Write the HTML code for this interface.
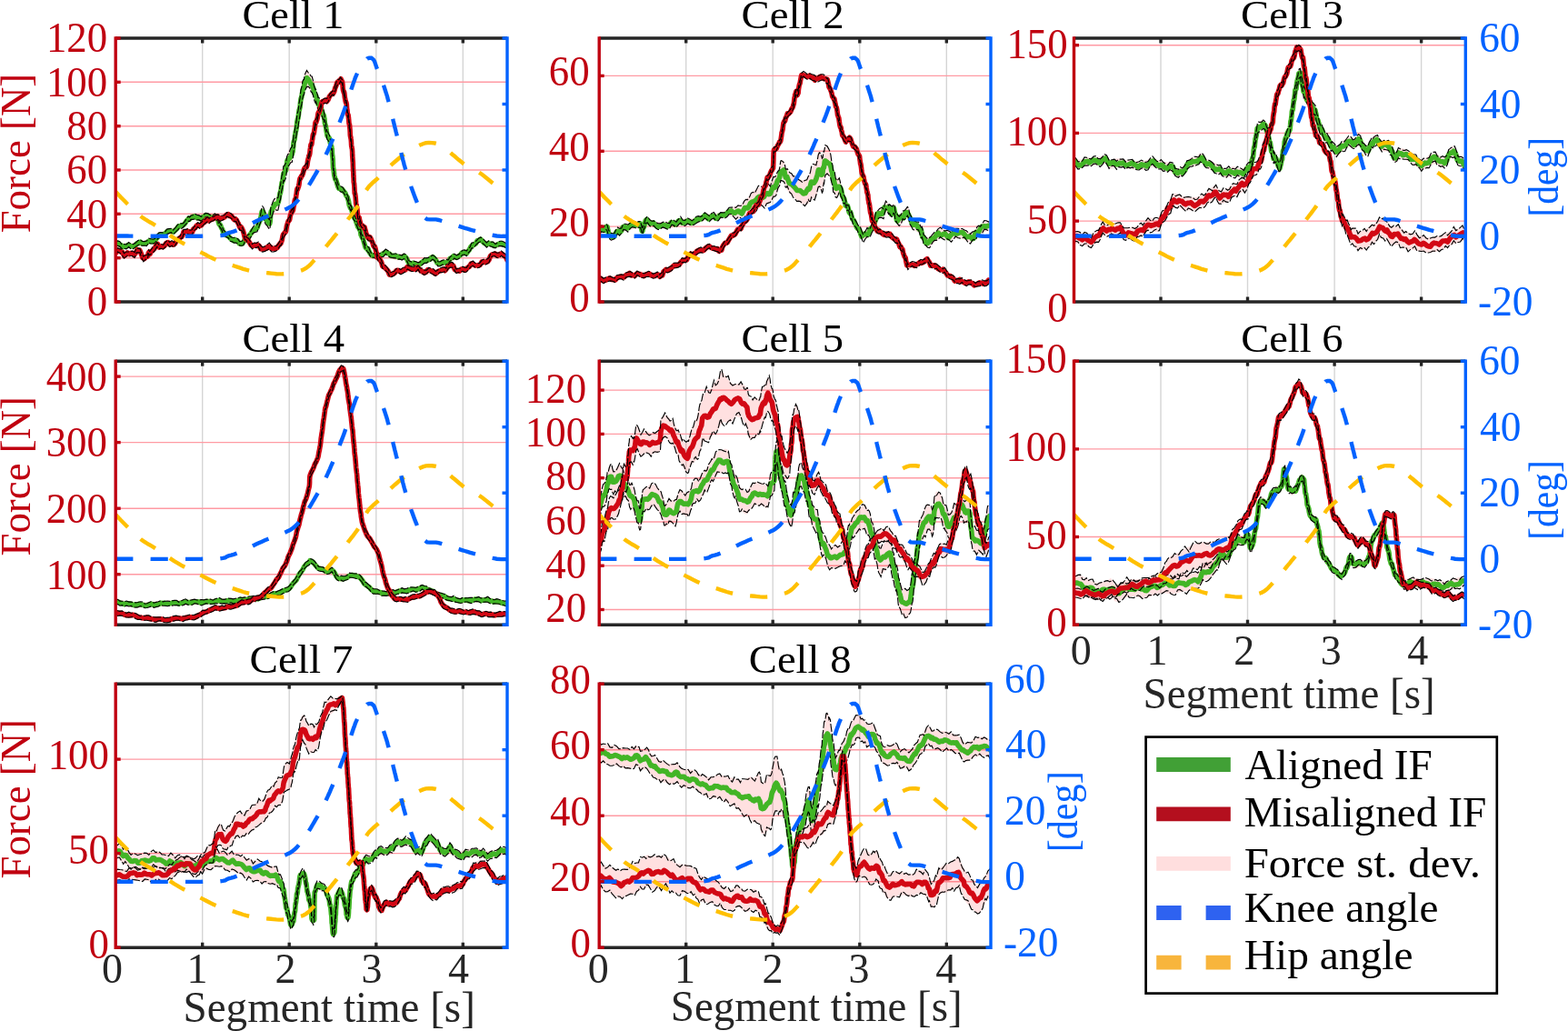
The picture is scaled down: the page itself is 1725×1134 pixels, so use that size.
<!DOCTYPE html>
<html><head><meta charset="utf-8"><title>Cells</title>
<style>html,body{margin:0;padding:0;background:#fff;}body{width:1725px;height:1134px;position:relative;overflow:hidden;}</style>
</head><body>
<svg width="1725" height="1134" viewBox="0 0 1725 1134" style="position:absolute;left:0;top:0">
<rect width="1725" height="1134" fill="#fff"/>
<defs>
<clipPath id="c1"><rect x="127.2" y="42.0" width="430.8" height="290.0"/></clipPath>
<clipPath id="c2"><rect x="659.2" y="42.0" width="430.8" height="290.0"/></clipPath>
<clipPath id="c3"><rect x="1181.5" y="42.0" width="430.8" height="290.0"/></clipPath>
<clipPath id="c4"><rect x="127.2" y="397.2" width="430.8" height="290.0"/></clipPath>
<clipPath id="c5"><rect x="659.2" y="397.2" width="430.8" height="290.0"/></clipPath>
<clipPath id="c6"><rect x="1181.5" y="397.2" width="430.8" height="290.0"/></clipPath>
<clipPath id="c7"><rect x="127.2" y="752.2" width="430.8" height="290.0"/></clipPath>
<clipPath id="c8"><rect x="659.2" y="752.2" width="430.8" height="290.0"/></clipPath>
</defs>
<g clip-path="url(#c1)">
<line x1="222.7" y1="42.0" x2="222.7" y2="332.0" stroke="#D5D5D5" stroke-width="1.4"/>
<line x1="318.2" y1="42.0" x2="318.2" y2="332.0" stroke="#D5D5D5" stroke-width="1.4"/>
<line x1="413.8" y1="42.0" x2="413.8" y2="332.0" stroke="#D5D5D5" stroke-width="1.4"/>
<line x1="509.3" y1="42.0" x2="509.3" y2="332.0" stroke="#D5D5D5" stroke-width="1.4"/>
<line x1="127.2" y1="283.7" x2="558.0" y2="283.7" stroke="#FF9AA3" stroke-width="1.4"/>
<line x1="127.2" y1="235.3" x2="558.0" y2="235.3" stroke="#FF9AA3" stroke-width="1.4"/>
<line x1="127.2" y1="187.0" x2="558.0" y2="187.0" stroke="#FF9AA3" stroke-width="1.4"/>
<line x1="127.2" y1="138.7" x2="558.0" y2="138.7" stroke="#FF9AA3" stroke-width="1.4"/>
<line x1="127.2" y1="90.3" x2="558.0" y2="90.3" stroke="#FF9AA3" stroke-width="1.4"/>
<path d="M127,265.1l3.8,1.3 3.9,.9 3.9,.3 4-.5 3.9-.7 4-.8 3.9-.7 3.9-.6 4-.7 3.8-1.2 3.5-1.9 3.4-2.2 3.3-2.2 3.5-1.8 3.8-1.5 3.7-1.4 3.7-1.5 3.6-1.8 3.5-2 3.4-2.1 3.2-2.3 2.7-3 2.3-3.3 3.3-.5 3.5,1.8 4-.3 3.9-.6 4-.5 4-.5 3.9,.1 3,2.3 1.2,3.7 1.2,3.8 1.8,3.6 2.3,3.3 2.6,3 3.1,2.5 3.4,2 3.3,2.3 3.2,2.5 3.6,.8 3.2-2.3 2.5-3.2 2.5-3.4 2.9-3.1 3.2-2.8 2.6-3.4 2-3.7 1.5-3.8 1-4 1-4 1.7-2.5 2,3.2 1.4,3.5 1.8,3.4 2.4-.2 .6-4 .4-4.1 .6-4 1.6-3.8 2.6-3.3 2.6-3.4 1.4-3.8 1-3.9 .9-4 .8-4 .7-3.9 .6-4 .6-4 .7-4 1.7-3.7 1.3-3.8 .7-4 .7-4 1.5-3.6 3.2-2.5 .9-3.9 .6-4 .5-4 .6-4 .7-4 .7-4 .6-4 .7-4 .6-3.9 .7-4 .6-4 .7-4 .6-4 .7-4 .6-4 .8-3.9 .7-4 .8-4 .8-3.9 1-4 1.4-3.8 3-1 2.2,3.7 1.8,3.9 1.7,3.9 1.4,4 1.2,4 1.2,4 1.3,4 1.6,4.1 2.1,4 1.5,4 1.1,4.2 .7,4.1 .6,4.1 .7,4.1 .7,4.2 1.1,4.1 1.5,4.1 1.4,4.1 1,4.2 .7,4.1 .6,4 .5,4 .3,4 .2,4 .2,4 .3,4 .6,4 .9,3.9 1.2,3.9 1.4,3.8 1.9,3.5 2.4,3.3 3.1,2.6 2.5,3 1.4,3.7 1.3,3.8 1.3,3.8 1.2,3.8 1.2,3.8 1.3,3.8 1.6,3.7 1.9,3.5 1.8,3.6 1.4,3.7 1.3,3.8 1.1,3.8 1.3,3.8 1.5,3.7 1.7,3.6 1.9,3.5 2.2,3.4 2.6,3.1 3.2,2.2 3.8-.5 3.2-2.4 3.7-1.2 3.9,.2 3.6,1.6 3.1,2.5 3.7,.8 3.8-1.2 3.6-.2 2.8,2.7 2.5,3.2 2.8,2.8 3.7,.7 3.8-.9 3.8-1.4 3.5-1.9 3.3-2.2 3.9-1.2 3.5,1.9 3,2.5 3.5,2 3.8-.9 3.4-2.1 3.4-2.1 3.8-1.4 3.8-1.3 3.6-1.6 3.5-2 3.4-2.1 3.1-2.4 2.9-2.8 2.7-3 3.2-2.4 3.6-1.4 3.7,1.1 3.4,2.1 3.8,1.1 3.9,.5 4,.1 4-.3 4-.6 3-.4 0,6.2 -3,.4 -4,.6 -4,.3 -4-.1 -3.9-.5 -3.8-1.1 -3.4-2.1 -3.7-1.1 -3.6,1.4 -3.2,2.4 -2.7,3 -2.9,2.8 -3.1,2.4 -3.4,2.1 -3.5,2 -3.6,1.6 -3.8,1.3 -3.8,1.4 -3.4,2.1 -3.4,2.1 -3.8,.9 -3.5-2 -3-2.5 -3.5-1.9 -3.9,1.2 -3.3,2.2 -3.5,1.9 -3.8,1.4 -3.8,.9 -3.7-.7 -2.8-2.8 -2.5-3.2 -2.8-2.7 -3.6,.2 -3.8,1.2 -3.7-.8 -3.1-2.5 -3.6-1.6 -3.9-.2 -3.7,1.2 -3.2,2.4 -3.8,.5 -3.2-2.2 -2.6-3.1 -2.2-3.4 -1.9-3.5 -1.7-3.6 -1.5-3.7 -1.3-3.8 -1.1-3.8 -1.3-3.8 -1.4-3.7 -1.8-3.6 -1.9-3.5 -1.6-3.7 -1.3-3.8 -1.2-3.8 -1.2-3.8 -1.3-3.8 -1.3-3.8 -1.4-3.7 -2.5-2.9 -3.1-2.3 -2.4-3.2 -1.9-3.4 -1.4-3.7 -1.2-3.8 -.9-3.9 -.6-3.9 -.3-4 -.2-4 -.2-4 -.3-3.9 -.5-4 -.6-3.8 -.7-3.8 -1-3.6 -1.4-3.4 -1.5-3.3 -1.1-3.5 -.7-3.8 -.7-3.7 -.6-3.8 -.7-3.8 -1.1-3.5 -1.5-3.3 -2.1-2.9 -1.6-3.2 -1.3-3.5 -1.2-3.7 -1.2-3.6 -1.4-3.5 -1.7-3.4 -1.8-3.2 -2.2-3 -3,1.2 -1.4,3.6 -1,3.8 -.8,3.9 -.8,3.9 -.7,3.9 -.8,3.9 -.6,3.9 -.7,3.9 -.6,3.9 -.7,3.9 -.6,3.9 -.7,3.9 -.6,3.9 -.7,3.9 -.6,3.9 -.7,3.9 -.7,3.9 -.6,3.9 -.5,4 -.6,3.9 -.9,3.8 -3.2,2.1 -1.5,3.5 -.7,3.9 -.7,3.9 -1.3,3.6 -1.7,3.5 -.7,3.9 -.6,3.9 -.6,3.9 -.7,3.9 -.8,3.9 -.9,3.9 -1,3.8 -1.4,3.6 -2.6,2.7 -2.6,2.6 -1.6,3.4 -.6,3.9 -.4,3.9 -.6,3.9 -2.4-.5 -1.8-3.8 -1.4-3.9 -2-3.7 -1.7,2 -1,3.8 -1,3.7 -1.5,3.5 -2,3.2 -2.6,2.7 -3.2,2.1 -2.9,2.3 -2.5,2.8 -2.5,3 -3.2,2.3 -3.6-.8 -3.2-2.5 -3.3-2.3 -3.4-2 -3.1-2.5 -2.6-3 -2.3-3.3 -1.8-3.6 -1.2-3.8 -1.2-3.7 -3-2.3 -3.9-.1 -4,.5 -4,.5 -3.9,.6 -4,.3 -3.5-1.8 -3.3,.5 -2.3,3.3 -2.7,3 -3.2,2.3 -3.4,2.1 -3.5,2 -3.6,1.8 -3.7,1.5 -3.7,1.4 -3.8,1.5 -3.5,1.8 -3.3,2.2 -3.4,2.2 -3.5,1.9 -3.8,1.2 -4,.7 -3.9,.6 -3.9,.7 -4,.8 -3.9,.7 -4,.5 -3.9-.3 -3.9-.9 -3.8-1.3Z" fill="#FF0000" fill-opacity="0.12" stroke="none"/>
<path d="M127,276.7l3.7-1.5 3.9-1 3.7,1.2 3.9,1.2 3.5-1.5 3.6-1.8 3.2,1.5 2.7,3 3.6,1.7 3.5-.9 1.9-3.5 1.7-3.6 3.8-1.1 3.9-1 3.7-1.4 3.7-1.5 3.8-1.3 3.8-1.2 3.9-1 3.7-1.5 2.6-3 2-3.4 3-2.3 3.8-1.3 3.7-1.5 3.3-2.3 3.3-2.2 3.6-1.7 3.6-1.9 3-2.6 3.2-2.3 3.9-.6 4,.2 4-.3 3.9-.6 3.9-1 3.9-.6 3,2.6 2.4,3.2 2.2,3.3 2,3.5 1.8,3.6 1.8,3.6 1.8,3.5 2.1,3.4 2.5,3.1 3.4,2 3.7,1.5 3.5,1.8 3.8,.4 4-.7 3.9-.4 4,0 4-.1 3.4-1.7 1.2-3.8 .9-3.9 1.4-3.7 1.5-3.6 1.5-3.6 1.4-3.7 1.3-3.7 1.3-3.7 1.2-3.8 1.3-3.8 1.2-3.8 1.1-3.8 1.1-3.9 .9-3.9 .7-3.9 .8-3.9 .9-3.9 1.1-3.9 1.1-3.8 1.4-3.8 1.8-3.5 1.9-3.6 1.6-3.6 1.2-3.8 1-3.9 .9-3.9 .9-3.9 .7-3.9 .8-4 .7-3.9 .8-3.9 .8-3.9 .9-3.9 .9-3.9 .9-3.9 .9-3.9 1.1-3.9 1-3.8 1.2-3.9 1.3-3.8 2.1-3.3 3.1-2.5 3-2.6 2.4-3.2 2.2-3.4 2.1-3.3 2-3.5 1.7-3.6 1.9-3.5 2.6,.9 1,3.9 .6,3.9 .7,4 .7,3.9 .8,3.9 .8,3.9 .8,4 .7,3.9 .6,4 .6,3.9 .5,4 .5,4 .5,3.9 .4,4 .5,4 .4,4 .4,3.9 .4,4 .4,4 .4,4 .3,4 .2,4 .2,4 .2,3.9 .1,4 .2,4 .3,4 .3,4 .3,4 .3,4 .4,4 .4,4 .5,3.9 .6,4 .5,3.9 .7,4 .7,3.9 .8,3.9 1,3.9 2,3.5 2.5,3 1.8,3.6 1.8,3.6 2,3.4 2.3,3.3 2,3.4 1.6,3.7 1.4,3.7 1.5,3.8 1.6,3.6 1.7,3.6 1.9,3.6 1.9,3.5 2.2,3.3 3,2.6 3.6,1.5 3.9-.6 3.6-1.6 4-.7 3.9-.4 3.9-.8 3.8-1.4 3.8-.3 3.6,1.7 3.6,1.8 3.9,.8 4,.4 4,0 3.9-.3 4-.8 3.5-1.8 3.4-2.1 3.8-1.4 3.7,1.4 3.2,2.3 3.7,1.4 3.8-1.4 3.3-2.1 3.6-1.7 4-.6 4-.3 3.8-1.1 3.6-1.7 3.3-2.3 3-2.7 3.1-2.4 3.7-1.5 3.9-.3 3.9,1.1 3.6,1.7 2.3,1.1 0,6.2 -2.3-1.1 -3.6-1.7 -3.9-1.1 -3.9,.3 -3.7,1.5 -3.1,2.4 -3,2.7 -3.3,2.3 -3.6,1.7 -3.8,1.1 -4,.3 -4,.6 -3.6,1.7 -3.3,2.1 -3.8,1.4 -3.7-1.4 -3.2-2.3 -3.7-1.4 -3.8,1.4 -3.4,2.1 -3.5,1.8 -4,.8 -3.9,.3 -4,0 -4-.4 -3.9-.8 -3.6-1.8 -3.6-1.7 -3.8,.3 -3.8,1.4 -3.9,.8 -3.9,.4 -4,.7 -3.6,1.6 -3.9,.6 -3.6-1.5 -3-2.6 -2.2-3.3 -1.9-3.5 -1.9-3.6 -1.7-3.6 -1.6-3.6 -1.5-3.8 -1.4-3.7 -1.6-3.7 -2-3.4 -2.3-3.3 -2-3.4 -1.8-3.6 -1.8-3.6 -2.5-3 -2-3.5 -1-3.9 -.8-3.9 -.7-3.9 -.7-4 -.5-3.9 -.6-4 -.5-3.9 -.4-4 -.4-4 -.3-4 -.3-4 -.3-4 -.3-4 -.2-4 -.1-4 -.2-3.9 -.2-4 -.2-4 -.3-4 -.4-4 -.4-4 -.4-4 -.4-3.9 -.4-4 -.5-4 -.4-4 -.5-3.9 -.5-4 -.5-4 -.6-3.9 -.6-4 -.7-3.9 -.8-4 -.8-3.9 -.8-3.9 -.7-3.9 -.7-4 -.6-3.9 -1-3.9 -2.6-.9 -1.9,3.5 -1.7,3.6 -2,3.5 -2.1,3.3 -2.2,3.4 -2.4,3.2 -3,2.6 -3.1,2.5 -2.1,3.3 -1.3,3.8 -1.2,3.9 -1,3.8 -1.1,3.9 -.9,3.9 -.9,3.9 -.9,3.9 -.9,3.9 -.8,3.9 -.8,3.9 -.7,3.9 -.8,4 -.7,3.9 -.9,3.9 -.9,3.9 -1,3.9 -1.2,3.8 -1.6,3.6 -1.9,3.6 -1.8,3.5 -1.4,3.8 -1.1,3.8 -1.1,3.9 -.9,3.9 -.8,3.9 -.7,3.9 -.9,3.9 -1.1,3.9 -1.1,3.8 -1.2,3.8 -1.3,3.8 -1.2,3.9 -1.3,3.8 -1.3,3.9 -1.4,3.8 -1.5,3.8 -1.5,3.8 -1.4,3.8 -.9,3.9 -1.2,3.8 -3.4,1.7 -4,.1 -4,0 -3.9,.4 -4,.6 -3.8-.8 -3.5-2.1 -3.7-1.7 -3.4-2 -2.5-3.1 -2.1-3.4 -1.8-3.5 -1.8-3.6 -1.8-3.6 -2-3.5 -2.2-3.3 -2.4-3.2 -3-2.6 -3.9,.6 -3.9,1 -3.9,.6 -4,.3 -4-.2 -3.9,.6 -3.2,2.3 -3,2.6 -3.6,1.9 -3.6,1.7 -3.3,2.2 -3.3,2.3 -3.7,1.5 -3.8,1.3 -3,2.3 -2,3.4 -2.6,3 -3.7,1.5 -3.9,1 -3.8,1.2 -3.8,1.3 -3.7,1.5 -3.7,1.4 -3.9,1 -3.8,1.1 -1.7,3.6 -1.9,3.5 -3.5,.9 -3.6-1.7 -2.7-3 -3.2-1.5 -3.6,1.8 -3.5,1.5 -3.9-1.2 -3.7-1.2 -3.9,1 -3.7,1.5Z" fill="#FF0000" fill-opacity="0.12" stroke="none"/>
<path d="M127,267.6l1.9-.8 1.9,1.9 1.9,.6 2,2.6 1.9-1.2 2,.3 2-1.5 2,.6 2,.9 1.9-.2 2-.2 2-2.9 1.9-.3 2-1.2 2,1.7 1.9-.1 2-.3 2-1.1 1.9-1.6 1.9,.8 1.8-.5 1.7,.7 1.7-2.4 1.7-1.9 1.6-2.4 1.7-1.1 1.8,.4 1.7-.8 1.9-.4 1.9-2.4 1.8-.6 1.9-.4 1.9,.8 1.8,.3 1.8-1.7 1.8-1.6 1.7-2.7 1.8-.2 1.7-.7 1.7-.2 1.6-1.5 1.6-2.6 1.3-1.5 1.4-1.7 1.1,.7 1.2-1.5 1.4-.8 1.9-.8 1.7,0 1.8,1.3 2,0 2,1.4 1.9-1.9 2-.4 2-1.9 2,.8 2,1 2,.7 2,.4 1.9-1.8 1.9,1 1.1,.4 .8,3.9 .4,1.7 .6,1.9 .6,.6 .8,.4 1,2.9 1.1,1.7 1.2,4.2 1.3,.3 1.3,1.8 1.5-.4 1.6,1.8 1.7,2.1 1.7,1.2 1.7,1.5 1.6-1.3 1.6,1.4 1.6,.1 1.8,3 1.8,.5 1.8-.7 1.4-1.8 1.3-3 1.2-.4 1.3-1.6 1.2,.4 1.3-2.7 1.6-1.9 1.6-2.7 1.6-1.6 1.3,0 1.3-1.2 1.1-.6 .9-3.4 .9-1.8 .6-2.2 .6-.5 .4-.8 .5-2.5 .5-2.6 .7-3.9 1-.4 1.1,2.3 .9,2.4 .7,3.1 .7,.6 .9,1.5 .9,1.1 1.5,2.2 .9,.3 .4-1.8 .2-1.5 .2-3.8 .2-2.8 .3-2.1 .3-1.4 .5-.6 1.1-2.8 1.1-1.6 1.5-3 1.4-.2 1.2-.7 .8-.6 .6-1.7 .6-3.7 .4-2 .5-3.3 .4,.1 .4-2.4 .4-1.4 .3-3.6 .4-2.7 .3-1.2 .3-1.5 .3,.4 .3-3.2 .3-1.6 .4-4.2 .8-.9 .9-1.5 .9-1.1 .4-1.8 .4-4.2 .3-1.7 .4-3.1 .3,.7 .5-1.9 1-.7 1.7-2 1.5-2.5 .5-1.1 .4-2.2 .3,0 .3-3.5 .3-2.2 .2-3.9 .3-1.6 .3-.9 .4-1.1 .3-1 .3-3.6 .4-1.8 .3-2.8 .3-.3 .3-1.6 .4-2 .3-3.1 .3-3.8 .4-1.4 .3-1.8 .3,0 .3-2.4 .4-2.3 .3-2.9 .3-1.9 .3-.5 .3-1.6 .4-1.4 .3-3.9 .3-2.8 .4-2.5 .4-1.1 .3-.6 .4-2.4 .4-2 .4-3.6 .4-.9 .4-1.3 .5-.6 .5-1.9 .6-3.5 .8-2.4 1.3-2.6 1.7,1.7 1.2,2 1,2.2 .9,1.2 .9,.3 .8,2.7 .9,1.8 .7,4.5 .7,1.1 .6,2 .6,0 .6,1.5 .6,2.7 .6,2.1 .7,3.1 .7-.3 .9,2.1 1,.4 1.1,3.8 .8,2.6 .7,2.5 .6,1.6 .5-.1 .4,2.6 .3,1.2 .3,4.2 .3,.9 .4,1.9 .3,.3 .3,1.8 .4,3.4 .5,2.6 .6,3.6 .6,0 .9,2 .7,.4 .7,3.3 .5,2.4 .5,2 .3,1.4 .4-.1 .3,2.5 .3,1.9 .2,4.3 .3,1.9 .2,1.9 .1,.9 .1,1.5 .1,3.3 .1,2.2 .1,2.9 .1,.2 .2,1.2 .3,1.1 .3,2.8 .4,3.5 .5,2 .5,2.1 .7,.3 .7,2.3 .7,2.3 .9,3.1 1,2 1.1,.3 1.3,.7 1.3,0 1.8,2.4 1.5,1.7 1,2.8 .8,1.1 .6,.8 .7,2.3 .6,2 .7,4.2 .6,1.2 .6,2 .6-.3 .6,1.5 .6,2.4 .7,2.5 .6,3.2 .8,.2 .8,2.1 .9,.3 1,3.9 .9,2.3 .9,2.7 .7,1.2 .7-.1 .6,2.2 .7,1 .5,4.3 .6,.9 .7,2.3 .6,.1 .7,1.9 .8,3 .8,2.7 .9,3.4 .9-.1 1,1.9 1.1-.3 1.1,3.1 1.2,1.9 1.4,1.9 1.5,.7 1.7-.9 2,.8 1.8-1 1.6,1.4 1.6-1.3 1.7-.7 2-1.6 2-1 1.9,1.3 1.9,.6 1.7,2.4 1.6-.4 1.5,.6 1.8-.2 1.9,.5 1.9,1.1 1.9-.2 1.8,0 1.8-1.2 1.5,1 1.3,1.5 1.3,2.6 1.2,2.5 1.1,.5 1.7,.4 1.7-.8 2,.7 1.9,.4 1.9,.7 1.9-.4 1.9-2 1.8-1 1.7-1.4 1.7,.7 1.6-1 1.9-.7 2-2 1.8-.7 1.7,1.8 1.5,1.5 1.5,3.3 1.6,.2 1.9,.8 1.9-1.5 1.9-.1 1.7,.4 1.7-.8 1.7-.3 1.7-3.6 1.9-.7 1.9-2 1.9,1.2 1.9-.2 1.8-.8 1.8-1.2 1.8-2.5 1.7,.5 1.7-1.1 1.7,1.3 1.6-2.5 1.5-1.6 1.5-3.1 1.4-1.6 1.3-.2 1.4-1.5 1.5-.3 1.7-3.4 1.7-.4 1.9-1.2 1.9,2.1 1.8,2 1.7,.8 1.7,.8 1.8-1.5 2,1.3 1.9-.2 2,2.1 2-.9 2-.6 2-1.1 2-.3 2,1.7 2,.2 2,.9 1-.9" fill="none" stroke="#42B526" stroke-width="5.6" stroke-linejoin="round"/>
<path d="M127,265.1l2.4,0 2.3,.4 2.5,3.6 2.4-.4 2.5,.3 2.5-2.4 2.5,1.6 2.4,.4 2.5-1.3 2.4-2.5 2.5-1.5 2.5,2.2 2.4,.1 2.5-.6 2.4-2.8 2.4,.5 2.2,.5 2.2-.6 2-3.8 2.1-2.7 2.1-.6 2.2,.4 2.3-.3 2.4-3.5 2.3-.5 2.4-.2 2.2,1.5 2.3-2.3 2.2-3 2.2-1.7 2.2,0 2.1-.2 2-2.4 1.9-3 1.7-2.4 1.4,1.1 1.5-1.7 2-.5 2.3-1.6 2.2,1.1 2.5,.6 2.5,1.4 2.4-2.2 2.5-1.7 2.5,.5 2.5,1.5 2.5,1.1 2.4-2.6 2.2,1.2 1.3,1.2 .6,4.8 .7,1.7 .8,1.5 1.1,1.6 1.3,2.2 1.5,4.2 1.6,.9 1.7,2.4 2-.2 2.1,3.9 2.2,.9 2,.3 2,0 2,1 2.2,3.2 2.3-.4 1.9-1.3 1.7-4.1 1.5-.3 1.6-1.2 1.6-1 1.9-3.5 2-3.8 1.9-2.4 1.6-.7 1.4-.1 1.2-4.1 .9-2.6 .7-2.6 .6-.5 .6-3.2 .6-3.7 1.2-3.4 1.4,2.1 1,3.3 .9,2.9 1.1,2 1.1,2.1 2,2.4 .6-1.8 .3-2.2 .3-5.1 .3-2.9 .3-2.7 .6-.6 1.2-3.5 1.5-3.3 1.9-2.1 1.5,.5 1.1-.6 .8-4 .6-3.4 .6-4.6 .5-.8 .5-3.4 .4-2.7 .5-4 .4-1.8 .4-.2 .3-2.6 .4-2.3 .5-4.8 1-.1 1.1-2.4 .8-1.1 .5-4.1 .4-2.9 .4-.7 .6-1.5 1.1-1 2.1-5.9 1.4-1.3 .5-2.8 .4-.2 .4-4.1 .3-3.2 .4-3 .3-1.1 .5-.8 .4-3.8 .4-2.7 .4-3.3 .4,0 .4-2.8 .4-3.2 .4-4.5 .4-2 .4-.9 .5-2.1 .4-3 .3-4 .4-1.4 .4-2.4 .5-2.5 .4-5.3 .4-3.1 .5-2.2 .4-1.1 .5-2.7 .5-3.5 .5-1.4 .5-.9 .6-.2 .6-4.1 1-2.9 1.5-3.1 2,3.1 1.4,1.1 1.2,2.1 1.1,.3 1.1,4 .9,5.2 .9,3 .8,2.5 .7-.4 .8,3.2 .7,2 .9,3.9 1,.1 1.1,1.6 1.3,3 1.1,3.9 .9,4.7 .7,.5 .5,3.2 .4,2.1 .4,4.9 .4,1.2 .4,1.5 .4,2 .5,3.4 .7,4.5 .8,1.2 1,2.3 .9,1.2 .8,4.8 .6,2.2 .4,1.7 .5,.9 .3,2.7 .4,4.8 .3,2.7 .2,2.6 .2,.8 .1,4 .1,3 .1,2.9 .2,.4 .3,1.8 .4,3.4 .5,4 .7,3 .7,.7 .9,2.2 .9,2.5 1.2,3.6 1.4,.6 1.5,.9 1.8,1 2.1,3.7 1.5,2.5 1,1.5 .8,1.4 .8,1.9 .8,4.9 .8,2.2 .8,2.3 .7-.1 .8,3.6 .8,3 .8,2.9 1,1.7 1.1,1.1 1.2,3.9 1.1,2.1 1.1,3.1 .9-.6 .7,2.8 .8,2.4 .7,4 .8,2.1 .8,.5 .9,3.2 1,2.8 1.1,4.9 1.1,.1 1.3,1.4 1.4,.8 1.4,4.1 1.7,2.9 1.9-.2 2.3,.1 2.4-1.2 2,1.2 2-1 2.3-.9 2.5-2.9 2.4,1.4 2.3,1.7 2.1,2.5 1.9-.2 2.2-.7 2.3,1.1 2.4,.3 2.4,.8 2.2-2 1.9,1 1.5,2.2 1.6,4.2 1.4,.9 2.1,.8 2.3-.9 2.4,.5 2.4,1.2 2.4-.9 2.3-1.9 2.2-2.6 2.1,.3 2.1-.4 2.4-.6 2.3-2.4 2.2,1.5 1.9,1.8 1.9,4.1 2.2,.2 2.4-1.6 2.3-.6 2.2-.6 2.1,.9 2.1-3.5 2.4-1.7 2.3-1.8 2.4,1.7 2.3-.9 2.3-2.1 2.1-2.6 2.2-.3 2.1,1.1 2-2.4 1.9-1.9 1.8-4.6 1.6-.1 1.8-1.1 1.9-1.1 2.2-2.6 2.3-1.3 2.4,1.5 2.1,2.3 2.1,2.2 2.3-2 2.4,1.2 2.5-.1 2.5,2.6 2.5-1.7 2.5-1.6 2.5,0 2.5,1.2 2.5,1.7 1-.7" fill="none" stroke="#000" stroke-width="1.15" stroke-dasharray="9 2"/>
<path d="M127,269.7l2.4,.5 2.3,.9 2.5,2.4 2.4-.1 2.5,.4 2.5-2.3 2.5,2.4 2.4-.3 2.5-2 2.4-1.7 2.5-1 2.5,1.3 2.4-.2 2.5,.6 2.4-3.6 2.4,1 2.2-.1 2.2-.6 2-3.7 2.1-1.8 2.1-.6 2.2-1.1 2.3,.1 2.4-2.6 2.3-1 2.4-.9 2.2,2.2 2.3-2.2 2.2-2.4 2.2-2.2 2.2,.5 2.1-1.6 2-2.3 1.9-2.1 1.7-2.4 1.4,.3 1.5-2.1 2,0 2.3-.4 2.2,.9 2.5,0 2.5,1.3 2.4-2.2 2.5-2.3 2.5,1.7 2.5,.3 2.5,1.4 2.4-1.2 2.2,1.2 1.3,.3 .6,4.4 .7,1.6 .8,1.5 1.1,1.5 1.3,2.5 1.5,4.8 1.6,.6 1.7,1.6 2,.6 2.1,3.7 2.2,.6 2,1.3 2-.1 2,.8 2.2,2.1 2.3,.3 1.9-.4 1.7-4.4 1.5-.6 1.6-1.7 1.6,.3 1.9-2.7 2-4 1.9-1.1 1.6-.4 1.4-.5 1.2-3.6 .9-2.2 .7-2.7 .6-.6 .6-3.2 .6-3.4 1.2-1.9 1.4,3.8 1,3.1 .9,2.4 1.1,1.1 1.1,1.4 2,3.3 .6-1 .3-1.8 .3-4.8 .3-2.4 .3-2.4 .6-.3 1.2-3.6 1.5-4.5 1.9-.6 1.5,.5 1.1-.3 .8-3.6 .6-2.9 .6-4 .5-.4 .5-3.3 .4-2.9 .5-4.2 .4-1.9 .4-.2 .3-2.5 .4-2.2 .5-4.5 1,.7 1.1-1.8 .8-2.4 .5-5.4 .4-3.6 .4-1.3 .6-1.8 1.1-.6 2.1-3.4 1.4-.2 .5-2.6 .4-.3 .4-4.4 .3-3.6 .4-3.5 .3-1.4 .5-1.1 .4-3.9 .4-2.9 .4-3.4 .4-.1 .4-2.6 .4-2.8 .4-3.8 .4-1.3 .4-.3 .5-1.7 .4-2.8 .3-3.8 .4-1.1 .4-2.2 .5-2.4 .4-5.1 .4-3 .5-2 .4-1 .5-2.8 .5-3.9 .5-2.4 .5-1.7 .6-.5 .6-3.6 1-2 1.5-3.2 2-.1 1.4,1.8 1.2,3.7 1.1,.9 1.1,2.5 .9,4.2 .9,2.8 .8,1.7 .7-1.1 .8,3.1 .7,2.3 .9,4.5 1,.9 1.1,1.4 1.3,1.9 1.1,2.3 .9,3.1 .7-.1 .5,2.9 .4,1.7 .4,4.5 .4,1 .4,1.3 .4,2.1 .5,3.6 .7,4.8 .8,.9 1,1.5 .9-.1 .8,4.2 .6,2.2 .4,1.9 .5,1 .3,2.7 .4,4.8 .3,2.8 .2,2.5 .2,.7 .1,4 .1,2.9 .1,2.9 .2,.4 .3,1.7 .4,3.2 .5,3.7 .7,2.6 .7,.6 .9,2.5 .9,2.7 1.2,3.7 1.4,.8 1.5,1.4 1.8-.5 2.1,2.9 1.5,3.1 1,2 .8,1.8 .8,2.2 .8,4.7 .8,1.9 .8,1.9 .7-.5 .8,3.3 .8,3.3 .8,3.5 1,1.7 1.1,.7 1.2,3.7 1.1,2.4 1.1,3.4 .9-.6 .7,2.7 .8,2.5 .7,3.9 .8,2.2 .8,.5 .9,3 1,2.2 1.1,4.8 1.1,.8 1.3,2.4 1.4,.8 1.4,3.5 1.7,1.8 1.9-.2 2.3,1.1 2.4-1.7 2,1.5 2-1.4 2.3-.2 2.5-3.2 2.4,2 2.3,1.6 2.1,.7 1.9,.1 2.2,.3 2.3,1.3 2.4-.3 2.4,1.2 2.2-1.5 1.9,1.3 1.5,1.3 1.6,4 1.4,1.5 2.1-.3 2.3-1.1 2.4,1.8 2.4,1.1 2.4-1.8 2.3-1.2 2.2-1.8 2.1,0 2.1-1.7 2.4-.3 2.3-2.1 2.2,1.2 1.9,2.9 1.9,3.4 2.2-.1 2.4-1.7 2.3,.6 2.2-.8 2.1-.4 2.1-3.5 2.4-.4 2.3-2.4 2.4,1.5 2.3-.8 2.3-2.3 2.1-2.3 2.2-.2 2.1,1.6 2-3.6 1.9-1.7 1.8-3.5 1.6,.1 1.8-1.8 1.9-2.4 2.2-2 2.3-.9 2.4,1.8 2.1,2.1 2.1,2.5 2.3-2.1 2.4,.9 2.5,.9 2.5,1 2.5-2.1 2.5-.3 2.5,.1 2.5,1 2.5,1.7 1-.4" fill="none" stroke="#000" stroke-width="1.15" stroke-dasharray="9 2"/>
<path d="M127,279.2l1.8-4 1.9,.3 1.9,1.1 2,.8 1.9,4 1.8-1 1.9-2.5 2,1.8 1.8-1.3 1.7,.8 1.8,1.5 1.8-2.6 1.7-3.5 1.5,1.5 1.4-.6 1.3,3.3 1.7,4.8 1.9,1 1.9-2 1.6-.5 1-3.6 .9-1.5 .8,2.6 .9-2.3 1.9-1.8 1.9-1.9 2-3.5 1.9-1.6 1.9,3.6 1.8-1 1.9,.5 1.8-1.2 1.9-3.1 1.9-.7 1.9,2.4 1.9-.7 2,.8 1.9-1.2 1.9-3.8 1.8-1.2 1.4-.6 1.2-1.4 .9-.3 1.1-1.3 1.2-4.2 1.8-.2 1.9-.6 1.9,.4 1.9,1.5 1.8-.5 1.6-3.8 1.7-1.2 1.6-2.5 1.7-.9 1.8,1.2 1.8-.7 1.8-2.6 1.8-.8 1.5-2.5 1.5-.9 1.6,1.8 1.6-.9 1.9-.8 2-.6 2-1.8 2-.6 2,2.4 2-.8 1.9,.1 2-1.1 2-2.4 1.9-.8 1.9,2.1 2,0 1.7,2.8 1.3,1.3 1.2-.8 1.2,1.3 1.1,2.5 1.1,1.6 1,3.1 1,1.5 .9-1.1 .9,1.8 .9,1.8 .9,2.7 .9,4 .9,2.5 1-.5 1.1,2.1 1.2,.5 1.3,2 1.7,3 1.7,1 1.9-1.2 1.8,.5 1.8-.9 1.7,1.3 1.9,3.4 1.9,.3 2-.4 2-.5 1.9-2 2-.1 2,2.6 2-.4 2,.4 2-1.1 1.9-2.9 1.5-2 .7,.3 .5-2 .4-.4 .5-1.9 .7-4 .7-2 .7-.4 .8-1.6 .8-.2 .7-1.8 .7-4.9 .7-2.3 .7-2.2 .6-1.6 .7,0 .6-1.3 .6-4.2 .6-1.4 .6-2.7 .7-1 .6,.4 .6-1.3 .6-3.8 .5-2.1 .6-4 .5-2 .5,.3 .4-1.9 .3-2.6 .4-2.1 .4-3.7 .4-1.8 .4,.9 .5-1.7 .5-1.2 .6-2.5 .5-4.2 .6-2.7 .7,0 .7-2.4 .9-.5 .9-2.5 1-4 .9-2 .8-.2 .8-1.5 .6,.5 .6-2 .5-4.2 .5-2.2 .5-2 .4-1.9 .4-.1 .5-2.2 .4-4.5 .3-1.8 .4-3.1 .4-1 .4,.6 .3-1.3 .4-3.4 .4-1.6 .4-3.9 .4-1.4 .4,.1 .5-2 .4-3.1 .5-2.4 .4-4.4 .5-1.6 .5,.5 .4-1.7 .5-1.1 .6-2.2 .5-3.9 .5-1.9 .6,.1 .6-2.2 .6-.6 .7-3.1 .9-4.2 1.2-2.2 1.5,0 1.6-1.4 1.6,1.3 1.4-1.7 1.3-3.4 1.1-1.6 1.1-1.2 1.1-1.3 1,.6 1.1-2.1 1-4.1 1-2.1 .9-3.1 .8-1.3 .9,.4 1-1.5 1.7-2.3 .9,2.3 .5,.3 .5,2.8 .3,4.4 .3,2.5 .4,1 .3,1.8 .4-.7 .3,1.8 .4,3.9 .4,1.9 .4,2.4 .4,1.7 .4-.2 .4,2.1 .3,4.3 .4,2.1 .3,3.8 .3,1.3 .3-.4 .3,1.2 .3,3.1 .2,1.5 .3,4 .2,1.2 .3-.1 .2,1.8 .2,2.6 .2,2.4 .2,4.9 .3,2 .2,.1 .2,1.8 .2,.9 .2,2.2 .2,4 .2,1.9 .2,.1 .2,2 .2,.1 .2,3 .1,4.4 .2,2.7 .1,1.5 .1,2.2 .1-.5 .1,2.6 .1,3.7 .1,2 0,1.9 .1,1.4 .1-.8 .1,2.2 .1,3.8 .2,2.3 .1,3.8 .2,1.6 .1,0 .2,2 .2,3.2 .1,1.8 .2,4.1 .2,.7 .2-.3 .2,1.3 .3,2.3 .2,2.1 .3,4.9 .3,1.5 .2,.6 .3,2.1 .4,1.4 .3,2.6 .3,4.5 .4,1.6 .4,.3 .4,1.5 .5-.3 .5,2.7 1,3.7 1,2 1.5,.8 1,2 .9-.6 .9,3.1 .9,3.8 .9,2.2 .9,1.9 1.1,1.1 1.1-1.4 1.2,1.9 1.1,2.8 .9,1.8 .8,3.1 .8,1.2 .7-.3 .7,2.3 .7,3.3 .8,2.2 .7,4.4 .9,.7 .8-.2 .9,1.2 .9,1.8 1,1.6 1,4.3 .9,.5 1.1,.3 1.1,1.4 1.3,1.1 1.7,1.9 1.7,4.2 1.9,0 2-.9 1.9-.9 1.8-2.8 1.8-.2 2,1.5 2-.5 2-1.1 1.9-.4 2-2.9 1.9,.7 1.9,1.2 1.9,.2 1.9-.1 1.9,.3 1.8-2 1.8,1.4 1.8,2.1 1.8,.9 1.9,1.3 2-.4 2-2.6 2,.1 2,1.2 2,.3 2,2.5 1.9-.7 2-2 2-.7 1.8-.4 1.7-1 1.7,1.5 1.7-2.2 1.9-2.6 1.9-1.4 1.8-.1 1.9,.9 1.6,4.1 1.6,1.1 1.9,0 1.8,.7 1.9-2.1 1.9-.1 1.7,1.2 1.6-.9 1.8-1.9 1.8-1.1 2-3.3 2,.2 2,1.5 2,.3 1.9-.1 1.9-.4 1.9-3.4 1.7,0 1.7,.4 1.6-.6 1.5-.2 1.5-1.9 1.5-4.3 1.6-1.4 1.8-.3 1.9-.7 1.9,1.9 2-.5 2-1.5 1.9,.5 1.8,1.6 1.8,1.1 1.8,4 .5,.5" fill="none" stroke="#D20814" stroke-width="5.6" stroke-linejoin="round"/>
<path d="M127,276.3l2.3-3.5 2.4,.8 2.4,.7 2.4,4.3 2.3-1.6 2.4,0 2.3-.2 2.2-.9 2.3,1.8 2.2-4.8 1.9,.5 1.8-.3 1.6,4.8 2.3,4 2.4-1.4 2.1-.2 1.2-5.3 1.1,1.6 1-1.2 2.2-3.2 2.4-2.1 2.5-3.7 2.3,2.9 2.3-.8 2.3,.8 2.4-3.1 2.4-2 2.3,2.1 2.4-1.5 2.4,1.8 2.4-3.7 2.3-2.2 1.7-.9 1.3-2.3 1.3-.3 1.5-4.8 2.3,0 2.4-.7 2.4,1.4 2.2-.3 2.1-3.6 2-1.3 2.1-3.1 2.2,1 2.3-1.8 2.2-1.9 2-1.5 1.9-2 2,1.6 2.1-1.7 2.5,0 2.5-1.7 2.5-.9 2.5,1.4 2.5-.1 2.4-.7 2.4-2.8 2.5,.3 2.4,.9 2.2,3.1 1.6,1.2 1.5,0 1.4,1.8 1.4,2.4 1.3,3.8 1.2,.2 1.1,1.2 1.1,2.9 1.1,3.3 1.1,5.2 1.3,.3 1.3,1.3 1.5,.6 1.9,3 2.1,3.3 2.3-1.4 2.3,.3 2.1-1.4 2.3,3.9 2.4,2 2.5-.8 2.5-2 2.4-2.1 2.5,3.7 2.5-.2 2.5,.2 2.5-2.9 1.9-3.3 .8,.3 .6-2.1 .6-.4 .8-4.8 .9-2.8 .9-.9 1-1.3 .9-1.8 .9-6.1 .9-2.5 .8-2.3 .8-.4 .8-1.7 .7-4.1 .8-1.9 .8-1.7 .7,.5 .8-3.1 .7-3.8 .7-4 .6-2.5 .6-.7 .5-3.2 .4-3 .4-4.6 .6-.5 .6-.7 .6-1.5 .7-3.2 .7-5.4 .8-.8 .9-1.9 1.1-.8 1.2-4.6 1.2-3.8 1-.8 .9-2 .8,.4 .7-4.7 .6-2.8 .6-2.4 .5-1.9 .6-.6 .5-5.5 .4-2.3 .5-3 .5,.2 .4-.7 .5-4.3 .5-2.7 .5-4.1 .5,0 .6-2.6 .5-3.6 .6-4.2 .6-3.6 .6-.1 .6-2 .6-1.7 .7-4.2 .7-2.1 .7-1.1 .7-1.5 .9-2.6 1.1-5 1.8-2 1.9-.9 2,.3 1.8-1.6 1.4-3.4 1.4-1.3 1.4-1.9 1.3,0 1.3-4.1 1.2-4 1.2-3.6 1-1.2 1.2,.6 1.8-2.8 1.3,2.1 .7,.5 .4,3.8 .5,4.7 .4,1.8 .4,2.1 .4-.9 .5,4.2 .5,2.9 .5,2.7 .5,1.7 .5,.1 .4,5.4 .4,3.1 .5,4.6 .3,.6 .4,.5 .3,3.6 .4,2.2 .3,4.3 .3-.3 .2,2 .3,3.3 .3,4.2 .3,4.7 .2,.2 .3,2.1 .3,1.5 .2,4.2 .3,2.7 .2,.5 .3,1.4 .2,1.9 .2,5.4 .2,3 .1,2.4 .1,.5 .1,2.5 .1,4.2 .1,2.4 .1,2.1 .1-.6 .2,3.5 .1,3.5 .2,4.3 .2,2.4 .2,.1 .2,3.8 .2,2.4 .3,4.8 .2,.4 .3,.3 .3,2.5 .3,2.6 .3,5.7 .4,.6 .3,2.5 .4,2.1 .5,4 .4,5.1 .5,0 .5,1.8 .6,.1 1,4.7 1.3,3.5 1.8,.3 1.2,2 1.1,.3 1.1,4.9 1.1,3.5 1.2,2.3 1.4,.1 1.5,.4 1.3,3.2 1.1,2.4 1,3.4 .9-.1 .9,2.2 .9,4 .9,4.7 1.1,3 1-.4 1.2,1.9 1.2,1.6 1.2,3.7 1.2,1.5 1.3,.4 1.6,1.5 2,2.4 2.2,4.7 2.4-.9 2.4-.7 2.3-2.8 2.3-.5 2.5,1.6 2.5-2.4 2.4-.2 2.5-2.3 2.4,1.1 2.3,.3 2.4,.1 2.3,.9 2.3-2.1 2.2,2.8 2.3,.3 2.4,2 2.5,0 2.5-2.8 2.5,1.2 2.5,.2 2.4,2.8 2.5-1.8 2.5-1.8 2.2-.9 2.2-.2 2.1,1.3 2.3-4.2 2.3-2 2.4-.4 2.1,3.1 2,4.4 2.3-.8 2.4-.2 2.4-1.8 2.1,.9 2.1,.2 2.2-3 2.4-2.8 2.5-1.5 2.5,2.4 2.5,.3 2.3-.3 2.4-3.1 2.1-1.1 2.1,.7 1.9-1.2 1.9-1.2 1.9-5.2 2-.8 2.4-.6 2.4,1.3 2.5-.3 2.4-1.8 2.3,2.1 2.3,1.4 2.2,3.8 .1,.1" fill="none" stroke="#000" stroke-width="1.15" stroke-dasharray="9 2"/>
<path d="M127,281.1l2.3-4 2.4,1.2 2.4,2 2.4,3.8 2.3-2 2.4-1.4 2.3,.5 2.2,.3 2.3,2 2.2-5.7 1.9,.1 1.8,0 1.6,5.1 2.3,4.7 2.4-2.3 2.1-1.1 1.2-5 1.1,1.3 1-.8 2.2-1.5 2.4-2.5 2.5-4.4 2.3,2.2 2.3-.3 2.3,.8 2.4-2.5 2.4-2.8 2.3,2.7 2.4-1.2 2.4,1.9 2.4-4.5 2.3-2.1 1.7-1.6 1.3-1.9 1.3,.1 1.5-4.9 2.3,.4 2.4-.4 2.4,1.1 2.2-.5 2.1-4.5 2-1 2.1-2.8 2.2,1.7 2.3-2.1 2.2-2.1 2-1.8 1.9-1.3 2,1.8 2.1-2.2 2.5-.9 2.5-1.9 2.5,.8 2.5,1.8 2.5-1.1 2.4-1.5 2.4-2.6 2.5,.9 2.4,1.1 2.2,2.3 1.6,1.4 1.5-.4 1.4,3 1.4,2.9 1.3,3.9 1.2-.2 1.1,.7 1.1,2.4 1.1,2.9 1.1,4.5 1.3,.4 1.3,2.4 1.5,.8 1.9,3.8 2.1,2.9 2.3-1.9 2.3,.6 2.1-1.3 2.3,5 2.4,.8 2.5-.7 2.5-1.4 2.4-1.2 2.5,3.2 2.5-.1 2.5-.8 2.5-2.9 1.9-3.1 .8,.4 .6-2.1 .6-.3 .8-4.7 .9-2.6 .9-1 1-1.6 .9-1.1 .9-6 .9-3.3 .8-2.8 .8-.4 .8-1.6 .7-4.2 .8-2.3 .8-2.1 .7,.5 .8-2.7 .7-3.7 .7-4.1 .6-2.4 .6-.6 .5-3.1 .4-3 .4-4.7 .6-.7 .6-.8 .6-1.6 .7-3 .7-5.1 .8-1 .9-2.4 1.1-.4 1.2-3.5 1.2-4 1-.9 .9-1.8 .8,.5 .7-5.1 .6-3.3 .6-2.8 .5-2 .6-.7 .5-5.7 .4-2.6 .5-3.3 .5,.2 .4-.5 .5-3.9 .5-2.4 .5-3.9 .5,.1 .6-2.5 .5-3.6 .6-3.9 .6-3.2 .6,.5 .6-1.8 .6-2.2 .7-4.8 .7-2.4 .7-1 .7-1.6 .9-2.8 1.1-5.3 1.8-1.5 1.9-.6 2,.6 1.8-2.6 1.4-3.5 1.4-2.1 1.4-1.5 1.3,1.3 1.3-3.9 1.2-3.4 1.2-3.6 1-1.5 1.2,.1 1.8-4 1.3,1.8 .7,.9 .4,4.1 .5,4.8 .4,1.6 .4,2 .4-.9 .5,4.3 .5,3.2 .5,3.1 .5,2.1 .5,.3 .4,5.4 .4,2.9 .5,4.3 .3,.3 .4,.4 .3,3.6 .4,2.2 .3,4.5 .3-.3 .2,1.9 .3,3.2 .3,4.2 .3,4.6 .2,0 .3,2.1 .3,1.4 .2,4.3 .3,2.8 .2,.7 .3,1.4 .2,1.9 .2,5.5 .2,3 .1,2.4 .1,.5 .1,2.5 .1,4.2 .1,2.4 .1,2.1 .1-.6 .2,3.5 .1,3.5 .2,4.4 .2,2.4 .2,.1 .2,3.9 .2,2.4 .3,4.9 .2,.6 .3,.5 .3,2.7 .3,2.7 .3,5.8 .4,.6 .3,2.3 .4,1.7 .5,3.6 .4,4.8 .5,0 .5,2 .6,.2 1,4.1 1.3,2.9 1.8,.9 1.2,2.3 1.1,.6 1.1,5.3 1.1,3.3 1.2,2.7 1.4,0 1.5-.4 1.3,3.5 1.1,2.7 1,2.7 .9-.2 .9,2.5 .9,4 .9,4.5 1.1,2.8 1-.2 1.2,1.9 1.2,1.8 1.2,4.3 1.2,1 1.3,.6 1.6,1.8 2,1.6 2.2,5.3 2.4-1.1 2.4-1 2.3-3.3 2.3,.1 2.5,2 2.5-1.5 2.4-1.4 2.5-3 2.4,1.2 2.3,1.5 2.4-.5 2.3,.7 2.3-2.6 2.2,3.9 2.3,.9 2.4,1.5 2.5-1.7 2.5-2.2 2.5,2.1 2.5,1.1 2.4,1.6 2.5-2.1 2.5-2 2.2,.3 2.2-.9 2.1,.9 2.3-4.4 2.3-1.1 2.4,.1 2.1,3.1 2,3.2 2.3-1 2.4,0 2.4-1.4 2.1,1.4 2.1-.5 2.2-2.5 2.4-3 2.5-1.5 2.5,2 2.5,.6 2.3-.6 2.4-2.8 2.1-1.2 2.1,1 1.9-1 1.9-1.4 1.9-5.3 2-1.7 2.4-.1 2.4,1.9 2.5,.1 2.4-2.4 2.3,1.7 2.3,1 2.2,5.2 .1,0" fill="none" stroke="#000" stroke-width="1.15" stroke-dasharray="9 2"/>
<path d="M127.2,210.9l1.4,1.4 1.8,2 2.2,2.3 2.4,2.4 2.5,2.6 2.4,2.4 2.1,2 2.1,2.1 2.2,2.1 2.2,2.2 2.3,2.1 2.3,1.9 2.3,1.9 2.7,1.9 2.8,1.8 2.7,1.6 2.9,1.6 2.8,1.7 2.8,1.7 2.8,1.9 2.9,2 2.8,2 2.9,2 2.8,1.9 2.7,1.8 2.6,1.7 2.6,1.5 2.5,1.5 2.5,1.5 2.6,1.4 2.8,1.5 2.9,1.5 3,1.6 3.2,1.5 3.1,1.5 3,1.5 2.9,1.5 3.2,1.6 2.9,1.6 2.9,1.5 3,1.4 3.3,1.5 3.1,1.1 3.2,1.2 3.4,1.1 3.4,1.1 3.3,1 3.2,1 3.4,1.1 3.3,1.1 3.2,1.1 3.2,.9 3.6,.9 3.3,.6 3.4,.5 3.6,.5 3.6,.4 3.5,.4 3.3,.3 3.2,.3 2.9,.3 3,.3 2.9,.2 3,0 3.1-.2 2.9-.3 3-.4 3.2-.6 3.1-.6 3.1-.8 2.8-.9 2.6-1.1 2.9-1.6 2.4-1.8 2.2-2 2.4-2.7 3.2-3.5 1.6-1.8 1.8-2 1.8-2.1 2-2.3 2-2.4 2.1-2.4 2.1-2.6 2.1-2.6 2.2-2.6 2.1-2.6 2.1-2.6 2-2.5 1.9-2.3 1.9-2.4 2-2.5 2-2.6 2-2.5 2-2.6 2-2.5 1.9-2.5 1.9-2.4 1.7-2.3 1.7-2.3 1.5-2.1 1.4-2 2.3-3.8 1.8-3.4 1.3-3 1.2-2.7 1.3-2.6 1.6-2.6 2-2.5 2.2-2.2 2.2-2.1 2.3-2 2.4-2.1 2.3-2.2 2.3-2.3 2.4-2.4 2.4-2.4 2.4-2.4 2.4-2.4 2.4-2.2 2.4-2.1 2.4-2 2.3-2 2.4-1.9 2.4-1.9 2.4-1.7 3.1-2 3.2-2 3.2-1.8 3.1-1.6 2.7-1.3 3.8-1.6 3.2-1 3.5-.3 3.2,.2 3.4,.4 3.5,.9 3.3,1.4 2.5,1.6 2.4,1.9 2.5,2.2 2.4,2.2 2.6,2.3 2.3,1.8 2.3,2 2.3,2 2.5,2 2.4,2 2.5,1.8 2.6,1.6 2.7,1.4 2.7,1.4 2.8,1.4 2.8,1.5 2.7,1.7 2.7,2 2.8,2.1 2.8,2.3 2.7,2.2 2.7,2.2 2.5,1.9 3.1,2.2 3.1,2.1 3,2 2.4,1.6 1.8,1.2" fill="none" stroke="#FFC000" stroke-width="4.4" stroke-dasharray="19.2 19.2"/>
<path d="M127.2,259.5l1.6,0 1.9,0 2,0 2.3,0 2.4,0 2.7,0 2.8,.1 2.9,0 3.1,0 3.2,0 3.3,0 3.4,0 3.4,0 3.6,.1 3.6,0 3.6,0 3.7,0 3.7,0 3.7,0 3.6,0 3.7,0 3.6,0 3.6,0 3.4,0 3.5,0 3.3,0 3.2,0 3.1,0 2.9,0 2.9,0 2.6-.1 2.5,0 2.3,0 2.1-.1 1.9,0 8.2-.3 4.7-.5 2.3-.5 1-.6 1-.7 1.9-.7 3-.8 2.7-.8 2.6-.9 2.7-1.1 3.3-1.4 2.4-1.1 2.7-1.3 2.8-1.4 3-1.4 2.9-1.5 2.9-1.4 2.8-1.3 2.5-1.1 3.6-1.6 3.2-1.3 3.1-1.2 3.1-1.2 3.2-1.3 2.9-1.1 3-1.2 3-1.1 3-1.3 2.8-1.3 2.5-1.6 2.7-2.1 2.3-2.2 2.2-2.5 2.1-2.6 2.2-2.9 1.8-2.5 1.8-2.5 1.9-2.7 1.8-2.9 2-3.2 2.1-3.6 1.4-2.3 1.4-2.5 1.5-2.5 1.5-2.6 1.5-2.8 1.6-2.8 1.6-3 1.6-3.1 1.6-3.3 1.6-3.4 1.2-2.5 1.2-2.7 1.2-2.7 1.2-2.9 1.3-2.9 1.3-3 1.2-3 1.3-3 1.2-3.1 1.3-3.1 1.2-3.2 1.2-3.1 1.2-3.1 1.2-3 1.1-2.9 1.1-3 1.1-3.2 1.1-3.2 1.1-3.2 1-3.2 1.1-3.2 1.1-3.2 1-3.1 1-3 1-2.9 .9-2.7 1-2.6 .8-2.4 .9-2.1 2-4.4 1.8-3.4 1.6-2.7 1.5-2.1 1.4-1.7 1.2-1.6 2.7-2.9 2.1-.7 2.5,0 2.3,1.8 1.1,1.9 1,2.9 1.7,5 .8,2 .9,2.2 1,2.5 1,2.6 1.2,2.8 1.1,3 1.2,3.1 1.1,3.2 1.1,3.4 1.1,3.4 .8,2.6 .7,2.7 .8,2.8 .7,2.9 .8,2.9 .7,3.1 .8,3.1 .7,3.1 .8,3.1 .7,3.1 .8,3.2 .7,3.1 .8,3 .7,3 .8,3 .7,3 .8,3.1 .7,3.1 .8,3 .7,3.1 .8,3.1 .7,3 .8,3 .7,2.9 .8,2.9 .7,2.8 .8,2.7 .7,2.6 1.1,3.6 1.1,3.4 1,3.4 1.1,3.2 1.1,3.1 1,3 1.1,3 1,2.8 1,2.7 1,2.6 1.5,3.7 1.4,3.6 1.5,3.4 1.4,3.1 1.3,2.9 1.3,2.4 1.2,2 3.5,2.7 3.2,.2 3.1,0 3.6,0 2.9,.6 3.4,1 4.2,1.3 2.6,.8 2.9,.9 3.1,.9 3.2,1 3.2,1 3.1,1 3,.9 3,.9 3,.9 3,.9 3,.8 3.2,.8 3.3,.9 3.5,.8 3.6,.8 3.5,.8 3.3,.6 2.8,.5 4.9,.4 3.9,0 2.7,0" fill="none" stroke="#0062FF" stroke-width="4.4" stroke-dasharray="19.2 19.2"/>
</g>
<line x1="127.2" y1="42.0" x2="558.0" y2="42.0" stroke="#262626" stroke-width="3.4"/>
<line x1="127.2" y1="332.0" x2="558.0" y2="332.0" stroke="#262626" stroke-width="3.4"/>
<line x1="222.7" y1="42.0" x2="222.7" y2="47.5" stroke="#262626" stroke-width="3.4"/>
<line x1="222.7" y1="332.0" x2="222.7" y2="326.5" stroke="#262626" stroke-width="3.4"/>
<line x1="318.2" y1="42.0" x2="318.2" y2="47.5" stroke="#262626" stroke-width="3.4"/>
<line x1="318.2" y1="332.0" x2="318.2" y2="326.5" stroke="#262626" stroke-width="3.4"/>
<line x1="413.8" y1="42.0" x2="413.8" y2="47.5" stroke="#262626" stroke-width="3.4"/>
<line x1="413.8" y1="332.0" x2="413.8" y2="326.5" stroke="#262626" stroke-width="3.4"/>
<line x1="509.3" y1="42.0" x2="509.3" y2="47.5" stroke="#262626" stroke-width="3.4"/>
<line x1="509.3" y1="332.0" x2="509.3" y2="326.5" stroke="#262626" stroke-width="3.4"/>
<line x1="127.2" y1="40.3" x2="127.2" y2="333.7" stroke="#C00010" stroke-width="3.4"/>
<line x1="127.2" y1="332.0" x2="132.7" y2="332.0" stroke="#C00010" stroke-width="3.4"/>
<line x1="127.2" y1="283.7" x2="132.7" y2="283.7" stroke="#C00010" stroke-width="3.4"/>
<line x1="127.2" y1="235.3" x2="132.7" y2="235.3" stroke="#C00010" stroke-width="3.4"/>
<line x1="127.2" y1="187.0" x2="132.7" y2="187.0" stroke="#C00010" stroke-width="3.4"/>
<line x1="127.2" y1="138.7" x2="132.7" y2="138.7" stroke="#C00010" stroke-width="3.4"/>
<line x1="127.2" y1="90.3" x2="132.7" y2="90.3" stroke="#C00010" stroke-width="3.4"/>
<line x1="127.2" y1="42.0" x2="132.7" y2="42.0" stroke="#C00010" stroke-width="3.4"/>
<line x1="558.0" y1="40.3" x2="558.0" y2="333.7" stroke="#0062FF" stroke-width="3.4"/>
<line x1="558.0" y1="332.0" x2="552.5" y2="332.0" stroke="#0062FF" stroke-width="3.4"/>
<line x1="558.0" y1="259.5" x2="552.5" y2="259.5" stroke="#0062FF" stroke-width="3.4"/>
<line x1="558.0" y1="187.0" x2="552.5" y2="187.0" stroke="#0062FF" stroke-width="3.4"/>
<line x1="558.0" y1="114.5" x2="552.5" y2="114.5" stroke="#0062FF" stroke-width="3.4"/>
<line x1="558.0" y1="42.0" x2="552.5" y2="42.0" stroke="#0062FF" stroke-width="3.4"/>
<text x="95.78" y="347.40" font-family="'Liberation Serif', 'DejaVu Serif', serif" font-size="46" fill="#C00010" textLength="22.43" lengthAdjust="spacingAndGlyphs">0</text>
<text x="73.36" y="299.07" font-family="'Liberation Serif', 'DejaVu Serif', serif" font-size="46" fill="#C00010" textLength="44.85" lengthAdjust="spacingAndGlyphs">20</text>
<text x="73.36" y="250.73" font-family="'Liberation Serif', 'DejaVu Serif', serif" font-size="46" fill="#C00010" textLength="44.85" lengthAdjust="spacingAndGlyphs">40</text>
<text x="73.36" y="202.40" font-family="'Liberation Serif', 'DejaVu Serif', serif" font-size="46" fill="#C00010" textLength="44.85" lengthAdjust="spacingAndGlyphs">60</text>
<text x="73.36" y="154.07" font-family="'Liberation Serif', 'DejaVu Serif', serif" font-size="46" fill="#C00010" textLength="44.85" lengthAdjust="spacingAndGlyphs">80</text>
<text x="50.93" y="105.73" font-family="'Liberation Serif', 'DejaVu Serif', serif" font-size="46" fill="#C00010" textLength="67.27" lengthAdjust="spacingAndGlyphs">100</text>
<text x="50.93" y="57.40" font-family="'Liberation Serif', 'DejaVu Serif', serif" font-size="46" fill="#C00010" textLength="67.27" lengthAdjust="spacingAndGlyphs">120</text>
<g clip-path="url(#c2)">
<line x1="754.7" y1="42.0" x2="754.7" y2="332.0" stroke="#D5D5D5" stroke-width="1.4"/>
<line x1="850.2" y1="42.0" x2="850.2" y2="332.0" stroke="#D5D5D5" stroke-width="1.4"/>
<line x1="945.8" y1="42.0" x2="945.8" y2="332.0" stroke="#D5D5D5" stroke-width="1.4"/>
<line x1="1041.3" y1="42.0" x2="1041.3" y2="332.0" stroke="#D5D5D5" stroke-width="1.4"/>
<line x1="659.2" y1="249.1" x2="1090.0" y2="249.1" stroke="#FF9AA3" stroke-width="1.4"/>
<line x1="659.2" y1="166.3" x2="1090.0" y2="166.3" stroke="#FF9AA3" stroke-width="1.4"/>
<line x1="659.2" y1="83.4" x2="1090.0" y2="83.4" stroke="#FF9AA3" stroke-width="1.4"/>
<path d="M659,244.7l2.1,3.4 2.5,.5 2.5-3.1 2,2 1.2,3.8 1.2,3.8 2.3,2.1 2.9-2.7 2.6-2.9 3.3-2.3 3.5-1.9 3.8-1.1 3.9-.8 3.8-1.1 3.8-1.4 3.9-.5 1.3,3.7 1.2,3.9 1.2-3.6 1-3.8 2.4-2.7 3.8,1.1 3.6,1.8 3.8,1.1 4,.1 4-.2 4-.3 3.9-.4 4-.7 3.8-1.1 3.9-1 4-.4 4,.2 4-.1 3.8-1.2 3.6-1.6 3.8-1.2 4-.7 4-.3 3.9-.4 4-.4 4-.7 3.7-1.3 3.7-1.8 3.9-2.2 3.9-1 4-1 3.7-2.3 3.2-3.1 3.1-3.4 3.1-3.3 3.1-3.2 3.2-2.7 3.3-2.1 3.6-1.7 3.6-1.5 3.4-2 3.1-2.5 2.7-2.9 2.3-3.2 1.8-3.4 1.4-3.7 1.1-3.9 1-3.8 2-2.2 1.7,3.3 1.4,3.7 1.5,3.5 2.3,3 2.6,2.8 3.2,1.3 3,2.4 3.2,2 3.8,.9 3.8-1.2 2.3-4.5 1.7-4.5 2.4-4.5 2.8-4.3 1.6-4.4 .8-4.4 1.1-4 2.2,4.2 2.2,1.7 .9-3.4 .7-3.6 .9-3.4 2.2-1.2 2.6,3.9 1.7,4.5 .9,4.3 .7,4.3 .7,4.3 .9,4.4 1.3,4.4 1.7,4.4 2.1,1.2 2.1,.7 1,4.6 .9,4.5 1.1,4.6 1.5,4.8 1.7,4.5 1.9,3.4 1.8,3.4 1.5,3.6 1.4,3.7 1.5,3.6 1.8,3.5 2.1,3.2 2.2,3.2 2.1,3.3 2.5,2.9 3.6-1.1 3.1-2.7 2.8-3.1 2.2-3.4 1.4-3.7 .9-3.9 1.1-3.9 2.5-2.8 3.7-1.4 2.4-2.9 2.1-3.3 2.5,2.1 1.9,3.5 1.9-.3 1.5-3.7 1.3,2 .7,4 .9,3.9 1.6,3.4 3.6-1.4 2.9-2.8 2.3-3.2 3.1-.7 1.5,3.7 1.2,3.8 1.5,3.7 2.8,2.7 3.6,1.8 2.6,2.9 1.7,3.6 1.5,3.7 1.6,3.7 2.4,3.1 3.5-1.3 2.9-2.8 3-2.5 3.2-2.5 3.7-.9 3.8,1.2 3.8,.9 3.9-.9 3.8-1.1 4-.3 3.9,.7 3.5,1.7 3.6,1.8 3.5,0 2.9-2.8 2.6-3 3-2.7 3.3-2.3 3.6-1.4 4,0 1.4,.1 0,11.2 -1.4-.1 -4,0 -3.6,1.4 -3.3,2.3 -3,2.7 -2.6,3 -2.9,2.8 -3.5,0 -3.6-1.8 -3.5-1.7 -3.9-.7 -4,.3 -3.8,1.1 -3.9,.9 -3.8-.9 -3.8-1.2 -3.7,.9 -3.2,2.5 -3,2.5 -2.9,2.8 -3.5,1.3 -2.4-3.1 -1.6-3.7 -1.5-3.7 -1.7-3.6 -2.6-2.9 -3.6-1.8 -2.8-2.7 -1.5-3.7 -1.2-3.8 -1.5-3.7 -3.1,.7 -2.3,3.2 -2.9,2.8 -3.6,1.4 -1.6-3.4 -.9-3.9 -.7-4 -1.3-2 -1.5,3.7 -1.9,.3 -1.9-3.5 -2.5-2.1 -2.1,3.3 -2.4,2.9 -3.7,1.4 -2.5,2.8 -1.1,3.9 -.9,3.9 -1.4,3.7 -2.2,3.2 -2.8,2.7 -3.1,2.4 -3.6,.5 -2.5-3.2 -2.1-3.5 -2.2-3.5 -2.1-3.6 -1.8-3.7 -1.5-3.8 -1.4-3.8 -1.5-3.8 -1.8-3.7 -1.9-3.7 -1.7-2.6 -1.5-2.7 -1.1-3.1 -.9-3.3 -1-3.1 -2.1,2.1 -2.1,1.8 -1.7-2.7 -1.3-3.1 -.9-3.5 -.7-3.6 -.7-3.6 -.9-3.4 -1.7-2.8 -2.6-1.3 -2.2,3.4 -.9,4.3 -.7,4.3 -.9,4.4 -2.2,.4 -2.2-2 -1.1,3.7 -.8,3.5 -1.6,2.6 -2.8,1.3 -2.4,1.9 -1.7,2.7 -2.3,2.1 -3.8-.3 -3.8-1.8 -3.2-2.7 -3-3 -3.2-2 -2.6-3.4 -2.3-3.5 -1.5-3.9 -1.4-3.9 -1.7-3.8 -2,2.1 -1,3.9 -1.1,3.9 -1.4,3.7 -1.8,3.6 -2.3,3.4 -2.7,3 -3.1,2.7 -3.4,2.2 -3.6,1.8 -3.6,1.9 -3.3,2.3 -3.2,2.2 -3.1,1.7 -3.1,1.7 -3.1,1.9 -3.2,1.5 -3.7,.4 -4-1.1 -3.9-1.3 -3.9-.2 -3.7,1.4 -3.7,1.3 -4,.7 -4,.4 -3.9,.4 -4,.3 -4,.7 -3.8,1.2 -3.6,1.6 -3.8,1.2 -4,.1 -4-.2 -4,.4 -3.9,1 -3.8,1.1 -4,.7 -3.9,.5 -4,.3 -4,.3 -4-.1 -3.8-1.1 -3.6-1.7 -3.8-1.1 -2.4,2.8 -1,3.8 -1.2,3.6 -1.2-3.9 -1.3-3.7 -3.9,.6 -3.8,1.5 -3.8,1 -3.9,.9 -3.8,1.2 -3.5,1.9 -3.3,2.4 -2.6,2.9 -2.9,2.7 -2.3-2 -1.2-3.8 -1.2-3.8 -2-2 -2.5,3.2 -2.5-.5 -2.1-3.4Z" fill="#FF0000" fill-opacity="0.12" stroke="none"/>
<path d="M659,305.2l4-.5 3.9-.5 4-.5 4-.4 3.9-.6 4-.8 3.8-1.1 3.9-.9 4-.6 3.9-.4 4-.3 4,0 4,.1 4,.4 4,.5 3.9,.9 3.8,.8 2.6-3 2.5-3.2 3.3-2.1 3.6-1.7 3.7-1.6 3.6-1.7 3.6-1.7 3.4-2.1 3.1-2.6 2.9-2.8 3-2.6 3.4-2 3.8-1.4 3.8-1.1 3.8-1.3 3.8-1.1 3.9,.1 3.6,1.9 3.5,1.4 2.8-2.9 2.2-3.3 2.8-2.9 2.8-2.8 2.9-2.8 2.9-2.8 2.8-2.8 2.6-3.1 2.4-3.1 2.4-3.3 2.3-3.2 2.4-3.2 2.4-3.2 2.4-3.2 2.5-3.1 2.5-3.1 2.3-3.3 1.8-3.6 1.5-3.7 1.4-3.8 1.3-3.7 1.2-3.8 1.2-3.9 1.3-3.8 1.5-3.7 1.9-3.5 1.9-3.5 1.1-3.8 .3-4 .1-4 .1-4 .5-3.9 1.4-3.7 2.6-3.1 2-3.4 1.3-3.8 .9-3.9 .7-3.9 .7-3.9 .8-4 1-3.8 1.5-3.7 1.9-3.6 2.2-3.3 2.4-3.2 1.6-2.6 .8-3.9 .7-4 .7-3.9 .8-4 .9-1.3 .8,3.8 .9-4 .8-3.9 .8-3.9 .9-4 1.2-3.8 3.2-1.8 3.6,1 3.8,1.2 4,.6 3.9,0 4-.6 3.9,.8 2,3.4 1.3,3.9 1.2,3.9 1.4,3.8 1.6,3.7 1.6,3.8 1.2,3.8 1,4 .8,3.9 .8,3.9 .8,4 .9,3.9 .9,3.9 .9,3.8 1,3.9 1.1,3.9 1.2,3.8 1.5,3.7 2.6-.2 2.6-1.6 2.1,3.4 2,3.4 2.5,3.2 2,3.4 1.5,3.7 .9,3.9 .7,4 .6,3.9 .6,4 .8,3.9 1,3.9 1.3,3.7 1.2,3.9 .9,3.9 .8,3.9 .7,3.9 .7,4 .7,3.9 .7,3.9 .7,4 .7,3.9 .6,4 .8,3.9 1,3.9 1.3,3.7 2.2,3.4 2.8,2.8 3.3,2.2 3.9,.4 3.8,1 3.3,2.2 3.1,2.6 2.7,2.9 2.4,3.2 2.1,3.4 1.9,3.5 1.6,3.7 1.2,3.8 1,3.8 1,3.9 2.6,2.3 3.6-1.4 4-.5 3.9-.9 3.2-2.4 3.2-2.2 3.1,1.5 2.4,3.2 3,2.5 3.6,1.8 3.6,1.6 3.6,1.8 3.4,2 3.1,2.6 3,2.6 3.4,2.1 3.6,1.7 3.8,1.2 4,.6 3.9,.6 4,.5 4,.4 3.9-.5 4-.8 3.9-.6 4-.6 1-.1 0,6.2 -1,.1 -4,.6 -3.9,.6 -4,.8 -3.9,.5 -4-.4 -4-.5 -3.9-.6 -4-.6 -3.8-1.2 -3.6-1.7 -3.4-2.1 -3-2.6 -3.1-2.6 -3.4-2 -3.6-1.8 -3.6-1.6 -3.6-1.8 -3-2.5 -2.4-3.2 -3.1-1.5 -3.2,2.2 -3.2,2.4 -3.9,.9 -4,.5 -3.6,1.4 -2.6-2.3 -1-3.9 -1-3.8 -1.2-3.8 -1.6-3.7 -1.9-3.5 -2.1-3.4 -2.4-3.2 -2.7-2.9 -3.1-2.6 -3.3-2.2 -3.8-1 -3.9-.4 -3.3-2.2 -2.8-2.8 -2.2-3.4 -1.3-3.7 -1-3.9 -.8-3.9 -.6-4 -.7-3.9 -.7-4 -.7-3.9 -.7-3.9 -.7-4 -.7-3.9 -.8-3.9 -.9-3.9 -1.2-3.9 -1.3-3.7 -1-3.9 -.8-3.9 -.6-4 -.6-3.9 -.7-4 -.9-3.9 -1.5-3.7 -2-3.4 -2.5-3.2 -2-3.4 -2.1-3.4 -2.6,1.6 -2.6,.2 -1.5-3.7 -1.2-3.8 -1.1-3.9 -1-3.9 -.9-3.8 -.9-3.9 -.9-3.9 -.8-4 -.8-3.9 -.8-3.9 -1-3.8 -1.2-3.7 -1.6-3.7 -1.6-3.5 -1.4-3.7 -1.2-3.8 -1.3-3.7 -2-3.4 -3.9-.8 -4,.6 -3.9,0 -4-.6 -3.8-1.2 -3.6-1 -3.2,1.6 -1.2,3.7 -.9,3.9 -.8,3.9 -.8,3.9 -.9,3.8 -.8-3.8 -.9,1.3 -.8,3.9 -.7,3.9 -.7,3.9 -.8,3.9 -1.6,2.4 -2.4,3.2 -2.2,3.3 -1.9,3.6 -1.5,3.7 -1,3.8 -.8,4 -.7,3.9 -.7,3.9 -.9,3.9 -1.3,3.8 -2,3.4 -2.6,3.1 -1.4,3.7 -.5,3.9 -.1,4 -.1,4 -.3,4 -1.1,3.8 -1.9,3.5 -1.9,3.5 -1.5,3.7 -1.3,3.8 -1.2,3.9 -1.2,3.8 -1.3,3.7 -1.4,3.8 -1.5,3.7 -1.8,3.6 -2.3,3.3 -2.5,3.1 -2.5,3.1 -2.4,3.2 -2.4,3.2 -2.4,3.2 -2.3,3.2 -2.4,3.3 -2.4,3.1 -2.6,3.1 -2.8,2.8 -2.9,2.8 -2.9,2.8 -2.8,2.8 -2.8,2.9 -2.2,3.3 -2.8,2.9 -3.5-1.4 -3.6-1.9 -3.9-.1 -3.8,1.1 -3.8,1.3 -3.8,1.1 -3.8,1.4 -3.4,2 -3,2.6 -2.9,2.8 -3.1,2.6 -3.4,2.1 -3.6,1.7 -3.6,1.7 -3.7,1.6 -3.6,1.7 -3.3,2.1 -2.5,3.2 -2.6,3 -3.8-.8 -3.9-.9 -4-.5 -4-.4 -4-.1 -4,0 -4,.3 -3.9,.4 -4,.6 -3.9,.9 -3.8,1.1 -4,.8 -3.9,.6 -4,.4 -4,.5 -3.9,.5 -4,.5Z" fill="#FF0000" fill-opacity="0.12" stroke="none"/>
<path d="M659,250.5l1,2.3 1.1-.6 1.4,.2 1.1,.2 1.1,.6 1.4-2.8 1.1-1.1 .9,.2 .6,3.4 .6,2.6 .6,1.7 .6,1 .9,1.4 1.4,.8 1.7,0 1.2-.1 1.1-2.8 1.5-2.6 1.6-.7 1.7,1.1 1.7-1 1.8-4.2 1.9-1 1.9,1.4 1.9,.5 2-2.3 2-2.1 1.8,1 1.9,.3 1.9-.4 1.9-1.1 2-.6 .7,2.5 .6,2.8 .6,2.9 .6,.3 .7-3.3 .5-1.2 .5-.1 .5-2.1 1.1-4.9 1.3-1.3 2,2.4 1.8,2.2 1.8-.4 1.8-.7 1.8,2.3 2,1.5 2,.5 2-.6 2-1.1 2,.1 2,.4 2,.8 2-1.8 1.9-2.5 2,.9 2,1.5 1.9-.7 1.9-3.2 2-.4 1.9,2.6 2,0 2-1.3 2-1 2,1.3 2,1.2 2-.8 1.9-1.1 1.9-2 1.8-.8 1.8,.6 1.9-.6 1.9-2 2-2 2,1.9 2,2.1 2-1.6 2-1.9 1.9,.4 2,2.6 2-.4 2-2.5 2-.6 1.9-.1 1.8,.1 1.9-1.5 1.8-1.7 1.9-1.3 2-.3 2,2.1 1.9,.2 2-1.5 2-.7 2,1.8 1.7,1.2 1.6-3.4 1.6-3 1.5,0 1.6,.3 1.5-1.8 1.6-3.7 1.6-1.2 1.5-.4 1.6-.8 1.6-1.1 1.6-2.3 1.7-1.2 1.8-.1 1.8,1.1 1.8-.9 1.8-3.3 1.8-.6 1.6,1.1 1.6-.6 1.5-3.9 1.4-3.2 1.3,.5 1.2-.6 1.1-2.8 1-3.2 .8-1.7 .8-.3 .6-1.6 .6-1.6 .5-2.8 .4-2.5 .6-.2 .7-.7 1.3-.4 1-1.1 .7,1.4 .7,3.7 .7,3 .7-.4 .8-.3 1.2,3.6 1.1,3.1 1.3,1.1 1.3,.3 1.4,1.4 1.8,1.8 1.5,1.8 1.5,1.9 1.6,.1 1.6,0 1.9,1.6 1.9,1.9 2-.4 1.8-3.3 1.3-1.9 1,.7 .8-1.1 .9-3.6 .9-3.4 1.5,.9 1.4,.3 1.4-2.2 1.1-2.5 .5-2.1 .5-.8 .3-1.6 .4-2.1 .7-3.1 1,0 1.2,2.7 1.3,2.8 .9-.5 .5-4.5 .4-3 .4,0 .3,.2 .4-3 .5-4.2 .6-.4 1.6,1.1 1.6,1.7 1,.1 1,.8 .7,2.2 .5,2.1 .4,2.7 .4,1 .3,.6 .4,1.7 .3,3.7 .4,3.5 .5-.3 .5,.8 .8,4 .7,4 1,.8 1.2-1 .9-1 1.2-.1 .9,1.4 .5,.3 .5,.9 .5,1.7 .4,2.3 .5,3 .6,1.6 .6,.9 .9,1.2 .8,3.6 .9,3.9 1,0 .9,.1 .9,2.8 .9,4.2 .8,1.3 .7-1.1 .7,1.9 .7,3.2 .7,2.3 .8,.8 .8,.7 1,2.3 1,2.3 1.1,3 1.1,1.6 1.1,.1 1.1,1.9 1,3.5 1.1,3 1.4-.9 1.9-1.9 1.7,.7 1.6,.4 1.5-2.1 1.4-4.2 1.4-1.2 1.1,.3 1.1-1.5 .8-2.3 .6-2.7 .5-1.4 .4-.9 .5-1.1 .6-2 .7-4 1.8-.7 1.8,1 1.9-.2 1.5-3.3 .9-3.9 1,.4 1.1-.1 1.3,.3 1.2-.9 .9,1.8 1,3.7 1.2,2.3 .7-2 .7-2.9 .8-1.6 .7-.1 .6,3.2 .4,2.3 .3,1.2 .5-.2 .4,2 .7,4.3 .9,1.3 1.9-2.6 1.7-2.3 1.5,1.2 1.4,.4 1.2-3.2 1.1-2.7 1.7-.4 1.4,2 .9,1.9 .6,1.4 .6,.9 .6,1.4 .7,2.6 .8,2.3 1.3,1.4 1.5-1.1 1.9,.4 1.7,3.5 1.5,2.1 1.1,.1 .9,.1 .8,4.1 .8,4.1 .7,.5 .8,.4 .8,1.8 1,3.3 1.4,1.3 1.9-1.2 1.6-1.9 1.4-2.2 1.5-.3 1.5-.5 1.5-1.6 1.6-2.9 1.6-1.3 1.8,2.3 1.9,.4 1.9-1.3 1.9-.6 1.9,2.5 1.9,2.2 1.9-2.3 2-2.1 1.9-.7 1.9,.6 2-.1 2-1 1.9-.2 2,0 1.9,2 1.6,2.7 1.7,.1 1.9-.6 1.9,1 1.6,1.9 1.6-.9 1.3-4.3 1.3-2.4 1.3,0 1.4,.1 1.6-3.3 1.6-2.8 1.7-.3 1.7-.1 1.9,.2 2-.8 2-.3 1.4-.2" fill="none" stroke="#42B526" stroke-width="5.6" stroke-linejoin="round"/>
<path d="M659,247.4l1.3,2.1 1.5-1.5 1.6,.7 1.3,.4 1.7-2.3 1.3,.2 .8,2.1 .8,3.3 .8,1.5 .9,1.2 1.4,1.3 2.1,.6 1.4-.5 1.6-3.5 2-2.9 2.1,1.3 2.1-.5 2.3-4.7 2.4,.1 2.4,.9 2.5-2.1 2.4-1.9 2.4,.7 2.3,.8 2.4-1.1 1.8,0 .9,3.2 .7,3.6 .8,.3 .8-4.4 .6-.5 .6-.8 1.3-5 2.1-1.9 2.4,3.6 2.2,1.5 2.3-.3 2.3,1.6 2.5,1.2 2.5,.2 2.5-1.5 2.5-.5 2.5,1.3 2.5,.4 2.4-4 2.5,.8 2.4,1.7 2.4-3 2.4-2.8 2.5,3.8 2.5,.3 2.5-2.6 2.5,1.1 2.5,1.9 2.4-1.7 2.4-2.9 2.3-.5 2.3,.6 2.3-1 2.5-3.6 2.5,1.9 2.5,1.9 2.5-2.9 2.4-1.1 2.5,3.9 2.5-.9 2.5-2.9 2.4,.3 2.3-.2 2.3-2.3 2.3-3.1 2.5-.2 2.5-.1 2.4,.4 2.5-2.5 2.5,.6 2.2-.8 1.9-4.3 2-2 1.9,.2 1.9-2.4 2-4.8 1.9-1.1 2,1.2 2-3.9 2.1-4.3 2.2,.2 2.2,1.6 2.3-.2 2.2-5.3 2.2,2 1.9,2.4 1.8-6 1.7-4.6 1.6,.3 1.4-1.8 1.2-3.3 1-1.7 .9-.5 .7-2.4 .6-4.3 .6-3.7 .7-.3 1.6,.9 1.2,1.6 .9,1.2 .8,5 .9,1 1.1-.9 1.4,2.3 1.5,2.3 1.7,.7 1.9,3.1 2-.1 1.9,1.2 2,2.6 2.1,1.2 2.3,1.8 2.5-2.2 2.3-.7 1.6-3.8 1.1-1.6 1.1-2.9 1.1-6 1.8-2.9 1.8,.5 1.7,.7 .6-3 .6-1.8 .4-2.2 .7-4.3 1.2-2.5 1.5,.8 1.5,5.6 .8-1 .5-5.2 .5-2.3 .4,1.6 .5-3.2 .8-4.5 2.1,1 1.6,2.9 1.2,2.6 1,3.6 .6,4.2 .5,3.8 .4,2.3 .5,.8 .4,2.8 .5,4.3 .7,.7 .9,.9 .9,6 1.4,3.3 1.3-1.2 1.4-1.8 1,3.9 .7,4 .5,.5 .6,1.2 .7,2.9 .7,3.5 1,2.6 1,1.8 1.2,5 1.2,4.7 1.1-.4 1.1,1.3 1,5.5 .9,1.3 .8-1.1 .9,3.3 1,3.5 1.1,1.6 1.3,1.4 1.3,2.3 1.4,2.7 1.4,1.8 1.3,.5 1.3,3.7 1.8,4.6 2.4-3.6 2-4 1.9,2.1 1.8-2 1.6-5.7 1.3-1.4 1.1-1 .7-3.1 .6-3.4 .6-2.1 .7-.3 1.2-1.5 2.2-2.6 2.3-1.3 2,1.6 1.1-4.3 1.4-4.3 1.5,1.7 1.5,3.2 1.1-1.2 1.4,1.2 1.1,.8 .9,0 1-2.1 .8,.7 .6,2.5 .4,3.7 .6,2.3 .6-.5 1,2.3 2.2,2.4 2.1-1.9 1.8-4.1 1.6-.5 1.4-.9 2.2-3.2 1.4,1.6 .8,4.9 .8,2.3 .8,1.1 .9,1.9 1.3,2.3 1.9,1.7 2.3,.7 2,0 1.7,3.5 1.1,2.4 1-.5 .9,4 1,5.2 1,.3 1.3,1.7 2.1,2.1 2.1-1.4 1.8-1.7 1.8-2.3 1.9-2 2-.9 2-2.8 2.3-1.4 2.3,2.1 2.4,1.8 2.4-.8 2.4,.8 2.4,1.6 2.4-3.1 2.4-1.3 2.5,0 2.5,.4 2.4-.2 2.4,1.6 2.1,.7 2.1,2 2.4,1.6 2.1-2.3 1.9-.6 1.6-.6 1.7-4.3 1.7-1.4 2,1.1 2-3.1 2.2-3.5 2.3,.1 2.5,1.3 2.5-1.6 .4-.2" fill="none" stroke="#000" stroke-width="1.15" stroke-dasharray="9 2"/>
<path d="M659,255l1.3,2 1.5-2.2 1.6,.7 1.3,0 1.7-2.7 1.3,.2 .8,2.8 .8,3.7 .8,1.7 .9,1.9 1.4,1.1 2.1-.9 1.4-.5 1.6-3.3 2-2.4 2.1,2 2.1-2.6 2.3-4.1 2.4,.7 2.4,2 2.5-3.8 2.4-1.7 2.4,.7 2.3,.9 2.4-1.1 1.8,.3 .9,2.8 .7,3.7 .8,.3 .8-4.7 .6-.5 .6-.8 1.3-5.7 2.1-.6 2.4,3.7 2.2,.6 2.3-1 2.3,2.8 2.5,1.7 2.5-1.1 2.5-1.6 2.5,.9 2.5,1.2 2.5-.8 2.4-4.1 2.5,.9 2.4,2 2.4-2.8 2.4-2.2 2.5,2.7 2.5,.5 2.5-2.3 2.5,.9 2.5,.6 2.4-.2 2.4-1.9 2.3-1.3 2.3-.8 2.3-.7 2.5-2.7 2.5,1.7 2.5,2 2.5-2.6 2.4-1 2.5,3 2.5-.3 2.5-3.8 2.4,.6 2.3,.5 2.3-1.4 2.3-2.9 2.5-.2 2.5,2.9 2.4,2.8 2.5-2.6 2.5,.8 2.2,2.3 1.9-2 2-3.4 1.9,1.7 1.9-2.9 2-2.8 1.9,.5 2,1.1 2-2.1 2.1-5.6 2.2-1.3 2.2,1.5 2.3,2.6 2.2-5.1 2.2-.8 1.9-.6 1.8-3 1.7-3.4 1.6,.1 1.4-1.5 1.2-5.2 1-3.2 .9-1.2 .7-1.1 .6-2.7 .6-2.6 .7,0 1.6,.4 1.2,.9 .9,1.8 .8,4.1 .9,.4 1.1-1.7 1.4,3.6 1.5,3.6 1.7,1.3 1.9,4.1 2,1.5 1.9,2.6 2-.1 2.1,.4 2.3,2.5 2.5,2.6 2.3-3.1 1.6-4 1.1,1.9 1.1-.1 1.1-4.5 1.8,1.9 1.8,1.2 1.7-5.5 .6-2.8 .6-1.5 .4-1.9 .7-2.6 1.2-.8 1.5,1.5 1.5,5.5 .8-1.4 .5-5.7 .5-3.4 .4,.5 .5-4 .8-5 2.1-2 1.6,1.7 1.2,1.1 1,2 .6,2.6 .5,2.4 .4,1.5 .5,.9 .4,3.3 .5,4.8 .7,.5 .9,.7 .9,4.4 1.4,.6 1.3-2.5 1.4-3.8 1,1.6 .7,3.3 .5,.6 .6,1.3 .7,2.6 .7,2.8 1,.6 1-.8 1.2,3.7 1.2,4.7 1.1-.6 1.1,1.7 1,6.1 .9,2.3 .8-.4 .9,3.2 1,3.6 1.1,.9 1.3,1.1 1.3,1.9 1.4,3.8 1.4,2.5 1.3,.7 1.3,3.7 1.8,4.9 2.4-4.2 2-2.5 1.9,1.1 1.8-1.8 1.6-4 1.3-2 1.1-.9 .7-3.2 .6-3.1 .6-1.9 .7-.7 1.2-2.6 2.2-1.9 2.3,.2 2,1.1 1.1-5.5 1.4-5.2 1.5,1.3 1.5,4.3 1.1-.4 1.4,2.4 1.1,1.1 .9-.6 1-3.5 .8,.4 .6,2.4 .4,3.9 .6,2.6 .6-.2 1,2.2 2.2,2.6 2.1-2.1 1.8-5.5 1.6,.8 1.4-.6 2.2-3.7 1.4,2.6 .8,4.8 .8,2.4 .8,1.1 .9,1.6 1.3,2.8 1.9,.5 2.3-.7 2,.6 1.7,5.5 1.1,3 1-.6 .9,3.3 1,4.6 1,.5 1.3,.6 2.1,2.5 2.1,.4 1.8-3.6 1.8-2.9 1.9-1.9 2,0 2-1 2.3-2.7 2.3,2 2.4,1.2 2.4-1.1 2.4,1 2.4,2.5 2.4-2.8 2.4-3.3 2.5,1.4 2.5,.6 2.4-.4 2.4-.8 2.1,2.9 2.1,3.2 2.4,1 2.1-3.8 1.9-.8 1.6,.9 1.7-3.9 1.7-2 2,.5 2-2.6 2.2-4.1 2.3,.4 2.5,1.2 2.5,.2 .4,0" fill="none" stroke="#000" stroke-width="1.15" stroke-dasharray="9 2"/>
<path d="M659,307.3l2-1 2,2.2 2,0 1.9-.5 2-1.3 2-.7 2,1.5 2,.1 2,.3 1.9-2.4 2-.9 2-.4 1.9,.5 1.9,.2 2-2.2 1.9-.6 2-1.6 2,2.4 1.9-.4 2,.8 2-2.2 2,.1 2,.5 2,1.3 2,.6 2-1.6 2-.4 2-.6 2,1.9 2,.5 1.9-.3 2-.6 1.8-.4 2,2.1 1.3-1.4 1.3,.1 1.2-3.9 1.3-1.1 1.6-1.6 1.7,1.2 1.8-.6 1.8-1.5 1.9-2 1.8-1.7 1.8,.6 1.8-.6 1.8-.6 1.8-2.7 1.8-1.7 1.6-.5 1.6-.3 1.5,0 1.4-3.2 1.5-1 1.4-2.6 1.6,1.5 1.7-1.3 1.7-.2 1.9-2.8 1.9-1 1.9,0 1.9,.2 1.9-.1 1.9-2.6 1.9-1.1 1.9-1 2,1.4 1.9,1.1 1.8,.3 1.8,.4 1.8-.4 1.7,2.8 1.5-1.3 1.3,.1 1.1-3.8 1.1-1.9 1.4-1.8 1.4-.2 1.4-.6 1.4-2.8 1.4-2.2 1.5-2.8 1.4,.4 1.5-1 1.4-.8 1.4-2.8 1.3-2.3 1.3-.4 1.2-.9 1.2,.2 1.2-3.5 1.2-1.6 1.1-2.9 1.2,.3 1.2-1.3 1.2-1.8 1.2-3 1.2-3 1.2-.4 1.2-1.3 1.3-.2 1.2-3.4 1.3-1.8 1.2-1.9 1.2,0 1.1-.4 .9-2.5 .9-2.2 .8-3.4 .7,.1 .7-1.8 .7-1 .6-4 .7-2.6 .6-2 .6-1 .6-.7 .6-3.4 .7-2.2 .6-3.1 .7,.3 .8-1.3 .9-1.1 1-3 1.1-2.5 .8-.8 .7-1.4 .4-.6 .2-4 .1-2.5 .1-3.1 0-.5 0-1.4 .1-2.5 .1-2.8 .4-3.4 .6-.1 .8-1.4 1.3,.1 1.3-3.4 1.2-1.7 .8-2.1 .8-.4 .5-.9 .5-3 .4-2.7 .4-3.6 .3-.4 .4-1.8 .3-1.3 .4-3.6 .4-3 .5-1.2 .5-1.1 .7-.1 .8-3.5 .9-1.6 1-3.1 1.1,.6 1.1-1.3 1.2-1.2 1.2-3.2 1.2-1.7 .4-1.4 .4-1.6 .4-.8 .3-2.7 .4-3.6 .4-2 .3-2 .4,.5 .4-2.9 .5-1.4 .4-.1 .4,.5 .4,4 .5-1.8 .4-.4 .4-4.1 .4-2.4 .4-2.5 .4-.8 .4-1.1 .5-3.1 .5-2.7 .7-3.2 1.2,0 2,.6 1.9,.5 1.7,.5 1.9-.9 1.9,1.8 2,.5 2,2.7 2-1.7 1.9-.4 2-1.8 2,1.1 2,1 1.9,.4 1.1,.6 .9,0 .7,2.8 .6,2.4 .6,3.3 .6,1 .6,.8 .8,2.1 .8,2.4 .8,4.1 .8,.7 .8,2 .6-.3 .6,3.5 .5,2 .5,3.1 .4,.4 .4,.6 .4,2 .4,2.4 .4,3.7 .4,.9 .4,1.6 .5,.8 .4,3.2 .5,3.5 .4,2.1 .5,1.7 .5-.1 .5,3.2 .6,1.8 .5,3.9 .6,0 .6,1.3 .6,.6 .9,2.8 1.1,2.4 1.5-1.9 1.3-1.4 1.3-1.5 1.2,1.4 .9,3 .9,2.8 1.1,2.6 1.2-.1 1.3,1.4 1,1.5 1,3.2 .8,2.4 .7,.6 .5,1.2 .4,.4 .4,4.1 .3,1.6 .3,3.2 .3-.6 .3,2.3 .3,1.9 .4,4 .4,2.5 .5,1 .5,1.4 .7,1.3 .6,3.7 .6,2.2 .6,1.9 .5,.3 .4,.9 .4,3 .4,2.3 .3,3.1 .4-.4 .3,2.3 .4,.8 .3,4.7 .4,1.9 .3,2.4 .4,.5 .3,1.7 .4,3.3 .3,2.6 .4,2.6 .3,0 .3,1.4 .4,1.7 .4,3.2 .4,2.6 .6,.5 .6,1.4 .7,.5 1,4.2 1.2,1.6 1.4,2.7 1.4-.8 1.6,1.5 1.7,1.3 1.9,1.8 2,.7 2-1.4 1.8,.3 1.7,0 1.6,2.8 1.6,1.5 1.5,1.1 1.4,0 1.3,.4 1.3,3 1.1,2.1 1.1,3.3 1-.4 1,2.1 .9,1 .8,4.1 .8,2.2 .6,1.6 .6,.7 .5,.8 .5,3.4 .5,2.1 .5,2.6 .8-.3 1.8,0 1.8-.5 1.8,.1 2,1.2 2-1.5 1.9-.5 2-1.8 1.6,1 1.6-.7 1.5-.6 1.7-2.3 1.7-1.3 1.4,2.5 1.2,1.4 1.2,3.6 1.2-.5 1.8,.5 1.7-.4 1.9,2 1.8,2 1.8,.7 1.8,.4 1.8-.6 1.8,2.3 1.6,1.9 1.6,2.6 1.5,.4 1.5,.1 1.5,1.3 1.7,1.3 1.7,3 1.8-.6 1.8,.6 1.9-1.6 1.9,2 2,.6 2,1.4 2-.9 1.9-.7 2,.7 2,1.1 2,2.1 2-.8 2-.8 1.9-1.3 2,.5 2,.9 1.9-.7 2-.7 2-2.8 2,1 1-.4" fill="none" stroke="#D20814" stroke-width="5.6" stroke-linejoin="round"/>
<path d="M659,304l2.5,.2 2.5,2.1 2.4-1.2 2.5-.6 2.5-.6 2.5,1.4 2.5,.6 2.4-3.3 2.5-.2 2.4-.5 2.4,.3 2.5-2.3 2.4-.7 2.5-.6 2.5,1.6 2.4,1.1 2.5-3.2 2.5,1.4 2.5,.5 2.5,.9 2.5-1.2 2.5-1.4 2.5,.9 2.5,2.1 2.4-.9 2.4-1.5 2.4,3.3 1.8-1.9 1.6-.6 1.5-4.2 1.9-.6 2.1-.1 2.3-1.5 2.3-.7 2.2-3.4 2.3-.2 2.3,.3 2.2-1.4 2.2-4.2 2.1,.6 2-.4 1.8-1.9 1.8-2.7 1.8-2.5 2,1.7 2.2-2.8 2.2-.8 2.4-2 2.4-1 2.4,1.5 2.3-1.7 2.4-2.8 2.4-.5 2.5,2.6 2.3-.5 2.2,.8 2.2,.7 2.1,.8 1.7-1.1 1.4-2.4 1.4-2.4 1.8-3 1.7,.7 1.8-3.1 1.8-1.9 1.8-3.4 1.8-.1 1.8-1 1.7-2.6 1.7-2.9 1.5-1.3 1.5,.1 1.5-3 1.4-2.6 1.5-2.8 1.5-.6 1.5-1.8 1.5-4 1.5-1.6 1.5-2 1.6-.7 1.6-3.1 1.5-2.2 1.5-1 1.3-1 1.2-3.1 1-3 .9-1.2 .9-2.1 .8-1.3 .8-5.5 .8-2.4 .8-2.1 .7-1.9 .8-2.7 .8-3.9 .8,0 1.1-1.4 1.2-2.2 1.4-4.7 .9-1.1 .9-1 .3-2.3 .1-4.2 .1-3.7 0-.1 .1-3.4 .1-2.5 .4-4.3 1-.3 1.4-.3 1.6-3.7 1.4-2.4 1.1-2 .7-.1 .6-3.1 .5-3.3 .4-3.7 .5-.5 .4-2.6 .5-4.3 .6-3.3 .6-2.5 .8,.8 1-3.9 1.2-2.5 1.3-1.4 1.4-1.2 1.5-2 1.7-2.4 .7-3.3 .5-1.5 .5-.9 .4-3.9 .5-3.2 .4-3.2 .5,.1 .5-3.6 .6-.5 .5,.1 .5,2.5 .6-1.3 .5-.7 .5-5 .5-2.4 .5-2 .6-.7 .6-3.6 .9-4 2-1.6 2.4,1.6 2.2,2.3 2.4-1.6 2.4,1 2.5,.8 2.5,2.1 2.4-1.8 2.5-1.1 2.5,0 2.4,2.5 1.4,2 1-.4 .8,3.1 .7,2.9 .8,3.2 .8,.4 1,3.4 1,3.6 1,3.3 .9,2.1 .8-.1 .6,3.9 .6,2 .5,2.7 .5,.4 .5,2.6 .5,4.5 .5,2.4 .5,1.6 .6,1.3 .6,4.8 .6,3 .6,2.3 .6,0 .7,3.1 .7,3.7 .7,1.4 .8,2 1.1,.9 1.6,2.3 1.8-2.4 1.6-.1 1.4,.6 1.2,3.2 1.2,3.5 1.5,2.7 1.5-.1 1.4,2.5 1,2.7 .9,4.3 .6,1.2 .5,.2 .4,3.4 .4,2.2 .4,3.2 .4-.2 .4,3.2 .5,4.2 .6,3.1 .8,1.6 .8,1.2 .7,4.7 .7,3 .6,2 .5-.4 .5,3.4 .4,2.9 .4,2.2 .5,1.4 .4,1.4 .5,5.6 .4,1.9 .5,2.4 .4,1.3 .4,4.2 .4,3.9 .5,1.4 .4,1.4 .5,2.2 .6,4.3 .8,.6 .8,1.6 1.3,1.1 1.6,4.4 1.8,3.3 1.9-1.1 2.1,1.5 2.5,1.1 2.5,1.6 2.3-1.4 2.1,1.4 2,1 1.9,2.6 1.8,1.8 1.6,.7 1.5,1.7 1.4,2.8 1.3,3.6 1.2,.4 1.1,3.3 1,2.5 .8,3.8 .8,2.1 .5-.2 .6,3.3 .7,2.3 1.1,3.1 2.5-2 2.2-1.5 2.4,.5 2.5,1.4 2.4-2.2 2.2-1.9 2,.8 1.9-1 2.3-1 1.8-.7 1.5,3.2 1.5,2.6 1.8,.9 2.2,0 2.3,.2 2.3,2 2.2,1.7 2.3,1.7 2.2-1.4 2,3.5 1.9,3.3 1.9,1.6 1.9-.4 2.1,.9 2.2,4 2.2-.8 2.4,.4 2.4-1.1 2.5,1.7 2.5,1.6 2.4-.5 2.5-.7 2.5,1.5 2.5,2.2 2.5-1.9 2.4,.1 2.5-1.9 2.4,1.1 2.5,0 2.5-2 2.5-1.2" fill="none" stroke="#000" stroke-width="1.15" stroke-dasharray="9 2"/>
<path d="M659,309.7l2.5-.2 2.5,2.3 2.4-1.7 2.5-.6 2.5-.6 2.5,.4 2.5,1.3 2.4-2.5 2.5-1.4 2.4,.1 2.4,1.4 2.5-3.1 2.4-.7 2.5-.3 2.5,.8 2.4,1.1 2.5-3.5 2.5,1.6 2.5,1.3 2.5,.2 2.5-1.1 2.5-.2 2.5,.3 2.5,1.6 2.4-.4 2.4-2 2.4,2.7 1.8-1.2 1.6-1.2 1.5-3.9 1.9-.9 2.1,.6 2.3-1.2 2.3-1.1 2.2-2.8 2.3-.2 2.3-.5 2.2-1 2.2-4.4 2.1-.3 2,.5 1.8-2.4 1.8-2.4 1.8-2.7 2,2.1 2.2-2.1 2.2-1.5 2.4-1.5 2.4-.8 2.4,.6 2.3-1.8 2.4-2.4 2.4-1.2 2.5,2.5 2.3,.2 2.2,.9 2.2,.5 2.1,1.6 1.7-1.6 1.4-1.9 1.4-2.9 1.8-2.6 1.7-.1 1.8-2.7 1.8-2.7 1.8-2.7 1.8-1 1.8-.3 1.7-3.1 1.7-2.2 1.5-1.8 1.5,.9 1.5-3.5 1.4-1.9 1.5-3 1.5-.6 1.5-1.7 1.5-4.5 1.5-1.1 1.5-2.9 1.6-.1 1.6-3.9 1.5-1.7 1.5-1.5 1.3-1 1.2-2.5 1-3.6 .9-1.1 .9-1.5 .8-1.3 .8-6 .8-2.3 .8-1.5 .7-1.6 .8-3.1 .8-4 .8,.3 1.1-1.1 1.2-2.8 1.4-4.3 .9-.9 .9-1.5 .3-2.5 .1-4.2 .1-3.6 0-.2 .1-3.3 .1-2.6 .4-4.2 1,0 1.4-1 1.6-3.4 1.4-2.6 1.1-2.5 .7,.4 .6-2.9 .5-3.4 .4-4.1 .5-.8 .4-2.7 .5-4.1 .6-2.9 .6-2.2 .8,.5 1-4.1 1.2-1.7 1.3-1.9 1.4-1 1.5-1.6 1.7-2.4 .7-2.8 .5-1.4 .5-1 .4-4.1 .5-3.4 .4-3.4 .5,.3 .5-3.3 .6-.4 .5,.2 .5,2.3 .6-1.6 .5-.6 .5-4.7 .5-2.2 .5-2 .6-.9 .6-4.1 .9-4.1 2-1.4 2.4,2.2 2.2,1.4 2.4-1.4 2.4,2.1 2.5,.5 2.5,2 2.4-1.2 2.5-1.4 2.5-.4 2.4,2.3 1.4,1.9 1-.5 .8,2.5 .7,2.8 .8,3.6 .8,.9 1,2.8 1,3.3 1,3.6 .9,1.7 .8-.5 .6,4.1 .6,2.5 .5,3 .5,.5 .5,2.5 .5,4.3 .5,2.3 .5,1.8 .6,1.4 .6,4.9 .6,2.7 .6,2.1 .6,0 .7,3.5 .7,4.1 .7,1.4 .8,1.7 1.1,.8 1.6,2 1.8-2.8 1.6,.5 1.4,0 1.2,3.4 1.2,2.9 1.5,2.7 1.5,.5 1.4,2.3 1,3.2 .9,3.9 .6,.8 .5,.2 .4,3.5 .4,2.4 .4,3.5 .4,0 .4,3.3 .5,4.2 .6,3.1 .8,1.8 .8,1.5 .7,4.4 .7,2.7 .6,1.8 .5-.5 .5,3.6 .4,3.1 .4,2.3 .5,1.4 .4,1.5 .5,5.5 .4,2 .5,2.5 .4,1.3 .4,4.2 .4,3.8 .5,1.2 .4,1.1 .5,1.9 .6,4.1 .8,.7 .8,1.9 1.3,.9 1.6,4.9 1.8,2.2 1.9-.6 2.1,1.8 2.5,.9 2.5,1.8 2.3-.4 2.1,.9 2,.6 1.9,2.9 1.8,2.2 1.6-.2 1.5,1.5 1.4,2.6 1.3,4.2 1.2,.5 1.1,2.7 1,2.4 .8,3.8 .8,1.9 .5-.1 .6,3.7 .7,2.8 1.1,3.4 2.5-2.4 2.2-1.6 2.4,1.4 2.5,.6 2.4-2.3 2.2-1.4 2,0 1.9-1.6 2.3,0 1.8-.9 1.5,2.8 1.5,2.3 1.8,1.9 2.2,.5 2.3-.7 2.3,2.7 2.2,2 2.3,.7 2.2-1.3 2,3.9 1.9,2.5 1.9,1.1 1.9,.5 2.1,1.1 2.2,3.3 2.2-.1 2.4,1 2.4-1.9 2.5,2.4 2.5,1.6 2.4-1.8 2.5,.1 2.5,1.3 2.5,1.3 2.5-.6 2.4-.3 2.5-2.2 2.4,2.4 2.5-.6 2.5-2.2 2.5-.5" fill="none" stroke="#000" stroke-width="1.15" stroke-dasharray="9 2"/>
<path d="M659.2,210.9l1.4,1.4 1.8,2 2.2,2.3 2.4,2.4 2.5,2.6 2.4,2.4 2.1,2 2.1,2.1 2.2,2.1 2.2,2.2 2.3,2.1 2.3,1.9 2.3,1.9 2.7,1.9 2.8,1.8 2.7,1.6 2.9,1.6 2.8,1.7 2.8,1.7 2.8,1.9 2.9,2 2.8,2 2.9,2 2.8,1.9 2.7,1.8 2.6,1.7 2.6,1.5 2.5,1.5 2.5,1.5 2.6,1.4 2.8,1.5 2.9,1.5 3,1.6 3.2,1.5 3.1,1.5 3,1.5 2.9,1.5 3.2,1.6 2.9,1.6 2.9,1.5 3,1.4 3.3,1.5 3.1,1.1 3.2,1.2 3.4,1.1 3.4,1.1 3.3,1 3.2,1 3.4,1.1 3.3,1.1 3.2,1.1 3.2,.9 3.6,.9 3.3,.6 3.4,.5 3.6,.5 3.6,.4 3.5,.4 3.3,.3 3.2,.3 2.9,.3 3,.3 2.9,.2 3,0 3.1-.2 2.9-.3 3-.4 3.2-.6 3.1-.6 3.1-.8 2.8-.9 2.6-1.1 2.9-1.6 2.4-1.8 2.2-2 2.4-2.7 3.2-3.5 1.6-1.8 1.8-2 1.8-2.1 2-2.3 2-2.4 2.1-2.4 2.1-2.6 2.1-2.6 2.2-2.6 2.1-2.6 2.1-2.6 2-2.5 1.9-2.3 1.9-2.4 2-2.5 2-2.6 2-2.5 2-2.6 2-2.5 1.9-2.5 1.9-2.4 1.7-2.3 1.7-2.3 1.5-2.1 1.4-2 2.3-3.8 1.8-3.4 1.3-3 1.2-2.7 1.3-2.6 1.6-2.6 2-2.5 2.2-2.2 2.2-2.1 2.3-2 2.4-2.1 2.3-2.2 2.3-2.3 2.4-2.4 2.4-2.4 2.4-2.4 2.4-2.4 2.4-2.2 2.4-2.1 2.4-2 2.3-2 2.4-1.9 2.4-1.9 2.4-1.7 3.1-2 3.2-2 3.2-1.8 3.1-1.6 2.7-1.3 3.8-1.6 3.2-1 3.5-.3 3.2,.2 3.4,.4 3.5,.9 3.3,1.4 2.5,1.6 2.4,1.9 2.5,2.2 2.4,2.2 2.6,2.3 2.3,1.8 2.3,2 2.3,2 2.5,2 2.4,2 2.5,1.8 2.6,1.6 2.7,1.4 2.7,1.4 2.8,1.4 2.8,1.5 2.7,1.7 2.7,2 2.8,2.1 2.8,2.3 2.7,2.2 2.7,2.2 2.5,1.9 3.1,2.2 3.1,2.1 3,2 2.4,1.6 1.8,1.2" fill="none" stroke="#FFC000" stroke-width="4.4" stroke-dasharray="19.2 19.2"/>
<path d="M659.2,259.5l1.6,0 1.9,0 2,0 2.3,0 2.4,0 2.7,0 2.8,.1 2.9,0 3.1,0 3.2,0 3.3,0 3.4,0 3.4,0 3.6,.1 3.6,0 3.6,0 3.7,0 3.7,0 3.7,0 3.6,0 3.7,0 3.6,0 3.6,0 3.4,0 3.5,0 3.3,0 3.2,0 3.1,0 2.9,0 2.9,0 2.6-.1 2.5,0 2.3,0 2.1-.1 1.9,0 8.2-.3 4.7-.5 2.3-.5 1-.6 1-.7 1.9-.7 3-.8 2.7-.8 2.6-.9 2.7-1.1 3.3-1.4 2.4-1.1 2.7-1.3 2.8-1.4 3-1.4 2.9-1.5 2.9-1.4 2.8-1.3 2.5-1.1 3.6-1.6 3.2-1.3 3.1-1.2 3.1-1.2 3.2-1.3 2.9-1.1 3-1.2 3-1.1 3-1.3 2.8-1.3 2.5-1.6 2.7-2.1 2.3-2.2 2.2-2.5 2.1-2.6 2.2-2.9 1.8-2.5 1.8-2.5 1.9-2.7 1.8-2.9 2-3.2 2.1-3.6 1.4-2.3 1.4-2.5 1.5-2.5 1.5-2.6 1.5-2.8 1.6-2.8 1.6-3 1.6-3.1 1.6-3.3 1.6-3.4 1.2-2.5 1.2-2.7 1.2-2.7 1.2-2.9 1.3-2.9 1.3-3 1.2-3 1.3-3 1.2-3.1 1.3-3.1 1.2-3.2 1.2-3.1 1.2-3.1 1.2-3 1.1-2.9 1.1-3 1.1-3.2 1.1-3.2 1.1-3.2 1-3.2 1.1-3.2 1.1-3.2 1-3.1 1-3 1-2.9 .9-2.7 1-2.6 .8-2.4 .9-2.1 2-4.4 1.8-3.4 1.6-2.7 1.5-2.1 1.4-1.7 1.2-1.6 2.7-2.9 2.1-.7 2.5,0 2.3,1.8 1.1,1.9 1,2.9 1.7,5 .8,2 .9,2.2 1,2.5 1,2.6 1.2,2.8 1.1,3 1.2,3.1 1.1,3.2 1.1,3.4 1.1,3.4 .8,2.6 .7,2.7 .8,2.8 .7,2.9 .8,2.9 .7,3.1 .8,3.1 .7,3.1 .8,3.1 .7,3.1 .8,3.2 .7,3.1 .8,3 .7,3 .8,3 .7,3 .8,3.1 .7,3.1 .8,3 .7,3.1 .8,3.1 .7,3 .8,3 .7,2.9 .8,2.9 .7,2.8 .8,2.7 .7,2.6 1.1,3.6 1.1,3.4 1,3.4 1.1,3.2 1.1,3.1 1,3 1.1,3 1,2.8 1,2.7 1,2.6 1.5,3.7 1.4,3.6 1.5,3.4 1.4,3.1 1.3,2.9 1.3,2.4 1.2,2 3.5,2.7 3.2,.2 3.1,0 3.6,0 2.9,.6 3.4,1 4.2,1.3 2.6,.8 2.9,.9 3.1,.9 3.2,1 3.2,1 3.1,1 3,.9 3,.9 3,.9 3,.9 3,.8 3.2,.8 3.3,.9 3.5,.8 3.6,.8 3.5,.8 3.3,.6 2.8,.5 4.9,.4 3.9,0 2.7,0" fill="none" stroke="#0062FF" stroke-width="4.4" stroke-dasharray="19.2 19.2"/>
</g>
<line x1="659.2" y1="42.0" x2="1090.0" y2="42.0" stroke="#262626" stroke-width="3.4"/>
<line x1="659.2" y1="332.0" x2="1090.0" y2="332.0" stroke="#262626" stroke-width="3.4"/>
<line x1="754.7" y1="42.0" x2="754.7" y2="47.5" stroke="#262626" stroke-width="3.4"/>
<line x1="754.7" y1="332.0" x2="754.7" y2="326.5" stroke="#262626" stroke-width="3.4"/>
<line x1="850.2" y1="42.0" x2="850.2" y2="47.5" stroke="#262626" stroke-width="3.4"/>
<line x1="850.2" y1="332.0" x2="850.2" y2="326.5" stroke="#262626" stroke-width="3.4"/>
<line x1="945.8" y1="42.0" x2="945.8" y2="47.5" stroke="#262626" stroke-width="3.4"/>
<line x1="945.8" y1="332.0" x2="945.8" y2="326.5" stroke="#262626" stroke-width="3.4"/>
<line x1="1041.3" y1="42.0" x2="1041.3" y2="47.5" stroke="#262626" stroke-width="3.4"/>
<line x1="1041.3" y1="332.0" x2="1041.3" y2="326.5" stroke="#262626" stroke-width="3.4"/>
<line x1="659.2" y1="40.3" x2="659.2" y2="333.7" stroke="#C00010" stroke-width="3.4"/>
<line x1="659.2" y1="332.0" x2="664.7" y2="332.0" stroke="#C00010" stroke-width="3.4"/>
<line x1="659.2" y1="249.1" x2="664.7" y2="249.1" stroke="#C00010" stroke-width="3.4"/>
<line x1="659.2" y1="166.3" x2="664.7" y2="166.3" stroke="#C00010" stroke-width="3.4"/>
<line x1="659.2" y1="83.4" x2="664.7" y2="83.4" stroke="#C00010" stroke-width="3.4"/>
<line x1="1090.0" y1="40.3" x2="1090.0" y2="333.7" stroke="#0062FF" stroke-width="3.4"/>
<line x1="1090.0" y1="332.0" x2="1084.5" y2="332.0" stroke="#0062FF" stroke-width="3.4"/>
<line x1="1090.0" y1="259.5" x2="1084.5" y2="259.5" stroke="#0062FF" stroke-width="3.4"/>
<line x1="1090.0" y1="187.0" x2="1084.5" y2="187.0" stroke="#0062FF" stroke-width="3.4"/>
<line x1="1090.0" y1="114.5" x2="1084.5" y2="114.5" stroke="#0062FF" stroke-width="3.4"/>
<line x1="1090.0" y1="42.0" x2="1084.5" y2="42.0" stroke="#0062FF" stroke-width="3.4"/>
<text x="626.18" y="342.50" font-family="'Liberation Serif', 'DejaVu Serif', serif" font-size="46" fill="#C00010" textLength="22.43" lengthAdjust="spacingAndGlyphs">0</text>
<text x="603.76" y="259.64" font-family="'Liberation Serif', 'DejaVu Serif', serif" font-size="46" fill="#C00010" textLength="44.85" lengthAdjust="spacingAndGlyphs">20</text>
<text x="603.76" y="176.79" font-family="'Liberation Serif', 'DejaVu Serif', serif" font-size="46" fill="#C00010" textLength="44.85" lengthAdjust="spacingAndGlyphs">40</text>
<text x="603.76" y="93.93" font-family="'Liberation Serif', 'DejaVu Serif', serif" font-size="46" fill="#C00010" textLength="44.85" lengthAdjust="spacingAndGlyphs">60</text>
<g clip-path="url(#c3)">
<line x1="1277.0" y1="42.0" x2="1277.0" y2="332.0" stroke="#D5D5D5" stroke-width="1.4"/>
<line x1="1372.5" y1="42.0" x2="1372.5" y2="332.0" stroke="#D5D5D5" stroke-width="1.4"/>
<line x1="1468.1" y1="42.0" x2="1468.1" y2="332.0" stroke="#D5D5D5" stroke-width="1.4"/>
<line x1="1563.6" y1="42.0" x2="1563.6" y2="332.0" stroke="#D5D5D5" stroke-width="1.4"/>
<line x1="1181.5" y1="243.1" x2="1612.3" y2="243.1" stroke="#FF9AA3" stroke-width="1.4"/>
<line x1="1181.5" y1="146.4" x2="1612.3" y2="146.4" stroke="#FF9AA3" stroke-width="1.4"/>
<line x1="1181.5" y1="49.7" x2="1612.3" y2="49.7" stroke="#FF9AA3" stroke-width="1.4"/>
<path d="M1181,174.4l3.9,.9 4,.3 3.8-1.2 3.8-1.3 4-.1 4,.1 3.9-.5 3.8-1.2 3.9-.9 2.7,2.3 2,3.5 3.4-.6 3.7-1.4 4,.3 3.9,.6 4,.6 4,.5 3.9,.4 4,.3 4-.1 4-.5 3.8-1.1 3.9-1 3.9,.4 3.7,1.5 3.7,1.5 3.9,.6 4,.2 3.6,1.5 2.4,3.1 2.8,2.4 3.7-1.3 3.3-2.3 2.7-3 2.4-3.2 2.7-2.9 3.9,.7 2.8-1.6 2.6-3.1 2.7,.3 2.4,3.2 2.9,2.6 3.6,1.8 3.6,1.6 3.6,1.8 3.5,1.8 3.5,2.1 3.7,1.4 3.8-1.1 3.8-1.4 3.7,1.2 3.8,1.2 3.9-.9 3.3-2.1 2.8-2.9 1.9-3.5 1.2-3.8 .9-3.9 .7-3.9 .6-4 .5-4 .6-3.9 .6-4 .6-3.9 .9-4 1.3-3.7 2.3-3.3 3.3-2.2 2.7,2.2 1.3,3.8 1,3.8 1,3.9 1,3.9 .9,3.9 .8,3.9 .9,3.9 .9,3.9 1,3.9 1.3-1.5 1.6,3.7 1.6,3.6 2.4,3.1 1.6-3.2 .7-3.9 .6-3.9 .6-4 .7-4 .7-3.9 .7-3.9 .8-3.9 1.7-3.6 1.7-3.6 1.2-3.8 .7-4 .6-3.9 .5-4 .6-4 .5-3.9 .6-4 .6-3.9 .6-4 .7-4 .6-3.9 .7-3.9 .7-4 .8-3.9 .8-3.9 1-3.9 1.8,1.4 .8,3.9 .7,3.9 .9,3.9 1,3.9 1.2,3.8 1.3,3.8 1.9,3.5 2.4,3.2 2.6,3 2.2,3.3 1.2,3.8 1.1,3.9 1.1,3.8 1.3,3.8 1.5,3.7 1.5,3.7 1.6,3.7 2,3.4 2.5,3.1 2.7,2.9 2.1,3.4 1.8,3.6 2.5,3.1 3.5,.1 2.9-2.8 2.7-2.9 3-2.6 3.5-1.2 3.7,1.4 3.4-.5 3.4-2 2.9,1.4 1.7,3.6 1.6,3.6 2.7,1.9 2.8-2.7 2.1-3.4 1.9-3.5 2.6-2.8 3,2.5 2.5,3.1 3.2,2 4-.2 3.4,1.3 1.8,3.5 1.5,3.7 1.8,3.6 2.8-.7 2.7-3 3.7-.1 3.8,1.3 3.6,1.8 3.3,2.2 3.2,2.4 3.1,2.5 3.4,2 3.7-1 3.1-2.6 3.3-2.1 3.8-1.4 3.5,.6 2.9,2.8 3.4,1 3.1-2.4 2.3-3.3 2.1-3.4 2.6-3 2.8,1.5 1.8,3.6 2.3,3.3 2.8,2.8 2.9,2.8 2.3,2.2 0,12.2 -2.3-2.2 -2.9-2.8 -2.8-2.9 -2.3-3.3 -1.8-3.5 -2.8-1.6 -2.6,3 -2.1,3.4 -2.3,3.2 -3.1,2.5 -3.4-1.1 -2.9-2.8 -3.5-.6 -3.8,1.4 -3.3,2 -3.1,2.6 -3.7,.9 -3.4-2 -3.1-2.5 -3.2-2.4 -3.3-2.2 -3.6-1.8 -3.8-1.4 -3.7,.1 -2.7,3 -2.8,.6 -1.8-3.5 -1.5-3.8 -1.8-3.5 -3.4-1.3 -4,.1 -3.2-2 -2.5-3 -3-2.6 -2.6,2.8 -1.9,3.5 -2.1,3.4 -2.8,2.6 -2.7-1.9 -1.6-3.6 -1.7-3.6 -2.9-1.5 -3.4,2 -3.4,.6 -3.7-1.5 -3.5,1.2 -3,2.6 -2.7,2.9 -2.9,2.7 -3.5-.1 -2.5-3.1 -1.8-3.6 -2.1-3.4 -2.7-3 -2.5-3.1 -2-3.4 -1.6-3.7 -1.5-3.7 -1.5-3.7 -1.3-3.8 -1.1-3.9 -1.1-3.8 -1.2-3.8 -2.2-3.4 -2.6-3 -2.4-3.2 -1.9-3.6 -1.3-3.7 -1.2-3.9 -1-3.8 -.9-3.9 -.7-4 -.8-3.9 -1.8-1.4 -1,3.9 -.8,3.9 -.8,3.9 -.7,4 -.7,3.9 -.6,3.9 -.7,4 -.6,3.9 -.6,4 -.6,3.9 -.5,4 -.6,4 -.5,3.9 -.6,4 -.7,3.9 -1.2,3.8 -1.7,3.6 -1.7,3.6 -.8,3.9 -.7,3.9 -.7,4 -.7,3.9 -.6,4 -.6,3.9 -.7,3.9 -1.6,3.2 -2.4-3.1 -1.6-3.7 -1.6-3.6 -1.3,1.4 -1-3.9 -.9-3.9 -.9-3.9 -.8-3.9 -.9-3.9 -1-3.9 -1-3.9 -1-3.8 -1.3-3.8 -2.7-2.3 -3.3,2.3 -2.3,3.2 -1.3,3.7 -.9,4 -.6,3.9 -.6,4 -.6,3.9 -.5,4 -.6,3.9 -.7,4 -.9,3.9 -1.2,3.8 -1.9,3.5 -2.8,2.8 -3.3,2.1 -3.9,.9 -3.8-1.3 -3.7-1.1 -3.8,1.3 -3.8,1.1 -3.7-1.5 -3.5-2 -3.5-1.9 -3.6-1.8 -3.6-1.7 -3.6-1.8 -2.9-2.6 -2.4-3.2 -2.7-.4 -2.6,3.1 -2.8,1.6 -3.9-.8 -2.7,3 -2.4,3.1 -2.7,3 -3.3,2.3 -3.7,1.3 -2.8-2.4 -2.4-3.2 -3.6-1.4 -4-.2 -3.9-.7 -3.7-1.5 -3.7-1.5 -3.9-.5 -3.9,1 -3.8,1.1 -4,.5 -4-.1 -4-.2 -3.9-.5 -4-.5 -4-.6 -3.9-.7 -4-.3 -3.7,1.4 -3.4,.6 -2-3.5 -2.7-2.3 -3.9,.8 -3.8,1.2 -3.9,.5 -4-.2 -4,.1 -3.8,1.3 -3.8,1.2 -4-.4 -3.9-.9Z" fill="#FF0000" fill-opacity="0.12" stroke="none"/>
<path d="M1181,253.9l3.9,.9 3.9,1 3.8,.9 3.9,.8 4-.3 3.6-1.6 3.2-2.4 2.6-3.1 2.3-3.2 3.1-2.2 4,.3 3.9,.7 3.9-.8 3.8,.1 3.3,2.3 3.3,2.2 3.9,.6 4-.4 4-.3 3.9-1 3.2-2.4 3-2.7 3.1-2.5 3.6-1.5 3.6,1.8 3.6,0 2.3-3.2 1.8-3.6 2.1-3.4 2.4-3.2 2.5-3.2 2.3-3.2 1.9-3.6 1.6-3.6 3-1.7 3.6,1.6 3.5,1.9 3.9,.7 4,.4 4,0 4-.3 3.9-.9 3.6-1.8 3.2-2.4 3-2.6 2.9-2.8 3.3-2.2 2.9,2.7 2.9,2.4 4-.3 3.7-1.4 3.4-2.1 3.2-2.4 3.4-2.2 3.3-2.2 3.4-2.2 3.5-2 2.8-2.8 1.9-3.5 1.6-3.6 2.1-3.4 2.8-2.9 2.6-3 1.9-3.5 1.6-3.7 1.3-3.8 1-3.9 1-3.6 1-3.5 .9-3.5 1.1-3.5 1.3-3.2 1.7-3 1.6-3 1.1-3.4 .8-3.6 .6-3.9 .6-4 .5-4 .6-3.9 .6-4 .7-3.9 1-3.9 1.2-3.8 1.5-3.7 1.8-3.6 1.7-3.6 1.7-3.6 1.6-3.7 1.6-3.7 1.5-3.6 1.6-3.7 1.6-3.7 1.5-3.7 1.5-3.7 1.5-3.7 1.6-3.7 1.9-3.2 2,3 1.2,3.8 1,3.8 .8,4 .7,3.9 .7,3.9 .6,4 .6,4 .6,3.9 .6,4 .6,3.9 .6,4 .6,3.9 .6,4 .6,3.9 .5,4 .6,4 .5,3.9 .6,4 .6,3.9 .6,4 .7,3.9 1,3.9 1.4,3.7 1.7,3.7 1.6,3.6 1.8,3.6 2,3.5 2.1,3.3 2.3,3.3 2.7,2.8 1.8,3.2 .7,3.7 .6,3.9 .6,3.8 .7,3.8 1,3.7 1,3.7 1,3.6 .9,3.8 .7,3.8 .6,3.8 .6,3.8 .7,3.8 .5,3.9 .6,3.8 .7,3.8 1,3.7 1.3,3.5 1.5,3.4 1.8,3.2 1.8,3.2 1.9,3.1 2.1,3 2.5,2.6 3,1.9 3.5,1.2 3.9,.9 3.7-1.4 3.3-2.3 3.2-2.3 3.4-2.2 3.3-2.2 3-2.6 3.4-1.5 3.3,2.3 2.7,2.9 2.9,2.8 3.7,1 4,.2 3.6,1.8 3.2,2.6 3.6,1.8 3.9,.9 3.9,.9 3.9,1.3 3.9,1.1 3.9,.9 4,.7 4,.1 3.9-.6 3.8-1.1 3.7-1.4 3.6-1.7 3.6-1.8 3.6-1.5 3.8-1.1 3.9-1.1 3.8-1 3.1-.8 0,15.2 -3.1,.9 -3.8,1.2 -3.9,1.2 -3.8,1.3 -3.6,1.6 -3.6,1.9 -3.6,1.9 -3.7,1.6 -3.8,1.2 -3.9,.8 -4,0 -4-.5 -3.9-.7 -3.9-.7 -3.9-.8 -3.9-.5 -3.9-.4 -3.6-1.4 -3.2-2.2 -3.6-1.3 -4,.2 -3.7-.5 -2.9-2.8 -2.7-2.9 -3.3-2.3 -3.4,1.5 -3,2.6 -3.3,2.2 -3.4,2.2 -3.2,2.3 -3.3,2.3 -3.7,1.4 -3.9-.9 -3.5-2.6 -3-3.2 -2.5-3.7 -2.1-3.9 -1.9-3.9 -1.8-3.9 -1.8-4 -1.5-4 -1.3-4.1 -1-4 -.7-4.1 -.6-4.1 -.5-4 -.7-4.1 -.6-4.1 -.6-4.1 -.7-4.1 -.9-4 -1-4.1 -1-4.1 -1-4.1 -.7-4 -.6-4.1 -.6-4.1 -.7-4.1 -1.8-3.9 -2.7-3.1 -2.3-3.3 -2.1-3.3 -2-3.5 -1.8-3.6 -1.6-3.6 -1.7-3.7 -1.4-3.7 -1-3.9 -.7-3.9 -.6-4 -.6-3.9 -.6-4 -.5-3.9 -.6-4 -.5-4 -.6-3.9 -.6-4 -.6-3.9 -.6-4 -.6-3.9 -.6-4 -.6-3.9 -.6-4 -.6-4 -.7-3.9 -.7-3.9 -.8-4 -1-3.8 -1.2-3.8 -2-3 -1.9,3.2 -1.6,3.7 -1.5,3.7 -1.5,3.7 -1.5,3.7 -1.6,3.7 -1.6,3.7 -1.5,3.6 -1.6,3.7 -1.6,3.7 -1.7,3.6 -1.7,3.6 -1.8,3.6 -1.5,3.7 -1.2,3.8 -1,3.9 -.7,3.9 -.6,4 -.6,3.9 -.5,4 -.6,4 -.6,3.9 -.8,4.3 -1.1,4.2 -1.6,4.3 -1.7,4.3 -1.3,4.3 -1.1,4.3 -.9,4.3 -1,4.3 -1,4 -1,3.9 -1.3,3.8 -1.6,3.6 -1.9,3.5 -2.6,3.1 -2.8,2.8 -2.1,3.3 -1.6,3.7 -1.9,3.5 -2.8,2.7 -3.5,2 -3.4,2.1 -3.3,2.2 -3.4,2.2 -3.2,2.3 -3.4,2.1 -3.7,1.4 -4,.3 -2.9-2.5 -2.9-2.7 -3.3,2.1 -2.9,2.8 -3,2.6 -3.2,2.4 -3.6,1.7 -3.9,.8 -4,.3 -4,0 -4-.4 -3.9-.8 -3.5-1.9 -3.6-1.7 -3,1.7 -1.6,3.6 -1.9,3.6 -2.3,3.2 -2.5,3.1 -2.4,3.2 -2.1,3.4 -1.8,3.6 -2.3,3.2 -3.6-.1 -3.6-1.8 -3.6,1.5 -3.1,2.4 -3,2.7 -3.2,2.4 -3.9,1 -4,.2 -4,.3 -3.9-.6 -3.3-2.2 -3.3-2.3 -3.8-.2 -3.9,.8 -3.9-.7 -4-.4 -3.1,2.2 -2.3,3.2 -2.6,3.1 -3.2,2.3 -3.6,1.6 -4,.2 -3.9-.8 -3.8-.9 -3.9-1 -3.9-1Z" fill="#FF0000" fill-opacity="0.12" stroke="none"/>
<path d="M1181,178.3l1.9-1.1 2,3.2 2,1.6 2-.1 1.9-1.3 1.9-2.9 1.9,.2 1.9-.5 2,1.6 2-1.3 2-1.8 2,.8 2-.5 1.9,2.8 1.9-.3 1.9-1.8 1.9-1.5 2-1.4 1.6,2.2 1.1,2 1,2.1 1,0 1.5-1.5 1.9,.3 1.8-.3 1.9,2 2,.1 2-1.7 2,.7 1.9-1.1 2,2.7 2,.5 2-1.1 2-1 1.9-1.1 2,2.2 2,.8 2,2 2-1.4 2-1.6 2,1.1 2-.7 1.9,1.7 1.9-1.8 1.9-2.5 2-1.3 1.9-.2 2,3.1 1.9,.6 1.8,1.7 1.8-1.2 1.9,.2 1.9,2.6 2,.1 2,1.4 2-2.2 1.9-1.1 1.7,.9 1.2,2.3 1.2,3.8 1.3,.5 1.5,.9 1.9-1.8 1.8-.5 1.7,1.6 1.6-1.9 1.3-.8 1.4-4.1 1.2-3 1.2-.2 1.3-1.1 1.4,.1 1.9-1.4 2,.2 1.7-.3 1.1-.7 1.2,1.1 1.4-2.8 1.3-1.2 1.4-.7 1.3,.5 1.1,4 1.2,1.1 1.7,2.1 1.7-.8 1.9-.1 1.8,2.2 1.8,2 1.8,2.9 1.8-1 1.8,.3 1.7-.7 1.7,1.4 1.8,3.4 1.8-.8 1.9,.9 1.9-2.4 1.9-.3 1.9,1.5 1.9,.3 1.8,1.3 1.9-2 1.9,.6 1.9,0 2,.8 1.9,1 1.7-3.5 1.6-1.3 1.5-2.6 1.3-.1 1,.6 .9-1.8 .6-2.1 .6-4.4 .5-.9 .4-1.8 .4-.9 .3-1.8 .3-5.2 .3-1.5 .3-2.3 .2,.3 .3-.7 .3-2.9 .3-2.6 .3-3.6 .3,.4 .3-2 .4-1.7 .5-3.1 .6-4.7 .7-.4 .9-1.2 1.4,.5 1.6-1.3 1.7-2.4 1.6,.5 1.1,1.2 .7,4.3 .6,1.6 .5,1.2 .5,.6 .5-.4 .5,4.6 .5,2.3 .5,3.1 .4,1.3 .5,.3 .4,2.9 .4,2.5 .5,4.2 .4,.3 .5,.7 .4,.8 .5,1.1 .5,5 .6-2.1 .7,.3 .8,1.9 .8-.2 .8,3 .8,3 .9,2.6 1.5,2.3 1.1-4.2 .5-2.6 .4-2.3 .3-1.6 .4,.5 .2-3.7 .3-2.3 .3-3 .3-.7 .4,0 .3-1.9 .4-1.8 .3-5.4 .4-1.4 .4-1.5 .4-1.4 .7-.7 1-4.2 .9-1.8 .8-1.8 .8,.4 .4-.8 .4-2.8 .3-2.6 .3-4.6 .3-.1 .3-1.5 .2-2 .3-2.1 .3-4.6 .2-.9 .3-1.1 .3,.4 .3-2.2 .3-3.5 .3-2.3 .3-3.4 .3,.7 .4-2.3 .3-2.9 .3-2.9 .3-3.6 .4,.2 .3-.9 .4-.3 .3-3.6 .4-3.2 .4-1.4 .4-2.4 .4,.7 .5-3.7 .5-3.4 1.1-.5 .7,0 .4,4.9 .4,3.1 .3,1.8 .4,1.8 .4-.1 .5,3.3 .5,2.4 .5,3.3 .6,.4 .6-.2 .6,2.1 .7,1.3 .9,5 1,1.6 1.2,.7 1.2,1.2 1.2,.8 1.4,3.8 1.1,1.8 1.1,2 .7-.7 .5,.6 .6,3.1 .5,2 .5,4.5 .6,.4 .7,.9 .6,2.1 .7,2.4 .8,4.2 .7,1 .8,1.4 .8-1 .8,1.9 .9,3.7 1.1,1.4 1.2,3.1 1.3-.9 1.4,1.2 1.3,2.7 1.1,3 1,3.1 .9-.3 .9,1.2 1.1-.4 1.4,2.9 1.7,2.3 1.8-1.6 1.5-.8 1.4-3.8 1.3-.7 1.4,.7 1.4-.7 1.6-.6 1.7-3.6 1.8-.7 1.8,.2 1.9,2.1 1.8,1.9 1.6-3.1 1.6-1.1 1.8-2.6 1.7,1.3 1.2,4.2 .9,1.3 .8,2.5 .8-.8 .8,1.5 1.2,2.5 1.5,.4 1.7,.4 1.1-3.7 1.1-2.6 1-2 1-.2 .9,.7 1-2.9 1.6-.8 1.6-1.1 1.4,1.5 1.2,3.7 1.3,.8 1.5,1.7 1.7-1.8 2-.8 2,1.1 2,1.7 1.4,2.8 1.1,.1 .7,1.6 .8,.6 .7,2.8 .8,4 1-.1 1.3,.9 1.5-3.5 1.4-2.5 1.3,1.1 1.8-.3 1.9,2 1.9-.6 1.9-.7 1.8,1.6 1.8,1.5 1.7,2.9 1.6-.6 1.6,.3 1.6-.6 1.6,1.4 1.5,4.3 1.6,.6 1.8,1.5 1.9-1.8 1.8-1.5 1.5,.7 1.6-.7 1.6-.3 1.7-3.5 1.8-1.7 2-1.3 1.9,.7 1.6,3.3 1.5-.2 1.4,1.7 1.4,0 2,.1 1.6,1.6 1.5-1.6 1.2-1.6 1.1-4.3 1-2.2 1.1-1.3 1.1-.5 1.5,.1 1.6-2 1.2,1.3 .9,1.4 .9,2.6 1,4.9 1.3,0 1.4,1.2 1.4-.7 1.4,.9 1.5,3.1 1.4,1.6 .9,1.2" fill="none" stroke="#42B526" stroke-width="5.6" stroke-linejoin="round"/>
<path d="M1181,174.1l2.4-.3 2.5,3.9 2.5,.3 2.4-1.1 2.3-4 2.4,.3 2.5,1.3 2.5,.3 2.5-2.7 2.5-.5 2.4,2.7 2.4,.6 2.4-2.1 2.4-3.2 2.3,1 1.4,2.8 1.3,2.8 1.3-.2 2.4-.4 2.2-.5 2.4,2.1 2.5-2.1 2.5,0 2.4-.2 2.5,3.2 2.5-2 2.5-.4 2.4-.4 2.5,3.4 2.5-.2 2.5-.7 2.5-1.7 2.5,1.4 2.4,1 2.4-.9 2.4-3.4 2.5-2.3 2.4,2.9 2.4,2.5 2.3,.6 2.3-2.4 2.3,2.8 2.5,1.6 2.5,1.8 2.5-3.3 2.4,.3 1.6,1 1.5,5.5 1.6,.3 2.2,.9 2.3-2.7 2.1,1.3 1.9-2 1.7-2.7 1.6-3.7 1.5-.2 1.6-.7 2.1-1.3 2.4-2.1 2.2,.1 1.4,.3 1.6-.1 1.7-2.7 1.7-1.4 1.5,1.4 1.5,2.9 1.9,3.3 2.1-.2 2.3,1.2 2.3,1.7 2.2,2.4 2.3-.3 2.2,.9 2.2-.3 2.1,4.5 2.3-.6 2.3-.3 2.4-2.2 2.4,2.9 2.4-.5 2.3,.8 2.4-2.8 2.4,1 2.4,1.4 2.4,1.7 2-4.6 2-3 1.6-1.3 1.3,.6 .9-1.8 .7-4.3 .7-2.3 .5-1.8 .4-.9 .4-5.1 .4-2.9 .3-2.9 .4,.8 .3-3.8 .4-2.7 .4-4 .4,.5 .4-3 .6-3.7 .8-5.8 .9-1.2 1.5,.2 2-.3 2.1-2 1.9,1.6 1,3.7 .7,2.3 .7,1.1 .6,0 .6,3.8 .6,2.9 .6,3.4 .5-.5 .6,3.5 .5,3.1 .6,5.3 .5-.3 .6,1.1 .6,1.2 .7,4.9 .6-1.9 1.1,2.5 1-.6 1,4.9 1.1,3.2 1.5,2 1.5-3.6 .6-3 .5-3 .4,.5 .3-4.1 .4-2.8 .4-3.3 .4,1.2 .4-2.1 .5-2.8 .4-4.9 .5-1.7 .5-1.7 .9-2.1 1.3-3.5 1-3 1,.1 .5-2.2 .5-3.4 .3-5.1 .4-.9 .3-2.4 .4-2.1 .3-6.1 .3-1.3 .4-1.4 .3,.7 .4-4.5 .4-2.9 .4-3.2 .4-.6 .4-3.8 .4-3.7 .4-2.5 .4,0 .5-.8 .4-3.8 .5-3.2 .5-2.4 .5-.3 .6-4.4 .8-3.2 1.3-.6 .5,3.3 .5,4.2 .4,2.8 .5,.2 .6,3.2 .6,3.4 .7,4 .7-1 .7,2.1 .9,2.7 1.2,5.3 1.3,1.5 1.5,1.9 1.5-.6 1.7,4.4 1.4,.8 1,1.8 .7,.3 .7,3.9 .6,3.9 .8,2.5 .8,1.7 .8,2.5 .9,4.5 .9,2.8 1,1.4 1-1.2 1,2.9 1.3,3 1.5,3.2 1.7-.2 1.7,3.3 1.4,2.4 1.3,4.8 1.1-1.5 1.3,1.4 1.5,1.1 2.1,3.4 2.1-1.5 1.9-1.2 1.7-3.1 1.7,1.1 1.8-1.8 2-2.5 2.2-3.1 2.3,1 2.4,3.3 2.1-.7 2-3.6 2.2-1.7 2,1.7 1.4,6 1,2.2 1-.3 1.1,1.4 1.5,1.7 2.2,.3 1.5-4.4 1.4-2.2 1.2-2.4 1.1,1.2 1.3-2 2-1.5 2-.9 1.5,3.2 1.6,2.5 1.8,2.1 2.4-2 2.5,.5 2.5-.5 1.7,4.2 1.2-.2 .9,2.7 .9,2.9 1,4.8 1.4,.7 1.9-2.5 1.7-4.3 1.6,.8 2.5,1.5 2.4,.7 2.3-1 2.3,1.3 2.1,1.8 2.1,1.8 2,.5 2,0 1.9,4.1 2,1.1 2.2,1.5 2.3-2.5 2.1,.1 2-.1 2-.8 2.2-5 2.3-1 2.4-.3 2.1,4.7 1.8,.4 1.7,.8 2.3-1.3 2.1,1.1 1.8-1 1.5-2.5 1.3-4.8 1.3-.9 1.4-1.2 2-.9 1.8-.8 1.1,2.6 1.2,3.3 1.3,5.2 1.7,.8 1.8-.3 1.8,.9 1.8,2.2 1.6,1.4" fill="none" stroke="#000" stroke-width="1.15" stroke-dasharray="9 2"/>
<path d="M1181,181.6l2.4,1.1 2.5,3.3 2.5-.5 2.4-1.2 2.3-2.3 2.4,.1 2.5-.3 2.5,.9 2.5-2.3 2.5-.4 2.4,1.9 2.4,1.6 2.4-2.4 2.4-3.4 2.3,2.4 1.4,2.7 1.3,2.6 1.3-1.7 2.4-1.6 2.2,.7 2.4,3.5 2.5-2.7 2.5,.5 2.4-.7 2.5,2.8 2.5-2.2 2.5,.8 2.4-.9 2.5,1.7 2.5,1.2 2.5,.2 2.5-2 2.5-.1 2.4,2.5 2.4-.7 2.4-4.2 2.5-2.2 2.4,2.7 2.4,2.4 2.3,.6 2.3-.4 2.3,2.7 2.5-.4 2.5,1.3 2.5-2.6 2.4,1.4 1.6,1.1 1.5,4.1 1.6,1 2.2,1 2.3-2.6 2.1,1.4 1.9-2.2 1.7-2.2 1.6-3.7 1.5-1.1 1.6-1.5 2.1-.1 2.4-1.3 2.2,0 1.4-.8 1.6-.3 1.7-2.8 1.7,.7 1.5,1.2 1.5,2.9 1.9,1.9 2.1,.1 2.3,.5 2.3,1.7 2.2,3.2 2.3,.8 2.2,1.1 2.2-1.9 2.1,3.6 2.3,.4 2.3,.9 2.4-3.3 2.4,2 2.4,1.6 2.3,.4 2.4-3.3 2.4,1.6 2.4,1.3 2.4,.7 2-4.7 2-1.9 1.6-.4 1.3-.3 .9-2.3 .7-4.8 .7-2.6 .5-2 .4-1.1 .4-5.1 .4-2.8 .3-2.6 .4,1.2 .3-3.6 .4-2.7 .4-4.1 .4,.4 .4-2.5 .6-2.9 .8-4.8 .9-1 1.5-.8 2-1.5 2.1-1.8 1.9,.9 1,3.5 .7,2.6 .7,1.2 .6-.1 .6,3.8 .6,3.2 .6,3.8 .5-.2 .6,3.7 .5,3.2 .6,5.1 .5-.1 .6,1.8 .6,1.6 .7,4.7 .6-2.6 1.1,1.7 1-1.2 1,4.8 1.1,3.4 1.5,3.9 1.5-4.4 .6-3 .5-2.8 .4,.4 .3-4.3 .4-2.9 .4-3.6 .4,1 .4-2.3 .5-3.3 .4-5.2 .5-1.6 .5-1.4 .9-2.3 1.3-2.8 1-1.5 1,.1 .5-2.3 .5-3.6 .3-5.4 .4-1.1 .3-2.5 .4-2.1 .3-6 .3-1.3 .4-1.4 .3,.4 .4-4.7 .4-3 .4-2.9 .4-.2 .4-3.5 .4-3.6 .4-2.8 .4-.4 .5-1 .4-4 .5-3.1 .5-2.4 .5-.1 .6-4.2 .8-3.5 1.3-.8 .5,3.7 .5,4.4 .4,2.8 .5,.2 .6,3.4 .6,3.8 .7,4.6 .7-.8 .7,1.4 .9,1.4 1.2,4.5 1.3,1 1.5,2.4 1.5,1.2 1.7,4.9 1.4,1.7 1,1.3 .7-.4 .7,3.3 .6,3.7 .8,2.5 .8,1.1 .8,2.7 .9,5.5 .9,2.5 1,.9 1-1.8 1,3.3 1.3,3 1.5,4.1 1.7-.4 1.7,3.7 1.4,2.4 1.3,3.5 1.1-.9 1.3,1.5 1.5,2.5 2.1,3.1 2.1-3 1.9-2.1 1.7-2.1 1.7,1.5 1.8-.2 2-4.1 2.2-3.4 2.3,2 2.4,2.3 2.1,.2 2-3.1 2.2-1.7 2,1.6 1.4,3.8 1,1.6 1,.1 1.1,1.6 1.5,3.7 2.2,.6 1.5-4 1.4-3 1.2-3 1.1,1.2 1.3-1.9 2-.2 2-2.6 1.5,3.3 1.6,2.4 1.8,3 2.4-2.8 2.5,.6 2.5,.7 1.7,5.1 1.2-.1 .9,1.9 .9,1 1,4.4 1.4,.7 1.9-1.2 1.7-3.4 1.6,.9 2.5,.2 2.4,.3 2.3,.1 2.3,.5 2.1,3 2.1,2.4 2,.1 2-.6 1.9,2.1 2,2 2.2,3.4 2.3-3 2.1-.2 2-.6 2,.3 2.2-4.3 2.3-2.8 2.4-.5 2.1,5.1 1.8-.1 1.7,1.2 2.3-.6 2.1,2.3 1.8-1.3 1.5-2.9 1.3-6.9 1.3-1.1 1.4-.2 2,.9 1.8-.9 1.1,1.9 1.2,3.6 1.3,3.6 1.7,.8 1.8,.3 1.8,2 1.8,.8 1.6,2.5" fill="none" stroke="#000" stroke-width="1.15" stroke-dasharray="9 2"/>
<path d="M1181,262.1l1.9-2 2-.6 1.9,2.3 2,.6 1.9,1.4 1.9-1.3 2-.4 1.9,1.9 2,1.1 2,1.2 1.9-1.8 1.7-3.1 1.7-1 1.5-1.2 1.3,.1 1.3-1.8 1.1-3.8 1.2-1.4 1.5-1.3 1.6,1.5 2,1.5 2-1.7 1.9,.5 2-1.8 1.9,1.2 2,.9 2-1.8 1.8,.4 1.8-1.7 1.5,3.2 1.6,3 1.7,1.4 2,1.1 1.9-2.8 2,.6 2,.5 2,.3 2,.5 2-3.7 1.9-.6 1.6-.7 1.6,.4 1.5,.5 1.5-3.2 1.5-1.7 1.6-1.6 1.7,.1 1.9,1.1 1.8-.7 1.8-.5 1.9-.7 1.7-.5 1.3,1.3 1-1.5 .9-2.3 .9-2.3 1-2.9 1.1,1.1 1.2-1.5 1.2-1.9 1.2-3 1.3-4.2 1.2,.6 1.1-1.4 1-.4 .9-2.3 .8-4.1 .8,.2 1.3-1.5 1.7,1.8 1.9,.5 1.7-1.9 1.7,.9 1.8,.1 2,2.5 1.9,1 2-1.4 2,0 2-.6 2,2.2 2,1.5 2-1.3 2-1.3 1.9-2.4 1.8-.1 1.8,.6 1.6-1.6 1.6-1.6 1.5-3.1 1.5-.9 1.4,1.1 1.5-.9 1.5-.6 1.8-3.2 1.5,.2 1.4,2.8 1.3,1.4 1.6,2.4 2-2.3 2-1.7 1.9,.6 1.8-.4 1.8,2.2 1.6-2.6 1.6-2.3 1.6-1.4 1.7-1.8 1.7,1.8 1.6-2.6 1.7-2.1 1.7-2.3 1.7-1.7 1.7,2.3 1.8-.9 1.5-.9 1.3-2.8 1-3 .9,.3 .8-1.7 .8-1.4 .9-3.6 1.2-3.7 1.4-.2 1.4-.5 1.5,.3 1.1-2 1-3.6 .9-1.1 .9-1.3 .7-.3 .7-1.9 .6-4.6 .5-2.5 .5-2.3 .5-.2 .5-.5 .5-3.6 .5-1.9 .5-2.8 .4-.1 .6-.1 .5-3.6 .6-2.4 .7-4.5 .7-.9 1,.1 .8-2.4 .8-1.1 .6-4.6 .5-.7 .4-.2 .4-1.5 .3-.9 .3-5.5 .3-2 .3-1.8 .2-1.3 .3-.4 .3-4.8 .3-1.8 .3-2 .3-.4 .3,.5 .4-3.9 .5-2.5 .5-3.6 .5-1.3 .7,0 .7-3 .8-2.2 .8-3.6 1-1.2 .9,.8 .8-1.4 .9-1.6 .8-3.8 .8-2.6 .8-.3 .8-1.6 .8-1.6 .7-3.7 .8-3.4 .8-.3 .8-.9 .8,.1 .8-2.6 .7-3.8 .8-1.1 .7-2 .8,.1 .8-2.7 .7-4.3 .8-1.8 .8-2.6 .8,1.3 1.1-1 1.2,.1 .8,2 .6,0 .6,4.2 .5,2.8 .5,1.2 .4,1.2 .4-.9 .4,3.3 .3,3.2 .3,2.8 .4,2.2 .3-.3 .3,2.8 .3,3.1 .3,3.1 .3,2.3 .3-.8 .3,1.1 .3,2.2 .3,3.1 .3,3.5 .3,.3 .3,1.4 .3,2.2 .3,3 .3,4.4 .3,.5 .3,.7 .3,.7 .2,1.7 .3,4.6 .3,1.1 .3,1.7 .3,.7 .2,1.7 .3,5.2 .3,1.9 .3,2.6 .3-.2 .3,.4 .3,3.9 .3,1.5 .4,3.5 .4-.2 .6,.6 .6,3.5 .8,2.2 .8,4.8 .9,.2 .8,.4 .8,1.7 .9,1.2 .9,4.5 1,.3 1,.6 1,.9 1.1,1.2 1.2,4.9 1.1,1.9 1.3,1.3 1.4,.3 1,.5 .8,3.8 .4,2.2 .3,1.8 .3,.5 .3,0 .3,3.4 .3,3.3 .3,3.1 .4,1.9 .5-.2 .5,2.6 .5,2.8 .5,2.8 .5,2 .5-1.1 .5,1.8 .4,2 .4,3.6 .3,3.7 .3-.2 .3,2.2 .3,1.3 .3,3.6 .4,3.9 .3-.3 .3,1.6 .2-.4 .3,3 .3,4.2 .3,1.1 .4,2.7 .4-.6 .6,3.2 .6,3.9 .7,1.8 .7,2.7 .8-1.7 .9,1.7 .9,2.5 .9,2.3 .9,3.4 .9-.9 1,1.8 1,2.2 1.1,3.1 1.2,3.7 1.3-.5 1.4,.4 1.6,.1 1.7,1.5 1.8,2.8 1.9-.4 2-.5 1.9-1.6 1.8-.5 1.6,1.7 1.7-.8 1.6-1.6 1.6-2.6 1.7-2.4 1.7,.8 1.6-1 1.7-1.2 1.5-2.6 1.5-3.2 1.7,1.1 1.7,.3 1.8,2.6 1.5,1.2 1.4-1.4 1.3,2.7 1.4,1 1.5,3.1 1.7,.6 2-2.9 2,.3 2-.8 1.9,3.2 1.7,2.3 1.6-.3 1.6,1.3 1.7-.6 1.9,2.6 1.9,1.4 2-.9 2-.6 1.9-2 2,1.8 1.9,2.2 1.9,1 2,.6 2-1.6 1.9,.9 2,1.8 2,.9 2,.2 2-2.8 1.9-1.3 2,.5 1.9,.3 1.9,1.1 1.9-2.3 1.8-1.7 1.8,0 1.8-.3 1.8,1.4 1.8-2.7 1.8-2.4 1.8-1.4 1.9-1.2 1.9,2.4 2-1.6 1.9-.9 1.9-1.4 1.9-1 1.9,2.9 1.2-.5" fill="none" stroke="#D20814" stroke-width="5.6" stroke-linejoin="round"/>
<path d="M1181,256.2l2.4-1.5 2.4-.2 2.5,1.1 2.4,2.7 2.4-2.8 2.4,.8 2.5,2.8 2.5,2.7 2.3-5.3 2.1-1.9 2.1-1.3 1.6,0 1.6-3.3 1.4-3.4 1.7-2.7 2,3.7 2.5,.3 2.5-1.7 2.4-1.8 2.4,2.3 2.5-.9 2.5-1 2.2,0 1.9,2.9 2,3 2.3,0 2.4,0 2.5-.5 2.5,.1 2.5,1.3 2.5-1.5 2.4-3.5 2-1.4 1.9,2.5 1.9-2.5 1.9-2.8 2-2.7 2.3,2.6 2.3,1 2.2-3.3 2.4-.7 1.9,.7 1.3,.3 1.2-2.8 1.2-3.7 1.3-2 1.4-.6 1.5-.8 1.5-3.6 1.6-4 1.4-1.2 1.3-1.3 1.1-3.6 1-3.1 1.4,.1 2,2.1 2.3-1.2 2.2-.6 2.1,2 2.5,1.3 2.4-.5 2.5-.4 2.5,.6 2.5,.5 2.5,2.2 2.5-.6 2.4-3.3 2.3-2.8 2.2,1.9 2-1.4 1.9-3.1 1.9-3 1.8,1.2 1.8,1.1 2.1-3.9 2-2.5 1.7,3.8 1.7,2.7 2.4,1.2 2.5-4.3 2.4,.9 2.2,1.6 2.1-1.1 2-3.9 2-2.6 2.1,.6 2.1,.5 2.1-4.8 2.1-1.6 2.2-1.1 2.1,2 2-3.4 1.5-3.7 1.3-1.9 1,1.4 1-2.5 1.1-4.7 1.7-3.9 1.8,0 1.8-.4 1.3-1.5 1.3-3.2 1.1-1.8 .9-2.5 .8-3.1 .8-4.9 .6-2.8 .6-.7 .6,.1 .6-3.3 .6-3 .6-.8 .7,.3 .7-3.4 .8-4.5 .9-2.3 1.2,0 1.1-2.4 .7-3.5 .7-1.9 .5,.3 .4-1.2 .4-3.7 .4-4.1 .3-2.2 .4-1.3 .3-2.9 .4-4.2 .4-2.5 .4-.2 .4-1.7 .6-4.5 .6-4.2 .7-1 .9-1.3 1-3.6 1.1-3.9 1.1-.1 1.1,.4 1.1-2.4 1-5.1 1-2.5 1-1.1 1-1.7 .9-4.1 1-2.8 1-1.3 1-.3 1-3.2 .9-3.7 1-2.8 .9-.4 1-2.9 .9-3.7 1-2.9 1,.6 1.6-1.2 1.1,.7 .9,1.3 .7,4 .6,3.6 .6,1.5 .5,.2 .5,2.4 .4,4 .4,3.6 .4,1.2 .4,2.2 .3,3.8 .4,4.3 .4,.5 .4,.2 .4,2.4 .4,4.7 .3,1.6 .4,.9 .4,2.5 .3,5.2 .4,2.4 .4,.8 .3,.8 .4,4.3 .4,3 .3,2.3 .3,1.1 .4,4.2 .3,4.1 .4,3.5 .3-.2 .4,2.1 .4,3.1 .5,3.8 .6-.3 .6,1.9 1,3.6 1,5.1 1.1,.2 1,1.1 1.1,2.3 1.1,4.8 1.2,.5 1.3,.3 1.3,.7 1.5,5.5 1.4,2.8 1.7,2 1.4,0 1.1,3.3 .5,2.4 .4,2.3 .3-1 .4,3.2 .4,3.8 .4,4.2 .6-.4 .6,2.8 .6,3.6 .7,4.6 .6-.7 .6,1.4 .5,2.2 .4,4.9 .4,.7 .4,2.1 .4,1.6 .4,5.2 .4,1.3 .4,1.6 .3-.2 .3,4.6 .4,2.7 .5,2.9 .6-.2 .7,4.7 .8,3.9 .9,3.5 1-1.2 1.1,2.5 1.1,1.5 1.2,2.7 1.2-.5 1.2,3.5 1.3,2.6 1.5,4.4 1.6-1.5 1.9-.1 2.1,.2 2.2,6 2.4-2.8 2.4-.8 2.3-2.2 2.1,3.1 2.1-3.2 2-1.8 2.1-2.2 2.1,1 2.1-2 2-2.8 1.9-4.5 2,2.2 2.2-1.3 2.1,3 1.8,.9 1.6,2.6 1.7,2.6 1.9,1.3 2.5-2.3 2.5,1 2.5-2.3 2.2,4.7 2.1,1.9 2,2.9 2.1-1.7 2.4,2.3 2.5,1 2.5-.5 2.4-3.5 2.4,4.3 2.5,3.6 2.4-.8 2.4-2.4 2.5,3.2 2.5,1.3 2.5-1 2.5-1 2.4,.1 2.4-1.5 2.4,.6 2.4-.8 2.2-2 2.3-1.6 2.2,3.1 2.2-2.3 2.3-2.5 2.3-4.7 2.4,4.2 2.4-1.6 2.4-1.6 2.4-2.5 2.4,5.3 1.2-.3" fill="none" stroke="#000" stroke-width="1.15" stroke-dasharray="9 2"/>
<path d="M1181,268.8l2.4-3.7 2.4,.9 2.5,3.5 2.4,1.1 2.4-2.6 2.4,0 2.5,3.5 2.5,1.1 2.3-3.7 2.1-2.3 2.1-.4 1.6,.1 1.6-2.8 1.4-4.2 1.7-3.1 2,2.2 2.5,1.7 2.5-1.1 2.4-2.1 2.4,1.4 2.5,2.3 2.5-2.9 2.2-1.6 1.9,2.7 2,4.8 2.3,.7 2.4-2.2 2.5,.2 2.5,2.1 2.5,.6 2.5-4.4 2.4-.6 2-1 1.9,1.4 1.9-3.3 1.9-2.8 2-1.2 2.3,2.7 2.3-.5 2.2-2.1 2.4-1.1 1.9,1.7 1.3-.1 1.2-4.2 1.2-3.5 1.3-1.5 1.4-.7 1.5-1.6 1.5-2.7 1.6-3.1 1.4-1.2 1.3-.7 1.1-4.3 1-3.4 1.4-.1 2,1.7 2.3,.4 2.2-3.3 2.1,2.2 2.5,2.7 2.4,2.1 2.5-3.5 2.5,1 2.5,1.8 2.5,.8 2.5-2.3 2.4-2 2.3,.5 2.2-.4 2-1.7 1.9-3.6 1.9-1.2 1.8,1.1 1.8-1.2 2.1-3.6 2-1.5 1.7,4.9 1.7,2.6 2.4,0 2.5-4.2 2.4,1.9 2.2,.5 2.1,0 2-5.2 2-1.3 2.1-.8 2.1,1.5 2.1-4.7 2.1-2.3 2.2-1 2.1,3.5 2-3.4 1.5-3.9 1.3-3.2 1-.5 1-2 1.1-3 1.7-3.1 1.8-.2 1.8-1 1.3-2.6 1.3-3.4 1.1,.2 .9-1.2 .8-2.2 .8-5 .6-3.4 .6-1.3 .6-.8 .6-4.4 .6-4.4 .6-2.1 .7-.5 .7-3.9 .8-4.7 .9-2.3 1.2-.6 1.1-2.5 .7-3.8 .7-2.9 .5-.5 .4-1.9 .4-4 .4-4.4 .3-2.3 .4-1.4 .3-2.8 .4-3.9 .4-2.1 .4,.1 .4-1.3 .6-4.4 .6-4 .7-.8 .9-1.2 1-3.3 1.1-4.2 1.1-1.2 1.1-.4 1.1-2.5 1-4.2 1-2.4 1-1.1 1-1.5 .9-4.1 1-3 1-1.8 1,.1 1-3 .9-3.7 1-2.6 .9-.1 1-2.4 .9-4 1-3.6 1,.4 1.6-.9 1.1,.7 .9,.8 .7,3.7 .6,3.7 .6,1.6 .5,.5 .5,2.7 .4,4 .4,3.6 .4,1.1 .4,1.9 .3,3.7 .4,4.3 .4,.7 .4,.4 .4,2.6 .4,4.9 .3,1.7 .4,1 .4,2.5 .3,5.2 .4,2.1 .4,.6 .3,.6 .4,4.2 .4,3 .3,2.4 .3,1 .4,4.2 .3,4 .4,3.4 .3-.1 .4,2.1 .4,3.2 .5,4.1 .6-.1 .6,2.1 1,3.8 1,4.7 1.1-.1 1,.8 1.1,2.2 1.1,4.5 1.2,.7 1.3,1.5 1.3,1.3 1.5,4.1 1.4,2.4 1.7,1.9 1.4,.3 1.1,4.7 .5,3.3 .4,2.8 .3-.7 .4,3.4 .4,3.9 .4,4.4 .6-.4 .6,2.5 .6,3.3 .7,4.5 .6-.8 .6,1.4 .5,2.3 .4,5.4 .4,1.2 .4,2.6 .4,2.1 .4,5.5 .4,1.8 .4,2 .3,.2 .3,4.9 .4,2.9 .5,2.8 .6-.5 .7,4.7 .8,3.7 .9,3 1-1.9 1.1,2.4 1.1,4.1 1.2,5.3 1.2,0 1.2,3.1 1.3,3.7 1.5,3.7 1.6-1.3 1.9,2.9 2.1,.5 2.2,4.5 2.4-3.3 2.4,1.1 2.3-1.1 2.1,2.6 2.1-3 2-1.4 2.1-4.4 2.1,2.4 2.1-3.3 2-2 1.9-5.8 2,3.7 2.2,.7 2.1,3.1 1.8-2.4 1.6,2.6 1.7,3 1.9,3.1 2.5-3.4 2.5-1.9 2.5,.7 2.2,5.9 2.1-.6 2,.1 2.1-.1 2.4,4.8 2.5-2.4 2.5-1.5 2.4-2 2.4,5.2 2.5,0 2.4,.4 2.4-.5 2.5,2.1 2.5-.1 2.5-.5 2.5-1.4 2.4,.1 2.4-1.7 2.4,2.2 2.4-2.2 2.2-.5 2.3-3.6 2.2,2.2 2.2-3 2.3-.8 2.3-4.1 2.4,2.9 2.4-1.1 2.4-.5 2.4-3.6 2.4,1.7 1.2,.4" fill="none" stroke="#000" stroke-width="1.15" stroke-dasharray="9 2"/>
<path d="M1181.5,210.9l1.4,1.4 1.8,2 2.2,2.3 2.4,2.4 2.5,2.6 2.4,2.4 2.1,2 2.1,2.1 2.2,2.1 2.2,2.2 2.3,2.1 2.3,1.9 2.3,1.9 2.7,1.9 2.8,1.8 2.7,1.6 2.9,1.6 2.8,1.7 2.8,1.7 2.8,1.9 2.9,2 2.8,2 2.9,2 2.8,1.9 2.7,1.8 2.6,1.7 2.6,1.5 2.5,1.5 2.5,1.5 2.6,1.4 2.8,1.5 2.9,1.5 3,1.6 3.2,1.5 3.1,1.5 3,1.5 2.9,1.5 3.2,1.6 2.9,1.6 2.9,1.5 3,1.4 3.3,1.5 3.1,1.1 3.2,1.2 3.4,1.1 3.4,1.1 3.3,1 3.2,1 3.4,1.1 3.3,1.1 3.2,1.1 3.2,.9 3.6,.9 3.3,.6 3.4,.5 3.6,.5 3.6,.4 3.5,.4 3.3,.3 3.2,.3 2.9,.3 3,.3 2.9,.2 3,0 3.1-.2 2.9-.3 3-.4 3.2-.6 3.1-.6 3.1-.8 2.8-.9 2.6-1.1 2.9-1.6 2.4-1.8 2.2-2 2.4-2.7 3.2-3.5 1.6-1.8 1.8-2 1.8-2.1 2-2.3 2-2.4 2.1-2.4 2.1-2.6 2.1-2.6 2.2-2.6 2.1-2.6 2.1-2.6 2-2.5 1.9-2.3 1.9-2.4 2-2.5 2-2.6 2-2.5 2-2.6 2-2.5 1.9-2.5 1.9-2.4 1.7-2.3 1.7-2.3 1.5-2.1 1.4-2 2.3-3.8 1.8-3.4 1.3-3 1.2-2.7 1.3-2.6 1.6-2.6 2-2.5 2.2-2.2 2.2-2.1 2.3-2 2.4-2.1 2.3-2.2 2.3-2.3 2.4-2.4 2.4-2.4 2.4-2.4 2.4-2.4 2.4-2.2 2.4-2.1 2.4-2 2.3-2 2.4-1.9 2.4-1.9 2.4-1.7 3.1-2 3.2-2 3.2-1.8 3.1-1.6 2.7-1.3 3.8-1.6 3.2-1 3.5-.3 3.2,.2 3.4,.4 3.5,.9 3.3,1.4 2.5,1.6 2.4,1.9 2.5,2.2 2.4,2.2 2.6,2.3 2.3,1.8 2.3,2 2.3,2 2.5,2 2.4,2 2.5,1.8 2.6,1.6 2.7,1.4 2.7,1.4 2.8,1.4 2.8,1.5 2.7,1.7 2.7,2 2.8,2.1 2.8,2.3 2.7,2.2 2.7,2.2 2.5,1.9 3.1,2.2 3.1,2.1 3,2 2.4,1.6 1.8,1.2" fill="none" stroke="#FFC000" stroke-width="4.4" stroke-dasharray="19.2 19.2"/>
<path d="M1181.5,259.5l1.6,0 1.9,0 2,0 2.3,0 2.4,0 2.7,0 2.8,.1 2.9,0 3.1,0 3.2,0 3.3,0 3.4,0 3.4,0 3.6,.1 3.6,0 3.6,0 3.7,0 3.7,0 3.7,0 3.6,0 3.7,0 3.6,0 3.6,0 3.4,0 3.5,0 3.3,0 3.2,0 3.1,0 2.9,0 2.9,0 2.6-.1 2.5,0 2.3,0 2.1-.1 1.9,0 8.2-.3 4.7-.5 2.3-.5 1-.6 1-.7 1.9-.7 3-.8 2.7-.8 2.6-.9 2.7-1.1 3.3-1.4 2.4-1.1 2.7-1.3 2.8-1.4 3-1.4 2.9-1.5 2.9-1.4 2.8-1.3 2.5-1.1 3.6-1.6 3.2-1.3 3.1-1.2 3.1-1.2 3.2-1.3 2.9-1.1 3-1.2 3-1.1 3-1.3 2.8-1.3 2.5-1.6 2.7-2.1 2.3-2.2 2.2-2.5 2.1-2.6 2.2-2.9 1.8-2.5 1.8-2.5 1.9-2.7 1.8-2.9 2-3.2 2.1-3.6 1.4-2.3 1.4-2.5 1.5-2.5 1.5-2.6 1.5-2.8 1.6-2.8 1.6-3 1.6-3.1 1.6-3.3 1.6-3.4 1.2-2.5 1.2-2.7 1.2-2.7 1.2-2.9 1.3-2.9 1.3-3 1.2-3 1.3-3 1.2-3.1 1.3-3.1 1.2-3.2 1.2-3.1 1.2-3.1 1.2-3 1.1-2.9 1.1-3 1.1-3.2 1.1-3.2 1.1-3.2 1-3.2 1.1-3.2 1.1-3.2 1-3.1 1-3 1-2.9 .9-2.7 1-2.6 .8-2.4 .9-2.1 2-4.4 1.8-3.4 1.6-2.7 1.5-2.1 1.4-1.7 1.2-1.6 2.7-2.9 2.1-.7 2.5,0 2.3,1.8 1.1,1.9 1,2.9 1.7,5 .8,2 .9,2.2 1,2.5 1,2.6 1.2,2.8 1.1,3 1.2,3.1 1.1,3.2 1.1,3.4 1.1,3.4 .8,2.6 .7,2.7 .8,2.8 .7,2.9 .8,2.9 .7,3.1 .8,3.1 .7,3.1 .8,3.1 .7,3.1 .8,3.2 .7,3.1 .8,3 .7,3 .8,3 .7,3 .8,3.1 .7,3.1 .8,3 .7,3.1 .8,3.1 .7,3 .8,3 .7,2.9 .8,2.9 .7,2.8 .8,2.7 .7,2.6 1.1,3.6 1.1,3.4 1,3.4 1.1,3.2 1.1,3.1 1,3 1.1,3 1,2.8 1,2.7 1,2.6 1.5,3.7 1.4,3.6 1.5,3.4 1.4,3.1 1.3,2.9 1.3,2.4 1.2,2 3.5,2.7 3.2,.2 3.1,0 3.6,0 2.9,.6 3.4,1 4.2,1.3 2.6,.8 2.9,.9 3.1,.9 3.2,1 3.2,1 3.1,1 3,.9 3,.9 3,.9 3,.9 3,.8 3.2,.8 3.3,.9 3.5,.8 3.6,.8 3.5,.8 3.3,.6 2.8,.5 4.9,.4 3.9,0 2.7,0" fill="none" stroke="#0062FF" stroke-width="4.4" stroke-dasharray="19.2 19.2"/>
</g>
<line x1="1181.5" y1="42.0" x2="1612.3" y2="42.0" stroke="#262626" stroke-width="3.4"/>
<line x1="1181.5" y1="332.0" x2="1612.3" y2="332.0" stroke="#262626" stroke-width="3.4"/>
<line x1="1277.0" y1="42.0" x2="1277.0" y2="47.5" stroke="#262626" stroke-width="3.4"/>
<line x1="1277.0" y1="332.0" x2="1277.0" y2="326.5" stroke="#262626" stroke-width="3.4"/>
<line x1="1372.5" y1="42.0" x2="1372.5" y2="47.5" stroke="#262626" stroke-width="3.4"/>
<line x1="1372.5" y1="332.0" x2="1372.5" y2="326.5" stroke="#262626" stroke-width="3.4"/>
<line x1="1468.1" y1="42.0" x2="1468.1" y2="47.5" stroke="#262626" stroke-width="3.4"/>
<line x1="1468.1" y1="332.0" x2="1468.1" y2="326.5" stroke="#262626" stroke-width="3.4"/>
<line x1="1563.6" y1="42.0" x2="1563.6" y2="47.5" stroke="#262626" stroke-width="3.4"/>
<line x1="1563.6" y1="332.0" x2="1563.6" y2="326.5" stroke="#262626" stroke-width="3.4"/>
<line x1="1181.5" y1="40.3" x2="1181.5" y2="333.7" stroke="#C00010" stroke-width="3.4"/>
<line x1="1181.5" y1="243.1" x2="1187.0" y2="243.1" stroke="#C00010" stroke-width="3.4"/>
<line x1="1181.5" y1="146.4" x2="1187.0" y2="146.4" stroke="#C00010" stroke-width="3.4"/>
<line x1="1181.5" y1="49.7" x2="1187.0" y2="49.7" stroke="#C00010" stroke-width="3.4"/>
<line x1="1612.3" y1="40.3" x2="1612.3" y2="333.7" stroke="#0062FF" stroke-width="3.4"/>
<line x1="1612.3" y1="332.0" x2="1606.8" y2="332.0" stroke="#0062FF" stroke-width="3.4"/>
<line x1="1612.3" y1="259.5" x2="1606.8" y2="259.5" stroke="#0062FF" stroke-width="3.4"/>
<line x1="1612.3" y1="187.0" x2="1606.8" y2="187.0" stroke="#0062FF" stroke-width="3.4"/>
<line x1="1612.3" y1="114.5" x2="1606.8" y2="114.5" stroke="#0062FF" stroke-width="3.4"/>
<line x1="1612.3" y1="42.0" x2="1606.8" y2="42.0" stroke="#0062FF" stroke-width="3.4"/>
<text x="1152.28" y="353.73" font-family="'Liberation Serif', 'DejaVu Serif', serif" font-size="46" fill="#C00010" textLength="22.43" lengthAdjust="spacingAndGlyphs">0</text>
<text x="1129.86" y="257.07" font-family="'Liberation Serif', 'DejaVu Serif', serif" font-size="46" fill="#C00010" textLength="44.85" lengthAdjust="spacingAndGlyphs">50</text>
<text x="1107.43" y="160.40" font-family="'Liberation Serif', 'DejaVu Serif', serif" font-size="46" fill="#C00010" textLength="67.27" lengthAdjust="spacingAndGlyphs">100</text>
<text x="1107.43" y="63.73" font-family="'Liberation Serif', 'DejaVu Serif', serif" font-size="46" fill="#C00010" textLength="67.27" lengthAdjust="spacingAndGlyphs">150</text>
<g clip-path="url(#c4)">
<line x1="222.7" y1="397.2" x2="222.7" y2="687.2" stroke="#D5D5D5" stroke-width="1.4"/>
<line x1="318.2" y1="397.2" x2="318.2" y2="687.2" stroke="#D5D5D5" stroke-width="1.4"/>
<line x1="413.8" y1="397.2" x2="413.8" y2="687.2" stroke="#D5D5D5" stroke-width="1.4"/>
<line x1="509.3" y1="397.2" x2="509.3" y2="687.2" stroke="#D5D5D5" stroke-width="1.4"/>
<line x1="127.2" y1="631.7" x2="558.0" y2="631.7" stroke="#FF9AA3" stroke-width="1.4"/>
<line x1="127.2" y1="559.2" x2="558.0" y2="559.2" stroke="#FF9AA3" stroke-width="1.4"/>
<line x1="127.2" y1="486.6" x2="558.0" y2="486.6" stroke="#FF9AA3" stroke-width="1.4"/>
<line x1="127.2" y1="414.1" x2="558.0" y2="414.1" stroke="#FF9AA3" stroke-width="1.4"/>
<path d="M127,658.9l3.9,.7 4,.7 3.9,.6 4,.6 4,.4 4,.3 4,.1 4-.1 4-.1 3.9-.3 4-.2 4-.3 4-.3 4-.3 4-.2 4-.3 4-.2 4-.1 4-.2 4-.2 4-.1 4-.2 4-.1 4-.2 4-.2 4-.1 4-.1 4-.1 4-.2 3.9-.1 4-.2 4-.2 4-.3 4-.3 4-.3 4-.4 4-.5 3.9-.4 4-.5 4-.6 3.9-.8 3.9-1 3.8-1 3.9-1 3.8-1.3 3.7-1.4 3.7-1.5 3.5-2 3.1-2.4 2.7-3 2.5-3.1 2.2-3.4 2.1-3.4 1.9-3.5 2.1-3.4 2.5-3.1 2.8-2.9 2.5-2.7 3.1,2.5 2.8,2.8 3.1,2.4 3.6,1.9 3.8,1.3 3.8,.7 3.7-.8 2.8,2.8 2.2,3.4 2.6,2.9 3.6,.4 3.7-1.7 3.7-1.5 3.9-.8 3.9,.2 3.5,1.9 2.8,2.8 2.6,3 2.9,2.8 3,2.6 3.2,2.5 3.5,1.8 3.8,1.3 3.9,.8 4,.3 4-.3 3.9-.9 3.8-1 4-.6 4-.3 4-.2 4-.4 3.9-.7 3.8-1.1 3.9-.9 4,.4 3.6,1.5 3.5,2.1 3.5,1.9 3.7,1.5 3.7,1.4 3.8,1.2 3.9,1.2 3.8,1.1 3.9,1 3.9,.7 4,.2 4-.2 4-.5 3.9-.4 4-.2 4,.2 4,.4 4,.6 3.9,.6 4,.5 3.9,.5 4,.5 4,.4 1.6,.2 0,6.2 -1.6-.2 -4-.4 -4-.5 -3.9-.5 -4-.5 -3.9-.6 -4-.6 -4-.4 -4-.2 -4,.2 -3.9,.4 -4,.5 -4,.2 -4-.2 -3.9-.7 -3.9-1 -3.8-1.1 -3.9-1.2 -3.8-1.2 -3.7-1.4 -3.7-1.5 -3.5-1.9 -3.5-2.1 -3.6-1.5 -4-.4 -3.9,.9 -3.8,1.1 -3.9,.7 -4,.4 -4,.2 -4,.3 -4,.6 -3.8,1 -3.9,.9 -4,.3 -4-.3 -3.9-.8 -3.8-1.3 -3.5-1.8 -3.2-2.5 -3-2.6 -2.9-2.8 -2.6-3 -2.8-2.8 -3.5-1.9 -3.9-.2 -3.9,.8 -3.7,1.5 -3.7,1.7 -3.6-.4 -2.6-2.9 -2.2-3.4 -2.8-2.8 -3.7,.8 -3.8-.7 -3.8-1.3 -3.6-1.9 -3.1-2.4 -2.8-2.8 -3.1-2.5 -2.5,2.7 -2.8,2.9 -2.5,3.1 -2.1,3.4 -1.9,3.5 -2.1,3.4 -2.2,3.4 -2.5,3.1 -2.7,3 -3.1,2.4 -3.5,2 -3.7,1.5 -3.7,1.4 -3.8,1.3 -3.9,1 -3.8,1 -3.9,1 -3.9,.8 -4,.6 -4,.5 -3.9,.4 -4,.5 -4,.4 -4,.3 -4,.3 -4,.3 -4,.2 -4,.2 -3.9,.1 -4,.2 -4,.1 -4,.1 -4,.1 -4,.2 -4,.2 -4,.1 -4,.2 -4,.1 -4,.2 -4,.2 -4,.1 -4,.2 -4,.3 -4,.2 -4,.3 -4,.3 -4,.3 -4,.2 -3.9,.3 -4,.1 -4,.1 -4-.1 -4-.3 -4-.4 -4-.6 -3.9-.6 -4-.7 -3.9-.7Z" fill="#FF0000" fill-opacity="0.12" stroke="none"/>
<path d="M127,670.5l3.9,.8 4,.8 3.9,.7 3.9,.7 4,.7 3.9,.7 3.9,.7 4,.7 3.9,.7 4,.6 3.9,.5 4,.2 4,.1 4-.1 4-.2 4-.3 4-.3 4-.4 4-.4 4-.3 3.9-.5 4-.6 3.8-1.1 3.7-1.6 3.4-2 3.5-2 3.6-1.6 3.9-1 4-.1 4-.1 4-.4 3.9-.8 3.9-1.1 3.8-1.1 3.8-1.2 3.8-1.2 3.9-1.2 3.8-1.2 3.8-1.2 3.7-1.6 3.6-1.7 3.3-2.2 3.2-2.4 2.9-2.8 2.7-2.9 2.6-3.1 2.3-3.2 2.2-3.4 2.1-3.4 2-3.5 1.8-3.5 1.8-3.6 1.7-3.6 1.6-3.7 1.6-3.6 1.5-3.7 1.4-3.8 1.4-3.8 1.2-3.7 1.2-3.9 1.1-3.8 1-3.9 1.1-3.8 1-3.9 .9-3.9 1-3.9 1-3.9 1-3.8 1-3.9 1.1-3.8 1.2-3.9 1.2-3.8 1.3-3.8 1.1-3.8 .7-3.9 .3-4 .1-4 .6-4 1.1-3.8 1.9-3.5 1.9-3.5 1.7-3.7 1.4-3.7 1-3.9 .8-3.9 .7-3.9 .6-4 .6-4 .5-3.9 .5-4 .5-4 .5-3.9 .6-4 .5-3.9 .6-4 .6-4 .7-3.9 .9-3.9 .9-3.9 1.2-3.8 1.4-3.8 1.5-3.7 1.6-3.6 1.5-3.7 1.5-3.7 1.6-3.7 1.7-3.6 1.8-3.6 2.4-3.2 2.4,2.2 .6,4 .6,3.9 .7,4 .7,3.9 .6,4 .7,3.9 .6,4 .5,3.9 .6,4 .6,4 .5,3.9 .5,4 .6,4 .4,3.9 .5,4 .4,4 .5,4 .3,3.9 .4,4 .4,4 .4,4 .4,4 .3,3.9 .4,4 .4,4 .4,4 .4,4 .4,3.9 .4,4 .4,4 .3,4 .4,4 .4,4 .3,3.9 .4,4 .4,4 .4,4 .5,4 .4,3.9 .6,4 .6,3.9 .7,4 .9,3.9 1.2,3.8 1.7,3.6 2.1,3.4 2.1,3.4 2,3.5 2.1,3.4 2.3,3.3 2,3.4 1.6,3.7 1.2,3.8 .9,3.9 .9,3.9 .8,3.9 .9,3.9 1,3.9 1.1,3.8 1.2,3.8 1.3,3.8 1.4,3.8 1.7,3.6 2.2,3.3 2.9,2.8 3.7,1.4 4,.5 3.9-.2 4-.7 3.9-.9 3.8-1.1 3.7-1.5 3.7-1.7 3.7-1.4 3.9-.7 4,0 3.5,1.9 2.5,3.1 2,3.5 1.9,3.5 2.1,3.4 3,2.6 3.6,1.7 3.9,.8 3.9,.6 4,.5 4,.2 4,.2 4,.2 4,.4 3.9,.6 4,.5 3.9,.6 4,.5 4,.2 4-.1 4-.3 4-.4 3.9-.5 .2,0 0,6.2 -.2,0 -3.9,.5 -4,.4 -4,.3 -4,.1 -4-.2 -4-.5 -3.9-.6 -4-.5 -3.9-.6 -4-.4 -4-.2 -4-.2 -4-.2 -4-.5 -3.9-.6 -3.9-.8 -3.6-1.7 -3-2.6 -2.1-3.4 -1.9-3.5 -2-3.5 -2.5-3.1 -3.5-1.9 -4,0 -3.9,.7 -3.7,1.4 -3.7,1.7 -3.7,1.5 -3.8,1.1 -3.9,.9 -4,.7 -3.9,.2 -4-.5 -3.7-1.4 -2.9-2.8 -2.2-3.3 -1.7-3.6 -1.4-3.8 -1.3-3.8 -1.2-3.8 -1.1-3.8 -1-3.9 -.9-3.9 -.8-3.9 -.9-3.9 -.9-3.9 -1.2-3.8 -1.6-3.7 -2-3.4 -2.3-3.3 -2.1-3.4 -2-3.5 -2.1-3.4 -2.1-3.4 -1.7-3.6 -1.2-3.8 -.9-3.9 -.7-4 -.6-3.9 -.6-4 -.4-3.9 -.5-4 -.4-4 -.4-4 -.4-4 -.3-3.9 -.4-4 -.4-4 -.3-4 -.4-4 -.4-4 -.4-3.9 -.4-4 -.4-4 -.4-4 -.4-4 -.3-3.9 -.4-4 -.4-4 -.4-4 -.4-4 -.3-3.9 -.5-4 -.4-4 -.5-4 -.4-3.9 -.6-4 -.5-4 -.5-3.9 -.6-4 -.6-4 -.5-3.9 -.6-4 -.7-3.9 -.6-4 -.7-3.9 -.7-4 -.6-3.9 -.6-4 -2.4-2.2 -2.4,3.2 -1.8,3.6 -1.7,3.6 -1.6,3.7 -1.5,3.7 -1.5,3.7 -1.6,3.6 -1.5,3.7 -1.4,3.8 -1.2,3.8 -.9,3.9 -.9,3.9 -.7,3.9 -.6,4 -.6,4 -.5,3.9 -.6,4 -.5,3.9 -.5,4 -.5,4 -.5,3.9 -.6,4 -.6,4 -.7,3.9 -.8,3.9 -1,3.9 -1.4,3.7 -1.7,3.7 -1.9,3.5 -1.9,3.5 -1.1,3.8 -.6,4 -.1,4 -.3,4 -.7,3.9 -1.1,3.8 -1.3,3.8 -1.2,3.8 -1.2,3.9 -1.1,3.8 -1,3.9 -1,3.8 -1,3.9 -1,3.9 -.9,3.9 -1,3.9 -1.1,3.8 -1,3.9 -1.1,3.8 -1.2,3.9 -1.2,3.7 -1.4,3.8 -1.4,3.8 -1.5,3.7 -1.6,3.6 -1.6,3.7 -1.7,3.6 -1.8,3.6 -1.8,3.5 -2,3.5 -2.1,3.4 -2.2,3.4 -2.3,3.2 -2.6,3.1 -2.7,2.9 -2.9,2.8 -3.2,2.4 -3.3,2.2 -3.6,1.7 -3.7,1.6 -3.8,1.2 -3.8,1.2 -3.9,1.2 -3.8,1.2 -3.8,1.2 -3.8,1.1 -3.9,1.1 -3.9,.8 -4,.4 -4,.1 -4,.1 -3.9,1 -3.6,1.6 -3.5,2 -3.4,2 -3.7,1.6 -3.8,1.1 -4,.6 -3.9,.5 -4,.3 -4,.4 -4,.4 -4,.3 -4,.3 -4,.2 -4,.1 -4-.1 -4-.2 -3.9-.5 -4-.6 -3.9-.7 -4-.7 -3.9-.7 -3.9-.7 -4-.7 -3.9-.7 -3.9-.7 -4-.8 -3.9-.8Z" fill="#FF0000" fill-opacity="0.12" stroke="none"/>
<path d="M127,662.1l2-.3 1.9,.7 2,1.1 2,.3 2,.8 1.9-.9 2,.3 2-.3 2,.8 2,.8 2-.3 2,.3 2-1.1 2,.7 2,.1 2,.8 2,.3 2-.9 1.9,0 2-1 2,.8 2-.2 2,.2 2-.5 2-1.2 2,.2 2-.5 2,1.2 2-.3 2-.1 2-.5 2-.7 2,.8 2-.2 2,.9 2-.9 2-.4 2-.7 2-.3 2,.9 2-.3 2,.4 2-1.1 2-.1 2,.1 2,.3 2,1 2-.7 2,.1 2-1.1 2,.2 2,.2 2,.2 2,.3 2-1.2 2-.1 2-.7 2,.8 2,.4 1.9,0 2,.1 2-1.1 2,.4 2-.3 2,.8 2,0 2-.7 2-.5 2-1.1 2,.5 2-.1 2,.4 2-.6 2-.8 1.9-.2 2-.4 2,1 2-.2 2-.1 2-1 1.9-.9 2-.1 1.9-.5 2,.4 1.9-1.2 1.9-.8 2-1.1 1.9-.6 1.9,.2 1.9-.4 1.9-.1 1.8-1.5 1.9-.9 1.8-.9 1.8-.5 1.7-.3 1.7-1.4 1.4-1.5 1.5-2.4 1.2-1.6 1.3-1.3 1.2-1.3 1.1-1.1 1.1-2.4 1.1-1.8 1-2.2 .9-1.1 1-1.1 1-1.5 1.1-1.6 1.2-2.5 1.3-1.6 1.4-1.6 1.4-.8 1.4-1.1 1.1-1.8 1.6,.9 1.5,.5 1.4,1.7 1.4,1.9 1.6,1.7 1.5,1.6 1.8,.3 1.8,.8 1.9,.4 1.9,1.3 1.9,1 1.9,0 1.9-.8 1.8-1.2 1.6,1.3 1.2,1.6 1.2,2.2 1,2.1 1.2,1.1 1.4,1.2 1.7,.2 1.9,.1 1.9-.1 1.8-.6 1.8-.5 1.9-1.8 1.9-.5 2-.7 2,.5 1.9,.7 1.9,.3 1.6,1 1.4,.4 1.4,2 1.3,1.7 1.3,2.3 1.4,1.6 1.5,.8 1.5,1.3 1.5,.7 1.6,2.2 1.6,1.3 1.7,1.2 1.8,.4 1.9-.2 1.9,.7 1.9,.2 2,1.4 2,0 2,.1 2-.5 2-.7 1.9,.5 2-.4 1.9,.4 1.9-1.1 2-.7 2-.7 2-.3 2,.7 2-.4 2,.2 2-1.2 2-.3 1.9-.2 2,0 1.9,.5 1.9-1.2 2-.2 1.9-1.4 2,.4 2,.8 1.9,.8 1.7,1.3 1.8-.2 1.7,1.1 1.7,.2 1.8,1.7 1.8,1.3 1.9,.7 1.8,.8 1.9-.4 1.9,1.2 1.9,.5 1.9,1.7 2,.7 1.9,0 1.9,.3 1.9-.4 2,1.4 1.9,.2 2,.9 2-.3 2-.7 2,0 2-.4 2,1.1 2-.4 1.9,.2 2-.9 2-.6 2,.5 2,0 2,1.2 2-.7 2,.1 2-.6 2,.2 1.9,1.1 2,.3 2,1 2-.7 2,.3 1.9,.1 2,.7 2,1.1 2-.1 2,.3 1.6-.8" fill="none" stroke="#42B526" stroke-width="5.6" stroke-linejoin="round"/>
<path d="M127,659.5l2.5-.2 2.4,1.8 2.5,.1 2.5,.4 2.4-.6 2.5,1.1 2.5-.1 2.5,.6 2.5,.3 2.5-.4 2.5-.7 2.5,.3 2.5,2.1 2.5-.5 2.4-1.1 2.5-1.2 2.5,1.8 2.5-.8 2.5-.7 2.5-.9 2.5,1 2.5-.5 2.5-.3 2.5,.3 2.5-.4 2.5-.5 2.5,0 2.5,1.9 2.5-1.2 2.5-1.3 2.5-1 2.5,1.9 2.5-.5 2.5-.6 2.5-.5 2.5,.9 2.5,0 2.5-.5 2.5,.3 2.5-.5 2.5,.1 2.5-.4 2.5,1.2 2.5-1.4 2.5-.8 2.5-.5 2.5,1.8 2.4,.1 2.5-.7 2.5-.6 2.5,.3 2.5,.5 2.5-.7 2.5-.4 2.5-.8 2.5,.6 2.5-.7 2.5,.1 2.5-1 2.4,0 2.5-.6 2.5,.9 2.5,.3 2.5-1.1 2.4-1.7 2.4-.5 2.5,1 2.4-1.4 2.4-1.5 2.4-.8 2.4,.7 2.4-1.4 2.3-.8 2.4-1.2 2.3-.7 2.2-.9 2.1-.7 2-2.1 1.8-1.7 1.6-2.6 1.6-1.7 1.5-2 1.4-2.6 1.3-2.3 1.2-2.4 1.2-.5 1.3-1.6 1.3-2.2 1.5-3.1 1.7-2.5 1.7-1.1 1.8-1.2 1.5-1.2 1.9,.3 1.8,1.3 1.8,2 2,3.2 2,1.8 2.2,.1 2.4,.4 2.3,1.5 2.5,1.1 2.4-.6 2.2-1.9 1.9,1.8 1.6,2.5 1.2,3.6 1.5,1.1 1.8,1.3 2.3-1.1 2.3,.6 2.3,0 2.3-1.3 2.3-2.3 2.5,.3 2.5,.5 2.4-.1 2.2,.6 1.9,.9 1.7,2.4 1.6,2.4 1.7,2.8 1.8,.6 1.9,1.9 1.9,1.3 2,2.8 2.1,1 2.2,.1 2.3,.3 2.5,1.5 2.4,.5 2.5,.1 2.5,.7 2.5-.8 2.4-.7 2.5-.6 2.4,1.2 2.4-1.2 2.5-.9 2.5-1.1 2.5,1.1 2.5-.5 2.5-.8 2.5-.7 2.4,.2 2.5,.5 2.4-1 2.4-.9 2.4-1.2 2.5,1.1 2.4,.3 2.2,1.8 2.2,.8 2.1,1.2 2.2,0 2.3,2 2.3,1 2.4,.7 2.3,.7 2.4,.6 2.4,2.1 2.4,.8 2.4,.1 2.4-1.4 2.5,2.1 2.4,1.1 2.5,.2 2.5-1.5 2.5,.8 2.5-.1 2.5-.4 2.4-.1 2.5,.2 2.5-.1 2.5-.9 2.5,1.4 2.5,0 2.5-.3 2.5-1.4 2.4,2.1 2.5,1 2.5,.4 2.5-1 2.4,.6 2.5,1 2.5,.5 2.5,.3 2.1-.4" fill="none" stroke="#000" stroke-width="1.15" stroke-dasharray="9 2"/>
<path d="M127,664.5l2.5,.1 2.4,1.6 2.5-.5 2.5,1.1 2.4-.7 2.5,.9 2.5-.6 2.5,1.6 2.5,.1 2.5-.2 2.5-1.3 2.5,.6 2.5,1.5 2.5-.2 2.4-.8 2.5-1 2.5,1.6 2.5-.7 2.5-.6 2.5-1.7 2.5,.9 2.5,.1 2.5,.4 2.5-.6 2.5,0 2.5-.3 2.5-.3 2.5,.6 2.5-.1 2.5-.4 2.5-1.4 2.5,.9 2.5,.2 2.5-.1 2.5-1.7 2.5,.6 2.5,1.2 2.5,.6 2.5-1.2 2.5-1 2.5,.5 2.5,.2 2.5-.1 2.5-.8 2.5,.4 2.5-.3 2.5,.2 2.4-.1 2.5,.2 2.5-.8 2.5-.3 2.5,.9 2.5,.7 2.5-1 2.5-1.8 2.5,0 2.5,.7 2.5,0 2.5-1.5 2.4-.3 2.5,.9 2.5,.3 2.5-.9 2.5-1.2 2.4-.2 2.4-.4 2.5-.3 2.4-1 2.4-.4 2.4-1.6 2.4-.7 2.4-.5 2.3,.2 2.4-1.4 2.3-1.4 2.2-.9 2.1-.3 2-1.6 1.8-2.4 1.6-3 1.6-2.1 1.5-1 1.4-2.4 1.3-2.2 1.2-1.9 1.2-1.1 1.3-2.3 1.3-2.3 1.5-2.9 1.7-1.9 1.7-1.1 1.8-1 1.5-2.4 1.9,.9 1.8,1.2 1.8,2.7 2,3.1 2,1 2.2,.4 2.4,.2 2.3,2.3 2.5,.6 2.4-.8 2.2-1.9 1.9,2.2 1.6,2.5 1.2,3.1 1.5,1.4 1.8,1.2 2.3-1 2.3,1.1 2.3-1 2.3-.8 2.3-2.5 2.5,.3 2.5,.5 2.4,.7 2.2,0 1.9,1.1 1.7,1.9 1.6,2.6 1.7,3 1.8,.3 1.9,1.8 1.9,1.4 2,3.1 2.1,1.5 2.2,0 2.3-.2 2.5,.7 2.4,1.5 2.5-.1 2.5,.3 2.5-.6 2.4,.4 2.5-1.1 2.4,.1 2.4-1 2.5-.2 2.5-1.1 2.5,.4 2.5,.5 2.5-.7 2.5-1.3 2.4-1 2.5,1.5 2.4-.6 2.4-.5 2.4-2.1 2.5,1.7 2.4,.6 2.2,1.7 2.2-1.1 2.1,1.9 2.2,1.1 2.3,2.6 2.3,0 2.4,.7 2.3,.6 2.4,1.3 2.4,.9 2.4,.4 2.4,.9 2.4,.2 2.5,.8 2.4,.3 2.5,.8 2.5-.5 2.5-1 2.5,0 2.5,1.1 2.4,.5 2.5-1.6 2.5-.6 2.5,.4 2.5,1.4 2.5-.9 2.5-.3 2.5,.2 2.4,1.6 2.5,.3 2.5-.2 2.5,.1 2.4,.3 2.5,.9 2.5,.3 2.5,1.2 2.1-.5" fill="none" stroke="#000" stroke-width="1.15" stroke-dasharray="9 2"/>
<path d="M127,673.7l2,.5 1.9,.2 2-.1 2,.7 1.9,1 2,.6 1.9-.3 2,.3 2,0 2-.3 1.9,.6 2,1.2 2,.9 1.9,.3 2,.5 2,.2 1.9-.7 2,.2 2,.7 2,.6 2,.2 1.9,.3 2,.3 2-.8 2-.1 2,.6 2,.3 2,.2 2,.2 2,.2 2-1.1 2-.9 2,0 2-.3 2,0 2,.4 2,.4 2-.5 2-.8 2,.1 1.9-.4 2-.2 2,.2 2,.1 1.9-.8 1.9-1.4 1.9-.8 1.8-1.2 1.7-1.3 1.7-.3 1.8-.2 1.7-.7 1.8-1.3 1.8-.7 2-.9 1.9-1.1 2,.2 2,.4 2,.2 2-.4 2-.1 2-.4 2-1.2 1.9-.2 1.9,.3 2-.2 1.9-.4 1.9-.4 1.9-.8 1.9-1.7 1.9-.9 1.9-.2 1.9-.5 2-.4 1.9-.1 1.9-.4 1.9-1.4 1.9-1 1.8-.2 1.9-.8 1.8-.6 1.8-.5 1.7-.7 1.6-2 1.6-2 1.6-1.1 1.4-1.6 1.5-1.2 1.4-.6 1.3-.9 1.3-1.7 1.3-2.1 1.1-1.5 1.2-2.1 1.1-1.9 1.1-1.1 1.1-1.2 1-1.9 1-2.3 1-1.7 .9-2.2 .9-2.2 .9-1 .9-1.1 .9-1.5 .8-2 .8-1.8 .8-2.3 .8-2.9 .8-1.5 .8-1.4 .7-1.7 .7-1.8 .7-1.7 .7-2 .7-2.7 .6-1.7 .6-1.3 .6-1.8 .6-1.6 .6-1.7 .5-2.1 .5-3.1 .5-2.3 .6-1.5 .5-2.1 .5-1.4 .5-1.3 .4-1.7 .5-2.5 .5-2.4 .5-1.6 .5-2.3 .5-1.8 .5-1.3 .5-1.8 .5-2.5 .5-2.5 .6-1.8 .5-2.3 .6-1.9 .6-.9 .6-1.3 .6-2 .7-2.3 .6-2 .5-2.5 .6-2.5 .4-1.3 .3-1.5 .2-2 .1-2.2 0-1.9 .1-2.4 .2-2.6 .4-1.2 .4-1.3 .7-1.8 .9-1.7 1-1.8 1-2.3 .9-2.8 .9-1.6 .8-1.4 .7-1.8 .7-1.4 .5-1.6 .5-2 .4-2.8 .4-1.9 .4-1.6 .3-2.1 .3-1.6 .3-1.6 .3-2.2 .3-2.9 .2-2.4 .3-1.6 .3-2.2 .2-1.5 .3-1 .2-1.8 .3-2.5 .2-2.4 .3-1.9 .3-2.6 .2-2 .3-1.2 .3-1.8 .3-2.3 .3-2.3 .3-2 .3-2.4 .4-2 .4-.9 .5-1.5 .4-2 .5-2.2 .6-2.1 .6-2.6 .7-2.6 .7-1.2 .7-1.4 .8-1.8 .8-1.6 .8-1.7 .7-2.3 .8-2.5 .8-1.3 .7-1.4 .8-1.9 .8-1.5 .9-1.8 .8-2.4 .9-2.7 .9-1.7 1.1-1.3 1.3-1.5 1.7,.9 .7,2.6 .3,1.9 .3,1.3 .3,1.6 .3,2.2 .4,1.6 .3,2.2 .3,2.7 .4,1.8 .3,1.4 .3,1.6 .3,2.2 .4,1.7 .3,2.2 .3,3.1 .3,2.2 .2,1.7 .3,1.5 .3,1.8 .3,1.4 .3,1.6 .2,2.9 .3,2.3 .3,1.8 .2,2 .3,2 .3,1.6 .2,1.5 .2,2.9 .3,2.4 .2,1.9 .2,2.1 .2,1.7 .2,1.3 .3,1.2 .2,2.4 .1,2.6 .2,2 .2,2.6 .2,2.3 .2,1.6 .2,1.2 .2,2.1 .2,2.4 .2,1.7 .1,2.5 .2,2.3 .2,1.4 .2,1.3 .2,1.8 .2,2.4 .2,1.9 .2,2.7 .2,2.8 .2,1.8 .2,1.4 .2,1.6 .2,1.9 .2,1.5 .2,2.2 .2,2.9 .1,1.9 .2,1.7 .2,1.8 .2,2 .2,1.6 .2,2.1 .1,3.1 .2,2.2 .2,1.7 .2,1.8 .2,1.6 .2,1.2 .2,1.7 .2,2.8 .2,2.4 .3,2 .2,2.4 .2,1.9 .3,1.4 .3,1.5 .2,2.6 .4,2.3 .3,1.8 .4,2.3 .5,1.8 .4,1.2 .6,1.3 .6,2.2 .8,2.3 .9,1.9 1,2.5 1.1,2.1 1.1,1.1 1,1.1 1,1.5 1,1.9 1,1.4 1.1,2.2 1.1,2.2 1.2,1.2 1,1.3 1,1.6 .8,2 .8,1.6 .6,2.5 .6,2.9 .5,1.6 .4,1.5 .5,1.6 .4,1.6 .4,1.4 .4,2.1 .5,3 .4,2 .5,1.9 .5,2 .5,1.7 .6,1.4 .6,1.9 .6,2.8 .7,2 .6,1.7 .7,2 .7,1.3 .8,1.1 .9,1.5 1,2.5 1.2,2 1.4,1.5 1.5,2 1.8,.7 1.9-.1 2-.2 2,.5 2,.2 1.9-.4 2,.3 2-.3 1.9-1.2 2-.9 1.9-.4 1.9-.2 1.9-.7 1.8,.1 1.8-.3 1.9-1.5 1.8-1.4 1.9-.9 1.9-.6 2-.6 2,.5 2,.9 1.8,.5 1.7,.8 1.4,1.4 1.1,1.5 1,1.5 1,2.1 .9,2.7 1,1.5 1,1.4 1.1,1.5 1.4,.9 1.6,.6 1.7,1.2 1.9,1.6 1.9,.8 2,.3 2,.7 1.9-.2 2-.4 2,.1 2,.7 2,.3 2-.1 2,.5 2-.3 2-.6 2-.1 2,.7 2,.7 1.9,.4 2,1.1 2,.3 2-.6 1.9-.2 2,.2 2,.3 2,0 2,.8 2,.4 2-.8 2-.3 2-.2 2-.1 2-.2 2,.4 1.9,.5 .2-.1" fill="none" stroke="#D20814" stroke-width="5.6" stroke-linejoin="round"/>
<path d="M127,671.2l2.5,.5 2.4,.7 2.5-.5 2.4,1.5 2.5,.9 2.4-1.1 2.5,1 2.5-.2 2.4,.6 2.5,1.5 2.4,1.4 2.5-.7 2.5,.7 2.4-.6 2.5,0 2.5,1.3 2.4,.4 2.5,.3 2.5-.1 2.5,.1 2.5-.5 2.5,1.3 2.5-.3 2.5-.2 2.5-.9 2.5-.7 2.5-.5 2.5,.7 2.5,.5 2.5-.5 2.5-.1 2.5-1 2.4-.5 2.5,.3 2.5-.1 2.4-1 2.4-.8 2.3-1.1 2.2-2.4 2.1,.5 2.2-.8 2.2-1.9 2.3-.6 2.4-1.2 2.4-1.6 2.5,.7 2.5,1 2.5-1.3 2.5,1 2.5-1.3 2.4-1.3 2.4,.8 2.4-.5 2.4-1.2 2.4-.3 2.4-1.6 2.4-1.8 2.4,.7 2.4-.5 2.4-1 2.4,0 2.3-2 2.4-1 2.3-.8 2.2,0 2.2-1.6 2.1-1.8 2-1.4 1.9-2 1.9-2.5 1.7-.3 1.7-.8 1.6-2.6 1.5-2.5 1.5-2.6 1.4-2.3 1.4-1 1.3-1.6 1.3-3.5 1.2-2.7 1.1-2.7 1.2-1.5 1.1-.6 1.1-2.1 1-2.9 1-2.6 1-3.5 1-1.7 1-1.5 .9-2.1 .8-2.2 .9-2.5 .8-3.6 .8-1.7 .8-2.2 .7-2.2 .7-2.2 .7-3 .6-3.2 .7-1.9 .6-2.4 .6-1.6 .6-1.9 .6-3.4 .7-3.2 .6-2.6 .6-2.6 .6-1.6 .6-2.1 .7-3 .6-2.1 .7-2.5 .8-2.3 .7-1.7 .8-2.4 .8-3 .7-2.5 .7-3.2 .6-1.7 .4-1.7 .2-2.4 .1-2.6 .1-2.6 .2-3.3 .5-1.5 .7-1.9 1-2.2 1.2-2.5 1.2-3 1.2-3.3 1-1.5 .9-1.9 .8-1.6 .6-2.1 .6-3.2 .5-2.8 .4-2.3 .4-2.7 .4-2.1 .4-2.9 .3-3.7 .4-2.6 .3-2.4 .3-1.9 .3-1.3 .4-2.4 .3-3.1 .3-2.3 .3-3.1 .4-1.7 .3-1.9 .4-2.7 .4-2.8 .4-2.7 .4-3.2 .5-1.6 .6-2.3 .6-2.6 .7-2.6 .7-3.1 .8-2.6 .9-1 1-2.2 1-2 1-2.3 .9-3.3 1-2.3 .9-1.6 1-2.3 1.1-1.5 1-2.4 1.1-3.7 1.2-2.5 1.4-2.4 2.1,.6 1,3.3 .4,2.3 .4,1.5 .4,2.5 .4,1.9 .4,2.6 .4,2.7 .4,1.8 .4,1.9 .4,2.7 .4,2.2 .4,3.8 .4,3 .3,2.2 .4,2.2 .3,2.1 .4,2.1 .3,3.6 .4,2.6 .3,2.4 .3,2.4 .3,1.8 .3,2.5 .3,3.5 .3,2.3 .3,2.6 .2,2 .3,1.4 .3,2.7 .2,3 .2,2.8 .3,3 .2,2.1 .2,1.6 .3,3 .2,2.4 .2,2.9 .3,2.8 .2,1.7 .2,2 .3,2.9 .2,2.5 .3,3.7 .3,2.7 .2,1.9 .2,2.2 .3,2.3 .2,2.3 .3,3.7 .2,2.4 .2,2.2 .2,2.5 .3,2.1 .2,2.8 .2,3.5 .3,2 .2,2.2 .3,1.8 .2,1.5 .3,2.9 .2,3.1 .3,2.4 .3,2.7 .3,1.9 .4,1.7 .3,3.2 .4,2.6 .5,3 .6,2.7 .6,1.8 .7,2 .9,2.9 1.1,1.7 1.2,2.7 1.4,2.4 1.4,1.7 1.2,2 1.2,2 1.3,1.9 1.4,2.9 1.5,1.8 1.2,1.9 1.2,2.7 1,2.2 .8,2.5 .7,3.1 .6,1.7 .6,1.9 .5,2 .5,1.9 .6,3.6 .5,3.4 .6,2.5 .6,2.4 .7,1.8 .8,1.6 .7,3 .8,2 .9,2.4 .9,2.4 .9,1.7 1.1,2.1 1.3,2.9 1.7,1.7 1.9,2.3 2.3,1.4 2.4-.1 2.5-.4 2.5,1.5 2.4-1.4 2.5,.2 2.4-.8 2.5-1.8 2.4-.5 2.4,.2 2.3-.4 2.2-.8 2.3-.9 2.3-1.9 2.4-1.4 2.5-.1 2.5,.3 2.4,.8 2.2,.9 1.8,2.1 1.3,1.6 1.3,1.5 1.2,3.4 1.2,2.8 1.3,2.3 1.5,1.2 1.9,.2 2.1,1.8 2.3,2 2.5-.1 2.5,.8 2.4,.6 2.5-1.1 2.5,.7 2.5,1.4 2.5-1.1 2.5,1.4 2.5-1 2.5-.8 2.5,.9 2.4,1.1 2.5-.1 2.5,1.9 2.5-.6 2.4-.8 2.5,1.2 2.5-.3 2.5,.5 2.5,.6 2.5-.9 2.5-1 2.5,.9 2.5-.8 2.5,.7 1.1,.7" fill="none" stroke="#000" stroke-width="1.15" stroke-dasharray="9 2"/>
<path d="M127,676.1l2.5,1.4 2.4-.6 2.5,.3 2.4,1.1 2.5,.7 2.4,.1 2.5-.3 2.5-.2 2.4,1.9 2.5,.9 2.4-.1 2.5,.5 2.5,.4 2.4,.1 2.5,.4 2.5,.2 2.4,1 2.5,.5 2.5-1.4 2.5-.3 2.5,1.2 2.5,.8 2.5,.2 2.5-.6 2.5-1.2 2.5,0 2.5-.9 2.5-.2 2.5,1.2 2.5,.4 2.5-1.4 2.5-.6 2.4-.7 2.5,.9 2.5,.1 2.4-1.4 2.4-1.2 2.3-.8 2.2-1.6 2.1-1.2 2.2-.9 2.2-.6 2.3-.8 2.4-.8 2.4-1.8 2.5,.3 2.5,1.1 2.5-.8 2.5-.8 2.5-.4 2.4-.3 2.4,.3 2.4-.7 2.4-1.2 2.4,.2 2.4-2 2.4-1.5 2.4-.3 2.4-.2 2.4,.3 2.4-.9 2.3-2.9 2.4,0 2.3-.5 2.2-.6 2.2-.8 2.1-2.3 2-1.8 1.9-1.5 1.9-2 1.7-1.7 1.7-1.2 1.6-2.2 1.5-2 1.5-1.4 1.4-2.7 1.4-1.4 1.3-1.9 1.3-3.4 1.2-2.3 1.1-2.3 1.2-2.4 1.1-1 1.1-1.4 1-2.8 1-2.7 1-3.7 1-2.2 1-1.9 .9-2.3 .8-2 .9-1.8 .8-2.9 .8-1.8 .8-2.2 .7-1.9 .7-1.9 .7-3.3 .6-3.8 .7-2.4 .6-2.6 .6-1.7 .6-1.8 .6-3.1 .7-2.8 .6-2.3 .6-2.6 .6-1.5 .6-2.1 .7-3 .6-2.5 .7-3 .8-2.3 .7-1.1 .8-2.1 .8-3.1 .7-2.9 .7-3.4 .6-1.9 .4-1.7 .2-2.4 .1-2.6 .1-2.6 .2-3.3 .5-1.3 .7-1.9 1-2 1.2-2 1.2-2.9 1.2-3.8 1-1.9 .9-2.1 .8-2 .6-2.4 .6-3.3 .5-2.5 .4-1.8 .4-2.3 .4-1.7 .4-2.5 .3-3.6 .4-2.4 .3-2.5 .3-2 .3-1.4 .4-2.5 .3-3.2 .3-2.4 .3-3.1 .4-1.9 .3-1.9 .4-2.9 .4-2.9 .4-2.7 .4-3.2 .5-1.5 .6-2 .6-2.5 .7-2.4 .7-3.2 .8-3.2 .9-1.2 1-1.7 1-2 1-2.5 .9-3.3 1-2.4 .9-1.8 1-2.7 1.1-2 1-2.1 1.1-3.2 1.2-1.9 1.4-1.1 2.1-1 1,3.1 .4,2.2 .4,1.6 .4,2.5 .4,2 .4,2.8 .4,2.9 .4,1.9 .4,1.8 .4,2.8 .4,2.2 .4,3.9 .4,3.1 .3,2.2 .4,2.1 .3,1.9 .4,1.8 .3,3.5 .4,2.5 .3,2.4 .3,2.5 .3,2 .3,2.7 .3,3.5 .3,2.4 .3,2.5 .2,1.9 .3,1.2 .3,2.6 .2,2.9 .2,2.7 .3,3 .2,2.1 .2,1.6 .3,3 .2,2.5 .2,2.9 .3,2.8 .2,1.8 .2,1.9 .3,3 .2,2.4 .3,3.7 .3,2.7 .2,1.8 .2,2.1 .3,2.3 .2,2.2 .3,3.6 .2,2.4 .2,2.3 .2,2.5 .3,2.2 .2,3 .2,3.7 .3,2.3 .2,2.3 .3,2 .2,1.6 .3,3.1 .2,3 .3,2.5 .3,2.7 .3,1.8 .4,1.8 .3,3.2 .4,2.5 .5,2.7 .6,2.3 .6,1.1 .7,1.5 .9,3 1.1,2.8 1.2,3.2 1.4,2.3 1.4,1.7 1.2,1.7 1.2,1.8 1.3,2.1 1.4,2.8 1.5,1.8 1.2,2.3 1.2,2.1 1,2.2 .8,2.9 .7,3.4 .6,1.6 .6,1.7 .5,1.7 .5,1.6 .6,3.1 .5,3.1 .6,2.5 .6,2.6 .7,1.9 .8,1.9 .7,3.8 .8,2.9 .9,2.5 .9,1.8 .9,1.3 1.1,2.1 1.3,2.7 1.7,1.6 1.9,3 2.3,.9 2.4-.8 2.5,0 2.5,.5 2.4,.4 2.5,.5 2.4-2.3 2.5-1.2 2.4,.2 2.4-.8 2.3-.3 2.2-.6 2.3-1.3 2.3-1 2.4-1.7 2.5-1 2.5,.9 2.4,1.3 2.2,1 1.8,1.1 1.3,1.9 1.3,2.3 1.2,3.1 1.2,2.6 1.3,2.1 1.5,.9 1.9,.8 2.1,.6 2.3,2.7 2.5,1 2.5,.4 2.4-.1 2.5-.5 2.5,.6 2.5,.8 2.5-1 2.5,1 2.5,.3 2.5-.9 2.5,.2 2.4,.9 2.5,.9 2.5,1.3 2.5-1.1 2.4-.3 2.5,1.3 2.5,0 2.5-.2 2.5,.4 2.5-.5 2.5,0 2.5-.2 2.5-.7 2.5,1.3 1.1,0" fill="none" stroke="#000" stroke-width="1.15" stroke-dasharray="9 2"/>
<path d="M127.2,566.1l1.4,1.4 1.8,2 2.2,2.3 2.4,2.4 2.5,2.6 2.4,2.4 2.1,2 2.1,2.1 2.2,2.1 2.2,2.2 2.3,2.1 2.3,1.9 2.3,1.9 2.7,1.9 2.8,1.8 2.7,1.6 2.9,1.6 2.8,1.7 2.8,1.7 2.8,1.9 2.9,2 2.8,2 2.9,2 2.8,1.9 2.7,1.8 2.6,1.7 2.6,1.5 2.5,1.5 2.5,1.5 2.6,1.4 2.8,1.5 2.9,1.5 3,1.6 3.2,1.5 3.1,1.5 3,1.5 2.9,1.5 3.2,1.6 2.9,1.6 2.9,1.5 3,1.4 3.3,1.5 3.1,1.1 3.2,1.2 3.4,1.1 3.4,1.1 3.3,1 3.2,1 3.4,1.1 3.3,1.1 3.2,1.1 3.2,.9 3.6,.9 3.3,.6 3.4,.5 3.6,.5 3.6,.4 3.5,.4 3.3,.3 3.2,.3 2.9,.3 3,.3 2.9,.2 3,0 3.1-.2 2.9-.3 3-.4 3.2-.6 3.1-.6 3.1-.8 2.8-.9 2.6-1.1 2.9-1.6 2.4-1.8 2.2-2 2.4-2.7 3.2-3.5 1.6-1.8 1.8-2 1.8-2.1 2-2.3 2-2.4 2.1-2.4 2.1-2.6 2.1-2.6 2.2-2.6 2.1-2.6 2.1-2.6 2-2.5 1.9-2.3 1.9-2.4 2-2.5 2-2.6 2-2.5 2-2.6 2-2.5 1.9-2.5 1.9-2.4 1.7-2.3 1.7-2.3 1.5-2.1 1.4-2 2.3-3.8 1.8-3.4 1.3-3 1.2-2.7 1.3-2.6 1.6-2.6 2-2.5 2.2-2.2 2.2-2.1 2.3-2 2.4-2.1 2.3-2.1 2.3-2.4 2.4-2.4 2.4-2.4 2.4-2.4 2.4-2.4 2.4-2.2 2.4-2.1 2.4-2 2.3-2 2.4-1.9 2.4-1.9 2.4-1.7 3.1-2 3.2-2 3.2-1.8 3.1-1.6 2.7-1.3 3.8-1.6 3.2-1 3.5-.3 3.2,.2 3.4,.4 3.5,.9 3.3,1.4 2.5,1.6 2.4,1.9 2.5,2.2 2.4,2.2 2.6,2.3 2.3,1.8 2.3,2 2.3,2 2.5,2 2.4,2 2.5,1.8 2.6,1.6 2.7,1.4 2.7,1.4 2.8,1.4 2.8,1.5 2.7,1.7 2.7,2 2.8,2.1 2.8,2.3 2.7,2.2 2.7,2.2 2.5,1.9 3.1,2.2 3.1,2.1 3,2 2.4,1.6 1.8,1.2" fill="none" stroke="#FFC000" stroke-width="4.4" stroke-dasharray="19.2 19.2"/>
<path d="M127.2,614.7l1.6,0 1.9,0 2,0 2.3,0 2.4,0 2.7,0 2.8,.1 2.9,0 3.1,0 3.2,0 3.3,0 3.4,0 3.4,0 3.6,.1 3.6,0 3.6,0 3.7,0 3.7,0 3.7,0 3.6,0 3.7,0 3.6,0 3.6,0 3.4,0 3.5,0 3.3,0 3.2,0 3.1,0 2.9,0 2.9,0 2.6-.1 2.5,0 2.3,0 2.1-.1 1.9,0 8.2-.3 4.7-.5 2.3-.5 1-.6 1-.7 1.9-.7 3-.8 2.7-.8 2.6-.9 2.7-1.1 3.3-1.4 2.4-1.1 2.7-1.3 2.8-1.4 3-1.4 2.9-1.5 2.9-1.4 2.8-1.3 2.5-1.1 3.6-1.6 3.2-1.3 3.1-1.2 3.1-1.2 3.2-1.3 2.9-1.1 3-1.2 3-1.1 3-1.3 2.8-1.3 2.5-1.6 2.7-2.1 2.3-2.2 2.2-2.5 2.1-2.6 2.2-2.9 1.8-2.5 1.8-2.5 1.9-2.7 1.8-2.9 2-3.2 2.1-3.6 1.4-2.3 1.4-2.5 1.5-2.5 1.5-2.6 1.5-2.8 1.6-2.8 1.6-3 1.6-3.1 1.6-3.3 1.6-3.4 1.2-2.5 1.2-2.7 1.2-2.7 1.2-2.9 1.3-2.9 1.3-3 1.2-3 1.3-3 1.2-3.1 1.3-3.1 1.2-3.2 1.2-3.1 1.2-3.1 1.2-3 1.1-2.9 1.1-3 1.1-3.2 1.1-3.2 1.1-3.2 1-3.2 1.1-3.2 1.1-3.2 1-3.1 1-3 1-2.9 .9-2.7 1-2.6 .8-2.4 .9-2.1 2-4.4 1.8-3.4 1.6-2.7 1.5-2.1 1.4-1.7 1.2-1.6 2.7-2.9 2.1-.7 2.5,0 2.3,1.8 1.1,1.9 1,2.9 1.7,5 .8,2 .9,2.2 1,2.5 1,2.6 1.2,2.8 1.1,3 1.2,3.1 1.1,3.2 1.1,3.4 1.1,3.4 .8,2.6 .7,2.7 .8,2.8 .7,2.9 .8,2.9 .7,3.1 .8,3.1 .7,3.1 .8,3.1 .7,3.1 .8,3.2 .7,3.1 .8,3 .7,3 .8,3 .7,3 .8,3.1 .7,3.1 .8,3 .7,3.1 .8,3.1 .7,3 .8,3 .7,2.9 .8,2.9 .7,2.8 .8,2.7 .7,2.6 1.1,3.6 1.1,3.4 1,3.4 1.1,3.2 1.1,3.1 1,3 1.1,3 1,2.8 1,2.7 1,2.7 1.5,3.6 1.4,3.6 1.5,3.4 1.4,3.1 1.3,2.9 1.3,2.4 1.2,2 3.5,2.7 3.2,.2 3.1,0 3.6,0 2.9,.6 3.4,1 4.2,1.3 2.6,.8 2.9,.9 3.1,.9 3.2,1 3.2,1 3.1,1 3,.9 3,.9 3,.9 3,.9 3,.8 3.2,.9 3.3,.8 3.5,.8 3.6,.8 3.5,.8 3.3,.6 2.8,.5 4.9,.4 3.9,0 2.7,0" fill="none" stroke="#0062FF" stroke-width="4.4" stroke-dasharray="19.2 19.2"/>
</g>
<line x1="127.2" y1="397.2" x2="558.0" y2="397.2" stroke="#262626" stroke-width="3.4"/>
<line x1="127.2" y1="687.2" x2="558.0" y2="687.2" stroke="#262626" stroke-width="3.4"/>
<line x1="222.7" y1="397.2" x2="222.7" y2="402.7" stroke="#262626" stroke-width="3.4"/>
<line x1="222.7" y1="687.2" x2="222.7" y2="681.7" stroke="#262626" stroke-width="3.4"/>
<line x1="318.2" y1="397.2" x2="318.2" y2="402.7" stroke="#262626" stroke-width="3.4"/>
<line x1="318.2" y1="687.2" x2="318.2" y2="681.7" stroke="#262626" stroke-width="3.4"/>
<line x1="413.8" y1="397.2" x2="413.8" y2="402.7" stroke="#262626" stroke-width="3.4"/>
<line x1="413.8" y1="687.2" x2="413.8" y2="681.7" stroke="#262626" stroke-width="3.4"/>
<line x1="509.3" y1="397.2" x2="509.3" y2="402.7" stroke="#262626" stroke-width="3.4"/>
<line x1="509.3" y1="687.2" x2="509.3" y2="681.7" stroke="#262626" stroke-width="3.4"/>
<line x1="127.2" y1="395.5" x2="127.2" y2="688.9" stroke="#C00010" stroke-width="3.4"/>
<line x1="127.2" y1="631.7" x2="132.7" y2="631.7" stroke="#C00010" stroke-width="3.4"/>
<line x1="127.2" y1="559.2" x2="132.7" y2="559.2" stroke="#C00010" stroke-width="3.4"/>
<line x1="127.2" y1="486.6" x2="132.7" y2="486.6" stroke="#C00010" stroke-width="3.4"/>
<line x1="127.2" y1="414.1" x2="132.7" y2="414.1" stroke="#C00010" stroke-width="3.4"/>
<line x1="558.0" y1="395.5" x2="558.0" y2="688.9" stroke="#0062FF" stroke-width="3.4"/>
<line x1="558.0" y1="687.2" x2="552.5" y2="687.2" stroke="#0062FF" stroke-width="3.4"/>
<line x1="558.0" y1="614.7" x2="552.5" y2="614.7" stroke="#0062FF" stroke-width="3.4"/>
<line x1="558.0" y1="542.2" x2="552.5" y2="542.2" stroke="#0062FF" stroke-width="3.4"/>
<line x1="558.0" y1="469.7" x2="552.5" y2="469.7" stroke="#0062FF" stroke-width="3.4"/>
<line x1="558.0" y1="397.2" x2="552.5" y2="397.2" stroke="#0062FF" stroke-width="3.4"/>
<text x="50.63" y="647.51" font-family="'Liberation Serif', 'DejaVu Serif', serif" font-size="46" fill="#C00010" textLength="67.27" lengthAdjust="spacingAndGlyphs">100</text>
<text x="50.63" y="574.97" font-family="'Liberation Serif', 'DejaVu Serif', serif" font-size="46" fill="#C00010" textLength="67.27" lengthAdjust="spacingAndGlyphs">200</text>
<text x="50.63" y="502.44" font-family="'Liberation Serif', 'DejaVu Serif', serif" font-size="46" fill="#C00010" textLength="67.27" lengthAdjust="spacingAndGlyphs">300</text>
<text x="50.63" y="429.90" font-family="'Liberation Serif', 'DejaVu Serif', serif" font-size="46" fill="#C00010" textLength="67.27" lengthAdjust="spacingAndGlyphs">400</text>
<g clip-path="url(#c5)">
<line x1="754.7" y1="397.2" x2="754.7" y2="687.2" stroke="#D5D5D5" stroke-width="1.4"/>
<line x1="850.2" y1="397.2" x2="850.2" y2="687.2" stroke="#D5D5D5" stroke-width="1.4"/>
<line x1="945.8" y1="397.2" x2="945.8" y2="687.2" stroke="#D5D5D5" stroke-width="1.4"/>
<line x1="1041.3" y1="397.2" x2="1041.3" y2="687.2" stroke="#D5D5D5" stroke-width="1.4"/>
<line x1="659.2" y1="670.5" x2="1090.0" y2="670.5" stroke="#FF9AA3" stroke-width="1.4"/>
<line x1="659.2" y1="622.2" x2="1090.0" y2="622.2" stroke="#FF9AA3" stroke-width="1.4"/>
<line x1="659.2" y1="574.0" x2="1090.0" y2="574.0" stroke="#FF9AA3" stroke-width="1.4"/>
<line x1="659.2" y1="525.7" x2="1090.0" y2="525.7" stroke="#FF9AA3" stroke-width="1.4"/>
<line x1="659.2" y1="477.4" x2="1090.0" y2="477.4" stroke="#FF9AA3" stroke-width="1.4"/>
<line x1="659.2" y1="429.1" x2="1090.0" y2="429.1" stroke="#FF9AA3" stroke-width="1.4"/>
<path d="M659,547.3l1.1-3.9 1.1-3.8 1.2-3.8 1.8-3.5 2-3.5 1.3-3.8 .7-3.9 .8-3.9 .8-4 1.7-.7 1.8,3.6 1.9,2 2.4-3.2 2.7-2.9 3.5-.5 1.5,3.6 1.3,3.8 1.6,3.7 2.2,3.3 2.2,3.3 1.9,3.5 1.8,3.6 1.7,3.7 1.5,3.7 1.3,3.7 1.1,3.9 .8,3.9 .8,3.9 1.2-1.5 .5-4 .4-4 .3-3.9 .5-4 1.5-3.6 3.3-1.8 2.7-2.9 3.4-1.4 3.6,1.4 3,2.7 2.2,3.3 1.8,3.6 1.4,3.7 1.3,3.8 1.6,3.7 2.6-1.3 2.2-3 4,.2 3-2 1.4-3.7 1.3-3.8 2.5-1.8 3.2,2.4 3,1.8 2.7-2.8 1.6-3.6 1.5-3.7 2.1-3.3 3.1-2.5 3.1-2.6 2.7-2.9 2.4-3.2 2.3-3.3 2.2-3.3 2-3.5 2-3.4 2.1-3.5 2.5-3.1 3-2.6 3.9-.2 3.2-1.9 2.7,1 1,3.8 .8,3.9 .9,3.9 1.1,3.9 1.1,3.8 1.3,3.8 1.3,3.8 1.5,3.7 1.6,3.7 1.8,3.5 2.2,3.4 2.6,3.1 3.2,1.6 2.8-2.8 2.1-3.4 2.7-2.9 3.7-1.2 3.9,.5 3.9,1.1 3,2.4 2-2.8 1-3.8 1-3.9 2.1-3.2 2-3.3 .8-3.9 .3-3.9 .3-4 .2-4 .2-4 .2-4 .3-4 .3-4 1-1.8 .7,4 .5,4 .4,3.9 .5,4 .5,4 .6,3.9 .8,3.9 .9,3.9 1,3.9 1.1,3.9 1,3.8 .9,3.9 .8,3.9 .8,4 .8,3.9 .8,3.9 .9,3.9 2.4,2.5 1.9-3.1 .2-4 .9-3.9 1.1-3.8 1.1-3.9 .9-3.9 .7-3.9 .6-4 .6-3.9 .8-4 1.3-3.6 2.6,1.4 1.6,3.6 1,3.9 .8,3.9 .9,3.9 1,3.9 .9,3.9 1,3.9 1,3.9 1,3.8 1,3.9 1.1,3.8 1.9,3.3 3.2,2.4 .8,3.9 .7,3.9 .6,4 .7,3.9 .8,3.9 1.3,3.8 1.8,3.6 2,3.4 1.7,3.7 1.6,3.6 2.1,3.4 3.6-1.2 3.6-1.1 4,0 3.5-1.4 2-3.5 1.1-3.8 .9-3.9 .9-3.9 1-3.9 1.3-3.8 1.3-3.7 1.6-3.7 2.1-3.4 2.8-2.8 3-2.9 3-2.9 3,.1 1.7,3.4 1.5,3.5 1.6,3.5 1.5,3.5 1.3,3.6 1.2,3.8 .9,3.7 .9,3.8 1,3.8 1.1,3.7 1.3,3.6 1.4,3.6 2.6,1.5 2.8-2.6 2.1-3.4 2.4-3 1.9,2.3 1.1,3.8 1,3.9 1,3.9 1,3.9 1,3.9 .9,4 .9,3.9 .8,3.9 .8,3.9 .8,4 .9,3.9 .9,3.9 1.4,3.8 2.2,3.2 3.5,2 3-2.3 1.1-3.9 .8-3.9 .7-3.9 .6-3.9 .6-3.9 .6-4 .6-3.9 .5-4 .5-3.9 .5-4 .5-3.9 .6-4 .5-4 .4-3.9 .5-4 .5-3.9 .5-4 .7-3.9 .8-3.9 1.1-3.8 1.5-3.7 1.9-3.5 1.8-3.5 2-3.4 2.4,.1 1.7,3.6 1.8,1.8 .8-3.9 .6-4 .6-3.9 .6-3.9 1-3.9 3.3,.2 2.3,3.3 1.6,3.7 1.4,3.7 1.4,3.8 1.4,3.8 1.8,3.6 2.9,.3 2.6-3 2-3.4 1.8-3.5 1.6-3.6 1.5-3.7 1.9-3.5 2.2,1.1 1,3.9 1.4,3.8 1.7-2.4 2.6-1.4 .6,3.9 .4,4 .4,4 .3,4 .4,4 .5,4 .5,4 1.4,3.7 2.3,3.3 3.9,1 3.7-.4 1.8-3.4 .9-3.9 .7-3.9 .6-3.9 .7-4 .8-3.9 1.6-3.5 2.9-1.4 0,25.2 -2.9,1.5 -1.6,3.6 -.8,4 -.7,3.9 -.6,4 -.7,4 -.9,3.8 -1.8,3.6 -3.7,.6 -3.9-.9 -2.3-3.2 -1.4-3.6 -.5-3.9 -.5-4 -.4-4 -.3-3.9 -.4-4 -.4-4 -.6-3.9 -2.6,1.5 -1.7,2.5 -1.4-3.7 -1-3.9 -2.2-.9 -1.9,3.5 -1.5,3.8 -1.6,3.7 -1.8,3.6 -2,3.5 -2.6,3.1 -2.9-.2 -1.8-3.5 -1.4-3.7 -1.4-3.7 -1.4-3.7 -1.6-3.6 -2.3-3.2 -3.3,0 -1,3.9 -.6,4 -.6,4 -.6,3.9 -.8,4 -1.8-1.7 -1.7-3.6 -2.4,.1 -2,3.5 -1.8,3.6 -1.9,3.6 -1.5,3.7 -1.1,3.9 -.8,3.9 -.7,4 -.5,4 -.5,4 -.5,3.9 -.4,4 -.5,4 -.6,4 -.5,4 -.5,3.9 -.5,4 -.5,4 -.6,4 -.6,3.9 -.6,4 -.6,4 -.7,3.9 -.8,4 -1.1,3.8 -3,2.5 -3.5-1.8 -2.2-3.1 -1.4-3.7 -.9-3.9 -.9-3.8 -.8-3.9 -.8-3.9 -.8-3.9 -.9-3.9 -.9-3.9 -1-3.8 -1-3.9 -1-3.8 -1-3.9 -1.1-3.8 -1.9-2.2 -2.4,3.2 -2.1,3.4 -2.8,2.8 -2.6-2.1 -1.4-3.9 -1.3-3.9 -1.1-4 -1-4 -.9-4 -.9-4 -1.2-3.9 -1.3-4 -1.5-3.8 -1.6-3.9 -1.5-3.9 -1.7-3.7 -3-.8 -3,2.1 -3,2.5 -2.8,2.8 -2.1,3.4 -1.6,3.7 -1.3,3.7 -1.3,3.8 -1,3.9 -.9,3.9 -.9,3.9 -1.1,3.8 -2,3.5 -3.5,1.4 -4,0 -3.6,1.1 -3.6,1.2 -2.1-3.4 -1.6-3.6 -1.7-3.7 -2-3.4 -1.8-3.6 -1.3-3.8 -.8-3.9 -.7-3.9 -.6-4 -.7-3.9 -.8-3.9 -3.2-2.4 -1.9-3.3 -1.1-3.8 -1-3.9 -1-3.8 -1-3.9 -1-3.9 -.9-3.9 -1-3.9 -.9-3.9 -.8-3.9 -1-3.9 -1.6-3.6 -2.6-1.4 -1.3,3.6 -.8,4 -.6,3.9 -.6,4 -.7,3.9 -.9,3.9 -1.1,3.9 -1.1,3.8 -.9,3.9 -.2,4 -1.9,3.1 -2.4-2.5 -.9-3.9 -.8-3.9 -.8-3.9 -.8-4 -.8-3.9 -.9-3.9 -1-3.8 -1.1-3.9 -1-3.9 -.9-3.9 -.8-3.9 -.6-3.9 -.5-4 -.5-4 -.4-3.9 -.5-4 -.7-4 -1,1.8 -.3,4 -.3,4 -.2,4 -.2,4 -.2,4 -.3,4 -.3,3.9 -.8,3.9 -2,3.3 -2.1,3.2 -1,3.9 -1,3.8 -2,2.8 -3-2.4 -3.9-1.1 -3.9-.5 -3.7,1.2 -2.7,2.9 -2.1,3.4 -2.8,2.8 -3.2-1.6 -2.6-3.1 -2.2-3.4 -1.8-3.5 -1.6-3.7 -1.5-3.7 -1.3-3.8 -1.3-3.8 -1.1-3.8 -1.1-3.9 -.9-3.9 -.8-3.9 -1-3.8 -2.7-1 -3.2,1.9 -3.9,.2 -3,2.6 -2.5,3.1 -2.1,3.5 -2,3.4 -2,3.5 -2.2,3.3 -2.3,3.3 -2.4,3.2 -2.7,2.9 -3.1,2.6 -3.1,2.5 -2.1,3.3 -1.5,3.7 -1.6,3.6 -2.7,2.8 -3-1.8 -3.2-2.4 -2.5,1.8 -1.3,3.8 -1.4,3.7 -3,2 -4-.2 -2.2,3 -2.6,1.3 -1.6-3.7 -1.3-3.8 -1.4-3.7 -1.8-3.6 -2.2-3.3 -3-2.7 -3.6-1.4 -3.4,1.4 -2.7,2.9 -3.3,1.8 -1.5,3.6 -.5,4 -.3,3.9 -.4,4 -.5,4 -1.2,1.5 -.8-3.9 -.8-3.9 -1.1-3.9 -1.3-3.7 -1.5-3.7 -1.7-3.7 -1.8-3.6 -1.9-3.5 -2.2-3.3 -2.2-3.3 -1.6-3.7 -1.3-3.8 -1.5-3.6 -3.5,.5 -2.7,2.9 -2.4,3.2 -1.9-2 -1.8-3.6 -1.7,.7 -.8,4 -.8,3.9 -.7,3.9 -1.3,3.8 -2,3.5 -1.8,3.5 -1.2,3.8 -1.1,3.8 -1.1,3.9Z" fill="#FF0000" fill-opacity="0.12" stroke="none"/>
<path d="M659,589.6l1.1-3.9 1.1-3.9 1.1-4 1.1-3.9 1.1-4 1-3.9 1-4 1.1-3.9 1.2-3.9 1.6-3.8 2.1-3.6 2.9-2.8 3.6-2.1 1.9-3.5 1.2-3.9 .9-4 .9-4 .6-4 .5-4 .6-4 2.4-2.7 2.2-3.3 .4-4 .3-4 .3-4.1 .3-4 .3-4 .3-4 .9-3.5 3.2,2.2 1.3-3 .7-3.8 .8-3.8 1.2-3.6 2.4,2.6 1.8,3.8 2.7,.6 2.8-2.5 3.1,1.2 3.2,2.4 3.6-1.8 3.7-1 2.9-2.4 .3-4 .1-4 .4-4 2.6-2.8 3.8-.2 2.8,2.5 2.1,3 2.4,2.8 2.1,3.2 1.7,3.3 1.8,3.3 1.7,3.4 1.7,3.3 1.9,3.3 2.5,2.6 2.7-3.5 1.2-4.7 1.4-4.6 2-4.8 2.3-4.8 1.9-4.8 1.6-4.7 1.4-4.7 1.4-4.6 1.1-4 .9-4 1.2-3.9 2.9-2.9 3.7-1.8 2.6-3.2 2.1-3.7 2.5-3.4 2.9-3.2 1.9-3.6 1.8-3.8 2.6,1.4 2.7,4.8 3.5,4.2 3.9,3 3.6,.5 3.7-1.3 3.3,1.2 2.8,2 2,2.7 .9,3.6 .5,3.8 .8,3.6 3.2,.4 3.3-.9 4,.6 1.3-3.4 .8-3.7 1.3-3.5 2.4-2.7 1.6-3.3 1.1-3.6 1.7-3.2 1.9,2.9 1.2,3.9 1.1,4 1.1,4 1,4 1.1,4 1,4 1,4 .8,4.1 .8,4 .6,4 .5,4 .6,4.1 .5,4 .6,4.1 .7,4 .9,4 1,4.2 1.2,4.2 1.7,4.1 2.9,.4 1.3-3.3 .8-3.7 .5-3.8 .5-3.9 .4-3.8 .4-3.9 .3-3.9 .2-3.9 .1-4 .4-3.8 .7-3.8 .9-3.6 1.2-3.5 2.2,.2 1.2,4.2 .9,4.2 .8,4.1 .7,4.1 .6,4.1 .6,4 .5,4 .6,4.1 .5,4 .6,4.1 .6,4 .6,4.1 .6,4 .7,4.1 .8,4 1,4 1.3,4 1.5,3.9 1.9,3.8 3.1,2.7 2.4-2.4 2.5-1.4 1.9,3.6 1.7,3.6 2.6,3 2.6,3 2,3.5 1.5,3.7 1.4,3.7 1.4,3.8 1.8,3.5 1.9,3.6 1.6,3.6 1.4,3.8 1.3,3.7 1.2,3.9 1.2,3.8 1,3.9 1.1,3.8 1,3.9 .9,3.9 .8,3.9 .8,3.9 .7,4 .7,3.9 .6,3.9 .7,4 .7,3.9 .8,3.9 1,3.9 1.1,3.9 1.4,3.7 2.6,1.4 1.5-3.7 1-3.8 .9-3.9 1-3.9 1.2-3.8 1.2-3.8 1.3-3.8 1.3-3.8 1.6-3.7 1.7-3.6 1.9-3.5 2.1-3.4 2.2-3.4 2.7-2.9 3.2-2.3 3.8-1.3 3.9-.1 3.8,1.2 3.1,2.5 2.2,3.3 2,3.4 2.2,3.4 2.3,3.3 2.7,2.9 2.8,2.9 2.3,3.2 2.2,3.4 2.1,3.4 2.1,3.4 2.8,2.8 3.5,1.8 2.5,3 2.7,2 3-2.6 2.2-3.3 1.8-3.6 1.7-3.6 2-3.5 2.2-3.3 2.2-3.3 1.6-3.7 2-3.5 3.4,1.5 3.4-.3 2.2-3.3 1.6-3.7 1.1-3.8 1-3.9 .9-3.9 .9-3.9 .9-3.9 .9-3.9 .9-3.9 .8-3.9 .8-3.9 .8-4 .7-3.9 .6-4 .6-3.9 .7-4 .6-3.9 .7-3.9 .7-4 .7-3.9 .7-4 1-3.8 2.1,.6 1.1,3.8 1.1,3.9 1.9,3.4 1.6,3.7 1,3.9 .5,3.9 .5,4 .4,4 .4,4 .7,3.9 .7,3.9 .8,4 .9,3.9 .9,3.8 1.3,3.8 1.6,3.7 1.3,3.8 .8,3.9 .7,3.9 .7,4 .8,3.9 2.2,1.3 2-3.3 2.5-3 .6-.5 0,15.2 -.6,.5 -2.5,3 -2,3.3 -2.2-1.3 -.8-3.9 -.7-4 -.7-3.9 -.8-3.9 -1.3-3.8 -1.6-3.7 -1.3-3.8 -.9-3.8 -.9-3.9 -.8-4 -.7-3.9 -.7-3.9 -.4-4 -.4-4 -.5-4 -.5-3.9 -1-3.9 -1.6-3.7 -1.9-3.4 -1.1-3.9 -1.1-3.8 -2.1-.6 -1,3.8 -.7,4 -.7,3.9 -.7,4 -.7,3.9 -.6,3.9 -.7,4 -.6,3.9 -.6,4 -.7,3.9 -.8,4 -.8,3.9 -.8,3.9 -.9,3.9 -.9,3.9 -.9,3.9 -.9,3.9 -.9,3.9 -1,3.9 -1.1,3.8 -1.6,3.7 -2.2,3.3 -3.4,.3 -3.4-1.5 -2,3.5 -1.6,3.7 -2.2,3.3 -2.2,3.3 -2,3.5 -1.7,3.6 -1.8,3.6 -2.2,3.3 -3,2.6 -2.7-2 -2.5-3 -3.5-1.8 -2.8-2.8 -2.1-3.4 -2.1-3.4 -2.2-3.4 -2.3-3.2 -2.8-2.9 -2.7-2.9 -2.3-3.3 -2.2-3.4 -2-3.4 -2.2-3.3 -3.1-2.5 -3.8-1.2 -3.9,.1 -3.8,1.3 -3.2,2.3 -2.7,2.9 -2.2,3.4 -2.1,3.4 -1.9,3.5 -1.7,3.6 -1.6,3.7 -1.3,3.8 -1.3,3.8 -1.2,3.8 -1.2,3.8 -1,3.9 -.9,3.9 -1,3.8 -1.5,3.7 -2.6-1.4 -1.4-3.7 -1.1-3.9 -1-3.9 -.8-3.9 -.7-3.9 -.7-4 -.6-3.9 -.7-3.9 -.7-4 -.8-3.9 -.8-3.9 -.9-3.9 -1-3.9 -1.1-3.8 -1-3.9 -1.2-3.8 -1.2-3.9 -1.3-3.7 -1.4-3.8 -1.6-3.6 -1.9-3.6 -1.8-3.5 -1.4-3.8 -1.4-3.7 -1.5-3.7 -2-3.5 -2.6-3 -2.6-3 -1.7-3.6 -1.9-3.6 -2.5,1.8 -2.4,3.2 -3.1-1.8 -1.9-3.2 -1.5-3.4 -1.3-3.6 -1-3.7 -.8-3.9 -.7-3.8 -.6-3.9 -.6-3.8 -.6-3.9 -.6-3.9 -.5-3.8 -.6-3.9 -.5-3.9 -.6-3.9 -.6-3.8 -.7-3.8 -.8-3.7 -.9-3.6 -1.2-3.5 -2.2,1.1 -1.2,4.2 -.9,4.1 -.7,4.2 -.4,4.1 -.1,4 -.2,4.1 -.3,4.1 -.4,4.1 -.4,4.1 -.5,4.1 -.5,4.1 -.8,4.1 -1.3,4.2 -2.9,1.4 -1.7-3.2 -1.2-3.4 -1-3.6 -.9-3.7 -.7-3.9 -.6-3.8 -.5-3.9 -.6-3.9 -.5-3.9 -.6-3.9 -.8-3.8 -.8-3.8 -1-3.8 -1-3.7 -1.1-3.7 -1-3.7 -1.1-3.7 -1.1-3.8 -1.2-3.6 -1.9-2.3 -1.7,3.9 -1.1,4 -1.6,3.9 -2.4,3.7 -1.3,4 -.8,4.1 -1.3,3.9 -4,.9 -3.3,2.3 -3.2,0 -.8-4.2 -.5-4.2 -.9-4.1 -2-4.1 -2.8-3.8 -3.3-3.4 -3.7-1.2 -3.6,4.2 -3.9,2.4 -3.5,.5 -2.7-1 -2.6,1.8 -1.8,3.4 -1.9,3.2 -2.9,2.4 -2.5,2.8 -2.1,3.1 -2.6,2.7 -3.7,.8 -2.9,2.1 -1.2,3.7 -.9,3.8 -1.1,3.7 -1.4,2.9 -1.4,2.8 -1.6,2.6 -1.9,2.3 -2.3,1.7 -2,2.1 -1.4,2.8 -1.2,3 -2.7,.7 -2.5-3.4 -1.9-3.8 -1.7-3.9 -1.7-3.8 -1.8-3.9 -1.7-3.9 -2.1-3.7 -2.4-3.6 -2.1-3.6 -2.8-3 -3.8-.2 -2.6,2.5 -.4,4 -.1,4 -.3,3.9 -2.9,2.2 -3.7,.5 -3.6,1.5 -3.2-1.9 -3.1-.2 -2.8,3.3 -2.7,.2 -1.8-3.3 -2.4-1.9 -1.2,4 -.8,4.1 -.7,4 -1.3,3.4 -3.2-2.2 -.9,3.3 -.3,4 -.3,3.9 -.3,4 -.3,4 -.3,3.9 -.4,4 -2.2,2.9 -2.4,2.4 -.6,3.8 -.5,4 -.6,3.9 -.9,3.8 -.9,3.8 -1.2,3.7 -1.9,3.2 -3.6,1.5 -2.9,2.4 -2.1,3.2 -1.6,3.5 -1.2,3.7 -1.1,3.8 -1,3.8 -1,3.8 -1.1,3.7 -1.1,3.8 -1.1,3.7 -1.1,3.8 -1.1,3.7Z" fill="#FF0000" fill-opacity="0.12" stroke="none"/>
<path d="M659,558.2l.5-.2 .6,0 .5-3.3 .6-2.1 .5-2.2 .7-2.5 .8-2.8 1,.5 1.1-1.3 .9-2.4 .8-2.8 .5-1.7 .4-3.7 .3-1.7 .4-.1 .4-.1 .4-2.6 .4-1.6 .7-2.8 1-.6 1.1,0 .7,2.8 .8,3.2 1.1,.1 1.3-.3 1.1-.7 1.2-1.7 1.5-3.8 1.7-.7 1.8,.7 .9,1.8 .6,1.9 .6,3.4 .7,1.4 .6,0 1,1.4 1,2.5 1.2,1.7 1.1,2.6 1.1,3.8 1,1.4 .9-.2 .9,.6 .9,1.5 .8,.6 .9,3.1 .7,4.1 .8,2.8 .7,.7 .6,2.3 .7,.7 .4,.6 .5,1.9 .3,4.2 .4,1.5 .4,1.9 .9,.3 .3-1.8 .3-3.5 .2-2.5 .2-.1 .2-.8 .1-2 .2-1.8 .3-2.3 .2-4.7 .4-3 1.1-.7 1.6,.2 1.7-.6 1.3,.6 1.4-1 1.6-2.6 1.8-2.1 2,.9 1.6,.5 1.7,1.3 1.3,2.6 1.1,3 1.1,0 .9,1.1 .9,2 .7,2 .7,1.6 .6,4.1 .7,2.7 .7,.5 .9,.3 1.2-.1 1.4-2 1-3.1 1.2,.4 2,2.4 2,.9 2-1.1 1-1.2 .7-3.5 .7-3.6 .6-2 .7,.1 1-1.9 1.5,0 1.7,1.9 1.5,1 1.4-.3 1.6,0 1.6,.7 1.1-1.3 .9-1.5 .7-1.5 .7-1.9 .8-4.7 .9-2.4 1.2-.9 1.5-.3 1.6-.8 1.6,1.4 1.5-1.3 1.4-3.1 1.3-3.2 1.3-1.4 1.1-2.7 1.2-1.1 1.1,.1 1.1-.6 1.1-3.2 1-1.7 1-1.9 1-2.4 1-1.6 1,.4 1.1-1.6 1.2-2.9 1.3-2.1 1.4-2 1.6-2.6 1.9,.2 2,2.6 1.8,.6 1.4-1.5 1.8-.6 .9,1.3 .5-.9 .5,1.2 .4,2.7 .4,3.3 .4,1.7 .5,3.7 .5,1.8 .6,.5 .5,.7 .6,3.4 .6,1.7 .7,2.3 .6,2.6 .7,2.1 .7-.7 .8,1.4 .7,2.3 .9,2.4 .9,2.4 .9,4.2 1.1,1.8 1.1-.2 1.2,.3 1.4,1.1 1.5,.1 1.7,.6 1.4,1.1 1.4-.5 1-2.2 1.1-2.1 1.3-1.4 1.4-3.1 1.7-.9 2,1.1 2,1.2 1.9-1 2,.8 1.9-.2 1.3,.3 1.7,.4 1.3,1.2 .7-.5 .5-1.7 .5-1.7 .5-2 .5-4.5 .6-3.5 1.5-.4 1.2-.6 .8-1.4 .6-.4 .2-.8 .2-3.8 .1-3.2 .2-1.9 .1-1.7 .1-2.6 .1-.3 .1-1.6 .1-3.3 .1-3.4 .1-1.1 .1-2.5 .2-1.2 .1-.3 .2-.6 .3-4 .7-.3 .4,1.3 .3,1 .3,.8 .2,2.8 .2,4.8 .2,2.3 .3,1.9 .2,1.9 .2,1.3 .3-.3 .3,2.7 .3,3.2 .4,2.3 .4,1.4 .4,2.9 .5,.6 .5,.8 .5,2.3 .5,4.1 .6,1.8 .5,2.7 .5,2.1 .4,.6 .5-.8 .4,2.4 .4,2.5 .4,2.7 .4,3.2 .4,4.1 .4,.7 .4,.4 .4,1.4 .4,1.9 .5,1 .6,3.3 1.8,2.1 1.1-1.8 .8-3 .2-2.1 0-1.8 .3-2.9 .6-.4 .5-.3 .6-2 .6-3.7 .5-2 .5-3.5 .4-2.9 .3-1.1 .4,.9 .3-1.9 .3-1.5 .3-2.2 .3-3 .4-4.6 .4-1.2 .4-1.1 .9-1.1 1.7-.5 .9,3.1 .9,1 .7,.2 .5,2.1 .5,3.3 .4,1.9 .4,2.5 .5,2.9 .4,.7 .5-.3 .5,1.6 .4,2.8 .5,2 .5,3.7 .5,3.9 .5,1.6 .5-.3 .5,1.6 .5,1 .5,1.2 .5,2.7 .6,4.4 .5,1.4 .7,1.5 1.2,1.2 1.7,.9 1.5-.2 .5,3.3 .3,3.3 .4,2.1 .3,.6 .3,2.3 .3,.4 .3,.9 .4,2.8 .3,4.5 .5,2.2 .6,2.5 .7,2 .8,.3 1-.9 1,2.1 1,2.7 .9,2.1 .8,2.8 .8,3.3 .8,.7 .9,.1 1.2,2.1 1.8,0 1.8-1 1.6-.6 2,1.5 2-1.6 2-1.6 1.9-.4 1.6-.5 1.1-2 .9,.4 .6-.3 .5-2.3 .5-4.1 .4-2.1 .5-3.5 .4-2.6 .5-.9 .5,.6 .6-2.3 .7-1.7 .7-2.1 .6-2.6 .8-3.6 .8-.4 .9-.8 1.2-1.7 1.3-2.1 1.5-.8 1.6-3 1.4-2.4 1.3-.2 1.7,.7 1.7-.8 1.3,2.1 1,2.1 .7-.3 .7-.2 .8,2 .8,2.7 .8,2 .7,3.7 .8,3.1 .7,.9 .6,.1 .6,2.3 .6,1.3 .4,1.9 .5,2.9 .4,3.5 .5,.2 .4,1.3 .6,1.8 .5,2 .6,1.5 .7,4.4 .6,2.9 .7,1.1 .7,.3 1.1,1.6 1.5-1.5 1.7-2.1 1.1-.3 1.1,.7 1-1.5 1-1.6 1.4-1 1.2-.6 .7,.1 .6,1.2 .5,3.8 .5,1.7 .5,2.3 .5,2.4 .5,1.8 .5-.4 .5,2.7 .5,3 .5,2.7 .4,2.1 .5,3.3 .5,.4 .4-.2 .4,1.1 .4,2.9 .4,1.8 .4,3.7 .4,4 .4,1.8 .5,0 .4,1.6 .4,1.4 .5,.9 .5,2.8 .9,3.7 .8,1.6 1.4,.2 1.8,1.3 1.7,.4 1.8-1.6 1.2-.7 .6,.4 .5-2.4 .4-2.7 .4-2.7 .3-2.8 .4-4.1 .3-.5 .3-.1 .3-.9 .3-2.1 .3-.9 .3-3.9 .3-3.8 .3-2.4 .2-.6 .3-2.3 .3-.9 .2-1.1 .3-2.5 .2-4 .3-1.2 .2-1.5 .3-1.8 .3-1.3 .2-.8 .3-3.7 .2-3.8 .2-2.2 .3-1.6 .2-2 .3,.1 .2,0 .3-2.8 .2-3.5 .3-2.5 .4-3.1 .3-3.1 .5-.3 .5-.3 .6-1.9 .7-2.5 .8-1.2 .9-3.2 1-2.4 .9-.8 .9-.1 .9-2.7 1.1-1.6 1.5-1.8 .9,.4 .8-.2 .9,3.4 1,3.3 .8,.3 .5-1.3 .3-1.3 .3-1.9 .3-4.9 .3-3 .3-1.7 .3-1.3 .3-1.9 .4,.3 .6-1.8 1.8-1.9 1.5-.4 1.2,2.3 1.1,1.2 .9,1.9 .7,3.1 .7,2.7 .7-.1 .7,1 .7,2 .7,1.6 .7,2.2 .8,4.3 1,2.9 1.2,.1 1.7-1.9 1.4-2.3 1.2-3 1.1-2.8 .9,.5 1-.5 .8-1.5 .8-1.9 .8-1.4 .8-4 .7-2.4 .8-.9 1.1-.5 1.2-1.4 1,2.1 .5,2.1 .5,.6 .6,.3 .8,3.1 .8,.5 .9-1.5 1.3-.5 1.3,.4 .3,2.5 .3-.4 .2,.1 .2,2.2 .2,2.3 .2,2.3 .2,4.1 .1,3.4 .2,.6 .2,.9 .2,1.9 .3,1.4 .2,1.4 .3,3.8 .5,2.6 .9,.8 1.2,.6 1.1,2.1 1.9-.6 2,.9 1.9,2.1 1.8,.8 1.1-2.9 .7-2.2 .5-3 .4-3.5 .4-3.2 .3,.4 .3-.7 .3-1.4 .4-1.6 .3-1.6 .4-4.4 .4-3 .5-1.2 1.1-.9 1.3-1.7 1.6,.7" fill="none" stroke="#42B526" stroke-width="5.6" stroke-linejoin="round"/>
<path d="M659,545.9l.7,1.2 .6-.8 .7-2.8 .7-2.9 .9-4.4 1.1-3.7 1.3-.8 1.2-2.1 .9-3.3 .6-3 .4-3.4 .5,.3 .5-.1 .5-2.7 .7-2.9 1.2-3.3 1.3-.9 .9,4.7 1.1,3.9 1.7-.3 1.4-1.1 1.6-3.2 2-4.6 2.3,4.8 1.1,1 .7,1.7 .8,3.5 .8-.4 1.2,.9 1.4,3.2 1.5,3.4 1.3,5.5 1.2,.1 1.2-2.1 1.1,2.6 1,1.9 1.1,3.8 .9,5.6 .9,2.8 .8,2.7 .8,.2 .6,0 .5,3.4 .4,2.7 .7,2.2 .8-.2 .3-2.1 .3-4.2 .2,0 .2-.7 .3-2.5 .3-1.5 .3-5.4 .8-3.8 1.7-1.4 2.2-2 1.6,.2 1.9,1.5 2.1-5.3 2.5-1.2 2.1,2.4 1.8,3.8 1.6,1.9 1.3,.5 1.2,2.1 .9,3.5 .9,2.5 .8,3.6 .9,4.9 .9,.6 1.3-1.8 1.8-3.7 1.2-2.5 2,2.5 2.5,.8 2.5-2.1 1.2,0 .9-2.8 .8-3.7 .8-1.5 1.3-3 2,1.4 2,2.9 1.8,2.1 2.1-3.4 1.7-.7 1.2-.4 .9-1.7 .9-1.9 1-5.7 1.4-2.8 1.8-2.4 2,.3 2,3.5 1.8-4.3 1.6-4.2 1.6-2.6 1.4-1.4 1.5,.9 1.3-1.5 1.4-5.6 1.2-1.8 1.3-2 1.2-2.7 1.3,.9 1.4-2.4 1.6-6.1 1.7-1.7 2-.7 2.5,.2 2.5,1.1 1.7,.6 2.2,.8 .8,.4 .6-1 .5,2.7 .5,3.9 .6,2.4 .6,3.8 .7,.8 .7,1 .7,4.5 .8,2.7 .8,4.1 .9,2.5 .9-2.2 .9,.8 1.1,2.6 1.1,4.6 1.3,5.5 1.3,1.3 1.5,.9 1.7-1 2.1,.6 1.9,3.3 1.7-1 1.3-2.7 1.4-3.5 1.7-3.1 2.1,.4 2.5-1.8 2.4,1.1 2.5,1.1 2.4,.2 1.7-1.4 2.2,3 1,1 .6-1.8 .6-1.9 .6-3 .8-6.3 1.6-3.1 1.4-1.3 1.1-.1 .3,.6 .2-3.8 .2-3.8 .1-1.8 .2-3.2 .1-.8 .1-2 .2-4.7 .1-2.5 .1-2.8 .2-1.8 .2-.3 .3-3.5 .8-2.4 .5,1.3 .3,1.2 .3,1.3 .3,5.5 .3,3.4 .3,2.1 .3,2.3 .3-.4 .4,2.2 .4,3.7 .5,2.4 .5,3.8 .6,2.5 .6,2.1 .7,4.3 .7,3.3 .6,2.4 .6,1.7 .6-.7 .5,.6 .5,3.5 .5,3.7 .5,5 .5,3.7 .5,.3 .5,1.9 .6,2.4 .7,2.9 2.2,3.2 1.1-5.2 .5-4.2 .1-1.9 .5-3.4 .7,.3 .7,.1 .7-4.1 .6-2.5 .6-4.3 .5-3.1 .4,.6 .4-2 .4-2.3 .4-3.1 .4-5.8 .5-2.4 .6-2.2 2-2 1.2,5.7 1.1,2.3 .7,.1 .7,2.5 .5,2.9 .5,2.9 .6,3.1 .6,.1 .6,.7 .6,3.3 .5,3.2 .6,5.4 .7,4.2 .6,.7 .6,2.5 .7,1.5 .6,2 .7,4.2 .8,.2 1,1.4 2.2,2.8 1.6,.4 .6,5 .4,3.6 .4,1 .4,2.1 .4-.5 .4,1.4 .4,4.4 .6,2.2 .8,3.4 1,2.4 1.2,.7 1.3,2.6 1.2,2.2 1,3.1 1,3.5 1,.3 1.3,1.6 1.9,4.3 2.3-3 2.1-1.6 2.5,2.6 2.5-1.7 2.4-4.8 2,1.3 1.1-2.4 1,1.2 .6-1.2 .6-5 .5-3.4 .6-5.2 .6-3 .7,.3 .8-2.4 .8-.8 .8-1.3 1-3.6 1.1-1.5 1.3-2.1 1.6-2.9 1.9-2 1.9-1.1 1.7-4 2-1.7 2.1,.7 1.5,3.1 1,3.2 .8-.3 1-.5 1,1.4 1,3.2 .9,6.1 .8,3.2 .9,.3 .6,3 .6,2.1 .6,3 .5,4.2 .6,0 .7,1 .7,1.7 .7,.9 .8,5.4 .9,3.9 .9,2.4 1.5,.4 2.2-5.8 1.5-2.6 1.4,.8 1.2,.2 1.5-.2 1.6-2.7 .9-.9 .7,1.8 .6,5.1 .6,3 .6,3.6 .6,2.3 .7,.4 .6,4.9 .6,4.4 .6,3.2 .5,3.3 .6-1.7 .5-.3 .5,2.4 .5,2.1 .5,5.8 .5,3.7 .6,1 .5,3 .6,1.4 .7,3.2 1.1,4.2 1.4,.1 2.2-1.5 2.1,2.2 2.2-1.2 .8-2 .7-1.4 .5-3.4 .4-3.3 .5-4.2 .4-3.4 .4-.2 .4-.9 .4-2.1 .3-2.2 .4-4.8 .3-2.6 .3-.5 .4-2 .3-.4 .3-2.6 .3-4.1 .3-.8 .4-2.4 .3-1.9 .3-1.6 .3-6.1 .3-3.7 .3-2.8 .3-2.9 .3,.4 .3-2.9 .4-4.3 .4-2.7 .4-3.9 .6-.4 .7,.2 .8-3 1-1.6 1.2-2.4 1.1-4.6 1.2-2.8 1.1-2.2 1.4-.7 1.7,.5 1,.1 1.1,.2 1.2,4.6 .9-1.5 .5-2.2 .3-1.5 .4-5.1 .3-3.5 .4-.9 .4-1.2 .5,1 1.3-.9 2.2-3.4 1.5,.8 1.3,3.1 1.1,2.5 .8,4.7 .9,3.3 .8-.5 .9,.5 .9,.1 1,3.5 1.3,7 1.8-.4 1.9-2.1 1.5-4.8 1.3-5.4 1.2,.6 1.1,2 1-1.3 1-2.7 1-4.5 .9-3.3 1.3-1.7 1.4,.3 1.1,3.4 .6,4.3 .7,1 1-.4 1.1-1.6 1.3-2.5 1.7,1.4 .4,3.5 .3,.8 .2,0 .3,2.7 .2,3.1 .2,4.2 .3,4.6 .2,1.1 .3,1.8 .3,2.7 .4,2.1 .5,4.7 1.2,.1 1.5-1.3 2,4.5 2.4,.5 2.4,.3 2,.1 .9-1.9 .7-1.4 .5-3.4 .4-4.6 .4-.6 .4-1.7 .5-2.5 .4-2.3 .5-5.2 .6-3.5 1.4-1.8 2-.6 .6,.6" fill="none" stroke="#000" stroke-width="1.15" stroke-dasharray="9 2"/>
<path d="M659,572.1l.7-.4 .6-2.8 .7-4.8 .7-3.9 .9-3 1.1,.1 1.3-.6 1.2-2.3 .9-3.3 .6-4 .4-4.4 .5-.7 .5-.7 .5-2.7 .7-1.1 1.2,1 1.3-.3 .9,3.2 1.1,2.3 1.7-3.7 1.4,1.4 1.6-2.2 2-5.1 2.3-.4 1.1,3.4 .7,4.5 .8,5 .8-1 1.2,.4 1.4,3.3 1.5,1.3 1.3,6.9 1.2,2.8 1.2-1.9 1.1-.2 1,.9 1.1,3.6 .9,5 .9,3.2 .8,3.7 .8,.5 .6-.1 .5,3.3 .4,2.6 .7,2 .8-.5 .3-2.3 .3-4.3 .2-.1 .2-.8 .3-2.7 .3-1.6 .3-5.3 .8-3.1 1.7,.7 2.2-3.8 1.6,1.7 1.9-.7 2.1-3.9 2.5-1.6 2.1,3.6 1.8,2.4 1.6,1.4 1.3,2.1 1.2,2.3 .9,3.4 .9,1.8 .8,2.3 .9,4 .9,.1 1.3-1.9 1.8,1 1.2-3.9 2,.2 2.5,2.2 2.5,3.1 1.2-4.1 .9-5.3 .8-3.9 .8-1.4 1.3-1.9 2,3.4 2-.6 1.8,.5 2.1,.1 1.7,3 1.2-3.7 .9-3.3 .9-1.9 1-4.8 1.4-1.5 1.8,.2 2-4.5 2,2.7 1.8-1.7 1.6-3.6 1.6-3.4 1.4-4.2 1.5,2.5 1.3-.3 1.4-3.6 1.2-3.3 1.3-4.9 1.2-1.5 1.3,1.7 1.4-2.7 1.6-4.1 1.7-3.6 2,.3 2.5,.1 2.5,1.5 1.7-1 2.2,.9 .8-.5 .6-1.4 .5,2.8 .5,4.3 .6,2.6 .6,3.9 .7,.9 .7,1.7 .7,5.3 .8,2.8 .8,3.3 .9,1.3 .9-1.9 .9,3.3 1.1,3.9 1.1,3.1 1.3,6.7 1.3-.3 1.5-2.6 1.7,1.9 2.1,.8 1.9,1.1 1.7-2.7 1.3-.5 1.4-.7 1.7-2.2 2.1-3.9 2.5,1.4 2.4,1.1 2.5-2.3 2.4,1.9 1.7,2.1 2.2-1.1 1,.8 .6-2.7 .6-2.5 .6-2.6 .8-4.1 1.6-.7 1.4-2.9 1.1-2.4 .3-.2 .2-4.1 .2-4.1 .1-1.9 .2-3.3 .1-.9 .1-2 .2-4.6 .1-2.5 .1-2.6 .2-1.6 .2,0 .3-3.1 .8-.3 .5,2.3 .3,1.9 .3,1.5 .3,5.7 .3,3.2 .3,1.8 .3,1.9 .3-.8 .4,1.9 .4,3.7 .5,2.4 .5,3.6 .6,1.8 .6,1.1 .7,4.2 .7,4.4 .6,4.1 .6,3.1 .6-.1 .5,.3 .5,2.6 .5,2.4 .5,3.6 .5,2.9 .5,.4 .5,2.5 .6,2.7 .7,2.2 2.2,4 1.1-4.7 .5-4.8 .1-2 .5-4.1 .7-.4 .7,0 .7-3.5 .6-1.9 .6-3.9 .5-3 .4,.9 .4-1.8 .4-1.9 .4-2.7 .4-5.4 .5-2.6 .6-2.8 2-.3 1.2,4.4 1.1,1.1 .7,.8 .7,2.9 .5,2.7 .5,2.2 .6,2.2 .6-.4 .6,.6 .6,4 .5,4.3 .6,6 .7,3.7 .6-.9 .6,1.1 .7,1.3 .6,2.8 .7,4.9 .8,.8 1,2 2.2,4.6 1.6-1.5 .6,3.7 .4,3.2 .4,1.1 .4,2.6 .4,.1 .4,2 .4,4.8 .6,2.8 .8,4.6 1,2.9 1.2-2.1 1.3,.7 1.2,2.7 1,3.6 1,4.6 1,2.5 1.3,2.4 1.9-2.3 2.3,.4 2.1,.4 2.5-1.2 2.5-1.3 2.4-.5 2-1.8 1.1-3.5 1,1.6 .6-.4 .6-4.2 .5-2.4 .6-4.4 .6-2.4 .7,.5 .8-2.8 .8-3.1 .8-4.8 1-4.4 1.1,1.5 1.3-1.4 1.6-2.9 1.9-2.8 1.9-3 1.7,1.5 2-1.1 2.1-.8 1.5,3.6 1,3.8 .8-.2 1,0 1,1.7 1,2.9 .9,4.7 .8,2 .9,.9 .6,4.7 .6,3.1 .6,3 .5,3.5 .6-.7 .7,1.3 .7,2.7 .7,2.3 .8,6 .9,3.3 .9,1.4 1.5,3.1 2.2-8.6 1.5,.2 1.4,.6 1.2-.7 1.5-1.6 1.6-3.2 .9,.5 .7,3.2 .6,5.6 .6,2.7 .6,2.9 .6,2.3 .7,.8 .6,4.4 .6,2.6 .6,1.1 .5,2.4 .6-.9 .5,1.5 .5,4.2 .5,3.2 .5,6.1 .5,3.3 .6,.1 .5,1.8 .6,.3 .7,2.6 1.1,3.6 1.4-1.4 2.2,5.6 2.1-.5 2.2-3.4 .8-1 .7-.6 .5-2.4 .4-2.2 .5-3.2 .4-2.9 .4-.2 .4-1.7 .4-3.2 .3-3.4 .4-5.8 .3-3.3 .3-1.1 .4-2.5 .3-1 .3-3.3 .3-4.9 .3-1.5 .4-2.9 .3-1.8 .3-1.2 .3-5.2 .3-2.5 .3-1.6 .3-1.6 .3,1.4 .3-2.2 .4-4.1 .4-3.1 .4-5 .6-2.3 .7-1.4 .8-3.2 1-1 1.2-3.2 1.1-1.6 1.2,1.7 1.1-3.9 1.4-4.4 1.7-.4 1,1.3 1.1,1.2 1.2,5.5 .9-1.9 .5-3.2 .3-2.4 .4-5.9 .3-4.2 .4-1.4 .4-1.6 .5,.7 1.3-.6 2.2,.6 1.5-1 1.3,1.5 1.1,3.5 .8,5.4 .9,2.1 .8-.6 .9,2.8 .9,1 1,1.2 1.3,5 1.8,1.9 1.9-3.4 1.5-3.3 1.3-5.9 1.2,.7 1.1,2.3 1-2.4 1-2.8 1-4.3 .9-4.5 1.3-1.8 1.4,1.7 1.1,3.1 .6,3 .7-.6 1-.8 1.1,.5 1.3-2.1 1.7,3 .4,4.2 .3,1.1 .2,.2 .3,2.7 .2,2.9 .2,4 .3,4.1 .2,.5 .3,1 .3,1.9 .4,1.1 .5,4.1 1.2,2.9 1.5,.3 2,3.9 2.4-4.9 2.4,2.3 2,2.6 .9-2.9 .7-3.4 .5-5.1 .4-5.5 .4-.7 .4-1.1 .5-1.2 .4-.9 .5-4 .6-2.8 1.4-.8 2-1.2 .6-1.1" fill="none" stroke="#000" stroke-width="1.15" stroke-dasharray="9 2"/>
<path d="M659,600.3l.5-1.5 .6-1.9 .5-2.2 .6,0 .5-2 .6-4.5 .5-2.1 .6-1.2 .5-2 .6,.3 .5-.2 .5-3.9 .5-3.2 .5-1.9 .6-2.8 .5-1.2 .6,0 .6-2.8 .7-3.6 .9-2 .9-2 1.2-1 1.3,.8 1.6,0 1.9-1.9 1.7-2.3 1.1-1.9 .8-2.4 .6-1.5 .6-.1 .5-2.3 .4-4 .5-2.2 .4-2.1 .3-2 .3,.6 .2-.4 .3-3.7 .3-2.6 .3-2.2 .5-3.5 1.9,.6 1.4,.7 .8-3.1 .2-3.2 .2-2 .2-3.4 .1-1.5 .2,1 .1-1.3 .1-2.9 .2-2.1 .1-3.3 .2-3.1 .1-.4 .2-.9 .2-2.8 .7-2.2 1.8,.3 1.4,.4 .8-2.1 .5,.6 .4,.1 .3-2.7 .4-1.8 .4-2.5 .4-4.3 .8-1.1 1.4,2.1 1,2 .8,1.2 1,1.2 1.2,.3 1.5-2.6 1.4,0 1.4,.9 1.4-.3 1.7,.9 1.6,1.7 1.6-1 1.8-2 1.8,1.2 1.7-.3 2-.6 1.8-.5 1.1-2.8 .3-3.9 0-1.2 .1,0 0-1.3 .1-1.3 .3-2 .9-3.3 1.7-2.3 1.8,.7 2,1.7 1.5,.8 1.3,1.6 1,1 1.1-.9 1.3,1.7 1.1,4.1 1.1,2.1 1,2.5 .9,2.7 .8-.5 .9,.5 .9,3.5 .9,2.1 .8,1.7 .9,2.8 .8,.1 .9-.7 1,2.8 1.2,2.8 1.3,1.9 1.8,1.3 .9-1.5 .6-3.9 .6-2.7 .7-1.1 .7-1.5 .9-1.1 1.1-1.2 1.2-3.1 1.1-3.7 1.1-1.6 .8-.7 .8-1 .8-.3 .7-1.3 .7-3.9 .7-2.8 .7-.9 .5-1.8 .6-1.4 .4-.7 .5-4 .5-4.2 .7-1.1 1.1-1.2 1.8-.4 1.8,1.9 1.9-.6 1.4-3.6 1.2-1.5 1-1.5 1.1-2.1 1.1,.1 1.4-.6 1.5-3.9 1.4-2.7 1.1-1.5 .8-2.2 .8-.4 1,.5 1.1-1.6 1.5-.1 1.4,.9 1.3,1.4 1.6,1.2 1.9,2 1.9,1.4 2-1.8 1.8-2.8 1.8-.9 1.8-.9 1.9,1.1 1.7,3.9 1.6,1.4 1.4-.4 1.4,1.7 1,1.3 1,1.1 .5,4.2 .4,2.9 .2-.3 .3,1.2 .3,1.4 .5,.6 1.3,2 1.9,1.7 1.6-.6 1.7-1.2 2-.3 2-.8 .8-2.3 .5-.7 .4,0 .4-3.1 .5-3.6 .8-2 1.2-3.2 1.2-1.5 1,1.3 .6-1.3 .6-3 .5-1.5 .6-3 1.1-2.7 1.2,2.3 .7,3.5 .7,1.5 .5,1.1 .6,.9 .5,.2 .5,1.8 .6,4 .5,3.2 .5,1.7 .6,1.8 .5,1.2 .5,.7 .5,3.2 .5,3.9 .5,1.4 .4,1.2 .4,1.3 .4-.3 .4,1.7 .3,4.6 .3,2.6 .3,1.7 .2,2.7 .3,.5 .3,.7 .2,4.2 .3,3.1 .3,1.2 .3,2.4 .3,.6 .4-.8 .4,2.9 .5,3.7 .5,2 .5,3 .6,2.1 .6-.3 .8,1.6 .9,3.6 1.5,1.2 1.4-.9 .7-1.8 .6-2.7 .5-4.5 .3-2.5 .3-.2 .2-1.4 .3-1.4 .2-1 .2-3.7 .2-3.4 .2-.2 .2-1.1 .2-2.1 .1-.8 .1-3.4 .1-5 0-1.5 .1-1 .2-2 .2-.2 .4-1.5 .3-4.4 .5-2.1 .4-.6 .6-1.9 .6-.7 1-.7 1.2-.5 .7-.3 .5,1.6 .4,2.4 .5,2.6 .4,3.4 .4,2.5 .3,.3 .4,1.1 .3,3 .3,2.5 .3,2.9 .3,3.3 .2,.4 .3-.6 .3,2.1 .3,2.2 .2,2.1 .3,4.2 .3,2.3 .3-.3 .3,2 .3,2.8 .3,1.7 .3,3.9 .3,3.3 .3-.5 .3,.4 .4,2.1 .3,1 .5,3 .4,4.3 .6,1.1 .5,.6 .8,2.2 .7,1.4 .8,2.3 .9,4.2 1,2.1 1.3-.3 1.8-.4 1.3-1.8 1.1-2.3 1.3-1 1.2,1.6 1,2.7 .9,.1 .8,1.8 .9,1.7 1.3,.7 1.3,3.5 1.4,3.4 1.2,.5 1.1,.4 .9,1.1 .8,.2 .7,2.2 .7,4 .7,2.3 .7,1 .7,1.6 .9,1.1 .9,1.5 1,3.6 .9,3.5 .8,1.2 .8,.7 .8,.9 .6,.4 .7,1.9 .6,4.1 .6,2.4 .6,.9 .6,1.9 .6,1.2 .5,1.2 .5,4.3 .6,3.7 .5,.8 .5,1.5 .5,1.1 .4-.5 .5,2.7 .4,4.3 .4,1.4 .4,1.8 .4,2.3 .4-.1 .3,2 .4,4.8 .3,2.6 .3,1.6 .3,2.3 .4-.2 .3,.1 .3,3.3 .4,3.1 .4,1.9 .4,2.5 .4,1.2 .6,.2 .5,2.6 .6,3.8 .6,2.7 .8,2.2 1,1.4 1.6-1.4 .8-4.3 .7-1.3 .5-.3 .5-2.3 .4-1.3 .5-1.8 .5-4.3 .5-2 .6,.5 .6-1.5 .6-1.3 .6-1 .6-4.4 .7-3.9 .6-.7 .7-1.5 .8-1.7 .8-.4 .8-2.8 .9-4 1-1 .9-.4 1-1.2 1.1-.1 1-1.6 1.2-4.1 1.2-2.8 1.5-.9 1.5-1.1 1.7-.2 1.9,.2 1.9-1.6 2-1.9 1.9,.3 2,1.7 1.8,1.6 1.7,2.4 1.4,2 1.1-.7 1.1,.1 1,2.5 1,1.6 1.1,2.2 1.1,3.3 1.1,.3 1.2-.4 1.2,2.5 1.5,2 1.4,1.9 1.4,3.9 1.2,1.5 1.1-1.1 1.1,1.4 1.1,1.6 1.1,1 1,3.5 1.1,2.8 1-.5 1.3,.8 1.5,1.7 1.7,.7 1.8,2.4 1.4,3.6 1.1,1.1 1.3-.1 1.4-.4 1.7-1.2 1.3-2.1 1.2-.6 1-.1 1-3 .8-3.5 .9-1.4 .8-2 .9-1.2 1.1,1.2 1.1-1.4 1.1-3.7 1.2-1.9 1-2.5 .8-2.9 .8,.2 .9-.5 1.1-3.7 1.7,.2 1.7,.7 1.8-.2 1.6,.3 1.2,1 1-1.8 .8-2.7 .8-2.4 .6-3.4 .5-2.4 .5-.1 .5-1.2 .5-2.9 .4-2.7 .5-2.7 .4-2.7 .5-.5 .4,.4 .5-1.7 .4-2.8 .4-2.5 .5-3.3 .4-2.7 .4,0 .4-1.1 .4-3.3 .4-2.3 .4-2.7 .3-3.4 .4,0 .3,.5 .3-2.5 .3-2 .3-2.2 .4-4.5 .3-1.9 .3,.3 .3-2.3 .4-2.5 .3-1.7 .4-4.1 .3-2.8 .3,.5 .4-.7 .3-1.8 .4-1.2 .4-3.3 .6-4.1 1-.9 1.1,3.2 .5,2.6 .6,1.4 .5,2 .6,.5 .9,0 1,3.2 .9,3.9 .7,2 .7,2.7 .3,1.8 .3-.7 .2,1.8 .2,3.8 .3,1.7 .2,2.2 .2,2.5 .2-.5 .2,.7 .3,4 .4,2.8 .3,2.7 .4,3.6 .4,.7 .4-.3 .4,2.5 .5,2.6 .4,1.9 .5,3.1 .6,1.4 .7-.5 .8,1.3 .8,2.8 .6,2.8 .7,3.3 .4,3.1 .4,.8 .4,.1 .3,2.1 .4,2.6 .3,2.3 .4,2.8 .4,1.7 .7-.5 1.5-1.5 1.2-.2 .8-1.6 1.1-.4 1.4,.9 .6-.7" fill="none" stroke="#D20814" stroke-width="5.6" stroke-linejoin="round"/>
<path d="M659,590.6l.7-1.5 .7-2.4 .7-1.7 .6-3.7 .7-6.1 .7-1.9 .7-1.3 .7,.1 .6-.8 .7-4.9 .6-2.6 .7-2.6 .6-1.3 .8-1.1 .8-6 1.1-5.2 1.2-1.9 1.5,.5 1.8,1.6 2.4-3.9 2.1-3.6 1.2-.6 .8-2.1 .7-.4 .6-3.8 .5-3.3 .6-2.5 .4-2.7 .3,.3 .4-3 .3-4.2 .4-3.7 .9-4 2.2,3.8 1.4-1.4 .3-4.7 .3-3.1 .2-3.9 .1-.4 .2-.9 .2-3.7 .1-2.6 .2-4.3 .2-1.4 .3-1.1 .3-4.3 2-2.8 1.7,2.9 .9-1.3 .6,.8 .4-2 .5-3.3 .5-4.1 .7-5 1.4,.6 1.4,3.2 1,2.9 1.4,4 1.7-2.7 1.8-3.6 1.7,2.4 2,2.9 2,1.7 2-1 2.3-2.3 2.1,.9 2.4-2 2.3-1.7 1.1-.9 .3-4.7 .1-2.1 .1-2.3 .5-1.7 1.9-2.5 2.3-4.6 2.4,5.1 1.8,2 1.3,1.9 1.4-.5 1.6-2.1 1.4,6.9 1.2,3.5 1.2,2.5 1.1,.6 1.1-1 1,2.6 1.1,1.5 1.1,4.3 1.1,3.3 1.2-2.1 1.4,2.2 1.8,1.6 1.7-1.3 1,.3 .7-3.2 .9-2.6 .9-3.9 1.3-4.2 1.5-2.2 1.4-5.5 1.2-2 1,.8 1-2.6 .9-4.6 .9-7 .8-3.8 .7-.8 .7-2.4 .6-.9 .6-3.6 .8-3.3 1.5-.4 2.3-7.7 2.4,6.3 1.8,.5 1.5-3.7 1.2-5 1.4-5.1 1.7,5.5 1.8-1.4 1.8-4.1 1-6 1-5.6 1.2-.1 1.6,7.6 1.9-.8 1.6,1.3 2.1-1.3 2.3,8.2 2.5,2.3 2.3-1.2 2.2-.5 2.4,.8 2.2-3.2 2,3.6 1.8,4.6 1.5,.3 1.3-1.9 .7,0 .4,3.9 .4,3.1 .3,0 .6,2 1.8,.2 2.2,4.2 2.1-3 2.4,2.4 2.3,1.1 .8-1.3 .5-2.2 .5-.2 .6-5.1 1.3-6.3 1.5-.3 1.3-1.4 .8,1.1 .7-1.7 .6-3.4 1.3-2.9 1.4-3.5 .9,3.6 .7,6 .7,2.4 .6,2.2 .7,.2 .7,3.1 .6,5 .7,1.5 .7,2.2 .6,.3 .6,1.9 .6,4.4 .5,1.5 .5,2.5 .5,1.4 .4,2.9 .3,6.5 .4,3.8 .3,3.3 .3,1 .3,.8 .4,4.7 .4,2.6 .4,2.4 .5,.7 .6-.4 .6,4.1 .7,3.2 .7,3.3 .9,2.4 1.1,2.1 2,3.5 1.2-2.2 .9-2.1 .6-2.2 .4-6 .3-3.2 .3-.9 .3-1.7 .3-.9 .2-4.4 .2-3 .3-.6 .2-2.1 0-1.2 .1-4.7 .1-4.2 .2-1.1 .4-1.7 .4,.2 .6-2.5 .5-3.6 .8-1.8 1-3.8 1.5,2.7 .8,3.1 .6-.7 .6,2.4 .5,3.3 .5,4.4 .4,4.8 .4,.7 .4,2.7 .3,3.3 .4,3.2 .3,4 .4-.5 .3,.8 .4,2 .4,2.3 .3,4.6 .4,1.1 .4,2.2 .3,3.8 .4,3.4 .4,5 .4,.9 .4,.5 .6,2.6 .6,2.8 .7,5.6 .8,2.1 .9,.2 1,1.7 1.2,1.7 1.5,6.5 2.1,1.2 1.6-3.7 1.5-3.9 1.5-2.2 1.3,4 1.1,5 1,.4 1.4,2 1.7,.5 1.7,2.8 1.5,6.3 1.2,1 1,.2 .9,1.1 .8,1.9 .9,4.4 .9,1.3 1.2,2.4 1.1,2.8 1.2,1.7 1,4.5 1,1.7 .9,.8 .8,.8 .8,.3 .8,5.2 .7,4.3 .7,2.1 .7,1.9 .7,.4 .6,4.5 .6,3.6 .7,1.2 .5,1.5 .6-.2 .5,3.9 .5,4.3 .5,2.1 .5,2.7 .4,.6 .4,4 .4,5.4 .4,2.7 .4,2.7 .4-.5 .5,1.6 .5,3.7 .5,1.7 .7,2.8 .6,.8 .8,2.4 .9,5.3 1.2,2.5 1.8,1 .9-3.9 .7-6.4 .7-2 .6-2.1 .5-1.5 .7-2.2 .7-4.3 .8-.4 .7-1.1 .8-1.7 .8-2.2 .8-5.4 .9-2.8 1-2.9 1-1.4 1.1-.3 1.2-4.3 1.3-1.4 1.3-.6 1.3-1.9 1.5-1.7 1.7-2.5 1.9-2.8 2.2-1.1 2.3-1.4 2.5,2.7 2.4-3.9 2.5-.9 2.2,4.7 1.8,2 1.5,3.2 1.3,.6 1.3-.1 1.4,3.8 1.3,3.1 1.4,3.1 1.4-.3 1.8,.3 1.8,3.2 1.7,2.9 1.5,3.3 1.3,.9 1.4,.4 1.3,2.1 1.4,1.9 1.3,4.2 1.5,1.3 1.9-.8 2.2,2.8 2,1.5 1.4,3.3 1.6,3.3 2-.6 1.8-3.5 1.5-3.2 1.2-2.7 1.2-.5 1-3 1.1-2.5 1.2-2.3 1.3-2.9 1.5,1.1 1.4-2.9 1.2-3.5 1-1.8 1.1-2.7 1.3-.4 2.1,.2 2.2-.3 2.1,1.1 1.6-4.4 1.2-.6 1-.1 .8-3.4 .7-2.9 .7-4.4 .5-1.7 .6-.1 .6-3.4 .5-2.5 .6-4.2 .5-2.4 .6-.3 .6-3.5 .5-2.6 .5-4 .5-2.7 .5-.1 .5-3.1 .4-2.5 .5-3.5 .4-2.8 .4,.7 .4-2.2 .4-2.5 .3-3.5 .5-3.8 .4-.2 .4-3 .5-3.5 .4-4.2 .4-4.4 .4,.3 .5-.9 .6-1.7 .9-2.2 1.5-.1 .6,4 .7,3.4 .8,1.9 1,1.3 1.3-2.1 1,4.2 .9,5.7 .4,3.5 .4,2.9 .2-.5 .3,2.3 .3,3.9 .2,2.5 .3,2.9 .4-.5 .4,1.9 .4,4.4 .5,3.2 .5,3.9 .5-.1 .6,.7 .6,3.2 .7,2.2 .8,4.4 1,1.8 .9,.6 .8,3.2 .6,2.8 .5,4.6 .4,1.6 .5,.4 .4,3.2 .5,2 .6,3.5 1.5,1.7 1.6-2.9 1-3.2 1.6-2.3 1.3-.1" fill="none" stroke="#000" stroke-width="1.15" stroke-dasharray="9 2"/>
<path d="M659,611.1l.7-1.9 .7-2.2 .7-1.2 .6-3 .7-5.5 .7-1.7 .7-1.1 .7,.8 .6-.1 .7-4.7 .6-3.2 .7-3.1 .6-.9 .8-.1 .8-5.5 1.1-5.2 1.2-2.5 1.5-.6 1.8,1.8 2.4-.3 2.1-3.5 1.2-2.8 .8-3.6 .7-1 .6-3.6 .5-2.6 .6-1.6 .4-1.8 .3,1 .4-2.4 .3-3.7 .4-3 .9-2.8 2.2,1.8 1.4-3.6 .3-4.5 .3-2.9 .2-3.8 .1-.3 .2-.7 .2-3.6 .1-2.6 .2-4.2 .2-1.4 .3-.9 .3-4.1 2-.8 1.7,3.3 .9-3.4 .6,0 .4-2 .5-2.6 .5-3.1 .7-4.7 1.4-1.8 1.4,3.5 1,2.4 1.4,2.7 1.7-1.3 1.8-1.9 1.7-1.3 2,.6 2,.8 2,3 2.3-4.3 2.1-1 2.4,.6 2.3-.7 1.1-.5 .3-4.4 .1-2.1 .1-2.2 .5-1.4 1.9-4.4 2.3-1.7 2.4,1.6 1.8,3.9 1.3,1.8 1.4,.8 1.6-.9 1.4,2.5 1.2,3.6 1.2,4.6 1.1,1.2 1.1,1.6 1,6.1 1.1,1.8 1.1,1.7 1.1,1.6 1.2-1.2 1.4,3 1.8,5.5 1.7,1.3 1-.9 .7-3.6 .9-1.8 .9-3 1.3-3.8 1.5,.6 1.4-4.4 1.2-1.1 1,2.2 1,.6 .9-1.1 .9-5.4 .8-3 .7-.6 .7-3 .6-2.3 .6-5.2 .8-3.1 1.5,3.3 2.3,.8 2.4,1.1 1.8-6.2 1.5-2.7 1.2-3.7 1.4,1.2 1.7,2.1 1.8-3.3 1.8-5.8 1-4.4 1-3.4 1.2,4.1 1.6,2.7 1.9,1.4 1.6-2.1 2.1-3.4 2.3-1.5 2.5,4.1 2.3-6 2.2-4.9 2.4-1.4 2.2,4.5 2,7.2 1.8,3.6 1.5-3 1.3,3.5 .7,1.4 .4,3.9 .4,2.9 .3-.3 .6,2.3 1.8,3.8 2.2-2.1 2.1,.1 2.4-4.6 2.3,1 .8-2.6 .5-1.6 .5,1.5 .6-2.3 1.3-5.2 1.5-5.3 1.3-3.4 .8,.5 .7-2.4 .6-3.9 1.3-.7 1.4,2 .9,2.4 .7,3.7 .7,1.1 .6,1.6 .7-.9 .7,1.3 .6,3.7 .7,1.5 .7,2.6 .6,1.2 .6,3.1 .6,5.4 .5,1.9 .5,1.8 .5,.4 .4,2 .3,6.1 .4,3.8 .3,3.5 .3,1.4 .3,.8 .4,4.5 .4,2 .4,1.6 .5,.2 .6-.2 .6,4.6 .7,3.1 .7,2.1 .9,1.5 1.1,1 2,3.2 1.2-1.2 .9-2.4 .6-2.2 .4-5.9 .3-3.5 .3-1.5 .3-2.4 .3-1.7 .2-5.2 .2-3.7 .3-1.3 .2-2.4 0-1.4 .1-4.9 .1-4.4 .2-1.3 .4-2 .4-.2 .6-3.3 .5-4.2 .8-1.4 1-1.5 1.5,3 .8,2.5 .6-1.5 .6,1.4 .5,2.2 .5,3.4 .4,4.1 .4,.4 .4,2.4 .3,2.9 .4,3 .3,3.7 .4-.5 .3,1.1 .4,2.5 .4,3.2 .3,5.3 .4,1.6 .4,2.3 .3,3.5 .4,2.9 .4,4.5 .4,.5 .4,.4 .6,2.6 .6,2.6 .7,4.9 .8,1.1 .9-.5 1,1.8 1.2,2.2 1.5,4.5 2.1,1.7 1.6-4.1 1.5-3.6 1.5-2.2 1.3,1.8 1.1,4.6 1,1.7 1.4,2.8 1.7,1.8 1.7,3.2 1.5,2.9 1.2,.7 1,1 .9,.8 .8,1.9 .9,5.7 .9,2.4 1.2,1.5 1.1,1.1 1.2,1.7 1,5.4 1,1.3 .9,.3 .8,1.7 .8,1.5 .8,5.1 .7,3.3 .7,1.9 .7,2.4 .7,1.3 .6,5.1 .6,3.9 .7,1 .5,1 .6-.7 .5,3.5 .5,4.4 .5,2.3 .5,2.5 .4,.2 .4,3.2 .4,4.7 .4,2.3 .4,2.9 .4,.2 .5,2.5 .5,4.6 .5,2.2 .7,2.7 .6,.4 .8,2.2 .9,4.7 1.2,1.3 1.8-.9 .9-2.9 .7-4.6 .7-1 .6-2.1 .5-1.7 .7-1.9 .7-3.8 .8-.6 .7-1.9 .8-2.2 .8-2.4 .8-5.3 .9-2.2 1-1.9 1-1.8 1.1-.6 1.2-3.9 1.3-2.2 1.3-.3 1.3-2.2 1.5-2.5 1.7-4 1.9-2.1 2.2,1.1 2.3-1.9 2.5,.7 2.4-.9 2.5,0 2.2,2.8 1.8,.7 1.5,4.3 1.3,.3 1.3-.2 1.4,4.2 1.3,1.8 1.4,3.4 1.4,.8 1.8-1.1 1.8,3.9 1.7,3.3 1.5,4.9 1.3,2.4 1.4-2.4 1.3,1.5 1.4,1.6 1.3,4 1.5,3.2 1.9-.3 2.2,.3 2,.1 1.4,4.7 1.6,5.1 2-1.7 1.8-2.5 1.5-4.2 1.2-2.4 1.2,.8 1-4.4 1.1-3.2 1.2-1.4 1.3-1.8 1.5,.7 1.4-2.8 1.2-4.3 1-4 1.1-2.8 1.3,1.4 2.1,1.5 2.2-.3 2.1-1.8 1.6-2.9 1.2-.1 1,.5 .8-2.8 .7-2.6 .7-4.9 .5-2.2 .6-.7 .6-3.7 .5-2.6 .6-4.1 .5-2.2 .6-.2 .6-3.4 .5-2.7 .5-4.1 .5-2.7 .5,0 .5-3.1 .4-2.6 .5-3.6 .4-2.8 .4,.7 .4-2.2 .4-2.3 .3-3.4 .5-3.6 .4,.1 .4-2.7 .5-3.3 .4-4.1 .4-4.5 .4,.2 .5-1.2 .6-2.1 .9-3 1.5-1.2 .6,4.4 .7,4.1 .8,2.6 1,2 1.3-1.1 1,3.6 .9,4.5 .4,2.9 .4,2.5 .2-.9 .3,2 .3,3.7 .2,2.3 .3,2.9 .4-.4 .4,2.3 .4,4.9 .5,3.8 .5,4.1 .5,.1 .6,1 .6,3.9 .7,3.1 .8,4.1 1,.3 .9,0 .8,3.5 .6,3 .5,4.6 .4,1.8 .5,.4 .4,3.2 .5,1.9 .6,3.5 1.5,2.7 1.6-4.4 1-3 1.6-.8 1.3-1.4" fill="none" stroke="#000" stroke-width="1.15" stroke-dasharray="9 2"/>
<path d="M659.2,566.1l1.4,1.4 1.8,2 2.2,2.3 2.4,2.4 2.5,2.6 2.4,2.4 2.1,2 2.1,2.1 2.2,2.1 2.2,2.2 2.3,2.1 2.3,1.9 2.3,1.9 2.7,1.9 2.8,1.8 2.7,1.6 2.9,1.6 2.8,1.7 2.8,1.7 2.8,1.9 2.9,2 2.8,2 2.9,2 2.8,1.9 2.7,1.8 2.6,1.7 2.6,1.5 2.5,1.5 2.5,1.5 2.6,1.4 2.8,1.5 2.9,1.5 3,1.6 3.2,1.5 3.1,1.5 3,1.5 2.9,1.5 3.2,1.6 2.9,1.6 2.9,1.5 3,1.4 3.3,1.5 3.1,1.1 3.2,1.2 3.4,1.1 3.4,1.1 3.3,1 3.2,1 3.4,1.1 3.3,1.1 3.2,1.1 3.2,.9 3.6,.9 3.3,.6 3.4,.5 3.6,.5 3.6,.4 3.5,.4 3.3,.3 3.2,.3 2.9,.3 3,.3 2.9,.2 3,0 3.1-.2 2.9-.3 3-.4 3.2-.6 3.1-.6 3.1-.8 2.8-.9 2.6-1.1 2.9-1.6 2.4-1.8 2.2-2 2.4-2.7 3.2-3.5 1.6-1.8 1.8-2 1.8-2.1 2-2.3 2-2.4 2.1-2.4 2.1-2.6 2.1-2.6 2.2-2.6 2.1-2.6 2.1-2.6 2-2.5 1.9-2.3 1.9-2.4 2-2.5 2-2.6 2-2.5 2-2.6 2-2.5 1.9-2.5 1.9-2.4 1.7-2.3 1.7-2.3 1.5-2.1 1.4-2 2.3-3.8 1.8-3.4 1.3-3 1.2-2.7 1.3-2.6 1.6-2.6 2-2.5 2.2-2.2 2.2-2.1 2.3-2 2.4-2.1 2.3-2.1 2.3-2.4 2.4-2.4 2.4-2.4 2.4-2.4 2.4-2.4 2.4-2.2 2.4-2.1 2.4-2 2.3-2 2.4-1.9 2.4-1.9 2.4-1.7 3.1-2 3.2-2 3.2-1.8 3.1-1.6 2.7-1.3 3.8-1.6 3.2-1 3.5-.3 3.2,.2 3.4,.4 3.5,.9 3.3,1.4 2.5,1.6 2.4,1.9 2.5,2.2 2.4,2.2 2.6,2.3 2.3,1.8 2.3,2 2.3,2 2.5,2 2.4,2 2.5,1.8 2.6,1.6 2.7,1.4 2.7,1.4 2.8,1.4 2.8,1.5 2.7,1.7 2.7,2 2.8,2.1 2.8,2.3 2.7,2.2 2.7,2.2 2.5,1.9 3.1,2.2 3.1,2.1 3,2 2.4,1.6 1.8,1.2" fill="none" stroke="#FFC000" stroke-width="4.4" stroke-dasharray="19.2 19.2"/>
<path d="M659.2,614.7l1.6,0 1.9,0 2,0 2.3,0 2.4,0 2.7,0 2.8,.1 2.9,0 3.1,0 3.2,0 3.3,0 3.4,0 3.4,0 3.6,.1 3.6,0 3.6,0 3.7,0 3.7,0 3.7,0 3.6,0 3.7,0 3.6,0 3.6,0 3.4,0 3.5,0 3.3,0 3.2,0 3.1,0 2.9,0 2.9,0 2.6-.1 2.5,0 2.3,0 2.1-.1 1.9,0 8.2-.3 4.7-.5 2.3-.5 1-.6 1-.7 1.9-.7 3-.8 2.7-.8 2.6-.9 2.7-1.1 3.3-1.4 2.4-1.1 2.7-1.3 2.8-1.4 3-1.4 2.9-1.5 2.9-1.4 2.8-1.3 2.5-1.1 3.6-1.6 3.2-1.3 3.1-1.2 3.1-1.2 3.2-1.3 2.9-1.1 3-1.2 3-1.1 3-1.3 2.8-1.3 2.5-1.6 2.7-2.1 2.3-2.2 2.2-2.5 2.1-2.6 2.2-2.9 1.8-2.5 1.8-2.5 1.9-2.7 1.8-2.9 2-3.2 2.1-3.6 1.4-2.3 1.4-2.5 1.5-2.5 1.5-2.6 1.5-2.8 1.6-2.8 1.6-3 1.6-3.1 1.6-3.3 1.6-3.4 1.2-2.5 1.2-2.7 1.2-2.7 1.2-2.9 1.3-2.9 1.3-3 1.2-3 1.3-3 1.2-3.1 1.3-3.1 1.2-3.2 1.2-3.1 1.2-3.1 1.2-3 1.1-2.9 1.1-3 1.1-3.2 1.1-3.2 1.1-3.2 1-3.2 1.1-3.2 1.1-3.2 1-3.1 1-3 1-2.9 .9-2.7 1-2.6 .8-2.4 .9-2.1 2-4.4 1.8-3.4 1.6-2.7 1.5-2.1 1.4-1.7 1.2-1.6 2.7-2.9 2.1-.7 2.5,0 2.3,1.8 1.1,1.9 1,2.9 1.7,5 .8,2 .9,2.2 1,2.5 1,2.6 1.2,2.8 1.1,3 1.2,3.1 1.1,3.2 1.1,3.4 1.1,3.4 .8,2.6 .7,2.7 .8,2.8 .7,2.9 .8,2.9 .7,3.1 .8,3.1 .7,3.1 .8,3.1 .7,3.1 .8,3.2 .7,3.1 .8,3 .7,3 .8,3 .7,3 .8,3.1 .7,3.1 .8,3 .7,3.1 .8,3.1 .7,3 .8,3 .7,2.9 .8,2.9 .7,2.8 .8,2.7 .7,2.6 1.1,3.6 1.1,3.4 1,3.4 1.1,3.2 1.1,3.1 1,3 1.1,3 1,2.8 1,2.7 1,2.7 1.5,3.6 1.4,3.6 1.5,3.4 1.4,3.1 1.3,2.9 1.3,2.4 1.2,2 3.5,2.7 3.2,.2 3.1,0 3.6,0 2.9,.6 3.4,1 4.2,1.3 2.6,.8 2.9,.9 3.1,.9 3.2,1 3.2,1 3.1,1 3,.9 3,.9 3,.9 3,.9 3,.8 3.2,.9 3.3,.8 3.5,.8 3.6,.8 3.5,.8 3.3,.6 2.8,.5 4.9,.4 3.9,0 2.7,0" fill="none" stroke="#0062FF" stroke-width="4.4" stroke-dasharray="19.2 19.2"/>
</g>
<line x1="659.2" y1="397.2" x2="1090.0" y2="397.2" stroke="#262626" stroke-width="3.4"/>
<line x1="659.2" y1="687.2" x2="1090.0" y2="687.2" stroke="#262626" stroke-width="3.4"/>
<line x1="754.7" y1="397.2" x2="754.7" y2="402.7" stroke="#262626" stroke-width="3.4"/>
<line x1="754.7" y1="687.2" x2="754.7" y2="681.7" stroke="#262626" stroke-width="3.4"/>
<line x1="850.2" y1="397.2" x2="850.2" y2="402.7" stroke="#262626" stroke-width="3.4"/>
<line x1="850.2" y1="687.2" x2="850.2" y2="681.7" stroke="#262626" stroke-width="3.4"/>
<line x1="945.8" y1="397.2" x2="945.8" y2="402.7" stroke="#262626" stroke-width="3.4"/>
<line x1="945.8" y1="687.2" x2="945.8" y2="681.7" stroke="#262626" stroke-width="3.4"/>
<line x1="1041.3" y1="397.2" x2="1041.3" y2="402.7" stroke="#262626" stroke-width="3.4"/>
<line x1="1041.3" y1="687.2" x2="1041.3" y2="681.7" stroke="#262626" stroke-width="3.4"/>
<line x1="659.2" y1="395.5" x2="659.2" y2="688.9" stroke="#C00010" stroke-width="3.4"/>
<line x1="659.2" y1="670.5" x2="664.7" y2="670.5" stroke="#C00010" stroke-width="3.4"/>
<line x1="659.2" y1="622.2" x2="664.7" y2="622.2" stroke="#C00010" stroke-width="3.4"/>
<line x1="659.2" y1="574.0" x2="664.7" y2="574.0" stroke="#C00010" stroke-width="3.4"/>
<line x1="659.2" y1="525.7" x2="664.7" y2="525.7" stroke="#C00010" stroke-width="3.4"/>
<line x1="659.2" y1="477.4" x2="664.7" y2="477.4" stroke="#C00010" stroke-width="3.4"/>
<line x1="659.2" y1="429.1" x2="664.7" y2="429.1" stroke="#C00010" stroke-width="3.4"/>
<line x1="1090.0" y1="395.5" x2="1090.0" y2="688.9" stroke="#0062FF" stroke-width="3.4"/>
<line x1="1090.0" y1="687.2" x2="1084.5" y2="687.2" stroke="#0062FF" stroke-width="3.4"/>
<line x1="1090.0" y1="614.7" x2="1084.5" y2="614.7" stroke="#0062FF" stroke-width="3.4"/>
<line x1="1090.0" y1="542.2" x2="1084.5" y2="542.2" stroke="#0062FF" stroke-width="3.4"/>
<line x1="1090.0" y1="469.7" x2="1084.5" y2="469.7" stroke="#0062FF" stroke-width="3.4"/>
<line x1="1090.0" y1="397.2" x2="1084.5" y2="397.2" stroke="#0062FF" stroke-width="3.4"/>
<text x="600.26" y="684.34" font-family="'Liberation Serif', 'DejaVu Serif', serif" font-size="46" fill="#C00010" textLength="44.85" lengthAdjust="spacingAndGlyphs">20</text>
<text x="600.26" y="636.05" font-family="'Liberation Serif', 'DejaVu Serif', serif" font-size="46" fill="#C00010" textLength="44.85" lengthAdjust="spacingAndGlyphs">40</text>
<text x="600.26" y="587.75" font-family="'Liberation Serif', 'DejaVu Serif', serif" font-size="46" fill="#C00010" textLength="44.85" lengthAdjust="spacingAndGlyphs">60</text>
<text x="600.26" y="539.46" font-family="'Liberation Serif', 'DejaVu Serif', serif" font-size="46" fill="#C00010" textLength="44.85" lengthAdjust="spacingAndGlyphs">80</text>
<text x="577.83" y="491.17" font-family="'Liberation Serif', 'DejaVu Serif', serif" font-size="46" fill="#C00010" textLength="67.27" lengthAdjust="spacingAndGlyphs">100</text>
<text x="577.83" y="442.87" font-family="'Liberation Serif', 'DejaVu Serif', serif" font-size="46" fill="#C00010" textLength="67.27" lengthAdjust="spacingAndGlyphs">120</text>
<g clip-path="url(#c6)">
<line x1="1277.0" y1="397.2" x2="1277.0" y2="687.2" stroke="#D5D5D5" stroke-width="1.4"/>
<line x1="1372.5" y1="397.2" x2="1372.5" y2="687.2" stroke="#D5D5D5" stroke-width="1.4"/>
<line x1="1468.1" y1="397.2" x2="1468.1" y2="687.2" stroke="#D5D5D5" stroke-width="1.4"/>
<line x1="1563.6" y1="397.2" x2="1563.6" y2="687.2" stroke="#D5D5D5" stroke-width="1.4"/>
<line x1="1181.5" y1="590.5" x2="1612.3" y2="590.5" stroke="#FF9AA3" stroke-width="1.4"/>
<line x1="1181.5" y1="493.9" x2="1612.3" y2="493.9" stroke="#FF9AA3" stroke-width="1.4"/>
<path d="M1181,633l4-.2 4,.3 3.6,1.7 3.5,1.9 3.6,1.7 3.7,1.5 3.9,.9 4-.1 4-.7 3.4-1.8 3.2-2.4 2.3,2.7 1.9,3.5 3.4,.8 3.5-1.9 3.5-2 3.7-1.3 4-.6 4-.1 3.8,.9 3.8,1.3 4,.1 3.8-1.3 3.6-1.6 3.8-1.4 3.8-1.1 3.9-.7 4,.2 3.9,.8 4,0 3.9-.9 3.9-1.1 3.9-.7 4-.5 3.9-.5 4-.3 3.9-1 2.2-3.3 1.9-3.5 2.8-2.9 3.6-1.5 3.8-1 3.1-1.9 2.4-2.9 1.8-3.3 1.6-3.5 1.9-3.2 3.3,.6 3.7,1.9 2.6-2.6 1.9-3.3 1.9-3.2 2-3.2 2.2-3.1 3.2-.1 3.4,1.3 2-3.3 2.1-3.2 1.8,2.3 .8,4 .7,3.9 .9,4 1.7-1.6 .9-3.9 .8-3.9 .7-3.8 .8-3.9 .7-3.9 .6-4 .6-3.9 .6-3.9 .5-4 .4-3.9 .6-3.9 1-3.9 1.7-3.4 2.8,1 1.8,3.6 1.5,1.3 .6-3.9 2.9-2.6 1.6-3.5 2.1-3.4 2.5-3.1 3.4-1.1 3.2-2.1 .8-3.9 .6-3.9 .5-4 .6-3.9 .9-3.9 1.3,2.8 .6,3.9 .6,4 .5,4 .8,3.9 1.5,3.6 2.6,2.7 3.3-1.2 1.9-3.5 1.8-3.6 1.5-3.7 1.4-3.7 2.4-.8 .9,3.9 .7,4 .6,3.9 .5,4 .7,3.9 .7,4 .6,3.9 .6,4 .7,3.9 1,3.9 2.1,3.3 3.1,2.6 2.4,3.1 1.3,3.8 .9,3.9 .6,3.9 .5,4 .5,4 .5,3.9 .6,4 .9,3.9 1.1,3.8 1.4,3.7 1.9,3.6 2.4,3.2 2.9,2.7 2.5,3.1 2.5,3.1 2.8,2.8 3.6,1.8 3.6-1 2.2-3.1 1.2-3.9 1-3.8 1-3.9 1.3-3.8 2.1,.7 .8,3.9 1.4,3.8 3.5,.3 3.6-1.8 3.8-.9 3.3-2 2.2-3.2 .9-3.9 .8-4 .6-3.9 .7-3.9 .7-4 1.3-3.7 2.5-3.1 2.8-2.7 1.7-3.6 1.6-3.7 2.2-.4 .8,4 .7,3.9 .7,3.9 .7,4 .7,3.9 .7,3.9 .8,4 .9,3.9 1,3.8 1.1,3.9 1.1,3.8 1.2,3.8 1.3,3.8 1.3,3.8 1.5,3.7 2.2,3.3 3.2,2 3.8,.1 4-.7 4-.3 4,.4 4,.6 3.9,.2 4-.6 3.9-.5 3.9,.6 3.7,1.5 3.8,1.4 3.9,.3 4-.5 3.8-1 3.8-1.4 3.7-1.5 3.9-.9 4,0 .9,.1 0,11.2 -.9-.1 -4,0 -3.9,.9 -3.7,1.5 -3.8,1.4 -3.8,1 -4,.5 -3.9-.3 -3.8-1.4 -3.7-1.5 -3.9-.6 -3.9,.5 -4,.6 -3.9-.2 -4-.6 -4-.4 -4,0 -4-.8 -3.8-1.7 -3.2-2.6 -2.2-3.3 -1.5-3.7 -1.3-3.8 -1.3-3.8 -1.2-3.8 -1.1-3.8 -1.1-3.9 -1-3.8 -.9-3.9 -.8-4 -.7-3.9 -.7-3.9 -.7-4 -.7-3.9 -.7-3.9 -.8-4 -2.2,.4 -1.6,3.7 -1.7,3.6 -2.8,2.7 -2.5,3.1 -1.3,3.7 -.7,4 -.7,3.9 -.6,3.9 -.8,4 -.9,3.9 -2.2,3.2 -3.3,2 -3.8,.9 -3.6,1.8 -3.5-.3 -1.4-3.8 -.8-3.9 -2.1-.7 -1.3,3.8 -1,3.9 -1,3.8 -1.2,3.9 -2.2,3.1 -3.6,1 -3.6-1.8 -2.8-2.8 -2.5-3.1 -2.5-3.1 -2.9-2.7 -2.4-3.2 -1.9-3.6 -1.4-3.7 -1.1-3.8 -.9-3.9 -.6-4 -.5-3.9 -.5-4 -.5-4 -.6-3.9 -.9-3.9 -1.3-3.8 -2.4-3.1 -3.1-2.6 -2.1-3.3 -1-3.9 -.7-3.9 -.6-4 -.6-3.9 -.7-4 -.7-3.9 -.5-4 -.6-3.9 -.7-4 -.9-3.9 -2.4,.8 -1.4,3.7 -1.5,3.7 -1.8,3.6 -1.9,3.5 -3.3,1.2 -2.6-2.7 -1.5-3.6 -.8-3.9 -.5-4 -.6-4 -.6-3.9 -1.3-2.8 -.9,3.9 -.6,3.9 -.5,4 -.6,3.9 -.8,3.9 -3.2,2.1 -3.4,1.1 -2.5,3.1 -2.1,3.5 -1.6,3.7 -2.9,2.9 -.6,4 -1.5-1.2 -1.8-3.4 -2.8-.8 -1.7,3.7 -1,3.9 -.6,4 -.4,4 -.5,4 -.6,4 -.6,4 -.6,3.9 -.7,4 -.8,4 -.7,3.9 -.8,4 -.9,3.9 -1.7,1.8 -.9-3.8 -.7-3.9 -.8-3.9 -1.8-2.2 -2.1,3.5 -2,3.5 -3.4-1 -3.2,.4 -2.2,3.6 -2,3.7 -1.9,3.8 -1.9,3.7 -2.6,3.3 -3.7-.9 -3.3,.3 -1.9,3.7 -1.6,3.9 -1.8,3.8 -2.4,3.5 -3.1,2.8 -3.8,1.6 -3.6,1.5 -2.8,2.9 -1.9,3.5 -2.2,3.3 -3.9,1 -4,.3 -3.9,.5 -4,.5 -3.9,.7 -3.9,1.1 -3.9,.9 -4,0 -3.9-.8 -4-.2 -3.9,.7 -3.8,1.1 -3.8,1.4 -3.6,1.6 -3.8,1.3 -4-.1 -3.8-1.3 -3.8-.9 -4,.1 -4,.6 -3.7,1.3 -3.5,2 -3.5,1.9 -3.4-.8 -1.9-3.5 -2.3-2.7 -3.2,2.4 -3.4,1.8 -4,.7 -4,.1 -3.9-.9 -3.7-1.5 -3.6-1.7 -3.5-1.9 -3.6-1.7 -4-.3 -4,.2Z" fill="#FF0000" fill-opacity="0.12" stroke="none"/>
<path d="M1181,647.3l4-.6 3.9-.5 4,0 4,.4 3.9,.6 4,.7 3.9,.6 4,0 3.9-.7 3.9-1.1 3.8-1.3 3.7-1.5 3.7-1.4 3.9-1.1 3.9-1 3.8-.9 3.9-1 3.9-.9 3.9-1 3.9-1 3.9-.9 3.9-.9 3.9-1.1 3.8-3 3.5-3.6 3.1-3.9 2.5-4.3 2-4.1 3-2.7 3.8-1.5 3.7-1.5 3.6-2 3.6-2 3.5-2.1 3.5-2.1 3.6-1.9 3.9-1.3 3.9-.4 4,.2 3.9-.3 3.9-.5 3.8-.8 3.5-1.3 3.7-1.1 3.9,.4 3.6-.9 1.6-3.1 1.2-3.5 1.2-3.4 1.5-3.2 2.2-2.8 2.4-2.5 2.4-2.4 2.5-2.4 2.3-2.5 2-3.2 1.9-3.6 1.7-3.6 1.7-3.6 1.7-3.6 1.6-3.7 1.5-3.7 1.5-3.7 1.6-3.6 1.9-3.6 2.2-3.3 2.2-3.3 1.8-3.6 1.5-3.6 1.2-3.9 1.4-3.7 1.5-3.7 1-3.9 .7-3.9 .6-4 .6-3.9 .5-4 .6-3.9 .6-4 .6-3.9 .6-4 .6-3.9 .6-4 .8-3.9 1.4-3.7 2.9-2.8 3.3-2.1 2-3.5 1.8-3.6 1.6-3.6 1.6-3.6 1.5-3.8 1.5-3.7 1.5-3.7 1.4-3.7 1.9-3.4 2,1.9 1.1,3.9 1.4,3.8 3,2.6 2.3,3.2 1,3.9 .7,3.9 .7,3.9 .8,4 1.5,3.6 2.5,3.2 1.9,3.4 1.2,3.9 1,3.9 .8,3.9 .8,3.9 .8,3.9 .8,4 .7,3.9 .7,3.9 .7,4 .7,3.9 .6,4 .7,3.9 .6,4 .7,3.9 .6,4 .7,3.9 .6,4 .7,3.9 .6,4 .7,3.9 .7,3.9 .7,4 .6,3.9 .6,4 .8,3.9 .9,3.9 1.6,3.7 2.5,3.1 2.4,3.2 2.2,3.4 2.3,3.3 2.4,3.1 2.7,3.1 2.9,2.7 3.1,2.5 2.9,2.8 2.8,2.7 2.5-1.8 2.6-2.4 2.8,2.9 2.4,3.2 2.1,3.4 1.7,3.6 1.4,3.8 .9,3.9 1,3.9 1.6,3.5 1.5-3.7 .8-3.9 .7-3.9 .8-4 .7-3.9 .7-3.9 .6-4 .6-3.9 .7-4 .6-3.9 .7-3.9 .7-4 .7-3.9 1-3.9 2.6-1.9 3.1,2.3 3.3-.4 1.4,3.6 .5,4 .4,3.9 .3,4 .4,4 .4,4 .3,4 .4,4 .4,4 .3,3.9 .4,4 .5,4 .5,4 .6,3.9 .6,4 .7,3.9 .9,3.9 1.1,3.9 1.3,3.7 2.1,3.4 3.5,1.1 3.5-1.7 3.5-1.9 3.8-1.2 3.8,1.2 3.6,1.8 3.6,1.8 3.5,1.8 3.6,1.8 3.7,1.7 3.7,1.4 3.8,1.3 3.8,1.3 3.8,1.2 4,.3 3.9-.7 3.8-1.2 2-.6 0,7.2 -2,.7 -3.8,1.1 -3.9,.8 -4-.3 -3.8-1.1 -3.8-1.3 -3.8-1.3 -3.7-1.4 -3.7-1.6 -3.6-1.7 -3.5-1.9 -3.6-1.7 -3.6-1.8 -3.8-1.1 -3.8,1.1 -3.5,2 -3.5,1.7 -3.5-1 -2.1-3.4 -1.3-3.7 -1.1-3.9 -.9-3.9 -.7-3.9 -.6-4 -.6-3.9 -.5-4 -.5-4 -.4-3.9 -.3-4 -.4-4 -.4-4 -.3-4 -.4-4 -.4-3.9 -.3-4 -.4-4 -.5-4 -1.4-3.5 -3.3,.4 -3.1-2.3 -2.6,1.9 -1,3.9 -.7,4 -.7,3.9 -.7,3.9 -.6,4 -.7,3.9 -.6,4 -.6,3.9 -.7,4 -.7,3.9 -.8,4 -.7,3.9 -.8,3.9 -1.5,3.7 -1.6-3.5 -1-3.9 -.9-3.9 -1.4-3.7 -1.7-3.6 -2.1-3.4 -2.4-3.2 -2.8-2.8 -2.6,2.3 -2.5,1.9 -2.8-2.7 -2.9-2.8 -3.1-2.5 -2.9-2.7 -2.7-3 -2.4-3.1 -2.3-3.3 -2.2-3.3 -2.4-3.2 -2.5-3.1 -1.6-3.7 -.9-3.9 -.8-3.9 -.6-3.9 -.6-4 -.7-3.9 -.7-4 -.7-3.9 -.6-3.9 -.7-4 -.6-3.9 -.7-4 -.6-3.9 -.7-4 -.6-3.9 -.7-4 -.6-3.9 -.7-3.9 -.7-4 -.7-3.9 -.7-3.9 -.8-4 -.8-3.9 -.8-3.9 -.8-3.9 -1-3.9 -1.2-3.8 -1.9-3.5 -2.5-3.1 -1.5-3.6 -.8-3.9 -.7-4 -.7-3.9 -1-3.9 -2.3-3.2 -3-2.6 -1.4-3.7 -1.1-3.8 -2-2 -1.9,3.4 -1.4,3.8 -1.5,3.7 -1.5,3.7 -1.5,3.7 -1.6,3.7 -1.6,3.7 -1.8,3.6 -2,3.4 -3.3,2.2 -2.9,2.8 -1.4,3.7 -.8,3.9 -.6,4 -.6,3.9 -.6,4 -.6,3.9 -.6,4 -.6,4 -.5,3.9 -.6,4 -.6,4 -.7,3.9 -1,3.9 -1.5,3.7 -1.4,3.7 -1.2,3.9 -1.5,3.7 -1.8,3.5 -2.2,3.4 -2.2,3.3 -1.9,3.5 -1.6,3.7 -1.5,3.7 -1.5,3.7 -1.6,3.7 -1.7,3.6 -1.7,3.7 -1.7,3.6 -1.9,3.5 -2,3.7 -2.3,4 -2.5,3.9 -2.4,3.9 -2.4,3.9 -2.2,4 -1.5,4.1 -1.2,4.2 -1.2,4.2 -1.6,4.1 -3.6,2.4 -3.9,.7 -3.7,2 -3.5,2.3 -3.8,1.9 -3.9,1.4 -3.9,1.4 -4,.9 -3.9,.5 -3.9,.9 -3.6,1.5 -3.5,1.7 -3.5,1.7 -3.6,1.6 -3.6,1.6 -3.7,1 -3.8,1.1 -3,2.3 -2,2.8 -2.5,1.9 -3.1,1 -3.5,.2 -3.8-.5 -3.9,.6 -3.9,.9 -3.9,.9 -3.9,1 -3.9,1 -3.9,.9 -3.9,1 -3.8,.9 -3.9,1 -3.9,1.1 -3.7,1.4 -3.7,1.5 -3.8,1.3 -3.9,1.1 -3.9,.7 -4,0 -3.9-.6 -4-.7 -3.9-.6 -4-.4 -4,0 -3.9,.5 -4,.6Z" fill="#FF0000" fill-opacity="0.12" stroke="none"/>
<path d="M1181,642.6l2-1.5 2,0 2,.9 2,.2 1.8,2.7 1.8,2.5 1.8-.9 1.7,.3 1.8,0 1.8-.5 1.9,.4 1.8,2.8 2,1.1 1.9-.3 2,.9 2-1.4 2-1.6 2,.2 1.9,1.2 1.5-1 1.5-.3 1.7,0 1.3-.9 1,0 .8,1.4 1.1,1.6 1.5,.6 1.9,1.7 1.8,.1 1.7-2.3 1.7-1.2 1.8-1.3 1.8-1.7 1.9-.3 2,2.3 2-.1 2-.1 2,.4 1.9-1.5 1.9-1.4 1.9,.8 1.9,1.6 2-.1 2,1.6 1.9,.1 1.9-2.4 1.8-1.5 1.8-.5 1.9-.8 1.9-.2 1.9,2.1 1.9-.7 2-1.6 1.9-.6 2-1.5 2-1.3 2,1 1.9,2.3 2-.3 2,.8 2,0 1.9-2.4 1.9-1.2 2,.4 1.9,.4 2-.1 2,1.9 2-.9 1.9-2.4 2-.7 2-1 2-.8 2,.5 1.9,1.7 1.1-2.4 1.1-1.7 .9-1.6 1-3.4 1.2-1.8 1.6,.3 1.7,.5 1.9-1 1.9,.5 1.9-1.7 1.7-3.5 1.4-1.9 1.3-1.2 1.1-1.6 1-.9 .8,.4 .9-3 .7-2.8 .8-1.6 1.1-2.4 1.5-.8 1.8,2.4 1.9,2.7 1.8-.4 1.4-1.4 1.2-2.5 1-3.6 .9-3 .9-.2 1-.9 1-1.7 1,.1 1-2.6 1.2-3.1 1.4-1.5 1.8,2 1.8,.6 1.6,1.3 1.1,.1 .9-2.6 .9-3.3 1.2-2.3 1.2,.1 .6,.1 .4,2.9 .4,3.7 .3,2.7 .4,1.5 .4,2.9 .5,.5 1-.6 .7-2.2 .5,0 .4-1.9 .4-1.4 .4-.7 .4-3.8 .3-3.8 .4-2.5 .4-1.8 .4-2.5 .3,.3 .3-.6 .3-3.1 .3-2 .3-2.4 .3-2.9 .3-2.1 .2,.5 .3-1.8 .2-2.5 .2-1.5 .3-4 .3-3.8 .4-1.9 .6-.5 .8-2 .9,0 1.8,.3 1-.1 .9,1.2 .9,1.9 .8,1.7 .7-1 .3-.2 .3-.7 1.5-2 1.4-2.9 .8-1.9 .8-3.9 1-2.3 1.1,.3 1.2-.8 1.3-1 1.4-.6 2,.2 1.8-3.1 1.4-1.1 .5-1 .3-1.9 .3-1.1 .3-.8 .3-3 .2-4.4 .3-1.8 .3-3 .3-2.1 .6,.2 .9,2.2 .4,1.7 .3,1.7 .3,2.3 .3,.4 .3,1.3 .3,3.1 .2,3.5 .4,1.3 .4,2.9 .5,1.2 1-.9 1,1.3 1.6,1.4 1.8,.5 1.5-.9 1,.9 .9-2.2 1-2.9 .8-2 .8-2.3 .7-2.5 .7-.7 .7,.1 1.3-2.7 1.1,.6 .5,1.4 .4,.8 .4-.1 .3,3.4 .3,3.3 .3,2.2 .2,3.5 .3,2.3 .4,.5 .3,.6 .3,3.1 .4,1.4 .3,2.7 .3,3.8 .3,1.2 .3,.5 .4,1.1 .3,1.5 .5,.6 .5,3.9 .9,3.6 1.2,1.5 1.4,1.9 1.7,1 1.3,.1 1.1,.3 .6,3.7 .7,2 .6,2.1 .3,3.2 .3,.9 .3-.1 .3,1.2 .2,2.7 .3,1.4 .2,4 .3,3.9 .2,1.3 .3,1.5 .3,1.6 .4,1 .5,1.1 .5,4.1 .6,2.4 .7,1.3 .7,2.2 .9,.5 1-.2 1.1,1.4 1.3,3.3 1.4,1.4 1.5,2.9 1.3,3 1.2,.2 1.3,.4 1.2,1.5 1.3,1.3 1.5,.8 1.8,3.1 1.8,1.3 1.8-1.5 1.8-1.4 1.3-2 .9-3.2 .6-2.1 .6,.8 .5-1.6 .5-1.3 .5-1.1 .5-3.1 .6-3.7 .7-1.7 1-.1 1.1,1.2 .4,3 .4,2.8 .6,1 .8-.4 1.5,.9 2-.9 1.8-1 1.8,1 1.9,1.2 1.9-.4 1.8-1.4 1.5-.9 1.5-3.5 .7-2.3 .5-.6 .4-1.3 .4-2.2 .4-1.4 .3-2.6 .3-4.7 .4-1.6 .3-1.3 .3-1.6 .4-.4 .5-.2 .8-2.5 1.2-3.3 1.3-1 1.7-2.6 1.1-1.7 .8-.2 .9-.9 .7-2.9 .9-2.1 1.1-2 1.1-.9 .4,2.2 .4,3.5 .3,3.2 .4,2.3 .3,3.6 .4,1 .4-.3 .3,2.3 .4,1.7 .3,2 .4,3 .3,3.3 .4,.3 .4,.8 .4,2.1 .5,.5 .5,2.7 .5,4.1 .5,3.2 .6,1.4 .5,2.5 .6,.9 .6-.5 .6,2.7 .7,2.5 .6,2.1 .6,2.4 .7,2.7 .7-.2 .8,.4 1,2.7 1.2,1.1 1.5,2.5 1.7,2.9 1.9,1.7 1.9-1.3 2-.1 2-.7 2-2 2,1.1 2,1.3 2,.4 2-.2 2,.7 1.9-1.7 2-1.3 2,1.4 2,.3 2,.6 1.9,1.3 2,.4 1.9-1.7 1.9,0 1.8,1 1.8-.4 2,1.9 1.9,1.6 2-.2 2-1.6 2-.2 1.9-1.7 1.9-1.4 1.9,1.7 1.9,.5 1.8-.3 1.9-.3 1.9-.7 2-2.8 2-.8 2,1.1 .9,.1" fill="none" stroke="#42B526" stroke-width="5.6" stroke-linejoin="round"/>
<path d="M1181,633.9l2.5-.1 2.5-1.4 2.5-.2 2.3,5.1 2.2,.6 2.2-2.2 2.3,2.8 2.2-1.3 2.3-.1 2.4,5.2 2.4,.8 2.5-1.8 2.5-.7 2.5-.7 2.4-1 2-.3 2,1.3 2-1 1.3-1.2 1,1.4 1.5,1.7 2.1,3.3 2.3,.2 2.1-3.4 2.2,.2 2.2-2.6 2.3-3.7 2.5,3.8 2.5,1.4 2.5-2 2.4,1.4 2.4-.5 2.4-1.7 2.4,.9 2.5,3 2.4-1 2.3-4.1 2.3,1.3 2.3-1.4 2.4-2.6 2.4,4.9 2.4-.3 2.4-4.5 2.5,.1 2.5-.6 2.5-1 2.4,1.4 2.5,3 2.5-1.2 2.4-3.6 2.4,2.2 2.4-.4 2.5-1.7 2.5,2.9 2.4-2.5 2.5-3 2.5,.5 2.5-.9 2.4,1.6 1.6-1.7 1.4-.3 1.1-2.4 1.4-6 1.9-.7 2.2,1.8 2.4-1.1 2.3-1.3 2.2-2.9 1.8-1.6 1.4-1.5 1.4-2 1-.8 1-2.3 1-2.5 1.2-1.2 1.8-1.4 2.3,1 2.3,3.8 2-1 1.5-2.2 1.2-5.1 1.2-3.5 1.2-.8 1.2-.6 1.3,.6 1.2-3 1.7-4 2.2,1.5 2.2,2.5 1.8-.2 1.2,.1 1.1-5.3 1.6-2.5 1.2,1.5 .5,.4 .5,4.7 .4,4.1 .5,2.1 .5,3.1 1.2-1.1 .9-4.3 .5-.3 .5-2.1 .5-1.3 .5-2.4 .4-4.9 .5-2.8 .5-2.9 .4-.6 .4-.3 .3-3.7 .4-1.9 .4-3.4 .3-2.9 .3,0 .3-2.7 .3-2.9 .3-4.5 .5-4.7 .7-1.1 1-1.8 1.6,.1 1.6,3.2 1.2-.3 1.1,1.8 1,1.5 .6-3.1 .3,0 1.8-1.1 1.5-3.2 1-2.9 1.2-4.6 1.4-1.8 1.5-.1 1.7-.3 2.4,1.1 2.2-3.8 1.2-2.3 .5-1.2 .4-2.5 .4-.4 .3-2.9 .3-5.3 .4-2.4 .5-3.2 .9-.9 .7,5.3 .4,1.8 .4,2 .3,1.4 .4,1.2 .3,4.2 .4,2.7 .6,3.5 1.1,1.4 1.2-.9 2.1,2.1 2.1-1 1.4-1.7 1.2,1 1.2-2.6 1-3.2 .9-2.8 .9-2.9 .9-.2 1.8-1.6 .8,2.1 .5,2.1 .5-.1 .3,3.7 .4,3.9 .3,2.7 .4,4.2 .4,.7 .4,1.4 .5,3.1 .4,2.7 .4,4.2 .4,1 .4,.6 .5,1.7 .5,.7 .9,5.1 1.5,4 1.8,1.7 1.9,1.1 1.6-.1 .8,2.7 .9,3.4 .6,2.7 .4,4.1 .3,.2 .3,1.1 .3,3.4 .4,2.2 .3,5.1 .3,3.2 .4,1.1 .4,1.7 .6,.6 .6,4.2 .8,3.4 .9,1.4 1.1,3 1.2,.2 1.5,.8 1.7,3.3 1.9,1.7 1.6,4.5 1.6,1.3 1.5,.5 1.6,1.2 1.9,.9 2.3,4 2.2,1 2.3-3.6 1.6-1.3 .9-4.1 .7-2 .7,.5 .6-1.9 .7-2 .7-4.7 .8-3.7 1.3-.1 1,2.5 .5,3.2 .7,4 1,.4 2.3-1.5 2.4-1.6 2.2-.2 2.4,2.4 2.4-.8 1.9-1.2 1.9-1.9 .9-4.3 .5-1.5 .5-1.8 .5-2.7 .4-2.7 .4-5.4 .4-2.4 .4-1.6 .5-1.7 .7,.6 1.4-2.7 1.6-3 2.1-2.8 1.1-2.9 1.1-.1 .9-2.3 1.1-2 1.5-.9 .8-.2 .5,2.2 .4,4.6 .5,2.9 .4,4.5 .5,1.3 .4-.1 .4,3.2 .5,2.1 .4,4 .5,3.3 .5,1 .6,2.2 .6,.8 .6,3.7 .7,4.9 .7,1.6 .7,2.9 .8,.5 .7,.3 .8,3.9 .8,3.3 .9,3.7 .9,.9 1.1,.4 1.5,2.2 1.8,1.1 2.3,3.3 2.4,2.6 2.5-2.9 2.5-.6 2.5-1.3 2.5-1 2.5,2.4 2.5,0 2.5,.2 2.4-.6 2.5-1.8 2.5,.9 2.4,1.1 2.5,1.9 2.4-.4 2.4-1.1 2.2,1.3 2.4-1.1 2.4,1.8 2.5,3.1 2.5-2.8 2.4-1.1 2.4-.7 2.4-2.1 2.3,.8 2.3,1 2.4-.1 2.5-2.8 2.5-1 1.9,1.1" fill="none" stroke="#000" stroke-width="1.15" stroke-dasharray="9 2"/>
<path d="M1181,651l2.5-.7 2.5,1.6 2.5-.5 2.3,1.7 2.2,1.8 2.2,.7 2.3,.9 2.2,.5 2.3-1 2.4,2 2.4,.4 2.5,2.2 2.5-2 2.5-2.4 2.4,2 2-.8 2,1.6 2-1.1 1.3-2.2 1,1.7 1.5,.9 2.1,.2 2.3,3.9 2.1-1.2 2.2-1.8 2.2-3 2.3-3.1 2.5,3.8 2.5,.2 2.5,.4 2.4-1.6 2.4-1.3 2.4,1.2 2.4,2.6 2.5-1.1 2.4-.2 2.3-2.9 2.3,.2 2.3,.5 2.4-2.1 2.4,2 2.4-2.2 2.4,0 2.5-1.5 2.5-1.7 2.5,.4 2.4,3.1 2.5,1.1 2.5,.3 2.4-5.5 2.4-.6 2.4,1.6 2.5,1.3 2.5,2 2.4-3.5 2.5-2 2.5-.7 2.5,.3 2.4,0 1.6-1.3 1.4-2.9 1.1-2.1 1.4-3.8 1.9,2 2.2,.4 2.4-1.5 2.3-2.5 2.2-3.6 1.8-2 1.4-1.9 1.4-1.5 1,.4 1-3.3 1-4.1 1.2-2.9 1.8-2.3 2.3,3.2 2.3,2.8 2-1.9 1.5-3.7 1.2-4.6 1.2-4.1 1.2,0 1.2-1.7 1.3-.4 1.2-2.3 1.7-3.1 2.2,.6 2.2,.3 1.8-.3 1.2-.2 1.1-4 1.6-2 1.2,1 .5,.4 .5,4.5 .4,3.7 .5,1.9 .5,3.1 1.2-.5 .9-4 .5-.3 .5-2.4 .5-1.8 .5-2.8 .4-5.1 .5-2.6 .5-2.8 .4-.6 .4-.4 .3-3.8 .4-2.1 .4-3.4 .3-2.9 .3,0 .3-2.6 .3-2.7 .3-4.4 .5-4.6 .7-1.2 1-2.3 1.6-.3 1.6,1 1.2,.6 1.1,2.3 1,2.2 .6-3 .3,.2 1.8-1.3 1.5-3.6 1-2.6 1.2-5.3 1.4-1.9 1.5,.1 1.7-1.4 2.4,1.1 2.2-2.1 1.2-3.1 .5-1.5 .4-2.7 .4-.6 .3-3.1 .3-5.3 .4-2.4 .5-3.2 .9-1 .7,5.3 .4,2.1 .4,2.3 .3,1.6 .4,1.5 .3,4.2 .4,2.7 .6,3.5 1.1,2.1 1.2-1.1 2.1,1.1 2.1-.7 1.4-1.6 1.2,.2 1.2-2.9 1-2.9 .9-2.1 .9-2.5 .9-.3 1.8-1 .8,1.6 .5,1.6 .5-.4 .3,3.5 .4,3.9 .3,2.6 .4,4 .4,.6 .4,1.2 .5,3.1 .4,2.7 .4,4.5 .4,1.4 .4,1.1 .5,2.2 .5,.8 .9,4.6 1.5,3.9 1.8,1.6 1.9,1.4 1.6-.3 .8,2.3 .9,3.7 .6,3 .4,3.9 .3,0 .3,.8 .3,3.2 .4,2.1 .3,5.2 .3,3.5 .4,1.4 .4,2.1 .6,.9 .6,4.3 .8,3.5 .9,1.2 1.1,2.3 1.2-1.2 1.5,1.3 1.7,3.5 1.9,2.5 1.6,4.9 1.6,1.3 1.5,.3 1.6,1.8 1.9,.4 2.3,2.9 2.2,1.7 2.3-3.4 1.6-1.7 .9-4.3 .7-2.2 .7,0 .6-2.2 .7-1.6 .7-4 .8-3.3 1.3,.3 1,3.1 .5,3 .7,3.3 1,.3 2.3-.8 2.4-2.4 2.2-1.1 2.4,2.9 2.4,.7 1.9-2.4 1.9-2.4 .9-4.5 .5-1.3 .5-1.5 .5-2.3 .4-2.4 .4-5.4 .4-2.4 .4-1.6 .5-2 .7,.5 1.4-2.2 1.6-3.5 2.1-2.5 1.1-2.9 1.1-.5 .9-2.2 1.1-3 1.5-.7 .8,.9 .5,2.5 .4,4.6 .5,3 .4,4.7 .5,1.4 .4-.2 .4,3.1 .5,1.9 .4,3.7 .5,3.1 .5,.6 .6,1.9 .6,.8 .6,3.8 .7,4.8 .7,1.4 .7,3 .8,.9 .7,.9 .8,4.1 .8,2.9 .9,3.4 .9,1.3 1.1,.3 1.5,3 1.8,.6 2.3,3.3 2.4,3.7 2.5-.9 2.5-.2 2.5-2.8 2.5,.5 2.5,2.5 2.5,1.3 2.5-.4 2.4-2 2.5-2.6 2.5,3.1 2.4-.1 2.5,1.6 2.4,.5 2.4-.7 2.2,1.1 2.4-.4 2.4,1 2.5,.7 2.5-.8 2.4,.1 2.4-1.6 2.4-2.8 2.3,2.2 2.3-.5 2.4,.8 2.5-1.7 2.5-2.6 1.9,.4" fill="none" stroke="#000" stroke-width="1.15" stroke-dasharray="9 2"/>
<path d="M1181,652.2l2-.1 2,.4 1.9,.1 2,1.3 2-.8 2-2 2-1.4 2,1.2 2,1.6 1.9,.6 2,.8 2,.5 2-.6 1.9-1 2,1.4 2,1.3 2-.2 1.9-2.4 2-.9 1.9-1.2 1.9-.4 1.9-.1 1.8,1.8 1.9-.5 1.9-2.2 1.8-2.3 1.9-.1 2-.2 1.9-.3 2-.1 1.9-.3 1.9-1.7 2-1.8 1.9,.8 2,1.5 1.9,.3 2-1.6 1.9-.8 1.9-1.8 2-1.3 1.9-.6 2,1.8 1.9,0 2-1.2 1.9-1.7 2,.3 1.9-.3 1.9-.2 1.7-.2 1.8-.6 1.6-3 1.5-3.3 1.4-1.1 1.1,.1 1-.8 1-1.7 1.2-1.1 1.8-1.8 1.8-1.9 2-.9 1.9,1.5 1.8-.5 1.8-1.8 1.8-2.5 1.8-.5 1.8-1.2 1.8-.1 1.7,.5 1.8,.6 1.7-2.4 1.8-2.9 1.8-1.3 1.9,.2 2-.1 1.9-.1 2,.5 2-.8 2-1.5 2-.5 1.9,1.9 2,.4 1.9-.9 1.9-2.1 1.9-1.1 1.8-2.2 1.7-.9 1.8,.4 1.9,1.4 2-.7 1.9-1.4 1.9-1.1 1.7-.1 1-1.6 .6-1.6 .7-1.2 .5-2.8 .6-3.9 .6-2.8 .7,.1 .8-.4 1-1.2 1.2-2.1 1.2-1.5 1.2-3.2 1.2-2.3 1.2-.9 1.3,.4 1.2-2.4 1.2-2.8 1.1-2.3 1.1-1 .9-1.6 1-.6 .9-.4 .9-2 .8-4.1 .9-3.3 .8-1 .9-1 .8-1.4 .8-1.7 .8-1.3 .7-3.2 .8-2.4 .7-1 .8,.3 .8-2.4 .8-2.9 .9-3.1 1-1.9 1-2.5 1.2-.3 1.2,.2 1-.9 .9-3.5 .9-2.8 .8-1.4 .7-1.4 .7-1.8 .5-1.6 .7-1.7 .7-3.6 .8-3 .7-1 .5,.5 .5-1.6 .4-2.1 .3-2.7 .3-2.6 .3-3.7 .3-1.3 .3-.6 .3-1.1 .2-3.6 .3-2.6 .3-1.7 .3-1.2 .3-1.6 .3-.8 .3-1.6 .3-3.9 .3-3.9 .3-2 .3-.3 .3-1.6 .3-1.4 .4-1.9 .4-2.2 .6-3.6 .8-1.2 1.4,0 1.5-.4 1.7-2.8 1.6-2 1-2.3 1-1.7 .9-1.6 .9,.3 .8-.5 .8-2.8 .8-3.8 .8-2.1 .8-1 .7-1.8 .8-1.6 .7-1.7 .7-2.3 .8-3.7 .7-1.3 .7-.1 .7-.1 1.2-2.6 1.1-.1 .9,1.2 .5,.8 .6,1 .7,2.4 .7,4 1.5,1.4 1.5,.3 1.3,.5 1,2.6 .6,2.1 .4,2.6 .4,2.5 .3,2.3 .3-.4 .4,.5 .4,2.4 .4,4 .6,2.4 .9,2 1.1,1.7 1.4,.7 1,.5 .9,2 .7,3.7 .5,2.1 .5,.6 .5,.6 .4,2.4 .4,1.8 .4,3 .4,3.3 .4,3.3 .4,0 .4,.4 .4,1.6 .3,3.2 .4,1.8 .4,2.5 .3,2.1 .4,1.5 .3,.5 .3,2.6 .4,4.1 .3,2.8 .3,1 .4,.8 .3,1.4 .3,.9 .3,2.2 .4,3.5 .3,3.7 .3,.8 .3,.9 .4,1.8 .3,3.1 .3,1.7 .3,2.7 .4,2.1 .3,1 .3-.3 .3,2.2 .4,3.7 .3,3.5 .4,1.8 .3,1.9 .3,1.6 .4,.5 .3,1.6 .3,3.2 .3,3.3 .3,.7 .4,.9 .4,1.6 .4,2.8 .5,2 .8,3.5 .8,2.7 1.2,1.1 1.3-1.2 1.3,1 1.1,2.4 1.1,2.7 1.1,1.6 1.1,2.2 1.2,1.5 1.2,.4 1.2,1.1 1.3,3.2 1.4,3.1 1.4,.5 1.5,0 1.6,.3 1.5,1 1.6,.7 1.3,3.2 1.3,3.1 1.5,1.6 1.4-1.6 1.1-2.7 1.3-1.3 1.3-.3 1.6,1.5 1.2,1.6 1.2,2.1 1.2,.2 1,.3 1.1,1.8 1,4.3 .7,2.6 .8,1.9 .6,1.1 .5,1.6 .4,.3 .5,1.9 .5,3.2 .5,3.3 1.1,.5 .9-3 .6-1.8 .4-1.3 .4-1.4 .4-1.2 .3-.9 .4-3.3 .4-4 .4-3 .3-.3 .4-1.3 .3-1.4 .3-2.1 .3-1.7 .3-3.5 .3-2.1 .3-.8 .4-.4 .3-3.1 .3-3.4 .4-2.6 .3-2 .4-1.9 .3-.6 .4,0 .3-2.4 .5-3.7 .5-3 .7-.8 1.9,0 1.7,1.2 1.4,1.3 1.7-.3 1.6-1 1,.4 .4,2.8 .2,4.3 .3,2.8 .2,1 .2,1.4 .1,1 .2,1.2 .2,1.7 .2,4.1 .2,2.7 .2,1.2 .2,.5 .1,2.7 .2,2.4 .2,2.7 .2,2.3 .2,2.7 .1,.2 .2,0 .2,1.9 .2,3.9 .2,2.9 .3,2.1 .2,2.2 .3,1.5 .3,.8 .3,1.6 .3,3.8 .3,2.5 .4,1 .3,.2 .4,2.2 .5,1.9 .5,2.8 .6,3 .6,3.7 .7,.5 1-.1 1.1,.8 1.5,2.6 2-.1 1.8-.5 1.7-.7 1.8-1.3 1.7-2.3 1.9-.9 1.9,1.6 2,1.8 1.8,.3 1.8-.7 1.8,.5 1.8-.2 1.8,.8 1.8,1.8 1.7,3.2 1.8,.3 1.8-.3 1.8,.1 1.9,1.9 1.8,.9 1.9,1.1 1.9,.9 1.9,.2 1.9-1.5 1.9-.2 1.9,2.2 1.9,2.3 2,.6 2-.4 2-.3 1.9-1.7 1.9-1.3 1.9,0 2,1.3" fill="none" stroke="#D20814" stroke-width="5.6" stroke-linejoin="round"/>
<path d="M1181,647.8l2.5-.5 2.4-.3 2.5,1 2.5,.3 2.5-1.8 2.5-1.4 2.5,1.6 2.4,1.5 2.5,1.2 2.5-.9 2.4-1.3 2.5,3.1 2.5,1 2.5-3 2.4-1.4 2.4-.8 2.4-.8 2.3,.7 2.3,.7 2.4-1.7 2.3-2.4 2.4-1.3 2.4-.7 2.5,1.5 2.4-.7 2.4-3.6 2.4,.2 2.5,2 2.4-.2 2.4-1.9 2.4-2 2.5-.4 2.4,0 2.4,0 2.5-1.3 2.4-.8 2.4-.5 2.4-2.3 2.3-.3 2.2-1.3 2-4.2 1.9-6.1 1.4-1.3 1.3-2.6 1.3-1.2 1.8,.1 2.3-1.2 2.4-4 2.4,2 2.2-.6 2.3-3.8 2.2-2 2.2-3.2 2.2,3.1 2.2,2.8 2.2-4.7 2.3-4.7 2.3-2 2.4,2.2 2.4,.3 2.5-1.5 2.5,.2 2.5,1.5 2.4,0 2.5-2.3 2.4,.3 2.3,.1 2.3-2.4 2.2-1 2.2,.4 2.5,2.5 2.4-2 2.4-3.4 1.7,1.4 1-2.4 .8-.6 .7-2.2 .7-4 .8-.7 1-.6 1.3-1.9 1.5-2.2 1.5-4 1.5-1.4 1.6-.7 1.5,.8 1.5-3.8 1.4-3.1 1.3-.7 1.2-2.3 1.2,.3 1.1-1.2 1-5.3 1.1-2.9 1.1-1.3 1-2.1 1-2.6 .9-2.9 1-3.3 .9-1.4 1-.1 1-2.8 1-3.1 1.3-3.1 1.3-2.9 1.5-.1 1.4-.9 1.1-3.3 1.1-2.8 1-2.1 .8-1.8 .7-1.8 .9-2.5 .9-5.2 .9-3 .7,.7 .6-2.1 .5-3 .4-3.2 .3-4.4 .4-1.7 .3-.7 .4-3 .3-3.6 .4-1.9 .3-1.2 .4-1.4 .4-1.2 .4-4.7 .4-4.6 .3-.8 .4-1.9 .4-1.9 .5-2.1 .6-3.9 1-2.5 1.8-.8 1.9-1.3 2.1-2.9 1.4-2.3 1.2-2.8 1.2-1.4 1,.4 1-3.7 1-4.3 1-1.1 .9-1.8 1-1.8 .8-2 1-3.5 .9-3.3 .9-1.1 1-.9 1.5-3 1.2,1 .7,1.5 .8,2.2 .8,5.2 1.5,2.2 1.9,.3 1.6,1.1 1,2.8 .6,3.5 .5,3.3 .4,1.6 .4-.4 .5,2.8 .5,4.9 .8,2.9 1.2,2.8 1.7,.3 1.3,.2 1.1,3.7 .7,2.9 .7,.9 .6,1.6 .5,3.1 .5,3.6 .5,4.3 .5,3.3 .5-.2 .5,1.7 .4,4 .5,2.5 .4,3.3 .5,1.9 .4,.6 .4,3.6 .5,4.2 .4,2 .4,.7 .4,1.5 .4,1.8 .4,3.8 .4,4.7 .4,.8 .4,1.4 .4,3.3 .4,2.4 .4,3.5 .5,2.4 .4,.4 .4,2.4 .4,4.7 .4,3.6 .4,1.7 .4,2 .5,.9 .4,2.6 .4,4.9 .4,1.2 .4,.9 .5,2.7 .6,2.5 .8,3.9 1,3.4 1.5,.6 1.6,.2 1.5,3.6 1.4,2.4 1.3,1.8 1.5,2 1.5,.3 1.5,2.5 1.6,4.7 1.7,2.2 1.9-1 2,1 1.9,.8 1.8,3.8 1.6,3.4 1.9,1.4 1.7-3.6 1.4-1.5 1.6-.9 2,2.4 1.5,2.8 1.5,0 1.4,.5 1.3,2.6 1.2,4.9 .9,2.9 .9,1.3 .6,1.7 .6,.9 .5,4 .7,4 1.2-.1 1-3.3 .7-1.9 .5-1.5 .5-.8 .4-2.7 .5-5.1 .5-3.7 .4-.4 .4-1.5 .4-2.1 .4-1.9 .4-4.1 .4-1.4 .4-.5 .4-3.9 .4-3.9 .5-3.2 .4-2.3 .4-.7 .5-.9 .4-4 .6-4.5 .8-1.8 2.1-.3 2,1.4 1.9,2.1 2.1-2.2 1.4,.6 .4,3.9 .4,5 .2,1.4 .3,1.6 .2,1.3 .2,1.3 .2,4.6 .3,3.4 .2,1.1 .3,2.2 .2,3.4 .2,3.5 .2,3.2 .3,2.2 .2-.2 .2,2.4 .3,5 .3,2.6 .3,2.8 .3,1.7 .4,.9 .3,3.8 .4,3.9 .5,1.3 .4,.9 .6,2.3 .5,2.7 .8,3.6 .8,3.5 1-.1 1.3,.9 1.8,3.7 2.5-.3 2.2-.5 2.1-2.1 2.2-2.4 2.4,.5 2.4,1.1 2.4,.8 2.2,0 2.3,.8 2.2,.4 2.2,.7 2.2,3.6 2.3,.8 2.2-.5 2.3,1.8 2.3,1.3 2.4,1.9 2.3,1 2.4-2.3 2.4-.8 2.4,4 2.4,2.5 2.5-1.1 2.5-.2 2.4-1.7 2.4-1.5 2.4,1.3 .5-.2" fill="none" stroke="#000" stroke-width="1.15" stroke-dasharray="9 2"/>
<path d="M1181,656.3l2.5,.7 2.4,.5 2.5,.7 2.5,.6 2.5-3.1 2.5-.7 2.5,2.7 2.4-.5 2.5,1.7 2.5,.7 2.4-2.6 2.5,2.9 2.5,1.5 2.5-3 2.4-.6 2.4-2 2.4-1.9 2.3,2.6 2.3,.5 2.4-3.4 2.3-.7 2.4-.2 2.4-1.8 2.5,1.3 2.4-1.5 2.4-3.7 2.4,1.7 2.5,1 2.4-.5 2.4,.3 2.4-3 2.5-2.3 2.4,1 2.4,.4 2.5-1.2 2.4-.7 2.4-.1 2.4,.6 2.3,2.6 2.2-1.9 2-3.2 1.9-.1 1.4-.5 1.3-2.5 1.3-.8 1.8-1.1 2.3,.5 2.4-4 2.4,3.1 2.2,.6 2.3-6.8 2.2,.1 2.2,.5 2.2-3.2 2.2,3 2.2-.2 2.3-5.3 2.3,.2 2.4,1.6 2.4-3.5 2.5,1.1 2.5-.6 2.5-4.8 2.4,5 2.5,1.1 2.4-5.2 2.3,.6 2.3-3.2 2.2-4.1 2.2,2.6 2.5,.1 2.4-4.1 2.4,1 1.7-.8 1-3 .8-1.6 .7-4.6 .7-6 .8-1.1 1,.5 1.3-1.3 1.5-3.6 1.5-4.4 1.5-4.4 1.6,0 1.5-.9 1.5-4.4 1.4-3.7 1.3-1.8 1.2-.8 1.2,.2 1.1-2.4 1-5.6 1.1-2.9 1.1-1.9 1-1.1 1-1.2 .9-2.5 1-4.2 .9-2.1 1,.1 1-4.1 1-3.5 1.3-1.8 1.3-2.8 1.5-.4 1.4-.6 1.1-3.7 1.1-2.8 1-.9 .8-2 .7-2.8 .9-2.7 .9-4.6 .9-2.6 .7,.5 .6-2.2 .5-2.6 .4-2.8 .3-4.1 .4-1.5 .3-.8 .4-3.3 .3-4 .4-2.3 .3-1.8 .4-2 .4-1.7 .4-4.9 .4-4.5 .3-.6 .4-1.7 .4-2 .5-2.4 .6-3.9 1-1.3 1.8,.2 1.9-2.2 2.1-3 1.4-1.9 1.2-1.8 1.2-2.5 1,.1 1-3.1 1-4.5 1-1.6 .9-1.7 1-1.7 .8-2.9 1-4.3 .9-3.1 .9-.1 1-.2 1.5-2.3 1.2,1.4 .7,.7 .8,1.2 .8,4.8 1.5,2.9 1.9,.6 1.6,1.9 1,1.9 .6,2.7 .5,3.2 .4,1.8 .4,0 .5,2.9 .5,4.8 .8,2.5 1.2,2.9 1.7,.6 1.3-.4 1.1,4.5 .7,3.5 .7,1.3 .6,1.3 .5,2.7 .5,3.4 .5,4.4 .5,3.4 .5-.6 .5,1 .4,3.5 .5,2.2 .4,3.4 .5,2.2 .4,1 .4,4.1 .5,4.7 .4,2.2 .4,.8 .4,1.5 .4,1.9 .4,3.8 .4,4.9 .4,.8 .4,1.2 .4,3.1 .4,2.1 .4,3.2 .5,1.8 .4-.1 .4,2.4 .4,4.9 .4,4 .4,2.2 .4,2.1 .5,.8 .4,2.5 .4,4.8 .4,1.3 .4,1.1 .5,2.9 .6,2.4 .8,3.7 1,2.7 1.5,1.2 1.6,.2 1.5,2.9 1.4,2.7 1.3,1.7 1.5,3.5 1.5,.6 1.5,1.5 1.6,3.6 1.7,1.8 1.9,.7 2,.5 1.9-.1 1.8,3.9 1.6,4.3 1.9,1.2 1.7-3 1.4-1.7 1.6-.5 2,.8 1.5,2.3 1.5,.3 1.4,1.4 1.3,3.4 1.2,3.9 .9,2.5 .9,1.2 .6,1.4 .6,1 .5,4.3 .7,4.4 1.2,.8 1-3.2 .7-2 .5-1.7 .5-1.1 .4-2.9 .5-5.1 .5-3.7 .4-.5 .4-1.7 .4-2.3 .4-2 .4-3.9 .4-1.3 .4-.4 .4-4 .4-4.2 .5-3.3 .4-2.4 .4-.8 .5-1 .4-4 .6-4.4 .8-1.4 2.1,.6 2,.9 1.9,1 2.1-1.4 1.4,1.5 .4,4 .4,5 .2,1.4 .3,1.5 .2,1.3 .2,1.1 .2,4.5 .3,3.2 .2,1 .3,1.9 .2,3.3 .2,3.3 .2,3.2 .3,2.1 .2-.3 .2,2.3 .3,4.9 .3,2.6 .3,2.8 .3,1.9 .4,1 .3,4 .4,3.9 .5,1.4 .4,1.1 .6,2.6 .5,2.8 .8,3.2 .8,3.5 1-.1 1.3,.8 1.8,3.8 2.5-1.3 2.2,0 2.1-.9 2.2-3.2 2.4-.2 2.4,2.4 2.4,.4 2.2-1 2.3,.9 2.2,.4 2.2,1.3 2.2,4.4 2.3,.3 2.2-1.4 2.3,2.5 2.3,1.3 2.4,.3 2.3,1.6 2.4-.9 2.4-1.3 2.4,3.8 2.4,2.3 2.5-1.5 2.5,.4 2.4-2.3 2.4-1.9 2.4,2.6 .5-.1" fill="none" stroke="#000" stroke-width="1.15" stroke-dasharray="9 2"/>
<path d="M1181.5,566.1l1.4,1.4 1.8,2 2.2,2.3 2.4,2.4 2.5,2.6 2.4,2.4 2.1,2 2.1,2.1 2.2,2.1 2.2,2.2 2.3,2.1 2.3,1.9 2.3,1.9 2.7,1.9 2.8,1.8 2.7,1.6 2.9,1.6 2.8,1.7 2.8,1.7 2.8,1.9 2.9,2 2.8,2 2.9,2 2.8,1.9 2.7,1.8 2.6,1.7 2.6,1.5 2.5,1.5 2.5,1.5 2.6,1.4 2.8,1.5 2.9,1.5 3,1.6 3.2,1.5 3.1,1.5 3,1.5 2.9,1.5 3.2,1.6 2.9,1.6 2.9,1.5 3,1.4 3.3,1.5 3.1,1.1 3.2,1.2 3.4,1.1 3.4,1.1 3.3,1 3.2,1 3.4,1.1 3.3,1.1 3.2,1.1 3.2,.9 3.6,.9 3.3,.6 3.4,.5 3.6,.5 3.6,.4 3.5,.4 3.3,.3 3.2,.3 2.9,.3 3,.3 2.9,.2 3,0 3.1-.2 2.9-.3 3-.4 3.2-.6 3.1-.6 3.1-.8 2.8-.9 2.6-1.1 2.9-1.6 2.4-1.8 2.2-2 2.4-2.7 3.2-3.5 1.6-1.8 1.8-2 1.8-2.1 2-2.3 2-2.4 2.1-2.4 2.1-2.6 2.1-2.6 2.2-2.6 2.1-2.6 2.1-2.6 2-2.5 1.9-2.3 1.9-2.4 2-2.5 2-2.6 2-2.5 2-2.6 2-2.5 1.9-2.5 1.9-2.4 1.7-2.3 1.7-2.3 1.5-2.1 1.4-2 2.3-3.8 1.8-3.4 1.3-3 1.2-2.7 1.3-2.6 1.6-2.6 2-2.5 2.2-2.2 2.2-2.1 2.3-2 2.4-2.1 2.3-2.1 2.3-2.4 2.4-2.4 2.4-2.4 2.4-2.4 2.4-2.4 2.4-2.2 2.4-2.1 2.4-2 2.3-2 2.4-1.9 2.4-1.9 2.4-1.7 3.1-2 3.2-2 3.2-1.8 3.1-1.6 2.7-1.3 3.8-1.6 3.2-1 3.5-.3 3.2,.2 3.4,.4 3.5,.9 3.3,1.4 2.5,1.6 2.4,1.9 2.5,2.2 2.4,2.2 2.6,2.3 2.3,1.8 2.3,2 2.3,2 2.5,2 2.4,2 2.5,1.8 2.6,1.6 2.7,1.4 2.7,1.4 2.8,1.4 2.8,1.5 2.7,1.7 2.7,2 2.8,2.1 2.8,2.3 2.7,2.2 2.7,2.2 2.5,1.9 3.1,2.2 3.1,2.1 3,2 2.4,1.6 1.8,1.2" fill="none" stroke="#FFC000" stroke-width="4.4" stroke-dasharray="19.2 19.2"/>
<path d="M1181.5,614.7l1.6,0 1.9,0 2,0 2.3,0 2.4,0 2.7,0 2.8,.1 2.9,0 3.1,0 3.2,0 3.3,0 3.4,0 3.4,0 3.6,.1 3.6,0 3.6,0 3.7,0 3.7,0 3.7,0 3.6,0 3.7,0 3.6,0 3.6,0 3.4,0 3.5,0 3.3,0 3.2,0 3.1,0 2.9,0 2.9,0 2.6-.1 2.5,0 2.3,0 2.1-.1 1.9,0 8.2-.3 4.7-.5 2.3-.5 1-.6 1-.7 1.9-.7 3-.8 2.7-.8 2.6-.9 2.7-1.1 3.3-1.4 2.4-1.1 2.7-1.3 2.8-1.4 3-1.4 2.9-1.5 2.9-1.4 2.8-1.3 2.5-1.1 3.6-1.6 3.2-1.3 3.1-1.2 3.1-1.2 3.2-1.3 2.9-1.1 3-1.2 3-1.1 3-1.3 2.8-1.3 2.5-1.6 2.7-2.1 2.3-2.2 2.2-2.5 2.1-2.6 2.2-2.9 1.8-2.5 1.8-2.5 1.9-2.7 1.8-2.9 2-3.2 2.1-3.6 1.4-2.3 1.4-2.5 1.5-2.5 1.5-2.6 1.5-2.8 1.6-2.8 1.6-3 1.6-3.1 1.6-3.3 1.6-3.4 1.2-2.5 1.2-2.7 1.2-2.7 1.2-2.9 1.3-2.9 1.3-3 1.2-3 1.3-3 1.2-3.1 1.3-3.1 1.2-3.2 1.2-3.1 1.2-3.1 1.2-3 1.1-2.9 1.1-3 1.1-3.2 1.1-3.2 1.1-3.2 1-3.2 1.1-3.2 1.1-3.2 1-3.1 1-3 1-2.9 .9-2.7 1-2.6 .8-2.4 .9-2.1 2-4.4 1.8-3.4 1.6-2.7 1.5-2.1 1.4-1.7 1.2-1.6 2.7-2.9 2.1-.7 2.5,0 2.3,1.8 1.1,1.9 1,2.9 1.7,5 .8,2 .9,2.2 1,2.5 1,2.6 1.2,2.8 1.1,3 1.2,3.1 1.1,3.2 1.1,3.4 1.1,3.4 .8,2.6 .7,2.7 .8,2.8 .7,2.9 .8,2.9 .7,3.1 .8,3.1 .7,3.1 .8,3.1 .7,3.1 .8,3.2 .7,3.1 .8,3 .7,3 .8,3 .7,3 .8,3.1 .7,3.1 .8,3 .7,3.1 .8,3.1 .7,3 .8,3 .7,2.9 .8,2.9 .7,2.8 .8,2.7 .7,2.6 1.1,3.6 1.1,3.4 1,3.4 1.1,3.2 1.1,3.1 1,3 1.1,3 1,2.8 1,2.7 1,2.7 1.5,3.6 1.4,3.6 1.5,3.4 1.4,3.1 1.3,2.9 1.3,2.4 1.2,2 3.5,2.7 3.2,.2 3.1,0 3.6,0 2.9,.6 3.4,1 4.2,1.3 2.6,.8 2.9,.9 3.1,.9 3.2,1 3.2,1 3.1,1 3,.9 3,.9 3,.9 3,.9 3,.8 3.2,.9 3.3,.8 3.5,.8 3.6,.8 3.5,.8 3.3,.6 2.8,.5 4.9,.4 3.9,0 2.7,0" fill="none" stroke="#0062FF" stroke-width="4.4" stroke-dasharray="19.2 19.2"/>
</g>
<line x1="1181.5" y1="397.2" x2="1612.3" y2="397.2" stroke="#262626" stroke-width="3.4"/>
<line x1="1181.5" y1="687.2" x2="1612.3" y2="687.2" stroke="#262626" stroke-width="3.4"/>
<line x1="1277.0" y1="397.2" x2="1277.0" y2="402.7" stroke="#262626" stroke-width="3.4"/>
<line x1="1277.0" y1="687.2" x2="1277.0" y2="681.7" stroke="#262626" stroke-width="3.4"/>
<line x1="1372.5" y1="397.2" x2="1372.5" y2="402.7" stroke="#262626" stroke-width="3.4"/>
<line x1="1372.5" y1="687.2" x2="1372.5" y2="681.7" stroke="#262626" stroke-width="3.4"/>
<line x1="1468.1" y1="397.2" x2="1468.1" y2="402.7" stroke="#262626" stroke-width="3.4"/>
<line x1="1468.1" y1="687.2" x2="1468.1" y2="681.7" stroke="#262626" stroke-width="3.4"/>
<line x1="1563.6" y1="397.2" x2="1563.6" y2="402.7" stroke="#262626" stroke-width="3.4"/>
<line x1="1563.6" y1="687.2" x2="1563.6" y2="681.7" stroke="#262626" stroke-width="3.4"/>
<line x1="1181.5" y1="395.5" x2="1181.5" y2="688.9" stroke="#C00010" stroke-width="3.4"/>
<line x1="1181.5" y1="687.2" x2="1187.0" y2="687.2" stroke="#C00010" stroke-width="3.4"/>
<line x1="1181.5" y1="590.5" x2="1187.0" y2="590.5" stroke="#C00010" stroke-width="3.4"/>
<line x1="1181.5" y1="493.9" x2="1187.0" y2="493.9" stroke="#C00010" stroke-width="3.4"/>
<line x1="1181.5" y1="397.2" x2="1187.0" y2="397.2" stroke="#C00010" stroke-width="3.4"/>
<line x1="1612.3" y1="395.5" x2="1612.3" y2="688.9" stroke="#0062FF" stroke-width="3.4"/>
<line x1="1612.3" y1="687.2" x2="1606.8" y2="687.2" stroke="#0062FF" stroke-width="3.4"/>
<line x1="1612.3" y1="614.7" x2="1606.8" y2="614.7" stroke="#0062FF" stroke-width="3.4"/>
<line x1="1612.3" y1="542.2" x2="1606.8" y2="542.2" stroke="#0062FF" stroke-width="3.4"/>
<line x1="1612.3" y1="469.7" x2="1606.8" y2="469.7" stroke="#0062FF" stroke-width="3.4"/>
<line x1="1612.3" y1="397.2" x2="1606.8" y2="397.2" stroke="#0062FF" stroke-width="3.4"/>
<text x="1151.28" y="700.30" font-family="'Liberation Serif', 'DejaVu Serif', serif" font-size="46" fill="#C00010" textLength="22.43" lengthAdjust="spacingAndGlyphs">0</text>
<text x="1128.86" y="603.63" font-family="'Liberation Serif', 'DejaVu Serif', serif" font-size="46" fill="#C00010" textLength="44.85" lengthAdjust="spacingAndGlyphs">50</text>
<text x="1106.43" y="506.97" font-family="'Liberation Serif', 'DejaVu Serif', serif" font-size="46" fill="#C00010" textLength="67.27" lengthAdjust="spacingAndGlyphs">100</text>
<text x="1106.43" y="410.30" font-family="'Liberation Serif', 'DejaVu Serif', serif" font-size="46" fill="#C00010" textLength="67.27" lengthAdjust="spacingAndGlyphs">150</text>
<g clip-path="url(#c7)">
<line x1="222.7" y1="752.2" x2="222.7" y2="1042.2" stroke="#D5D5D5" stroke-width="1.4"/>
<line x1="318.2" y1="752.2" x2="318.2" y2="1042.2" stroke="#D5D5D5" stroke-width="1.4"/>
<line x1="413.8" y1="752.2" x2="413.8" y2="1042.2" stroke="#D5D5D5" stroke-width="1.4"/>
<line x1="509.3" y1="752.2" x2="509.3" y2="1042.2" stroke="#D5D5D5" stroke-width="1.4"/>
<line x1="127.2" y1="938.6" x2="558.0" y2="938.6" stroke="#FF9AA3" stroke-width="1.4"/>
<line x1="127.2" y1="835.1" x2="558.0" y2="835.1" stroke="#FF9AA3" stroke-width="1.4"/>
<path d="M127,927l3.6,1.7 3.4,2 3.3,2.3 3.4,2.1 3.4,2 3.8,1.4 4,.3 4-.2 3.9-.3 4-.5 4-.6 3.8-1.1 3.8,.6 3.6,1.7 3.9,.7 4,.6 3.9,.6 4,.7 3.9,.5 4,.4 4,.3 4-.1 4,.1 4-.1 3.9-.8 3.8-1.3 3.7-1.3 3.8-1.3 3.7-1.6 3.7-1.5 3.6,1.2 3.4,2 3.9,.6 3.9,.4 3.9,.9 3.7,1.1 3.6,1.6 3.6,1.6 3.7,1.3 3.8,1 3.9,.5 4,.7 3.6,2 3.6,2.2 3.8,1.1 4,.5 3.4,2.2 2.3,3.4 1.9,3.8 1.5,4 1.2,4.3 .9,4.2 .6,4.2 .5,4.2 .7,4.2 .9,4.3 .9,4.2 1,4.3 1,4.3 1,4.2 1.4,4.1 1.6-2.1 .8-3.9 .6-3.9 .6-4 .6-4 .5-3.9 .5-4 .5-4 .5-3.9 .6-4 .7-3.9 .7-4 .7-3.9 .9-3.9 1.9-3.3 2.3,2.1 1.3,3.7 .8,3.9 .6,4 .7,3.9 .7,4 .8,3.9 .9,3.9 .9,3.9 .9,3.9 .6,3.9 .1,4 .5,4 1.5,3.2 .9-3.3 0-4 .1-4 0-4 0-4 .1-4 .1-4 .2-4 .9-3.8 1.8-3.5 3.9,.3 3.2,2.2 2.4,3.2 1.8,3.6 1.3,3.7 1,3.9 .8,3.9 .5,4 .5,4 .3,3.9 .3,4 .4,4 .3,4 .4,4 .5,3.9 1.1-.7 .5-4 .3-4 .2-4 .3-3.9 .3-4 .2-4 .3-4 .3-4 .3-4 .4-4 1.3-3.7 2-2.8 2.6,3 1.2,3.8 .9,3.9 .7,3.9 .8,3.9 .7,4 .5,3.9 .6,4 1.1-3.1 .4-4 .3-4 .2-4 .3-4 .3-4 .3-4 .4-3.9 .5-4 .7-4 1-3.8 1.9-3.5 2.6-3.1 2.2-3.3 2.2-3.3 2.1-3.4 2.1-3.4 3.1-2.3 3.8-1.3 3.3-1.9 2.5-3.1 3-2.3 3.9,.1 4-.3 3.9-1.1 2.9-2.6 2.6-3.1 2.7-2.9 3.3-1 3.6,1.9 3.5-1.7 3.4,.5 2.8,2.8 2.6,3 2.9,2.8 3.6,1.2 3-2.3 1.7-3.6 1.7-3.6 2.5-3 3.6-1.1 3.4,2.1 2.8,2.9 2.4,3.2 2.1,3.4 2.5,3.1 3.3-.4 2.8-2.9 3,.4 2.8,2.9 3.4,2 3.8,1.1 3.8-.6 3.8-1.3 3.9-.7 4,0 4,.3 3.9,1 3.8,1.1 4,.2 3.9-.8 3.8-1.2 3.8-1.3 3.8-1.2 3.8,.1 1.4,.8 0,9.2 -1.4-.8 -3.8-.1 -3.8,1.2 -3.8,1.3 -3.8,1.2 -3.9,.8 -4-.2 -3.8-1.1 -3.9-1 -4-.3 -4,0 -3.9,.7 -3.8,1.3 -3.8,.6 -3.8-1.1 -3.4-2 -2.8-2.9 -3-.4 -2.8,2.9 -3.3,.4 -2.5-3.1 -2.1-3.4 -2.4-3.2 -2.8-2.9 -3.4-2.1 -3.6,1.1 -2.5,3 -1.7,3.6 -1.7,3.6 -3,2.3 -3.6-1.2 -2.9-2.8 -2.6-3 -2.8-2.8 -3.4-.5 -3.5,1.7 -3.6-1.9 -3.3,1 -2.7,2.9 -2.6,3.1 -2.9,2.6 -3.9,1.1 -4,.3 -3.9-.1 -3,2.3 -2.5,3.1 -3.3,1.9 -3.8,1.3 -3.1,2.3 -2.1,3.4 -2.1,3.4 -2.2,3.3 -2.2,3.3 -2.6,3.1 -1.9,3.5 -1,3.8 -.7,4 -.5,4 -.4,3.9 -.3,4 -.3,4 -.3,4 -.2,4 -.3,4 -.4,4 -1.1,3.1 -.6-4 -.5-3.9 -.7-4 -.8-3.9 -.7-3.9 -.9-3.9 -1.2-3.8 -2.6-3 -2,2.8 -1.3,3.7 -.4,4 -.3,4 -.3,4 -.3,4 -.2,4 -.3,4 -.3,3.9 -.2,4 -.3,4 -.5,4 -1.1,.7 -.5-3.9 -.4-4 -.3-4 -.4-4 -.3-4 -.3-3.9 -.5-4 -.5-4 -.8-3.9 -1-3.9 -1.3-3.7 -1.8-3.6 -2.4-3.2 -3.2-2.2 -3.9-.3 -1.8,3.5 -.9,3.8 -.2,4 -.1,4 -.1,4 0,4 0,4 -.1,4 0,4 -.9,3.3 -1.5-3.2 -.5-4 -.1-4 -.6-3.9 -.9-3.9 -.9-3.9 -.9-3.9 -.8-3.9 -.7-4 -.7-3.9 -.6-4 -.8-3.9 -1.3-3.7 -2.3-2.1 -1.9,3.3 -.9,3.9 -.7,3.9 -.7,4 -.7,3.9 -.6,4 -.5,3.9 -.5,4 -.5,4 -.5,3.9 -.6,4 -.6,4 -.6,3.9 -.8,3.9 -1.6,2.1 -1.4-3.4 -1-3.4 -1-3.5 -1-3.5 -.9-3.5 -.9-3.6 -.7-3.6 -.5-3.8 -.6-3.7 -.9-3.5 -1.2-3.4 -1.5-3.4 -1.9-3.3 -2.3-2.9 -3.4-1.3 -4,.4 -3.8-.2 -3.6-1.3 -3.6-1.1 -4-.7 -3.9-1 -3.8-1.4 -3.7-1.7 -3.6-2 -3.6-1.9 -3.7-1.6 -3.9-1.3 -3.9-.8 -3.9-1.1 -3.4-2.4 -3.6-1.5 -3.7,1.3 -3.7,1.5 -3.8,1.3 -3.7,1.3 -3.8,1.3 -3.9,.7 -4,.1 -4-.1 -4,0 -4-.3 -4-.5 -3.9-.5 -4-.7 -3.9-.7 -4-.6 -3.9-.7 -3.6-1.8 -3.8-.6 -3.8,1.1 -4,.5 -4,.5 -3.9,.3 -4,.1 -4-.3 -3.8-1.4 -3.4-2.1 -3.4-2.1 -3.3-2.3 -3.4-2.1 -3.6-1.7Z" fill="#FF0000" fill-opacity="0.12" stroke="none"/>
<path d="M127,957.4l4-.6 3.9-.6 4-.6 4-.7 3.9-.5 4-.3 4-.1 4,0 4-.1 4-.1 4-.1 4,0 4-.3 4-.7 3.8-1.1 3.3-2.1 2.6-3.2 2.8-2.6 3.9-.9 3.8-1.1 3.6-1.8 2.4,2.6 1.9,3.5 3.3,.8 3.3-2.4 2.9-2.8 2.7-3.2 2.4-3.4 2.6-3.3 3.2-2.3 3.1-2.2 1-3.9 .7-4 .7-4 .8-4 1.6-3.8 3.1-.9 2,3.2 2.2,3.1 3.1-1.5 2.3-3.5 2.2-3.5 2.2-3.6 2.3-3.5 3.2-2.4 3.9-.8 3.7-1.3 3.3-2.2 3.2-2.5 3.1-2.6 3-2.6 3.2-2.4 3.6-1.8 2.8-2.9 2.1-3.4 2.2-3.4 2.4-3.4 2.4-3.4 2.5-3.4 3-2.8 3.5-2.1 1.8-3.6 .8-4 .7-4 1.1-3.9 3.3-1 2.8-1.9 .9-3.9 .7-3.9 .7-3.9 .8-4 1.1-3.8 1.4-3.8 1.3-3.7 1.2-3.8 1-3.9 .7-4 .6-3.9 .8-3.9 1.4-3.3 2.6,2.8 1.7,3.6 2.3,3.3 3.3,2.2 2.9,.9 2.4-2.4 2-2.8 1.5-3.2 1.3-3.4 1.1-3.4 1.3-3.4 1.3-3.4 1.2-3.4 1.5-3.2 2.4-2.2 3.7-.2 3.7,.6 2.7-1.5 2.9-1.4 2.2,2.3 .6,3.9 .4,4 .3,4 .3,4 .2,4 .2,4 .3,4 .2,4 .2,3.9 .2,4 .3,4 .2,4 .3,4 .2,4 .3,4 .3,4 .2,4 .3,4 .3,4 .3,4 .2,3.9 .3,4 .3,4 .2,4 .3,4 .3,4 .2,4 .3,4 .2,4 .3,4 .3,4 .2,3.9 .3,4 .2,4 .3,4 .2,4 .3,4 .2,4 .3,4 .3,4 .4,4 .5,3.9 .8,3.9 1.4,3.7 3.3,2.2 3.3,1.4 1.3,3.7 .5,3.9 .5,4 .3,4 .4,4 .4,4 .3,3.9 .4,4 .3,4 .3,4 .3,4 .5,4 1,2 .6-4 .4-4 .4-3.9 .5-4 1-3.9 2.1-2.1 2,3.4 1.5,3.7 1.5,3.7 1.5,3.7 1.4,3.7 1.7,3.6 2.7-.6 1.9-3.6 2.7-2.6 3.7,1.4 3.8,.9 2.8-2.9 2.2-3.4 2.2-3.3 2.3-3.3 2.4-3.2 2.4-3.2 2.5-3.2 2.6-3.1 2.6-3 2.4-3.2 3.2-1.4 2.4,3.2 1.9,3.5 1.8,3.5 1.7,3.7 1.9,3.5 2,3.4 2.5,3.1 3.5,.9 3.2-2.3 3.1-2.5 3.5-2 3.6-1.9 3.7-1.3 4,.1 3.9-.6 3-2.6 2.7-3 2.5-3.1 2.4-3.2 2.4-3.2 2.3-3.3 2.4-3.2 2.6-3 3.6-1.6 3.9,.6 3.4,2.1 2.8,2.8 2.3,3.3 2,3.5 2.1,3.3 3,2.6 3.9,.1 3.9-1 3.8-1.3 0,9.2 -3.8,1.2 -3.9,1.1 -3.9-.2 -3-2.7 -2.1-3.4 -2-3.4 -2.3-3.3 -2.8-2.9 -3.4-2.1 -3.9-.7 -3.6,1.6 -2.6,3 -2.4,3.2 -2.3,3.1 -2.4,3.3 -2.4,3.1 -2.5,3.1 -2.7,3 -3,2.5 -3.9,.6 -4-.2 -3.7,1.3 -3.6,1.8 -3.5,2 -3.1,2.4 -3.2,2.3 -3.5-.9 -2.5-3.2 -2-3.4 -1.9-3.6 -1.7-3.6 -1.8-3.6 -1.9-3.5 -2.4-3.2 -3.2,1.3 -2.4,3.2 -2.6,3 -2.6,3.1 -2.5,3.1 -2.4,3.2 -2.4,3.2 -2.3,3.2 -2.2,3.3 -2.2,3.3 -2.8,2.9 -3.8-.9 -3.7-1.5 -2.7,2.6 -1.9,3.5 -2.7,.7 -1.7-3.7 -1.4-3.7 -1.5-3.7 -1.5-3.7 -1.5-3.7 -2-3.5 -2.1,2.1 -1,3.9 -.5,3.9 -.4,4 -.4,4 -.6,3.9 -1-2 -.5-4 -.3-4 -.3-4 -.3-4 -.4-3.9 -.3-4 -.4-4 -.4-4 -.3-4 -.5-4 -.5-3.9 -1.3-3.7 -3.3-1.4 -3.3-2.2 -1.4-3.7 -.8-3.9 -.5-3.9 -.4-4 -.3-4 -.3-4 -.2-4 -.3-4 -.2-4 -.3-4 -.2-4 -.3-4 -.2-3.9 -.3-4 -.3-4 -.2-4 -.3-4 -.2-4 -.3-4 -.3-4 -.2-4 -.3-4 -.3-4 -.2-3.9 -.3-4 -.3-4 -.3-4 -.2-4 -.3-4 -.3-4 -.2-4 -.3-4 -.2-4 -.3-4 -.2-4 -.2-3.9 -.2-4 -.3-4 -.2-4 -.2-4 -.3-4 -.3-4 -.4-4 -.6-3.9 -2.2-1.9 -2.9,4.2 -2.7,4.3 -3.7,3.1 -3.7,2.8 -2.4,3.8 -1.5,4.2 -1.2,4.2 -1.3,4.2 -1.3,4.2 -1.1,4.2 -1.3,4.3 -1.5,4.2 -2,4.1 -2.4,4 -2.9,.2 -3.3-2.2 -2.3-3.3 -1.7-3.6 -2.6-2.8 -1.4,3.3 -.8,3.9 -.6,3.9 -.7,4 -1,3.9 -1.2,3.8 -1.3,3.7 -1.4,3.8 -1.1,3.8 -.8,4 -.7,3.9 -.7,3.9 -.9,3.9 -2.8,1.9 -3.3,.6 -1.1,3.8 -.7,3.8 -.8,3.9 -1.8,3.2 -3.5,1.4 -3,2.3 -2.5,2.9 -2.4,2.9 -2.4,3 -2.2,3.2 -2.1,3.4 -2.8,2.8 -3.6,1.7 -3.2,2.3 -3,2.6 -3.1,2.5 -3.2,2.4 -3.3,2.3 -3.7,1.1 -3.9,.5 -3.2,1.8 -2.3,3.1 -2.2,3.1 -2.2,3.1 -2.3,3 -3.1,.9 -2.2-3.5 -2-3.6 -3.1,.2 -1.6,3.5 -.8,3.8 -.7,3.9 -.7,3.8 -1,3.8 -3.1,1.6 -3.2,1.6 -2.6,2.8 -2.4,2.9 -2.7,2.8 -2.9,2.7 -3.3,2.1 -3.3-1 -1.9-3.5 -2.4-2.7 -3.6,1.6 -3.8,.9 -3.9,.6 -2.8,2.5 -2.6,3 -3.3,2 -3.8,.9 -4,.5 -4,.1 -4-.3 -4-.1 -4-.1 -4-.1 -4-.2 -4-.1 -4,0 -3.9,.4 -4,.4 -4,.4 -3.9,.4 -4,.4Z" fill="#FF0000" fill-opacity="0.12" stroke="none"/>
<path d="M127,936.2l1.8,.4 1.8-.9 1.8,1 1.6,3 1.7,1.9 1.6-1.2 1.7,.6 1.7,2.6 1.7,1.6 1.7,2 1.9,.2 1.9-.8 2,.1 2,2.6 2,0 2-2.5 1.9-.4 2-.3 2,.6 2,.4 2-.7 2-2.5 1.9-.1 1.9,2.3 2-.5 1.8,0 1.8,.4 1.8,1.2 1.9,1 2,1.9 2-.6 2-2.5 1.9,1.2 2,1.7 2,.3 2-.9 1.9-.2 2-.5 2,1.4 2,2.5 2-1.2 2-1.4 2,.7 2,1.8 2,0 2-.1 2-.9 2-1.6 2,1.5 1.9,.6 1.9-2 1.9-2.8 1.8,.1 1.9,.2 1.9-.3 1.9,.1 1.9-2.4 1.8-1.4 1.8,1 1.9,1.4 1.8-1 1.8-.3 1.7,1.4 1.7,1.2 1.9,1.6 2,.4 1.9-1.5 2-1.5 1.9,2.6 2,1.7 1.8-.5 1.9,.2 1.8,.5 1.8,1.6 1.8,2.3 1.8,2 1.8-1.5 1.9-.1 1.9,2.7 1.9,1.1 1.9-.1 2-.8 2-.5 2-.1 1.8,2.8 1.8,1.1 1.8-1.6 1.8,.6 1.8,2.1 2,1.2 2-.3 2,.2 1.9-1.1 1.5,1.7 1.3,3.9 1,1.7 1-.3 .9,.8 .8,2.9 .7,1.9 .6,2.5 .6,1.2 .5-.1 .4,2.5 .3,4.2 .3,2.5 .3,.1 .2,2.2 .4,2.3 .3,2.9 .4,3.3 .5,.9 .4-.1 .5,2.1 .5,4.3 .5,1.1 .5,.7 .5,1.4 .5,1.4 .5,3.2 .5,3.3 .9,1.1 1-1.6 .6-2.3 .4-.1 .4-.6 .3-2.8 .3-2.1 .3-3.3 .3-1.8 .3,0 .3-2.1 .2-4.4 .3-3 .2-.2 .3-1.9 .2-1.7 .3-2.5 .2-3.4 .3-1.2 .3,.4 .3-1.5 .3-4.4 .4-1.7 .3-1.3 .4-1.4 .3-1.4 .4-3.1 .4-3.9 .5-1.8 .6,.6 1.3-2.1 1.4-.7 .9,.7 .8,2.5 .5,2.4 .4,3.6 .4,2.2 .3-.3 .3,2.1 .4,4 .3,2.8 .3,.3 .4,1.5 .3,1.2 .5,2.2 .4,3.8 .5,1.1 .4-.3 .5,1.7 .5,4.3 .4,2.1 .4,1.8 .2,1.7 .1,.9 0,3.3 .1,3.9 .4,1.6 .5-.7 1,1.6 .8-.7 .1-1.2 0-2.3 0-2.4 .1-3.8 0-2.4 0,.7 0-1.8 0-3.5 0-2.7 .1-.7 0-1.3 0-1 .1-2.2 .1-4.4 .1-1.5 .2-.1 .7-1.6 .9-4 .9-2.1 2-.2 1.9,.7 1.9,2.4 1.3,.7 1.3-.3 1.1,1.7 1,4.5 .8,2 .7,1.1 .6,1.6 .5,1.2 .5,3 .4,3.4 .4,1.3 .3-.9 .2,2.4 .3,3.5 .2,1.8 .1,1.8 .2,.9 .2,1.4 .1,3 .2,4.6 .2,.9 .1,.2 .2,2.8 .2,3 .2,2.7 .2,1.7 .3,.9 .7-.5 .4-1.1 .3-.2 .2-2.4 .1-4.1 .2-2.2 .1-1 .1-1.6 .2-.5 .1-3.2 .1-3.4 .2-1 .1,.4 .1-2.4 .1-3.7 .2-2 .1-2.5 .2-.9 .1-1.2 .2-3.5 .2-4.2 .2-.8 .4,0 .9-2.5 .9-2 1.1-1.6 1.4,1.3 1.2,2.4 .7,4.3 .5,.8 .4-.2 .5,2.5 .4,3.3 .3,2.2 .5,1 .3,1.3 .3,.3 .4,3.4 .2,3.8 .3,.7 .3,.4 .3,2.5 .9,.1 .2-1.5 .2-1 .2-3 .1-3.3 .2-1.5 .1,.5 .1-2.8 .2-4.2 .1-2 .1-2 .2-1.1 .1-1.5 .2-2.9 .2-4 .2-.7 .2,.5 .3-2.7 .3-2.7 .4-2.4 .4-1.5 .6-1 .8-.5 1.1-3.4 1.2-3.7 1.4-.2 1.1-.5 1.1-2.1 1.1-2.8 1.1-2.1 1-2.3 1.1,0 1,0 1.1-3.6 1.3-2.5 1.8,.4 1.9,1 1.9-.9 1.9-.8 1.4-2.6 1.3-2.6 1.2,.5 1.2-.9 1.8-2.3 2-2.1 1.9,1.4 2,.4 2,.4 2-.2 1.9-2.2 1.5-1.6 1.4,.6 1.3,.3 1.3-3.4 1.3-2.3 1.4-1.1 1.6-1.1 1.7,1.3 1.8,.8 1.8-.9 1.7-2.4 1.8,1.3 1.8,.1 1.6,.4 1.5,.4 1.3,1.5 1.3,2 1.3,3.1 1.4,2.6 1.5-1.2 1.7,.4 1.9,1.8 1.9,.5 1.1-2.5 .9-2.6 .8-2.7 .8-2.5 .9,.4 1-1.6 1.5-3.3 1.7-2 1.9,1.6 1.8,2.1 1.6,1.1 1.4,1.6 1.4-.1 1.2,1.9 1.2,3.6 1,2.5 1.1-.7 1.2,.7 1.3,2.4 1.9,.7 1.4-.4 1.4-2.1 1.4-3 1.5-1.8 1.5,4 1.5,2.4 1.3,.1 1.5,.6 1.9,1.3 1.8,1.5 2,1.3 1.9,.7 1.9-3.3 1.9-1.1 1.9,1.2 1.9,0 2-1.6 2-1.1 2-.1 2,0 2,2.4 1.9,.4 2-1.5 1.9,.5 1.9,2.6 2,1.3 2-1 1.9-.4 2-1.9 1.9,0 1.9,1.2 1.9-1.1 1.9-3.2 1.8-1.2 2,1.2 1.9-.3 1.9,.8 1.4,.1" fill="none" stroke="#42B526" stroke-width="5.6" stroke-linejoin="round"/>
<path d="M127,929l2.3,.7 2.2-2.3 2.1,2.8 2.1,4 2-3.1 2.1,2.3 2.2,4.2 2.1,2.8 2.4-2 2.4,.8 2.5,1.5 2.5-1 2.5-.2 2.4-1.4 2.5,.3 2.5,2.1 2.5-3.9 2.4-1.7 2.4,2.7 2.5-.7 2.3,.5 2.2,2.5 2.4,.1 2.4,.8 2.5,.8 2.5-3.4 2.4,2.3 2.5,3.4 2.5-3.2 2.4-.5 2.5,2.1 2.5,.2 2.5-.1 2.5-.1 2.5,1 2.5,1.7 2.5-1.2 2.5-2.9 2.5,1.4 2.4,1.1 2.3-3.3 2.4-1 2.4,.9 2.3-2.6 2.4,.9 2.3-2.5 2.2-2 2.4,4.6 2.3-1.3 2.2-1 2,1.3 2.4,3 2.4-1.7 2.5-2.6 2.5,4.3 2.4-.2 2.3,.1 2.3,1.5 2.2-1.6 2.3,3.2 2.2,2.9 2.3-1.7 2.4,.6 2.4,4.7 2.4-2.6 2.5-2.4 2.5,2.1 2.3,.8 2.2,2.5 2.3,.3 2.2,1.8 2.5,1 2.5,.8 2.5-1.2 2,.1 1.7,7.1 1.3,1.9 1.2-.2 1,2.7 .9,2.1 .8,3 .7,1.2 .5,1.4 .4,6 .3,3.3 .4,1.5 .4,3.2 .4,3.6 .5,3.8 .6-.3 .6,1.1 .6,5 .6,1.5 .7,1.3 .6,2.5 .6,3.5 .7,4.2 1.2,1.3 .9-2.5 .6-.2 .4-2.5 .5-3.1 .4-4.2 .3-2.1 .4-.5 .3-5.2 .3-3.5 .3-.6 .3-1.9 .3-2.8 .4-4.1 .3-.5 .4-.4 .4-4.8 .4-2.3 .4-1.3 .5-2 .4-3 .5-4.8 .6-1.3 .8-1.9 2-3.5 1.2,2.3 1,2.8 .6,4.4 .5,2.5 .4-.3 .4,4.6 .4,4.1 .4,.7 .5,1.3 .4,2 .6,4 .5,1.4 .6,.4 .6,4.8 .6,3.8 .5,2.5 .3,2.2 .2,2.1 0,5.1 .3,1.8 .6-.3 1.1,2 .8-.9 .1-2.8 0-3.7 .1-4 0-.2 0-2 0-4.5 0-1.6 .1-1.8 0-1.3 .1-3.3 .1-4.5 .2-.3 .4-2.2 1.1-4.5 1.1-2.5 2.5,.5 2.3,2.1 2,.5 1.6,1.1 1.4,5 1.1,2 .9,.6 .8,2.4 .7,3.2 .5,4.4 .5,.6 .4,.7 .3,4.1 .3,2.5 .2,2.2 .2,1.1 .2,2.9 .2,5.5 .2,.8 .2,1.3 .2,4.2 .3,3.2 .2,2 .4,0 .9-.1 .4-.7 .2-2.3 .2-5 .2-2.3 .2-1.5 .1-.8 .2-3.8 .2-3.7 .1,1 .2-2.5 .1-4.2 .2-2.4 .2-1.9 .2-1.3 .2-4.5 .3-3.5 .3,0 .9-2.4 1.1-3.1 1.4-1.2 1.9,1.4 .9,5.5 .7,2 .5,.4 .6,4.5 .4,2.7 .6,1 .4,.8 .4,1.6 .4,4.7 .3,1.6 .4,.9 .9,1.8 .4-.8 .2-1.6 .2-3.5 .2-3.9 .2,.3 .1-2.5 .2-5.1 .2-2.1 .1-2.2 .2-1.6 .2-3.7 .3-3.7 .3,.4 .3-1.9 .4-3.1 .5-2.6 .6-2.4 1-.8 1.3-4.3 1.7-2.8 1.5,.4 1.4-1.9 1.4-4.3 1.3-4 1.3-.3 1.3,.5 1.4-4.4 1.9-2.3 2.3,1.2 2.4,.7 2.4-2.1 1.5-3.6 1.6-1.6 1.5,.6 2.3-4.1 2.5-.8 2.4,1.8 2.5,.2 2.5-.1 2.1-3.1 1.9-.6 1.6,0 1.7-3.8 1.6-1.5 1.9-1.3 2.1,.3 2.3,1.9 2.2-1.3 2.2-3.2 2.2,1.5 2,1.5 1.7,.7 1.6,.9 1.7,4.5 1.8,3.8 1.9-1.1 2.3-.3 2.4,2.7 1.3-3.7 1.1-3.5 1-3.6 1.1-1.1 1.4-1.2 1.8-2.7 2.5-.9 2.2,2.6 2,2.2 1.7,1.8 1.7-1.1 1.4,4.2 1.3,4 1.4-.2 1.6,1.8 2.2,.8 1.8,0 1.7-2.2 1.9-4.4 1.8,2.3 1.8,3.7 1.7,1.2 2.2,.5 2.3,1.4 2.5,3 2.4-1.3 2.4-3.6 2.3,.7 2.4,.4 2.5-2 2.5-.1 2.5-.3 2.5,2.1 2.4,1 2.4-2.7 2.4,2.7 2.5,3.4 2.5-2.4 2.4-1 2.4-.2 2.4-.4 2.3-1.5 2.4-2.7 2.4,.2 2.4,.5 2.3,1.7 .5-.1" fill="none" stroke="#000" stroke-width="1.15" stroke-dasharray="9 2"/>
<path d="M127,945.4l2.3-2.1 2.2-.1 2.1,3.4 2.1,3.9 2-3 2.1,2.9 2.2,3.7 2.1,2.1 2.4-2.5 2.4,.8 2.5,2.6 2.5-.6 2.5-1.9 2.4,1.1 2.5-.6 2.5-.9 2.5,.5 2.4-3.9 2.4,2 2.5,1.8 2.3,0 2.2,.1 2.4,1.2 2.4,3.5 2.5-3.7 2.5-.8 2.4,3.4 2.5,.5 2.5-1.7 2.4,1 2.5,.4 2.5,.4 2.5,.5 2.5-1.1 2.5,1.9 2.5,.9 2.5,.5 2.5-2.9 2.5-.5 2.4,3 2.3-5 2.4-1 2.4,1.2 2.3,.3 2.4-2.2 2.3-2 2.2,.2 2.4,.5 2.3-.6 2.2,1.8 2,2.5 2.4,.3 2.4,1.6 2.5-2.8 2.5,.7 2.4,1.8 2.3,2.2 2.3-.6 2.2,1.4 2.3,3.7 2.2,2.8 2.3-3.9 2.4,2 2.4,3.9 2.4-1.5 2.5-.1 2.5,.5 2.3,3.1 2.2-2.2 2.3-.3 2.2,2.1 2.5,.6 2.5-.5 2.5,1.2 2-.2 1.7,3.6 1.3,.3 1.2,.6 1,4.1 .9,2.2 .8,2.1 .7,.3 .5,.5 .4,5.1 .3,2.4 .4,.7 .4,2.6 .4,3.2 .5,3.8 .6-.2 .6,1.1 .6,5.2 .6,1.8 .7,1.2 .6,2.3 .6,3 .7,3.3 1.2-.6 .9-2.8 .6,0 .4-2.3 .5-2.9 .4-4 .3-1.9 .4-.3 .3-5.2 .3-3.5 .3-.5 .3-2 .3-2.8 .4-4.1 .3-.4 .4-.5 .4-4.9 .4-2.6 .4-1.7 .5-2.5 .4-3.3 .5-5.1 .6-1.2 .8-.9 2-2.8 1.2,2.1 1,3.2 .6,4.4 .5,2.4 .4-.6 .4,4.2 .4,3.9 .4,.6 .5,1.5 .4,2.4 .6,4.5 .5,1.6 .6,.3 .6,4.7 .6,3.3 .5,2.1 .3,2 .2,2.1 0,5.2 .3,1.8 .6,.2 1.1,2.3 .8-1.4 .1-2.9 0-3.7 .1-4 0-.2 0-2 0-4.5 0-1.6 .1-1.8 0-1.3 .1-3.4 .1-4.6 .2-.3 .4-2.4 1.1-4.1 1.1-1.9 2.5,.4 2.3,2.3 2-.4 1.6,1.4 1.4,5.5 1.1,2.1 .9,1 .8,2.1 .7,2.5 .5,3.9 .5,.3 .4,.7 .3,4.1 .3,2.6 .2,2.3 .2,1.2 .2,3.1 .2,5.6 .2,1 .2,1.4 .2,4.4 .3,3.4 .2,2.1 .4,.1 .9,.3 .4-.5 .2-2.3 .2-5 .2-2.5 .2-1.6 .1-1 .2-4 .2-3.8 .1,.7 .2-2.6 .1-4.4 .2-2.5 .2-2.1 .2-1.4 .2-4.6 .3-3.5 .3-.1 .9-2.5 1.1-2.5 1.4-.1 1.9,1.6 .9,4.4 .7,1.5 .5,0 .6,4.4 .4,2.9 .6,1.6 .4,1.2 .4,2 .4,4.8 .3,1.7 .4,1 .9,2.1 .4-.7 .2-1.6 .2-3.6 .2-3.9 .2,.2 .1-2.6 .2-5.1 .2-2.3 .1-2.2 .2-1.9 .2-3.9 .3-4.1 .3-.1 .3-2.3 .4-3.7 .5-2.5 .6-1.6 1,.3 1.3-4 1.7-3.1 1.5,.1 1.4-2.9 1.4-3.5 1.3-2.3 1.3-.9 1.3-.3 1.4-4.2 1.9-3.3 2.3,2.5 2.4-.5 2.4-1.4 1.5-3.8 1.6-1.1 1.5,.9 2.3-4 2.5-1.7 2.4,1.5 2.5,1 2.5-1 2.1-2.9 1.9,.7 1.6,.6 1.7-5 1.6-2.7 1.9-.4 2.1,.7 2.3,.4 2.2-1.3 2.2-1 2.2,1.4 2,.1 1.7,.7 1.6,2.7 1.7,3 1.8,3.2 1.9-2.1 2.3,2.1 2.4,1.9 1.3-3.6 1.1-3.3 1-3.4 1.1-1.2 1.4-.4 1.8-4.1 2.5-1.2 2.2,2.7 2,2.3 1.7,2.4 1.7-.9 1.4,4.1 1.3,4.1 1.4-.4 1.6,1.9 2.2,1.1 1.8-1.8 1.7-1.7 1.9-4 1.8,3.6 1.8,2.5 1.7,.5 2.2,2.5 2.3,.9 2.5,.8 2.4,.8 2.4-4 2.3-.1 2.4,.8 2.5-.3 2.5-2.2 2.5-.2 2.5,3.5 2.4-.7 2.4-2.1 2.4,3.6 2.5,2.6 2.5-2.4 2.4-.5 2.4-1 2.4,.4 2.3-2.1 2.4-2.5 2.4,.6 2.4-.5 2.3,2.5 .5,.2" fill="none" stroke="#000" stroke-width="1.15" stroke-dasharray="9 2"/>
<path d="M127,963.5l2-.8 2-1 2,1.2 1.9,1.2 2,.1 2,.2 2-1.3 2-2.5 2-.1 1.9-.6 2,.5 2,2.2 2-.7 2,.2 2-.1 2-1.9 2,1.3 2,.3 2,0 2,1.3 2-1.6 2-1 2,0 2-.6 2,1.4 2,1.6 2-.2 2-.1 1.9-1.4 1.9-2.6 1.9-.8 1.4-.9 1.3-1.5 1.3,.5 1.2-1.9 1.6-1.9 2,.1 1.9-1.9 2,.5 1.8,.8 1.7-1.8 1.9,.3 1.4,.3 1-.3 .9,1.5 1,1.9 1.4,1.9 1.9,1.6 1.7-.2 1.6-2.2 1.5-1.4 1.4-3.2 1.4-2.5 1.3,0 1.2-2 1.2-.3 1.3-.8 1.3-3.4 1.5-.9 1.7-1.1 1.8-.7 1.3,.4 .6-1.5 .4-2.3 .4-2.2 .3-3.7 .4-3.2 .3-1 .4-1.5 .4-.6 .6-.2 1-3 1.3-1.6 1.8,.2 1.1-.4 .9,3.1 .9,2.4 1.3,1.4 1.6,.9 1.5-1.6 1.2-3 1.1-1.4 1.1-1.3 1.1-1.4 1.1,.3 1.1-2.1 1.1-2.8 1.2-1.8 1.3-3.9 1.9-.2 1.9,1.1 2-.2 2,1.9 1.7-1.1 1.7-2.6 1.6-1.1 1.6-2.6 1.6-1.1 1.5,.2 1.6-1.5 1.5-1 1.5-1.7 1.6-2.7 1.6-1 1.8,.2 1.8-.5 1.5,.3 1.3-1.4 1-3.6 1.1-2 1-3.3 1.2-2.1 1.2,.7 1.2-1.5 1.2-.4 1.2-1 1.3-3.8 1.2-1.3 1.4-1.9 1.6-1.4 1.9,1.2 1.6-1.4 1.2-2.1 .6-2.1 .4-3.2 .4-2.2 .4-.4 .3-1.3 .5-1 .6-1.3 1.3-2.8 2-.9 2-.5 .8-3.1 .5,0 .4-.9 .4-1.9 .3-1 .3-3.4 .4-2.9 .4-1.4 .4-2.1 .5-1.2 .6-1 .7-3 .7-2.7 .6-2.2 .7-2.9 .7-.3 .5-.3 .6-2 .4-.8 .3-3.6 .4-3.9 .3-1.6 .3-3.1 .4-.6 .4-.2 .4-2.8 1-.7 1.7,.5 .9,.5 .8,2.3 .9,2.6 1,1.8 1.3,2.4 1.6,.5 1.7-.8 1.7,1.3 1.2-1.4 1.3-1.5 1.1,1.1 1.1-1.6 .9-1.3 .8-1.9 .7-4.3 .7-2.3 .6-1.9 .6-1.9 .5-.3 .6-1.4 .7-2.7 .6-1.9 .7-2.6 .6-2.4 .6-.1 .7-1.7 .8-1.9 1-1.3 1.4-3.7 1.8-1.3 1.9-.2 2-.9 1.7,1.7 1.4-.5 1.3-2.1 1.3-1.3 1.6-3.2 1.8-.9 .4,2.7 .3,2.1 .3,2.8 .3,2.9 .1,.9 .2,1.4 .1,2.2 .1,1.4 .2,3.5 .1,3.2 .1,1 .1,2.4 .1,.2 .1,.3 .2,3.3 .1,1.8 .1,3.8 .1,3.6 .1,.8 .1,2 .1,.8 .1,.7 .2,3.1 .1,2.3 .1,2.4 .2,2.6 .1,.9 .1,1.1 .1,2.5 .2,2 .1,3.2 .1,3.5 .2,.9 .1,1.5 .1,1 .2-.1 .1,3.4 .1,2.6 .2,2.8 .1,4 .2,.6 .1,1.4 .1,1.7 .2,.5 .1,3.4 .1,2.7 .2,1.6 .1,2.6 .1,.7 .2,1 .1,2.8 .1,2.5 .2,3 .1,3.4 .1,1 .1,.8 .2,1.4 .1,.2 .1,3 .2,3.5 .1,2 .1,3.8 .2,1 .1,.5 .1,2.7 .2,.8 .1,2.9 .1,3.4 .1,.8 .1,2.3 .2,.9 .1,.8 .1,3.2 .1,2.8 .2,2.9 .1,3.3 .1,1 .2,.4 .1,1.4 .2,.9 .1,2.5 .2,4 .2,1.9 .3,2.7 .2,1.8 .3,0 .5,2.8 .6,1.8 .8,1.9 1.4,3.3 1.9-.7 1.9-.6 1.4,1 1,.3 .3,3 .3,3.6 .2,2.5 .3,3 .2,1.4 .1,0 .2,1.5 .2,1.6 .2,1.9 .2,4.1 .2,2.1 .2,1.7 .1,2.5 .2,0 .2,2.4 .1,3.2 .2,1.4 .1,3.7 .2,1.1 .2,.2 .1,2.2 .2,.7 .3,2.9 .3,4.1 .7,.6 .3-2.4 .3-.9 .2-3.5 .2-3.9 .2-1.4 .2-2.8 .2-.9 .3-.5 .4-2.7 .6-2 .7-2.2 1.4-1.1 1.1,1.8 .9,3.7 .8,1.4 .7,2.5 .8,1.5 .7-.7 .8,2.2 .7,1.5 .7,2.2 .7,4.6 .8,1.7 .9,1.9 1.5,.6 1.2-3.2 1-2.6 .9-1.1 1.2-1.5 1.5-.4 1.9,2 1.8-.9 2,.4 1.8,.4 1.6-2.3 1.2,.7 1.1-1.1 1.1-2.2 1.1-1.2 1.1-4 1.2-2.6 1.1-1 1.2-1.7 1.2,.3 1.2-.3 1.2-2.2 1.3-1.9 1.2-2.6 1.3-2.8 1.3-.7 1.3-.8 1.3-1.6 1.2-.6 1.2-2.9 1.6-2.2 1.6,.8 1.4,.7 1,3.1 .9,3.5 1,.8 .9,1.8 .9,.3 .8,0 .9,2.5 .9,2.4 1,2.7 1,3.3 1,1.4 1.2,.5 1.3,1.4 1.6,0 1.9-.1 1.7,.8 1.5-2.1 1.6-.8 1.5-1.4 1.8-3.2 1.7,.1 1.8-.7 1.8-.3 1.8,1.5 1.9-1.4 2-.8 2-.7 2-2 1.9-.2 1.6,.1 1.4-.8 1.4-.3 1.3-1.3 1.2-3.1 1.3-1.7 1.2-1.7 1.2-2.1 1.2,.3 1.2-1.9 1.2-2.5 1.1-1.3 1.2-3.7 1.2-1.2 1.2,0 1.4-1.4 1.7,1 1.9-.8 2-1.5 1.9,.1 1.7-.5 1.7,.9 1.4,3.1 1.4,1.9 1.2,2.2 1.1,2 1,.3 1,1.2 1,2.5 1.1,1.3 1.4,2.7 1.6,1.6 2-1.4 1.9,0 2-1.8 1.9-1.1 1.9,1.8 1.9-.5" fill="none" stroke="#D20814" stroke-width="5.6" stroke-linejoin="round"/>
<path d="M127,957.4l2.5-1.2 2.5,.3 2.4,.2 2.5,1.2 2.5,.6 2.5-3.6 2.5-.4 2.4-.4 2.5-.8 2.5,2 2.5,.7 2.5-1.8 2.5,.5 2.5,0 2.5-.8 2.5,2.3 2.5-2.9 2.5-.5 2.5,1.1 2.5,.4 2.5,.2 2.5,1.1 2.4-2.5 2.4-2.4 2.4,.6 1.6-2.6 1.6-1.2 1.5-1.6 2.1-.8 2.4-2.5 2.5-1.2 2.3,3.2 2.1-3.4 2.3,.9 1.4,.4 1.1,1.8 1.4,1.5 2,.7 2.2,1.7 2-1.3 1.8-3.2 1.8-3.9 1.7-1 1.5-.9 1.5-.9 1.7-4.3 1.7-3.1 2.1,.3 2.2-1.8 1.2-.4 .6-3.4 .5-2.7 .4-4.2 .4-2.8 .5-1.3 .5-.7 .8,1.1 1.4-3.8 2.2-3.6 1.4,.3 1.1,3.8 1.3,2.8 1.9,.9 1.9-3.7 1.4-1.9 1.5,.6 1.4-2.9 1.3-1.2 1.4-2.8 1.3-3.7 1.7-2.7 2.2-2.3 2.4-1.4 2.5,3.7 2.3,1.1 2.1-4.8 2-.5 2-2 2-3.8 1.9-.6 1.9-.1 1.9-1.1 2-5.8 2.2,3 2.2-.1 1.8-2.2 1.4-4.2 1.3-3.7 1.3-2 1.5-.5 1.5-2.3 1.5-2.4 1.6,1.3 1.5-4 1.7-1.4 1.9-4.9 2.3,.7 2.1-.2 .7-4.3 .6-4.2 .5-3.1 .4-1.1 .6-1.8 .7-.7 1.8-1.6 2.5,1.5 1.6-5.7 .7-3.3 .5-.6 .4-1.9 .4-.9 .5-4.1 .5-1.4 .6-2.1 .7-.5 .8-3.8 .8-4.9 .9-3.1 .8-2.7 .7-.8 .7-2.8 .5-.8 .4-3.9 .4-2.1 .4-2.5 .5,0 .5-.4 1.1-2.9 1.9-1.8 1.1,1.7 1.1,4.6 1.2,1.8 1.7,3.4 2.1-2.3 2.1,.3 1.6,3.3 1.5-3.5 1.5,.6 1.2-1.7 1-1 .9-3.5 .8-2.9 .7-1.2 .7-1.5 .8-1.3 .8-5.2 .8-3 .8-3.4 .8,.5 .9-.5 1.1-1 1.7-2.6 2.3-2.8 2.4,2.3 2.3,.2 1.8,.5 1.7-.7 1.7-.7 2.2-2.1 .8,1.3 .4,3.4 .4,2.3 .2,3.7 .2,.9 .1,2.9 .2,1.3 .2,4.3 .1,3.2 .2,2.5 .1,.9 .1,.6 .2,3.9 .1,3.2 .1,5 .2,1.5 .1,2.6 .2,.8 .1,2.8 .2,3.3 .2,3.3 .1,2.8 .2,.6 .1,3.2 .2,2.6 .2,5 .1,1.5 .2,1.9 .2,.6 .1,2.1 .2,3.5 .2,3.4 .2,4.3 .1,.7 .2,2.1 .2,.8 .1,4.4 .2,2.6 .2,2.4 .1,1.3 .2,1.8 .2,3.7 .1,2.8 .2,4.4 .1,.9 .2,1.9 .2,0 .1,3.5 .2,3.8 .2,3.8 .1,2.3 .2,.7 .2,3 .1,1.9 .2,4.2 .1,1.5 .2,2.7 .1,.8 .2,2.7 .1,3.8 .2,3.8 .2,3.3 .1-.1 .2,1.9 .2,1.4 .3,4.8 .2,2.8 .3,3.6 .4,1.8 .6,1.7 .8,2.2 1.6,1.3 2.2,3.5 2.4-1.2 1.4,1.7 .7,.6 .4,4.1 .3,3.5 .3,3.1 .2,2 .2,.4 .2,2.2 .3,1.7 .2,5 .3,2.5 .2,3.1 .2,.7 .2,2.9 .2,3.6 .2,3 .2,2.7 .2,.5 .2,2.7 .3,1.6 .6,4.8 .7-1.9 .3-1.8 .3-4.5 .2-4.5 .3-2.3 .2-2.1 .4-.7 .6-3.7 .7-1.8 1.7-1.5 1.4,3 1,3.8 1,2.5 .9,1.7 .9-.9 .9,2.9 .9,2.8 .9,5.2 1.1,2.1 1.1,2 1.9-2.5 1.3-4.4 1.2-1 1.6-.7 2.2,1.1 2.3-.2 2.4,.6 2.2-.9 1.7-2.5 1.4,.2 1.4-1.8 1.3-2.2 1.5-5.5 1.4-1.6 1.5-1.7 1.5,1.3 1.5-1.5 1.6-4.1 1.5-2.9 1.6-2.4 1.6-.6 1.7-2.7 1.5-.8 1.6-3.5 2.1,.2 1.8,.7 1.2,3.2 1.2,4 1.2,1.1 1.1,1.3 1,.3 1.1,3.6 1.2,1.5 1.3,4.1 1.3,2.4 1.5,2.4 1.9-.3 2.3-.8 2.1,1.1 1.9-1.8 1.9-2.6 2.2-2.9 2.2,.1 2.2-.8 2.3-.2 2.3,1.4 2.5-2.5 2.5-1.1 2.5-1.9 2,.5 1.7-1.8 1.7,.6 1.6-2.7 1.6-3.2 1.5-2.6 1.5-2.2 1.5-.6 1.5-2.2 1.4-2.3 1.5-5 1.5,.1 1.7-.5 2.2,1 2.4-2.4 2.4-.3 2.2-.1 2,.2 1.8,4.2 1.6,2.4 1.4,4 1.2-.2 1.3,1.4 1.3,1.9 1.7,4 2.1,1.3 2.4-2.2 2.5-.2 2.4-1.7 2.3,1.2 1.5,0" fill="none" stroke="#000" stroke-width="1.15" stroke-dasharray="9 2"/>
<path d="M127,970.5l2.5-2.4 2.5-.4 2.4,2.9 2.5,.2 2.5-.9 2.5-3 2.5,.5 2.4,.1 2.5,.4 2.5,.4 2.5,.6 2.5,.6 2.5-2.6 2.5,.3 2.5,.8 2.5,2.9 2.5-1.7 2.5-2 2.5-.2 2.5,1.8 2.5,2.1 2.5-2 2.4-.5 2.4-2.8 2.4,1.1 1.6-2.7 1.6-.2 1.5-2 2.1-2.8 2.4,.8 2.5-1.2 2.3,.6 2.1-3.2 2.3,1.6 1.4,1.6 1.1,1.5 1.4,1.8 2,2.3 2.2,0 2-2 1.8-.8 1.8-4.3 1.7-1.3 1.5-2.4 1.5-2.3 1.7-.8 1.7-1.5 2.1-.3 2.2,.1 1.2-.6 .6-3.7 .5-2.9 .4-4.5 .4-3.1 .5-1.7 .5-1.2 .8,.7 1.4-2.5 2.2-.4 1.4,.7 1.1,2.5 1.3,1.2 1.9,.4 1.9,.6 1.4-3.3 1.5,0 1.4-1.4 1.3-.1 1.4-4.4 1.3-2.4 1.7-3.4 2.2-.7 2.4,3.3 2.5-3.2 2.3,.4 2.1-2.9 2,1.1 2-2.8 2-1.9 1.9-.6 1.9-2.5 1.9-.7 2-1.6 2.2-2 2.2-1.3 1.8-1.2 1.4-3.3 1.3-.6 1.3-2.5 1.5-2.7 1.5-.3 1.5-1.2 1.6-2.1 1.5-4.2 1.7,1.5 1.9-2.2 2.3-.1 2.1-3.8 .7-4 .6-3.7 .5-2.5 .4-.2 .6-.9 .7,.1 1.8-1.3 2.5-1 1.6-2.4 .7-3.4 .5-1.2 .4-2.6 .4-1.6 .5-4.7 .5-1.8 .6-2.1 .7,.6 .8-1.7 .8-3.8 .9-3.5 .8-2.2 .7,.5 .7-2.5 .5-1.7 .4-5.4 .4-3.7 .4-4.1 .5-1.6 .5-2 1.1-3.7 1.9,4.1 1.1,.7 1.1,4.1 1.2,2.9 1.7,3.8 2.1-2.3 2.1,.7 1.6-.3 1.5-2.5 1.5,1.1 1.2-1.6 1-3.6 .9-5.8 .8-4.8 .7-3 .7-2.3 .8-.2 .8-3.3 .8-2.7 .8-4.3 .8-.3 .9-.9 1.1-1.8 1.7-4.2 2.3-4.5 2.4-.9 2.3-.9 1.8,.8 1.7-3.9 1.7-3.2 2.2-3.8 .8,1.5 .4,3.5 .4,2.5 .2,3.9 .2,1 .1,3 .2,1.4 .2,4.3 .1,3.3 .2,2.5 .1,.9 .1,.6 .2,3.9 .1,3.2 .1,5 .2,1.4 .1,2.6 .2,.7 .1,2.7 .2,3.2 .2,3.3 .1,2.7 .2,.5 .1,3.1 .2,2.5 .2,5 .1,1.5 .2,1.8 .2,.6 .1,2 .2,3.5 .2,3.5 .2,4.3 .1,.7 .2,2.1 .2,.9 .1,4.4 .2,2.6 .2,2.5 .1,1.3 .2,1.8 .2,3.8 .1,2.9 .2,4.4 .1,.9 .2,1.9 .2,.1 .1,3.5 .2,3.9 .2,3.7 .1,2.4 .2,.7 .2,3 .1,1.9 .2,4.2 .1,1.5 .2,2.7 .1,.8 .2,2.7 .1,3.7 .2,3.9 .2,3.2 .1-.1 .2,1.9 .2,1.2 .3,4.8 .2,2.7 .3,3.6 .4,1.8 .6,2 .8,2.9 1.6,2 2.2,2.2 2.4-2.1 1.4,1.2 .7,1 .4,4.6 .3,3.8 .3,3.3 .2,2.2 .2,.5 .2,2.3 .3,1.7 .2,5.1 .3,2.5 .2,3 .2,.6 .2,2.8 .2,3.5 .2,3 .2,2.5 .2,.3 .2,2.6 .3,1.4 .6,4.7 .7-1.5 .3-1.5 .3-4.2 .2-4.3 .3-2.1 .2-2.1 .4-.8 .6-4 .7-2.2 1.7-1.6 1.4,3.2 1,3.9 1,2.6 .9,2.2 .9-.5 .9,2.5 .9,2 .9,4.6 1.1,1.9 1.1,2.2 1.9-1.2 1.3-4.1 1.2-1.3 1.6-1.6 2.2,1.6 2.3-.6 2.4,1.1 2.2-.4 1.7-1.3 1.4-1.2 1.4-3 1.3-1.9 1.5-4.6 1.4-1.9 1.5-1.3 1.5,.8 1.5-2 1.6-3.6 1.5-2.3 1.6-2.9 1.6-.1 1.7-1.8 1.5-.6 1.6-4.5 2.1-1.3 1.8,1.4 1.2,3.7 1.2,4.2 1.2,1.5 1.1,1.3 1-.6 1.1,3.5 1.2,2.3 1.3,4.4 1.3,1.8 1.5,1.7 1.9,1.4 2.3-1 2.1,.3 1.9-2.7 1.9-1 2.2-2.6 2.2-1 2.2-.8 2.3,.1 2.3,.9 2.5-.8 2.5-1.2 2.5-3.3 2,.5 1.7-.4 1.7-.2 1.6-3.6 1.6-2.4 1.5-3 1.5-1.6 1.5-.1 1.5-2.5 1.4-1.9 1.5-3.8 1.5-1.1 1.7-1.9 2.2,1.1 2.4-.8 2.4-.9 2.2-.4 2,.2 1.8,4.7 1.6,2 1.4,3.9 1.2,.7 1.3,2.3 1.3,.8 1.7,2.8 2.1,2.1 2.4-1.3 2.5-.5 2.4-3.1 2.3,1.9 1.5-.2" fill="none" stroke="#000" stroke-width="1.15" stroke-dasharray="9 2"/>
<path d="M127.2,921.1l1.4,1.4 1.8,2 2.2,2.3 2.4,2.4 2.5,2.6 2.4,2.4 2.1,2 2.1,2.1 2.2,2.1 2.2,2.2 2.3,2.1 2.3,1.9 2.3,1.9 2.7,1.9 2.8,1.8 2.7,1.6 2.9,1.6 2.8,1.7 2.8,1.7 2.8,1.9 2.9,2 2.8,2 2.9,2 2.8,1.9 2.7,1.8 2.6,1.7 2.6,1.5 2.5,1.5 2.5,1.5 2.6,1.4 2.8,1.5 2.9,1.5 3,1.6 3.2,1.5 3.1,1.5 3,1.5 2.9,1.5 3.2,1.6 2.9,1.6 2.9,1.5 3,1.4 3.3,1.5 3.1,1.1 3.2,1.2 3.4,1.1 3.4,1.1 3.3,1 3.2,1 3.4,1.1 3.3,1.1 3.2,1.1 3.2,.9 3.6,.9 3.3,.6 3.4,.5 3.6,.5 3.6,.4 3.5,.4 3.3,.3 3.2,.3 2.9,.3 3,.3 2.9,.2 3,0 3.1-.2 2.9-.3 3-.4 3.2-.6 3.1-.6 3.1-.8 2.8-.9 2.6-1.1 2.9-1.6 2.4-1.8 2.2-2 2.4-2.7 3.2-3.5 1.6-1.8 1.8-2 1.8-2.1 2-2.3 2-2.4 2.1-2.4 2.1-2.6 2.1-2.6 2.2-2.6 2.1-2.6 2.1-2.6 2-2.5 1.9-2.3 1.9-2.4 2-2.5 2-2.6 2-2.5 2-2.6 2-2.5 1.9-2.5 1.9-2.4 1.7-2.3 1.7-2.3 1.5-2.1 1.4-2 2.3-3.8 1.8-3.4 1.3-3 1.2-2.7 1.3-2.6 1.6-2.6 2-2.5 2.2-2.2 2.2-2.1 2.3-2 2.4-2.1 2.3-2.1 2.3-2.4 2.4-2.4 2.4-2.4 2.4-2.4 2.4-2.4 2.4-2.2 2.4-2.1 2.4-2 2.3-2 2.4-1.9 2.4-1.9 2.4-1.7 3.1-2 3.2-2 3.2-1.8 3.1-1.6 2.7-1.3 3.8-1.6 3.2-1 3.5-.3 3.2,.2 3.4,.4 3.5,.9 3.3,1.4 2.5,1.6 2.4,1.9 2.5,2.2 2.4,2.2 2.6,2.3 2.3,1.8 2.3,2 2.3,2 2.5,2 2.4,2 2.5,1.8 2.6,1.6 2.7,1.4 2.7,1.4 2.8,1.4 2.8,1.5 2.7,1.7 2.7,2 2.8,2.1 2.8,2.3 2.7,2.2 2.7,2.2 2.5,1.9 3.1,2.2 3.1,2.1 3,2 2.4,1.6 1.8,1.2" fill="none" stroke="#FFC000" stroke-width="4.4" stroke-dasharray="19.2 19.2"/>
<path d="M127.2,969.7l1.6,0 1.9,0 2,0 2.3,0 2.4,0 2.7,0 2.8,.1 2.9,0 3.1,0 3.2,0 3.3,0 3.4,0 3.4,0 3.6,.1 3.6,0 3.6,0 3.7,0 3.7,0 3.7,0 3.6,0 3.7,0 3.6,0 3.6,0 3.4,0 3.5,0 3.3,0 3.2,0 3.1,0 2.9,0 2.9,0 2.6-.1 2.5,0 2.3,0 2.1-.1 1.9,0 8.2-.3 4.7-.5 2.3-.5 1-.6 1-.7 1.9-.7 3-.8 2.7-.8 2.6-.9 2.7-1.1 3.3-1.4 2.4-1.1 2.7-1.3 2.8-1.4 3-1.4 2.9-1.5 2.9-1.4 2.8-1.3 2.5-1.1 3.6-1.6 3.2-1.3 3.1-1.2 3.1-1.2 3.2-1.3 2.9-1.1 3-1.2 3-1.1 3-1.3 2.8-1.3 2.5-1.6 2.7-2.1 2.3-2.2 2.2-2.5 2.1-2.6 2.2-2.9 1.8-2.5 1.8-2.5 1.9-2.7 1.8-2.9 2-3.2 2.1-3.6 1.4-2.3 1.4-2.5 1.5-2.5 1.5-2.6 1.5-2.8 1.6-2.8 1.6-3 1.6-3.1 1.6-3.3 1.6-3.4 1.2-2.5 1.2-2.7 1.2-2.7 1.2-2.9 1.3-2.9 1.3-3 1.2-3 1.3-3 1.2-3.1 1.3-3.1 1.2-3.2 1.2-3.1 1.2-3.1 1.2-3 1.1-2.9 1.1-3 1.1-3.2 1.1-3.2 1.1-3.2 1-3.2 1.1-3.2 1.1-3.2 1-3.1 1-3 1-2.9 .9-2.7 1-2.6 .8-2.4 .9-2.1 2-4.4 1.8-3.4 1.6-2.7 1.5-2.1 1.4-1.7 1.2-1.6 2.7-2.9 2.1-.7 2.5,0 2.3,1.8 1.1,1.9 1,2.9 1.7,5 .8,2 .9,2.2 1,2.5 1,2.6 1.2,2.8 1.1,3 1.2,3.1 1.1,3.2 1.1,3.4 1.1,3.4 .8,2.6 .7,2.7 .8,2.8 .7,2.9 .8,2.9 .7,3.1 .8,3.1 .7,3.1 .8,3.1 .7,3.1 .8,3.2 .7,3.1 .8,3 .7,3 .8,3 .7,3 .8,3.1 .7,3.1 .8,3 .7,3.1 .8,3.1 .7,3 .8,3 .7,2.9 .8,2.9 .7,2.8 .8,2.7 .7,2.6 1.1,3.6 1.1,3.4 1,3.4 1.1,3.2 1.1,3.1 1,3 1.1,3 1,2.8 1,2.7 1,2.7 1.5,3.6 1.4,3.6 1.5,3.4 1.4,3.1 1.3,2.9 1.3,2.4 1.2,2 3.5,2.7 3.2,.2 3.1,0 3.6,0 2.9,.6 3.4,1 4.2,1.3 2.6,.8 2.9,.9 3.1,.9 3.2,1 3.2,1 3.1,1 3,.9 3,.9 3,.9 3,.9 3,.8 3.2,.9 3.3,.8 3.5,.8 3.6,.8 3.5,.8 3.3,.6 2.8,.5 4.9,.4 3.9,0 2.7,0" fill="none" stroke="#0062FF" stroke-width="4.4" stroke-dasharray="19.2 19.2"/>
</g>
<line x1="127.2" y1="752.2" x2="558.0" y2="752.2" stroke="#262626" stroke-width="3.4"/>
<line x1="127.2" y1="1042.2" x2="558.0" y2="1042.2" stroke="#262626" stroke-width="3.4"/>
<line x1="222.7" y1="752.2" x2="222.7" y2="757.7" stroke="#262626" stroke-width="3.4"/>
<line x1="222.7" y1="1042.2" x2="222.7" y2="1036.7" stroke="#262626" stroke-width="3.4"/>
<line x1="318.2" y1="752.2" x2="318.2" y2="757.7" stroke="#262626" stroke-width="3.4"/>
<line x1="318.2" y1="1042.2" x2="318.2" y2="1036.7" stroke="#262626" stroke-width="3.4"/>
<line x1="413.8" y1="752.2" x2="413.8" y2="757.7" stroke="#262626" stroke-width="3.4"/>
<line x1="413.8" y1="1042.2" x2="413.8" y2="1036.7" stroke="#262626" stroke-width="3.4"/>
<line x1="509.3" y1="752.2" x2="509.3" y2="757.7" stroke="#262626" stroke-width="3.4"/>
<line x1="509.3" y1="1042.2" x2="509.3" y2="1036.7" stroke="#262626" stroke-width="3.4"/>
<line x1="127.2" y1="750.5" x2="127.2" y2="1043.9" stroke="#C00010" stroke-width="3.4"/>
<line x1="127.2" y1="1042.2" x2="132.7" y2="1042.2" stroke="#C00010" stroke-width="3.4"/>
<line x1="127.2" y1="938.6" x2="132.7" y2="938.6" stroke="#C00010" stroke-width="3.4"/>
<line x1="127.2" y1="835.1" x2="132.7" y2="835.1" stroke="#C00010" stroke-width="3.4"/>
<line x1="558.0" y1="750.5" x2="558.0" y2="1043.9" stroke="#0062FF" stroke-width="3.4"/>
<line x1="558.0" y1="1042.2" x2="552.5" y2="1042.2" stroke="#0062FF" stroke-width="3.4"/>
<line x1="558.0" y1="969.7" x2="552.5" y2="969.7" stroke="#0062FF" stroke-width="3.4"/>
<line x1="558.0" y1="897.2" x2="552.5" y2="897.2" stroke="#0062FF" stroke-width="3.4"/>
<line x1="558.0" y1="824.7" x2="552.5" y2="824.7" stroke="#0062FF" stroke-width="3.4"/>
<line x1="558.0" y1="752.2" x2="552.5" y2="752.2" stroke="#0062FF" stroke-width="3.4"/>
<text x="97.48" y="1053.60" font-family="'Liberation Serif', 'DejaVu Serif', serif" font-size="46" fill="#C00010" textLength="22.43" lengthAdjust="spacingAndGlyphs">0</text>
<text x="75.06" y="950.03" font-family="'Liberation Serif', 'DejaVu Serif', serif" font-size="46" fill="#C00010" textLength="44.85" lengthAdjust="spacingAndGlyphs">50</text>
<text x="52.63" y="846.46" font-family="'Liberation Serif', 'DejaVu Serif', serif" font-size="46" fill="#C00010" textLength="67.27" lengthAdjust="spacingAndGlyphs">100</text>
<g clip-path="url(#c8)">
<line x1="754.7" y1="752.2" x2="754.7" y2="1042.2" stroke="#D5D5D5" stroke-width="1.4"/>
<line x1="850.2" y1="752.2" x2="850.2" y2="1042.2" stroke="#D5D5D5" stroke-width="1.4"/>
<line x1="945.8" y1="752.2" x2="945.8" y2="1042.2" stroke="#D5D5D5" stroke-width="1.4"/>
<line x1="1041.3" y1="752.2" x2="1041.3" y2="1042.2" stroke="#D5D5D5" stroke-width="1.4"/>
<line x1="659.2" y1="969.7" x2="1090.0" y2="969.7" stroke="#FF9AA3" stroke-width="1.4"/>
<line x1="659.2" y1="897.2" x2="1090.0" y2="897.2" stroke="#FF9AA3" stroke-width="1.4"/>
<line x1="659.2" y1="824.7" x2="1090.0" y2="824.7" stroke="#FF9AA3" stroke-width="1.4"/>
<path d="M659,816.4l3.8,1.2 3.8,1.2 3.9,.6 4,.6 3.9,.9 3.8,.9 3.9,.9 3.9,.8 3.8-.6 3.6-1.9 3.4-.8 2.5,3.1 3.1,.8 4-.7 3.1,2.2 2.6,3 2.9,2.8 3.2,2.3 3.4,2.1 3.7,1.7 3.8,1.3 3.9,1.2 4,.7 3-2.1 2.5,2.7 2.5,3.1 3.7,1.6 3.9,.6 4,0 3.7,1.5 3.3,2.3 3.3,1.8 3.5,1.5 3.7,.9 4-.2 4-1 3.8-1.6 3.7,.6 3.6,1.4 3.7,1 3.8,.7 3.7,1 3.5,.6 3.4,.6 3.2,.9 3.5-2.5 3.3-1.8 2.9,1.5 2.9-1.2 3.3-3.8 1.4,2.4 .5,3.7 1,3.4 3.3-1 2.9-3.2 2.4-3.5 1.8-3.8 1.3-4 1.1-4 1.1-4 1.4-3.9 2.6,2.2 2,5.7 1.8,5.6 1.7,5.6 1.4,5.5 1.2,5.1 .7,4.7 .5,4.6 .4,4.4 .4,4.5 .4,4.5 .6,4.3 .6,4.2 .5,4.2 .6,4.1 .5,4.2 .5,4.1 .4,4.2 .5,4.1 .4,4.1 .4,4.2 .4,4.1 .4,4.1 .4,4.1 1.3,.1 .7-3.7 .3-3.8 .4-3.9 .3-3.9 .4-3.8 .5-3.8 .6-3.7 .9-3.6 1-3.5 1.2-3.4 1.7-4 1.8-4.3 1.3-4.4 .8-4.3 .8-4.2 .7-4.3 .9-4.3 1.1-4.3 1.8-.7 .5,3.8 .4,3.8 .4,3.8 .4,3.8 1.3,2.6 1.4-3.9 .8-4.3 .5-4.2 .5-4.2 .4-4.1 .5-4.2 .6-4.2 .7-4.3 .9-4.3 .7-4.3 .7-4.2 .6-4.2 .6-4.2 .5-4.2 .6-4.3 .6-4.2 .6-4.2 .6-4.2 .5-4.2 .6-4.2 .5-4.3 .7-4.2 .7-4.2 1-4.2 2.2,.9 1,4.4 .7,4.3 .8,4.3 .6,4.3 .6,4.2 .6,4.3 .7,4.3 .7,4.2 .8,4.4 1.3,4.3 2.3-.3 1.5-2.9 1.5-3 1.4-3.4 1.4-3.6 1.7-3.4 1.8-3.4 1.6-3.5 1.4-3.5 1.4-3.6 1.7-3.5 2-3.2 2.4-2.9 2.8-2.5 3.1,1.6 2.3,3.5 2.6,3.3 3.1,2.4 3.9-.6 2.7,2.6 1.8,3.8 1.8,3.7 1.8,3.7 1.7,3.8 1.8,3.8 2.4,3.4 3.5,.2 3.2-2.4 3.7-.3 3.3,2.1 2.9,2.9 3.4,1.4 4,.2 3.8,.9 2.9-2.6 2.3-3.3 2.2-3.2 2.2-3.4 2.2-3.3 2.2-3.4 2.3-3.2 2.5-3.1 3.2-.6 2.8,2.8 3.4,1.6 4,0 4,.2 3.9,.7 3.9,1 3.8,1.3 3.6,1.6 3.4,2.2 2.9,2.7 2.6,3 3.3,.9 3.2-2.4 3.5-1.8 3.8-1.2 3.7-1.4 4,.2 3.7,1.5 3.6,1.8 .5,.2 0,20.2 -.5-.2 -3.6-1.7 -3.7-1.5 -4-.2 -3.7,1.4 -3.8,1.3 -3.5,1.7 -3.2,2.5 -3.3-.8 -2.6-3.1 -2.9-2.6 -3.4-2.1 -3.6-1.7 -3.8-1.2 -3.9-1 -3.9-.6 -4-.2 -4,0 -3.4-1.5 -2.8-2.9 -3.2,.7 -2.5,3.1 -2.3,3.3 -2.2,3.3 -2.2,3.4 -2.2,3.4 -2.2,3.3 -2.3,3.3 -2.9,2.6 -3.8-.9 -4-.1 -3.4-1.5 -2.9-2.8 -3.3-2.1 -3.7,.4 -3.2,2.4 -3.5,.1 -2.4-2.9 -1.8-3.4 -1.7-3.5 -1.8-3.4 -1.8-3.4 -1.8-3.4 -2.7-2.2 -3.9,1.4 -3.1-1.8 -2.6-2.8 -2.3-3.1 -3.1-1.1 -2.8,3.1 -2.4,3.5 -2,3.7 -1.7,3.8 -1.4,3.9 -1.4,3.9 -1.6,3.8 -1.8,3.8 -1.7,3.8 -1.4,3.9 -1.4,4.1 -1.5,4.5 -1.5,4.4 -2.3,2.6 -1.3-3.1 -.8-3.4 -.7-3.6 -.7-3.7 -.6-3.6 -.6-3.6 -.6-3.7 -.8-3.5 -.7-3.6 -1-3.4 -2.2,1.3 -1,3.6 -.7,3.6 -.7,3.7 -.5,3.7 -.6,3.7 -.5,3.7 -.6,3.7 -.6,3.7 -.6,3.7 -.6,3.7 -.5,3.7 -.6,3.7 -.6,3.7 -.7,3.7 -.7,3.6 -.9,3.5 -.7,3.6 -.6,3.7 -.5,3.7 -.4,3.8 -.5,3.8 -.5,3.7 -.8,3.6 -1.4,2.7 -1.3-3.9 -.4-4.1 -.4-4.2 -.4-4.1 -.5-4.2 -1.8-1.1 -1.1,3.4 -.9,3.5 -.7,3.6 -.8,3.6 -.8,3.5 -1.3,3.2 -1.8,2.8 -1.7,3.3 -1.2,4.2 -1,4.2 -.9,4.2 -.6,4.2 -.5,4.2 -.4,4.1 -.3,4.1 -.4,4.1 -.3,4.1 -.7,4.2 -1.3,.8 -.4-3.8 -.4-3.9 -.4-3.8 -.4-3.9 -.4-3.8 -.5-3.8 -.4-3.8 -.5-3.8 -.5-3.8 -.6-3.8 -.5-3.7 -.6-3.8 -.6-3.5 -.4-3.5 -.4-3.5 -.4-3.5 -.5-3.4 -.7-3.1 -1.2-2.6 -1.4-2 -1.7-1.6 -1.8-1.6 -2-1.1 -2.6,2.8 -1.4,3.5 -1.1,3.7 -1.1,3.8 -1.3,3.6 -1.8,3.2 -2.4,2.9 -2.9,2.5 -3.3-.4 -1-4.3 -.5-4.2 -1.4-3.7 -3.3,.8 -2.9-1.5 -2.9-4.2 -3.3-1.3 -3.5-.7 -3.2-3.9 -3.4-3.7 -3.5-2.9 -3.7-2 -3.8-1.8 -3.7-2 -3.6-2.4 -3.7-1.6 -3.8,.5 -4-.1 -4-.9 -3.7-2 -3.5-2.4 -3.3-2.7 -3.3-2.3 -3.7-1.1 -4,.3 -3.9-.2 -3.7-1.2 -2.5-2.9 -2.5-2.5 -3,2.4 -4-.4 -3.9-.7 -3.8-1 -3.7-1.4 -3.4-2 -3.2-2.4 -2.9-2.8 -2.6-3.1 -3.1-2.3 -4,.6 -3.1-.9 -2.5-3.2 -3.4,.7 -3.6,1.8 -3.8,.4 -3.9-.8 -3.9-1 -3.8-1.1 -3.9-1 -4-.7 -3.9-.8 -3.8-1.2 -3.8-1.4Z" fill="#FF0000" fill-opacity="0.12" stroke="none"/>
<path d="M659,950.4l3.8,1 3.8,.9 3.8,.9 3.8,1.1 3.4,1.7 3.7,1.3 3.7-.9 3.5-2.2 3.7-1.9 3.8-1.5 3.6-2 3.3-2.5 3.2-2.6 3.3-2.5 3.7-1 3.7,1.2 3.9,.2 3.9-.9 4,0 3.9,1.1 3.6,2 3.4,2.5 3.2,2.6 3.8,1.4 4,.2 4,.3 3.9,1.1 3.6,2 3,2.9 2.7,3.3 3,2.7 3.7,1.8 3.9,1.1 4,.9 3.8,1.2 3.4,2.4 3.3,2.5 3.4,2.3 3.6,2 3.9,.7 3.8-.9 2.7-2.7 3,.6 2.8,2.8 3.6,1.6 3.9,.4 3.7-1.5 3.5-.3 2.8,2.8 2.5,3.2 2.3,3.2 1.9,3.5 1.6,3.7 1.5,4.5 1.8,4.7 2.5,4.7 3,4.6 2.6,4.5 3.3,1.2 2.8-2.8 1.8-3.6 1.1-3.9 .8-3.9 .7-4 .7-4 .6-3.9 .6-4 .5-4 .6-4 .5-3.9 .7-4 .8-4 1.3-3.8 1.5-3.7 .7-4 .3-4 .2-4 .2-4 .2-4 .2-4 .3-4 1.2-3.8 1.7-3.6 .9-4 1.1-3.9 1.9-3.4 3.8-2 3.7-3.7 3.4-3.7 3.2-2.5 2.4-3.1 2.1-3.5 2.9-2.6 3.5-1.9 2-3.5 1.5-3.7 2.1-3.3 3.9,3.2 2.6-.6 1.4-3 1.2-3.1 .9-3.4 .8-3.5 .6-3.6 .5-3.6 .5-3.8 .4-3.7 .4-3.7 .4-3.8 .4-3.7 .4-3.9 .3-4 .3-3.9 .4-3.9 .6-3.8 1.4,2.8 .6,4.1 .5,4.1 .3,4 .4,4.1 .3,4 .3,4.1 .2,4 .3,4.1 .3,4 .3,4.1 .3,4 .3,4.1 .3,4 .3,4.1 .3,4 .3,4.1 .3,4 .3,4.1 .4,4 .3,4.1 .3,3.8 .3,3.8 .3,3.7 .3,3.8 .4,3.7 .3,3.7 .5,3.7 .4,3.7 .5,3.6 .5,3.7 .5,3.5 .8,3.4 2.5-1.5 1.6-4.8 2.2-5.1 2.7-5.3 3.3-1.8 3,2.5 3.5,2.3 2.7-1.8 2.4-2 2,3.7 1.6,3.9 1.7,3.8 1.8,3.8 1.9,3.8 2.1,3.6 3.3,2 3.9-.4 3.8-.4 4-.1 4,.8 3.9,.9 3.8,.8 3.6-1.1 3.2-2.6 3.9-1 3.9,.1 3.2,2 1.7,3.4 1.2,3.8 1.5,3.5 3.1-.6 2.3-3.5 1.5-3.7 1.2-4 1.8-3.6 3.5-2 3.9-1.4 3.7-1.7 3.2-2.6 3.1-2.7 3.2,0 2.1,3.3 1.8,3.4 1.8,3.6 1.7,3.8 2.1,3.5 2.7,3 2.8,3 2.6,3.3 2.9,2.8 3.2-.6 1.9-3.4 1.9-3.4 2.1-3.3 2.3-3.1 3.2-2.2 .9-.3 0,29.2 -.9,.4 -3.2,2.6 -2.3,3.4 -2.1,3.5 -1.9,3.6 -1.9,3.7 -3.2,1.1 -2.9-2.5 -2.6-2.9 -2.8-2.7 -2.7-2.7 -2.1-3.2 -1.7-3.5 -1.8-3.6 -1.8-3.7 -2.1-3.5 -3.2-.5 -3.1,2.3 -3.2,2.1 -3.7,1.2 -3.9,.8 -3.5,1.5 -1.8,3.4 -1.2,3.7 -1.5,3.6 -2.3,3.2 -3.1,.2 -1.5-3.8 -1.2-3.9 -1.7-3.7 -3.2-2.5 -3.9-.7 -3.9,.5 -3.2,2.1 -3.6,.7 -3.8-1.5 -3.9-.6 -4,.2 -4,1.1 -3.8,1.4 -3.9,1.4 -3.3-1.1 -2.1-3.2 -1.9-3.2 -1.8-3.4 -1.7-3.4 -1.6-3.5 -2-3.1 -2.4,2.6 -2.7,2.5 -3.5-1.4 -3-2.9 -3.3-4.1 -2.7,.6 -2.2,1.6 -1.6,2.5 -2.5-2 -.8-4.4 -.5-4.4 -.5-4.3 -.5-4.3 -.4-4.3 -.5-4.2 -.3-4.3 -.4-4.2 -.3-4.2 -.3-4.2 -.3-4.2 -.3-4.2 -.3-3.9 -.4-4 -.3-3.9 -.3-3.9 -.3-3.9 -.3-4 -.3-3.9 -.3-3.9 -.3-4 -.3-3.9 -.3-3.9 -.3-3.9 -.3-4 -.2-3.9 -.3-3.9 -.3-4 -.4-3.9 -.3-3.9 -.5-3.9 -.6-3.8 -1.4-2.3 -.6,4 -.4,4.1 -.3,4.1 -.3,4 -.4,4.1 -.4,4.2 -.4,4.2 -.4,4.2 -.4,4.2 -.5,4.3 -.5,4.2 -.6,4.3 -.8,4.4 -.9,4.4 -1.2,4.5 -1.4,4.5 -2.6,3.7 -3.9,1.2 -2.1,3.2 -1.5,3.7 -2,3.4 -3.5,1.8 -2.9,2.6 -2.1,3.4 -2.4,3 -3.2,2.4 -3.4,.5 -3.7-1.9 -3.8-3.9 -1.9,2.6 -1.1,3.9 -.9,3.8 -1.7,3.5 -1.2,3.7 -.3,4 -.2,4 -.2,4 -.2,4 -.2,4 -.3,4 -.7,3.8 -1.5,3.7 -1.3,3.7 -.8,3.9 -.7,3.9 -.5,3.9 -.6,4 -.5,3.9 -.6,4 -.6,3.9 -.7,3.9 -.7,3.9 -.8,3.9 -1.1,3.8 -1.8,3.5 -2.8,2.5 -3.3-1.4 -2.6-1.5 -3-.7 -2.5-1.5 -1.8-2.4 -1.5-2.9 -1.6-3.7 -1.9-3.5 -2.3-3.2 -2.5-3.2 -2.8-2.8 -3.5,.3 -3.7,1.5 -3.9-.4 -3.6-1.6 -2.8-2.8 -3-.6 -2.7,3.1 -3.8,1.4 -3.9-.2 -3.6-1.4 -3.4-1.9 -3.3-2.1 -3.4-1.9 -3.8-.7 -4-.2 -3.9-.6 -3.7-1.3 -3-2.3 -2.7-2.8 -3-2.3 -3.6-1.4 -3.9-.4 -4,.5 -4,.5 -3.8-.7 -3.2-2 -3.4-1.9 -3.6-1.3 -3.9-.4 -4,.8 -3.9,.5 -3.9-.8 -3.7-1.8 -3.7,.5 -3.3,2 -3.2,2 -3.3,2 -3.6,1.5 -3.8,.9 -3.7,1.3 -3.5,1.7 -3.7,.4 -3.7-1.9 -3.4-2.3 -3.8-1.6 -3.8-1.5 -3.8-1.5 -3.8-1.6Z" fill="#FF0000" fill-opacity="0.12" stroke="none"/>
<path d="M659,827l1.9,1.4 1.9-.7 1.9-.4 1.9,1.8 2,.5 1.9,2.6 2-.3 2-.1 1.9-1.3 2,.4 1.9,1 1.9,.9 2,1.7 1.9-1.6 1.9,.7 2-.7 2,1.3 1.8,1.1 1.8-.7 1.8-.8 1.8-2.8 1.6-.1 1.3,1.1 1.2,2.7 1.2,2 1.9-1.2 2-.4 2-2.5 1.6,2.4 1.5,1.7 1.3,3 1.3,2.4 1.4-.2 1.5,1.2 1.6-.2 1.6,2.4 1.7,1.2 1.7,1.9 1.8-.4 1.9-.5 1.9,.9 1.9,.1 2,3.2 1.9,.4 2,.6 2-1 1.6-2 1.4-.7 1.3,.9 1.2,3 1.3,1 1.2,.7 1.7-.3 2,.1 1.9,2 2,.4 2,1.9 2-1.6 2-.3 1.7,.6 1.7,.9 1.6,2.9 1.6,.7 1.7,1 1.8-1 1.7,1.1 1.9,.5 1.8,2.4 2,1.6 2-.9 2,.2 2-2.2 1.9,.2 1.9,.1 1.9,1 1.8,.8 1.8-.7 1.8,.4 1.8-.2 1.9,2.9 1.9,.8 1.9,1.9 1.8,0 1.9-.7 1.8,1.5 1.7,.7 1.8,2.7 1.6,.6 1.5,1.1 1.7-1 1.7-.4 1.8,0 1.8-.5 1.5,2.6 1.4,.6 1.5,1.3 1.4,.6 1.5-1.9 1.6,.8 1.7-1.4 .8,2 .6,.8 .2,.1 .3,2.1 .4,1.6 .6,4 1.6,.6 1.7-.6 1.5-1.9 1.4-2.5 1.2-.9 1.2-1.3 .9,.1 .9-3.2 .7-2.2 .6-3.6 .6-2.5 .5-.2 .5-1.8 .6-.6 .6-3.1 .8-2.1 1.3-2 1.3,1.8 1.1,3.1 .9,1.7 .9,2 .9-.8 .8,1.9 .9,1.4 .7,2.8 .7,3.5 .6,.9 .6,2.1 .3,.6 .4,3 .2,2.4 .3,3.5 .2,1.5 .2,.4 .2,1.7 .2,.3 .2,4 .2,2.2 .3,2.7 .3,1.3 .3,1 .3,2.3 .3,2.4 .2,4 .3,1.2 .3,2.3 .3-.3 .2,1.4 .3,2.8 .2,2.2 .2,3.5 .2,.8 .3,1.8 .2,.9 .2,3.3 .2,2.8 .2,2.8 .2,2.3 .2-.5 .2,2.2 .2,.8 .2,3.4 .1,2.7 .3,1.9 .8,1.2 .5-3.3 .4-1.1 .3-1.9 .2,.4 .1-2.6 .2-2.5 .2-3 .1-3.6 .2-.4 .2-2.1 .2-.8 .2-3.1 .3-2.5 .3-2.7 .3-1.1 .5-.1 .4-2.1 .5-1 .5-4.4 .6-2.2 .6-2.1 .8-1.2 .9-.7 .9-2.6 .9-2.1 .8-3.5 .5-.5 .4-1.6 .4-.2 .4-1.7 .4-3.7 .3-2 .4-3.5 .4-.5 .5-1.7 .5-1.3 .6-3.3 1.1-2.1 .7,1.6 .3,1.9 .2,4.2 .2,2.3 .2,2.3 .2,1 .2,.2 .2,3.2 .2,1.4 .3,3.7 1,.8 .9-2.7 .5-1.9 .5-3.5 .3-.1 .3-1.1 .2-.9 .3-2.4 .2-3.2 .2-2.5 .2-2.5 .2,.1 .3-2.8 .3-1.5 .3-3.7 .3-2.9 .4-.9 .5-1.4 .4,0 .4-2.6 .3-2 .4-3.9 .3-1.3 .3-1.5 .3-1.7 .3-1.1 .3-4.3 .3-2 .2-2.9 .3-.6 .3-.8 .3-1.3 .3-2.3 .3-3.5 .3-1.5 .3-2.7 .3,.1 .2-2.5 .3-2.7 .3-2.8 .3-3.4 .3-.7 .2-1.3 .3-.2 .4-3 .3-2 .4-3.2 .5-1.8 .5-.2 1.1-2.1 1.1,2.3 .5,0 .5,.8 .4,2.1 .3,1.9 .4,4.3 .4,1.8 .3,2.3 .3,.4 .3,2.2 .3,2.1 .3,2.9 .3,3.1 .4,0 .3,1.9 .3,0 .4,2.9 .4,3 .4,2.9 .5,2.2 .8,.5 1.1,.1 1.2-1.8 .8-1.4 .7-.4 .8-2.1 .7-2.1 .7-4.3 .7-1.5 .7-2.4 .7-.2 .8-.7 .9-2.8 .9-1.6 .9-3.3 .8-.6 .8-1.3 .7-.7 .7-2.7 .7-3.1 .7-2.6 .8-2.9 .9,.5 1-2 1-.7 1.2-2.5 1.2-2.5 1.3-1 1.5-.8 1.8,1.4 1.3,1 1.2,1.5 1.1-.6 1.3,1.3 1.3,2.2 1.5,1.5 1.6,2.7 2-2.1 1.9-.4 1.5,.1 1.2,1.6 .9,3.8 .9,1.8 .9,2.4 .9-.2 .9,1.2 .9,.8 .9,3.1 .8,2.8 .9,1.4 .9,2.3 1-.5 1.4,2.6 1.8,1.2 1.7,.4 1.6-.3 1.6-2.5 1.8-1.3 1.9-1.4 1.8,1.8 1.5,1.4 1.4,2.8 1.5,1 1.4-.2 2,.7 2-.9 2,2.7 1.8,1.1 2,.2 1.5-1.9 1.4-3.2 1.1-1.5 1.2-1.8 1.1,.2 1.1-2.5 1.1-1.5 1.1-3 1.1-2 1.1,.2 1.1-1.4 1.1-.1 1.1-3.1 1.2-2.4 1.2-2.9 1.3-.9 1.7-.3 1.5,.6 1.5,1.9 1.3-.6 1.4,1.8 2-.1 2,1.4 2,1.8 2-1.1 2,.4 1.9-1.8 2,.6 1.9,.6 2,1.7 1.9,.5 1.9-.4 1.8,.6 1.8-.5 1.8,3.3 1.6,1.6 1.6,2.3 1.3,1 1.3-.1 1.3,1.3 1.6,.9 1.7,1.1 1.7-1.3 1.5-1.1 1.6-2.7 1.9-1.5 1.9,.4 1.9-.4 1.9,2 1.8-1.8 2-.5 2-.7 1.8,.1 1.9,1.9 1.8,1.1 1.8,1.6 .5,0" fill="none" stroke="#42B526" stroke-width="5.6" stroke-linejoin="round"/>
<path d="M659,816.2l2.4,2.8 2.3-1 2.4,.5 2.5-.9 2.4,4.3 2.5,.4 2.4-2.8 2.5,1.1 2.4,3.1 2.4-.1 2.4-1 2.4,.4 2.5,0 2.5,1.4 2.2-3 2.2,2.5 2.3-3.1 1.8,.6 1.5,.1 1.5,4.9 2.4-.7 2.5-1.4 2.2-2.1 1.9,2.6 1.6,4.8 1.7,2.3 1.8-.4 2-.9 2,3.2 2.1,3.8 2.3,.8 2.3-2.2 2.4,2.2 2.4,2 2.4,1.5 2.5-1.2 2.5-.1 1.7-.1 1.8-1.6 1.5,2.2 1.6,2.7 1.7,1.4 2.4,1.1 2.4,.4 2.5-.3 2.5,4.1 2.5-2.7 2.2-.9 2.1,1.9 2,3.5 2.1,1.9 2.2-2.6 2.2,1.4 2.3,1.8 2.4,3 2.5-3 2.5-.2 2.4-.6 2.4-2.3 2.4-.7 2.3,3.4 2.2-.3 2.2-.1 2.4-.7 2.3,4.6 2.4,2.1 2.3-5.3 2.3,2.4 2.2,0 2.1,3.6 1.9-4.1 2.1,.1 2.2,.3 2.2,.4 2.1-1.9 1.7-.1 1.8,2 1.9,1.7 1.9-4.5 2.1-4.8 1-.6 .5,1.4 .3,.9 .5,2.7 .7,5.9 2.5,1.9 1.8-1.1 1.8-9.3 1.5,1.1 1.4,.4 1.1,.5 .9-1.6 .8-2.4 .6-4 .7-3.8 .7-3.6 .8-4.5 1-1.7 1.9,.1 1.4,9.8 1.1,5.1 1.1,.4 1.1-1.3 1.1,4.1 .9,2.3 .8,4 .7,3 .5,3.4 .4,4.2 .4,4.8 .2,5.3 .3,1.5 .2,2 .3,.9 .3,4.7 .3,2.9 .3,2.7 .4,.9 .4,2.7 .3,4.5 .4,3.5 .3,2.7 .4-.1 .3,2.7 .3,2.1 .2,4 .3,.8 .3,1.7 .3,1.9 .2,4 .3,3.6 .2,1.6 .3,2 .2,1.6 .2,4.9 .3,2.7 1,3.6 .6-4.3 .3-1.9 .3-2 .2,.3 .2-3.6 .2-3.2 .2-4 .2-.9 .3-1.2 .3-2.5 .4-3.1 .4-3.7 .6-.8 .6-2.9 .6-2.3 .7-4.8 .8-1.6 1.2-2.6 1.1-1.3 1.1-2.1 .8-3.3 .6-2.7 .5-2.6 .5-1.3 .4-4.7 .5-3.4 .5-4.5 .6-1.1 .7-2.9 .9-2.7 1.2,0 .3,3.2 .3,3.4 .3,5.1 .2,2.9 .2,1.2 .3,2.2 .3,2.4 1.1,2.6 1-3.8 .6-4 .5-4.4 .4-.9 .3-1.9 .3-1.2 .2-5.3 .3-3.2 .3-3.2 .3-1.2 .4-2.8 .4-4 .6-2.2 .5-1 .5,1.1 .4-2.6 .4-2.8 .4-5 .4-1.7 .4-2.7 .3-2.6 .4-4.3 .4-3.7 .3-1.4 .4-1.9 .4-1.9 .3-5.6 .4-3.5 .3-4.2 .4-1.7 .3-4.2 .4-3.6 .3-3.1 .4-.9 .4,.2 .4-2.1 .5-2.1 .6-4.3 .9-.5 1.6,3.7 .6,3.1 .6-1.4 .4,.9 .5,1.1 .4,4.7 .4,3 .4,2.9 .4,2.8 .4,3.6 .4,4.7 .4,1.7 .4,2 .5,.7 .5,5.1 .6,4.6 .9,6.1 1.4-2.8 1.3-3.7 .9-2 1,.3 .9-3.3 .8-2.3 .9-2.5 .9-.8 1-1.6 1.1-2.9 1.2-2.2 1-5.4 1-2.3 .9-1.5 .8,1 .9-3.4 1-3.2 1.2-2.3 1.2-.2 1.5-3 1.5-2.9 1.7,.1 2.2,.4 1.7,3.8 1.5-.7 1.4,1.8 1.6-.1 1.9,3.9 2.1,.8 2.5-.7 2.1-1.2 1.5,3.9 1.2,3.3 1.1,3.1 1.1,2.9 1.1,.8 1.1,.3 1.1,.7 1,6.3 1.2,3.5 1.4,1.9 1.8,.2 2.3-2.1 2,1 2-.1 2.4-1.2 2.3-2.4 1.9,1.5 1.8,4.3 1.8,4 2.2-1.9 2.5-1.2 2.4,2.1 2.4,2.2 2.2-2.2 1.7-2.1 1.4-3.4 1.4-1.5 1.5-1.5 1.3-1.1 1.4-4.1 1.4-3.6 1.3,0 1.4-.8 1.4,1.2 1.5-4 1.5-4.6 2.1-2.3 1.9,2.6 1.7,3.6 1.8-.2 2.3-2 2.5,.7 2.5,2.3 2.5,1.5 2.4-1 2.5,.4 2.4,1.4 2.4-2.4 2.4,3.9 2.3,.2 2.2-.3 2.1-.5 2,3.6 1.7,4.7 1.6,2.3 1.8-.7 2.1-1.6 2.1,.3 1.8,.4 2.3-1.8 2.4-5.1 2.4,1.2 2.3-.3 2.4,1.7 2.5-1.8 2.3,1.3 2.3,2.1 2.2-.5 1,1" fill="none" stroke="#000" stroke-width="1.15" stroke-dasharray="9 2"/>
<path d="M659,837.2l2.4,1.7 2.3-2 2.4,2.8 2.5,1.1 2.4,1.4 2.5,0 2.4-.8 2.5-1.4 2.4,2.4 2.4,1.5 2.4-1.5 2.4,2.4 2.5-.2 2.5,.5 2.2,.7 2.2-.3 2.3-4.7 1.8,.6 1.5,2.2 1.5,4.2 2.4-2.8 2.5-1.3 2.2,1.6 1.9,3 1.6,2.6 1.7,1.2 1.8,3 2,.4 2,1.6 2.1-.5 2.3,4.1 2.3-2.5 2.4-1.3 2.4,3.9 2.4,2 2.5-1.5 2.5,1 1.7-1 1.8-1.6 1.5,2 1.6,2.8 1.7,1.6 2.4-2.4 2.4,1.1 2.5,1.8 2.5,.3 2.5-1.9 2.2,2.3 2.1,1 2,2.4 2.1,1 2.2,2.5 2.2-.2 2.3-1.2 2.4,6.1 2.5-.6 2.5-2.6 2.4,.4 2.4,2.1 2.4-1.9 2.3,3.6 2.2,2.3 2.2-3.1 2.4,2.9 2.3,4.7 2.4-1.4 2.3-1.4 2.3,5.4 2.2-.6 2.1,2.6 1.9,3.7 2.1,3.2 2.2-1.7 2.2-.7 2.1,6 1.7,3 1.8-1.3 1.9-.9 1.9,2.4 2.1,.9 1,.5 .5-.2 .3-.5 .5,1 .7,5.4 2.5,5.5 1.8,2 1.8-9.6 1.5,.8 1.4,.3 1.1,1.6 .9-.8 .8-3.8 .6-5.7 .7-4.1 .7-1.6 .8-2.2 1-2.6 1.9-.1 1.4,3.9 1.1-3.3 1.1,.3 1.1-2.4 1.1-.3 .9,3.6 .8,6.4 .7,1.4 .5-.1 .4,1.1 .4,2.5 .2,3.8 .3,.4 .2,1.4 .3,.5 .3,4.4 .3,2.5 .3,2.5 .4,.2 .4,1.7 .3,3.4 .4,2.9 .3,2.7 .4,.4 .3,3.6 .3,3.3 .2,5.1 .3,1.7 .3,2.4 .3,2.1 .2,3.8 .3,3.1 .2,.9 .3,1.4 .2,1 .2,4.3 .3,2.1 1,2 .6-5.4 .3-2.8 .3-2.7 .2-.3 .2-4.1 .2-3.6 .2-4.4 .2-1.2 .3-1.2 .3-2.3 .4-2.6 .4-2.9 .6-.1 .6-2.4 .6-2 .7-4.9 .8-2.5 1.2-3.8 1.1-1.7 1.1-1.1 .8-2.8 .6-2.1 .5-1.4 .5,.3 .4-3 .5-2 .5-4.1 .6-1.7 .7-4 .9-2.5 1.2,1.4 .3,3 .3,3.1 .3,4.7 .2,2.6 .2,1.2 .3,2.2 .3,3 1.1,6.3 1-2 .6-4.6 .5-5 .4-.8 .3-1.5 .3-.6 .2-4.6 .3-2.5 .3-2.5 .3-.7 .4-2.6 .4-4.1 .6-2.5 .5-.7 .5,2 .4-1.5 .4-1.8 .4-4.4 .4-1.5 .4-2.7 .3-2.8 .4-4.7 .4-3.7 .3-1.2 .4-1.5 .4-1.2 .3-4.7 .4-2.6 .3-3.2 .4-.8 .3-3.4 .4-2.9 .3-2.4 .4-.4 .4,.7 .4-1.9 .5-2 .6-4.3 .9-2.6 1.6-1.9 .6,1.9 .6-1.3 .4,1.8 .5,2.4 .4,5.7 .4,3.5 .4,2.7 .4,2.3 .4,2.8 .4,3.8 .4,.9 .4,1.4 .5,0 .5,3.7 .6,2.3 .9,1.5 1.4-2.9 1.3,.1 .9-2.4 1-.4 .9-3 .8-3.5 .9-6.1 .9-3.7 1,.3 1.1,0 1.2-2.3 1-3.7 1-1 .9-4 .8-2.9 .9-4.5 1-2.1 1.2-2.8 1.2,.5 1.5-1.3 1.5-6.3 1.7-1 2.2,.2 1.7,4.5 1.5-.7 1.4,2.2 1.6-1.2 1.9,5.8 2.1-1.5 2.5-1.1 2.1,1.8 1.5,.2 1.2,1.8 1.1,3.2 1.1,1.1 1.1,1.4 1.1,2.9 1.1,.7 1,4.6 1.2,2.2 1.4,.1 1.8,1.1 2.3,1.8 2-.3 2-1.9 2.4-.5 2.3,.5 1.9-1.5 1.8,2.5 1.8,4.1 2.2-.4 2.5-1.7 2.4,.5 2.4,4.4 2.2-1.5 1.7-2.2 1.4-3 1.4-1.2 1.5-2.4 1.3-1.6 1.4-4 1.4-2.5 1.3-.4 1.4-1.8 1.4-.4 1.5-5.8 1.5-1.4 2.1-2 1.9,3.2 1.7-.6 1.8,3.7 2.3-.3 2.5-.9 2.5,1.6 2.5,3 2.4-2.2 2.5-2.2 2.4,3 2.4-1.5 2.4,1.9 2.3,2.4 2.2-.1 2.1-.4 2,4.5 1.7,3.9 1.6,1.5 1.8-1.5 2.1-.5 2.1,0 1.8-.9 2.3-3.3 2.4-2 2.4,1.7 2.3-2.5 2.4,2.8 2.5,1.4 2.3-1.9 2.3-.4 2.2,4.1 1-.1" fill="none" stroke="#000" stroke-width="1.15" stroke-dasharray="9 2"/>
<path d="M659,965.1l1.9-1.9 1.9,1.8 1.9,1.7 1.9,0 1.9,.3 1.9-1.5 1.9,2 1.9,2.4 1.7,.3 1.7,.2 1.8,.8 1.9,1.2 1.8,2.2 1.9-1.3 1.8-2.8 1.7-.3 1.8-1.1 1.9,1 1.9-1.6 1.9-2.9 1.8-.1 1.8,0 1.6-.8 1.7-1.4 1.6-2.9 1.6-.6 1.6,1.3 1.7-1.8 1.8-.8 1.9-1.1 1.9,.8 1.8,3.2 1.9-.1 2-1.6 1.9-.8 2-.3 2,1.1 2-.1 1.9-2.3 2,1.1 1.8,1.5 1.8,1.8 1.7,1.6 1.7-1.1 1.5,2 1.7,2.6 1.8,1.2 2-.2 2-1.3 2-.8 2,2.3 2-.6 1.9-1 2-.1 1.8,.1 1.8,3.3 1.6,1 1.4-.2 1.4,1.6 1.3,2.1 1.4,2.8 1.6,1.8 1.9-1.3 1.8,.7 2,2 1.9,.3 2,.7 2-2.2 1.9,.1 1.9,2.4 1.8,.8 1.6,.6 1.6,.1 1.7,.8 1.7,3.3 1.7,1.7 1.7-.8 1.9,1.1 1.9,.2 2,1.8 1.9,.3 1.9-3.2 1.3-1.5 1.4-1.1 1.6-.2 1.4,1.8 1.4-.3 1.4,0 1.7,3 1.9,1 1.9,.3 2-.4 1.9-2 1.8,1.5 1.8,.1 1.7-.2 1.6,.6 1.2,.7 1.3,2.5 1.2,3.2 1.1,0 1.2,.1 1,2.2 .9,1.8 .9,3.7 .7,.2 .7,.4 .8,3.2 .8,2.6 1,2.8 1.2,.8 1.3,0 1.5,2.6 1.5,3 1.4,.4 1.2,1.3 1.5-.6 1.8,.6 1.7,1.1 1.1-3.1 1.1-2.5 .7-2.5 .6-1.4 .5,0 .4-2.4 .4-3.8 .3-1 .4-1.2 .3-.8 .4-2 .3-4.6 .3-.8 .3-1.2 .3-1.9 .3-2.6 .2-3.9 .3-1.7 .3,0 .3-2.6 .2-2.7 .3-2.4 .4-2 .3,.9 .5-2.8 .6-3.1 .7-1.7 1-1.5 .5-.2 .5-2.5 .2-4.3 .2-1.8 .1-1 .1-1.9 .1-1.8 .1-4.6 .1-1.2 .1-.1 .1-2.2 .1-1.9 .1-3.4 .1-1.5 .2,.2 .5-2.1 .7-3.4 1.1-1.8 .6-2.4 .5,.1 .4-2.5 .5-4.3 .6-1.4 .7-1.8 1.2,0 2,.5 1.8-1.1 1.9-.3 1.8,1.2 1.7-.6 1.7-.8 1.7-2.2 1.5-2.5 1.3,1.1 1.1-1.9 1.1-2.5 1-2.7 1.2-2.6 1.7,.9 1.8-.4 1.7-2.7 1-2.2 1-1.3 .7-.9 .8-.1 1-4 1.1-1.8 2,1.8 1.9,.9 1.6,.6 1-3.1 .8-3.6 .6-.7 .6-.9 .6-2.7 .5-2.5 .4-3.6 .4-.8 .4,0 .3-3.5 .3-2 .2-2.7 .3-.7 .2-.1 .3-3.2 .2-3.3 .2-1.5 .2-1.5 .2-1 .2-3 .2-4.4 .2-.5 .2-1.7 .2-1.4 .2-2.7 .2-3.8 .1-.4 .2-.4 .1-2.4 .2-2.5 .2-2.8 .2-1.4 .4,.5 1-.1 .4-.1 .3,2 .3,1.4 .2,3.7 .3,1.9 .2-.2 .1,1.9 .2,3.1 .2,2.7 .1,2.6 .2,.2 .1,1.8 .2,4.4 .1,1.8 .1,2.3 .2,.3 .1,1.5 .2,4.1 .1,1.8 .1,.6 .2,1.2 .1,1.6 .2,3.6 .2,2.8 .1-.4 .2,2.5 .1,2.3 .2,3.5 .1,2.9 .2-.3 .1,2.1 .2,3.2 .1,2.5 .2,1.9 .1,.4 .2,.7 .1,4.3 .2,1.7 .2,1.4 .1,1.2 .2,1.1 .1,4.6 .2,2.3 .1,.8 .2,1.7 .1,2.3 .2,3.3 .1,3.1 .2-.4 .2,1.6 .2,2.9 .1,2.1 .2,2.9 .3-.6 .2,1.5 .2,3.5 .2,2.5 .2,1.9 .3,1 .2,1.2 .3,4.4 .2,2.8 .3,.6 .4,2 .4,.9 .9,2.6 1.6,.5 .8-3.8 .8-2.8 1.1-1.8 1.1-1 1.3-.4 1.4-2.5 1.6-1.7 1.7,2.3 1.5,2.4 1.5,1.9 1.6,1.2 1.9-1.5 1.5,.5 1.2,.2 1.2-1.7 1.2-1.2 1.1,.5 .9,.9 .8,3.5 .8,2.6 .8-.4 .9,1.7 .9,1.2 .9,3.4 1,2.9 .9-.4 1,1.8 1.1,2.4 1.4,2.6 1.9,1 2-1.8 1.9-2 1.9,1.4 1.9-.3 2-.5 2-1.4 2-1.8 2,2.5 1.9,.7 2-.3 1.9-.1 1.9,0 2,1.9 1.6,.5 1.6-2.9 1.6-1.7 1.9,.1 2,.2 2,1.9 1.9-2.1 1.8-.2 1.4,2.3 1.1,2 .6,2.5 .7,.5 .5,.4 .6,3.5 .9,3.1 1.4-.1 1.7-.8 1.2-3 1.1-1.1 .8,.8 .7-3 .6-2.6 .6-2.7 .8-1.5 1-.1 1.7-1.6 1.8-3.1 2,0 1.9-.2 1.8,.3 1.9-.6 1.7-3.4 1.5-.2 1.4-.1 1.7-.5 1.7-1.2 1.5-.4 1.1,2 1,3.8 .9,1.3 .9,.6 .9,1.1 .9,1.1 .8,4.3 .9,.9 .9,.2 1.2,1.7 1.3,1.7 1.4,3.3 1.5,1.4 1.3-.4 1.3,1.9 1.3,3 1.3,1.8 1.6,1.7 1.7-1.8 1.5-1.8 1,.2 .9-2.2 .9-1.9 1-3.4 1.1-2.2 1,.3 1.1-1.1 1.2-3.1 1.6-1.3 1.6-1.3 .9,0" fill="none" stroke="#D20814" stroke-width="5.6" stroke-linejoin="round"/>
<path d="M659,950.4l2.4-2.2 2.3,3.9 2.4,3.2 2.4-1.4 2.4-2.5 2.3,2.5 2.3,1.8 2.1,1.6 2.3-1.3 2.3,1.9 2.3-1.6 2.3-.1 2.1,.2 2.3-.1 2.4-3.1 2.4-5.8 2.3,2.2 2.1-.6 2-.1 2.1-6.4 2,.7 2.1-1 2.2,2.2 2.3-2.3 2.3,.7 2.3-.8 2.5-2.1 2.4,2.5 2.5-.7 2.5,1.5 2.4-3.7 2.5,1.6 2.3,4.9 2.2,.9 2.1-1 1.9-1.3 2.2,5.3 2.3,2 2.5,1.8 2.5-2.4 2.5,.3 2.5,.6 2.4,.1 2.3,.3 2.3,2.1 1.8-.2 1.7,1 1.7,5.3 1.8,4.1 2.1,2.7 2.3-3.7 2.5,2 2.4,.9 2.5,.6 2.4-.9 2.4,.5 2.2,2 2,1.3 2.1,3.1 2.1,3.2 2.1,.9 2.3-2.2 2.3,1.1 2.5,4.1 2.4-.8 2.1-2.8 1.7-3.1 1.9,.3 1.8,2.2 1.7,.8 1.9,2.7 2.4,.4 2.4-2 2.5-.1 2.2,.7 2.3,2.4 2.1-1.3 1.8,.4 1.5,.4 1.6,5.7 1.4,.1 1.4,1.3 1.2,3.3 1.1,3.8 .9-1.2 .9,2.1 1,4.1 1.2,4.3 1.5,1.1 1.8,3.6 1.8,5.9 1.8,2.7 1.5,1.6 2.1-1.5 2.3,1.3 1.4-3.6 1.4-2.1 .7-2.8 .7-.5 .5-2.9 .4-4 .5-.8 .4-1.5 .5-2.4 .4-4.8 .4-.6 .3-2.5 .4-3.5 .3-4.9 .4-.9 .3-2.3 .3-3.5 .4-3.2 .4-.1 .5-1.8 .8-3.9 .9-2.2 1-1 .6-1.5 .4-4.8 .2-1.5 .2-1.9 .1-1.9 .1-5.4 .1-.6 .1-1.7 .1-2.3 .2-4.2 .1-1.1 .5-.8 .7-4.4 1.3-2.6 .7-2.3 .6-.5 .6-6.2 .7-2.7 .9-2.3 2-.1 2.4-2.8 2.3-.8 2.2-.9 2.1-3.7 2.2-1.6 1.9-2.8 1.6,2.2 1.4-1.8 1.2-4.5 1.5-4.2 2.2-.6 2.2-2.3 1.6-2.3 1.2-1.4 .9,0 1.1,0 1.2-5.4 2.4,2.1 2.4,1.3 1.6,1.2 1.1-3.6 .8-1.1 .8-1.3 .6-2.6 .6-3.2 .5-1.6 .5-.5 .3-3.9 .4-2.9 .3-1.6 .3-.6 .3-4.6 .2-2.7 .3-1.8 .3-1.3 .2-5 .3-2.2 .2-1.3 .3-1.8 .2-4.3 .2-2.2 .2-.3 .2-3.1 .2-3.2 .3-3 .4,.4 1.1,.4 .5,1.2 .3,2.2 .3,4.3 .3,2.6 .2,.5 .3,3.6 .2,3.6 .2,3.2 .1,0 .2,4.8 .2,2.9 .2,2.7 .1,.2 .2,4.2 .2,3.1 .2,1 .2,1.7 .2,3.3 .2,4.3 .1-.1 .2,3.6 .2,3.2 .2,4.3 .2,0 .2,3.4 .2,3.7 .2,2.5 .2,.5 .2,2.5 .2,4.1 .2,1.3 .2,1.3 .1,2.7 .2,4.5 .2,.9 .2,1.8 .2,2.9 .2,4.4 .2,.1 .2,2.1 .3,2.8 .2,3.6 .3-.1 .2,1.9 .3,3.8 .3,2.4 .3,1.3 .3,1.4 .3,5.4 .4,.8 .4,1.8 .5,.9 1.7,2.8 1.3-3.3 1-5.2 1.4-2.9 1.4-3.4 1.7-4 2-3.2 2.1,1.1 1.8,5.7 2,1.4 2.3-1.8 1.8-3.3 1.5,1.6 1.6-3 1.3,2.4 1.1,3.2 1,4.9 1-.6 1.1,2.1 1.1,1.5 1.2,4 1.2-.1 1.2,3.5 1.5,3.6 1.9,4 2.5-.2 2.4-4.2 2.4-.8 2.4,1.8 2.5,1.2 2.5-2.3 2.5,2.6 2.4-1.1 2.4,1.9 2.4-.2 2.4,.2 2-1.4 2-4.6 2.3,1.9 2.5,1.1 2.4,2.6 2.4-5.2 1.8,2.4 1.2,1.3 .9,3.3 .7,1.4 .7,3.3 1.2,4.2 2-1.6 1.7-3.3 1.4-4.6 1,.9 .8-2.7 .7-3.2 1-3.1 1.4,1.8 2.2-.9 2.4-3.2 2.4-3.4 2.3,.6 2.3-1.7 1.9-.6 1.8-1.2 2.1-.7 2-2.9 1.6,1.8 1.3,4.9 1.1,2.6 1.1,2.8 1.1,1.4 1.1,2.2 1.1,1.4 1.2,.3 1.7-.7 1.7,3.1 1.9,5.3 1.6,.3 1.6,4.7 1.6,1.5 2.1,2.3 2-3.8 1.4-1.6 1.2,1.3 1.1-3 1.3-3.6 1.4-1.5 1.3-1.8 1.6-4.5 1.9-1.9 1.8-1.7" fill="none" stroke="#000" stroke-width="1.15" stroke-dasharray="9 2"/>
<path d="M659,978.9l2.4-4.9 2.3,4.5 2.4,2.4 2.4-.1 2.4-1.8 2.3,3.8 2.3,2.5 2.1,2.5 2.3-1.9 2.3,.3 2.3,2.5 2.3-2.7 2.1-.6 2.3-1.2 2.4-1 2.4,.1 2.3,1.4 2.1-4.2 2-1.3 2.1-3.8 2,2.6 2.1-.1 2.2-4.8 2.3,.3 2.3,3.9 2.3,3.9 2.5-1.7 2.4-3.8 2.5-.2 2.5,4.1 2.4-4.5 2.5-3.2 2.3,4.7 2.2,5.6 2.1-2.4 1.9,1.8 2.2,0 2.3,3.2 2.5,.4 2.5-5.5 2.5,.7 2.5,1.8 2.4,.8 2.3-2.3 2.3,4.1 1.8-1.2 1.7,4.3 1.7,1.2 1.8,4.1 2.1-3.3 2.3-.9 2.5,5.6 2.4-.3 2.5-1.9 2.4-.8 2.4,3.7 2.2,1.2 2,0 2.1-3.2 2.1,5.1 2.1,2.1 2.3,0 2.3,.6 2.5,.2 2.4,1.1 2.1-1.4 1.7-3.6 1.9-.8 1.8-.2 1.7,1.3 1.9,2.1 2.4,2.6 2.4-.9 2.5-2.3 2.2,2.9 2.3,1.4 2.1-2.4 1.8,.8 1.5,1 1.6,5.6 1.4,.4 1.4,.8 1.2,2.6 1.1,2.9 .9-1.4 .9,2.2 1,3.6 1.2,2.5 1.5,1.6 1.8,0 1.8,3 1.8-1.3 1.5,.7 2.1-.2 2.3,2.8 1.4-4.2 1.4-3.1 .7-2.9 .7-.6 .5-3.1 .4-4.4 .5-.8 .4-1.3 .5-2.1 .4-4.6 .4-.4 .3-2.3 .4-3.3 .3-4.5 .4-.5 .3-2 .3-3.3 .4-2.9 .4,0 .5-1.7 .8-4 .9-2.8 1-.9 .6-1.9 .4-5.3 .2-1.7 .2-2.2 .1-2 .1-5.5 .1-.7 .1-1.7 .1-2.5 .2-4.1 .1-1.2 .5-.8 .7-3.9 1.3-1.6 .7-2.5 .6-.4 .6-5.4 .7-1.7 .9-1.9 2,.5 2.4-.2 2.3,2.7 2.2,3.5 2.1,.6 2.2-3.2 1.9-3.5 1.6,2.6 1.4-1.9 1.2-3.5 1.5-3.2 2.2-2.2 2.2-1.7 1.6-2.8 1.2,.1 .9-.6 1.1-2.4 1.2-4.1 2.4-1.3 2.4,1.5 1.6-.9 1.1-4.6 .8-2.1 .8-2.4 .6-4.1 .6-4.4 .5-2.3 .5-1 .3-4.4 .4-3.4 .3-2 .3-.9 .3-4.7 .2-2.9 .3-1.9 .3-1.3 .2-5.3 .3-2.4 .2-1.6 .3-1.8 .2-4.5 .2-2.2 .2-.3 .2-3 .2-3.2 .3-3 .4,.4 1.1,.3 .5,1 .3,1.9 .3,3.9 .3,2 .2,.2 .3,3.3 .2,3.3 .2,3 .1-.1 .2,4.8 .2,2.8 .2,2.6 .1,.1 .2,4.2 .2,3 .2,.8 .2,1.6 .2,3.1 .2,4.2 .1-.3 .2,3.4 .2,3.1 .2,4.2 .2-.2 .2,3.2 .2,3.5 .2,2.5 .2,.4 .2,2.4 .2,4.2 .2,1.4 .2,1.4 .1,2.9 .2,5 .2,1.4 .2,2.3 .2,3.4 .2,4.8 .2,.6 .2,2.4 .3,3.1 .2,3.9 .3,.3 .2,2.3 .3,4.3 .3,3 .3,1.9 .3,2.1 .3,6.1 .4,1.7 .4,2.6 .5,1.6 1.7,2.4 1.3-1.4 1-4.3 1.4-1.1 1.4,1.4 1.7,.4 2-.9 2.1,1.1 1.8,3.2 2,4.4 2.3,.4 1.8-.6 1.5-2.2 1.6-3.4 1.3,1.1 1.1,1 1,5.7 1,1.9 1.1,.5 1.1,.6 1.2,4.4 1.2-1.1 1.2,.5 1.5,4.3 1.9,3.6 2.5,.9 2.4-4.2 2.4-.6 2.4,.6 2.5,.6 2.5-5.8 2.5,.7 2.4,2.6 2.4,1.3 2.4-1.5 2.4,1.8 2,.3 2-1.8 2.3,.5 2.5-3.1 2.4,1.4 2.4,.4 1.8,2.2 1.2,3.4 .9,2.6 .7-1.1 .7,1.9 1.2,4.8 2-.4 1.7,.7 1.4-2.5 1-.1 .8-3.7 .7-3.1 1-4.3 1.4-1.8 2.2-1.2 2.4,.2 2.4-1.5 2.3-.9 2.3,.1 1.9-2.4 1.8,3.6 2.1-3.5 2-.7 1.6-2 1.3,6.2 1.1,3.3 1.1,.6 1.1,2.7 1.1,2.4 1.1,.5 1.2,.3 1.7,.7 1.7,4.9 1.9,4.5 1.6,.8 1.6,1.9 1.6,.6 2.1,1.8 2-.9 1.4-1.9 1.2-1.7 1.1-1.9 1.3-6 1.4-4.3 1.3,1.5 1.6-3.9 1.9,1.9 1.8-2.3" fill="none" stroke="#000" stroke-width="1.15" stroke-dasharray="9 2"/>
<path d="M659.2,921.1l1.4,1.4 1.8,2 2.2,2.3 2.4,2.4 2.5,2.6 2.4,2.4 2.1,2 2.1,2.1 2.2,2.1 2.2,2.2 2.3,2.1 2.3,1.9 2.3,1.9 2.7,1.9 2.8,1.8 2.7,1.6 2.9,1.6 2.8,1.7 2.8,1.7 2.8,1.9 2.9,2 2.8,2 2.9,2 2.8,1.9 2.7,1.8 2.6,1.7 2.6,1.5 2.5,1.5 2.5,1.5 2.6,1.4 2.8,1.5 2.9,1.5 3,1.6 3.2,1.5 3.1,1.5 3,1.5 2.9,1.5 3.2,1.6 2.9,1.6 2.9,1.5 3,1.4 3.3,1.5 3.1,1.1 3.2,1.2 3.4,1.1 3.4,1.1 3.3,1 3.2,1 3.4,1.1 3.3,1.1 3.2,1.1 3.2,.9 3.6,.9 3.3,.6 3.4,.5 3.6,.5 3.6,.4 3.5,.4 3.3,.3 3.2,.3 2.9,.3 3,.3 2.9,.2 3,0 3.1-.2 2.9-.3 3-.4 3.2-.6 3.1-.6 3.1-.8 2.8-.9 2.6-1.1 2.9-1.6 2.4-1.8 2.2-2 2.4-2.7 3.2-3.5 1.6-1.8 1.8-2 1.8-2.1 2-2.3 2-2.4 2.1-2.4 2.1-2.6 2.1-2.6 2.2-2.6 2.1-2.6 2.1-2.6 2-2.5 1.9-2.3 1.9-2.4 2-2.5 2-2.6 2-2.5 2-2.6 2-2.5 1.9-2.5 1.9-2.4 1.7-2.3 1.7-2.3 1.5-2.1 1.4-2 2.3-3.8 1.8-3.4 1.3-3 1.2-2.7 1.3-2.6 1.6-2.6 2-2.5 2.2-2.2 2.2-2.1 2.3-2 2.4-2.1 2.3-2.1 2.3-2.4 2.4-2.4 2.4-2.4 2.4-2.4 2.4-2.4 2.4-2.2 2.4-2.1 2.4-2 2.3-2 2.4-1.9 2.4-1.9 2.4-1.7 3.1-2 3.2-2 3.2-1.8 3.1-1.6 2.7-1.3 3.8-1.6 3.2-1 3.5-.3 3.2,.2 3.4,.4 3.5,.9 3.3,1.4 2.5,1.6 2.4,1.9 2.5,2.2 2.4,2.2 2.6,2.3 2.3,1.8 2.3,2 2.3,2 2.5,2 2.4,2 2.5,1.8 2.6,1.6 2.7,1.4 2.7,1.4 2.8,1.4 2.8,1.5 2.7,1.7 2.7,2 2.8,2.1 2.8,2.3 2.7,2.2 2.7,2.2 2.5,1.9 3.1,2.2 3.1,2.1 3,2 2.4,1.6 1.8,1.2" fill="none" stroke="#FFC000" stroke-width="4.4" stroke-dasharray="19.2 19.2"/>
<path d="M659.2,969.7l1.6,0 1.9,0 2,0 2.3,0 2.4,0 2.7,0 2.8,.1 2.9,0 3.1,0 3.2,0 3.3,0 3.4,0 3.4,0 3.6,.1 3.6,0 3.6,0 3.7,0 3.7,0 3.7,0 3.6,0 3.7,0 3.6,0 3.6,0 3.4,0 3.5,0 3.3,0 3.2,0 3.1,0 2.9,0 2.9,0 2.6-.1 2.5,0 2.3,0 2.1-.1 1.9,0 8.2-.3 4.7-.5 2.3-.5 1-.6 1-.7 1.9-.7 3-.8 2.7-.8 2.6-.9 2.7-1.1 3.3-1.4 2.4-1.1 2.7-1.3 2.8-1.4 3-1.4 2.9-1.5 2.9-1.4 2.8-1.3 2.5-1.1 3.6-1.6 3.2-1.3 3.1-1.2 3.1-1.2 3.2-1.3 2.9-1.1 3-1.2 3-1.1 3-1.3 2.8-1.3 2.5-1.6 2.7-2.1 2.3-2.2 2.2-2.5 2.1-2.6 2.2-2.9 1.8-2.5 1.8-2.5 1.9-2.7 1.8-2.9 2-3.2 2.1-3.6 1.4-2.3 1.4-2.5 1.5-2.5 1.5-2.6 1.5-2.8 1.6-2.8 1.6-3 1.6-3.1 1.6-3.3 1.6-3.4 1.2-2.5 1.2-2.7 1.2-2.7 1.2-2.9 1.3-2.9 1.3-3 1.2-3 1.3-3 1.2-3.1 1.3-3.1 1.2-3.2 1.2-3.1 1.2-3.1 1.2-3 1.1-2.9 1.1-3 1.1-3.2 1.1-3.2 1.1-3.2 1-3.2 1.1-3.2 1.1-3.2 1-3.1 1-3 1-2.9 .9-2.7 1-2.6 .8-2.4 .9-2.1 2-4.4 1.8-3.4 1.6-2.7 1.5-2.1 1.4-1.7 1.2-1.6 2.7-2.9 2.1-.7 2.5,0 2.3,1.8 1.1,1.9 1,2.9 1.7,5 .8,2 .9,2.2 1,2.5 1,2.6 1.2,2.8 1.1,3 1.2,3.1 1.1,3.2 1.1,3.4 1.1,3.4 .8,2.6 .7,2.7 .8,2.8 .7,2.9 .8,2.9 .7,3.1 .8,3.1 .7,3.1 .8,3.1 .7,3.1 .8,3.2 .7,3.1 .8,3 .7,3 .8,3 .7,3 .8,3.1 .7,3.1 .8,3 .7,3.1 .8,3.1 .7,3 .8,3 .7,2.9 .8,2.9 .7,2.8 .8,2.7 .7,2.6 1.1,3.6 1.1,3.4 1,3.4 1.1,3.2 1.1,3.1 1,3 1.1,3 1,2.8 1,2.7 1,2.7 1.5,3.6 1.4,3.6 1.5,3.4 1.4,3.1 1.3,2.9 1.3,2.4 1.2,2 3.5,2.7 3.2,.2 3.1,0 3.6,0 2.9,.6 3.4,1 4.2,1.3 2.6,.8 2.9,.9 3.1,.9 3.2,1 3.2,1 3.1,1 3,.9 3,.9 3,.9 3,.9 3,.8 3.2,.9 3.3,.8 3.5,.8 3.6,.8 3.5,.8 3.3,.6 2.8,.5 4.9,.4 3.9,0 2.7,0" fill="none" stroke="#0062FF" stroke-width="4.4" stroke-dasharray="19.2 19.2"/>
</g>
<line x1="659.2" y1="752.2" x2="1090.0" y2="752.2" stroke="#262626" stroke-width="3.4"/>
<line x1="659.2" y1="1042.2" x2="1090.0" y2="1042.2" stroke="#262626" stroke-width="3.4"/>
<line x1="754.7" y1="752.2" x2="754.7" y2="757.7" stroke="#262626" stroke-width="3.4"/>
<line x1="754.7" y1="1042.2" x2="754.7" y2="1036.7" stroke="#262626" stroke-width="3.4"/>
<line x1="850.2" y1="752.2" x2="850.2" y2="757.7" stroke="#262626" stroke-width="3.4"/>
<line x1="850.2" y1="1042.2" x2="850.2" y2="1036.7" stroke="#262626" stroke-width="3.4"/>
<line x1="945.8" y1="752.2" x2="945.8" y2="757.7" stroke="#262626" stroke-width="3.4"/>
<line x1="945.8" y1="1042.2" x2="945.8" y2="1036.7" stroke="#262626" stroke-width="3.4"/>
<line x1="1041.3" y1="752.2" x2="1041.3" y2="757.7" stroke="#262626" stroke-width="3.4"/>
<line x1="1041.3" y1="1042.2" x2="1041.3" y2="1036.7" stroke="#262626" stroke-width="3.4"/>
<line x1="659.2" y1="750.5" x2="659.2" y2="1043.9" stroke="#C00010" stroke-width="3.4"/>
<line x1="659.2" y1="1042.2" x2="664.7" y2="1042.2" stroke="#C00010" stroke-width="3.4"/>
<line x1="659.2" y1="969.7" x2="664.7" y2="969.7" stroke="#C00010" stroke-width="3.4"/>
<line x1="659.2" y1="897.2" x2="664.7" y2="897.2" stroke="#C00010" stroke-width="3.4"/>
<line x1="659.2" y1="824.7" x2="664.7" y2="824.7" stroke="#C00010" stroke-width="3.4"/>
<line x1="659.2" y1="752.2" x2="664.7" y2="752.2" stroke="#C00010" stroke-width="3.4"/>
<line x1="1090.0" y1="750.5" x2="1090.0" y2="1043.9" stroke="#0062FF" stroke-width="3.4"/>
<line x1="1090.0" y1="1042.2" x2="1084.5" y2="1042.2" stroke="#0062FF" stroke-width="3.4"/>
<line x1="1090.0" y1="969.7" x2="1084.5" y2="969.7" stroke="#0062FF" stroke-width="3.4"/>
<line x1="1090.0" y1="897.2" x2="1084.5" y2="897.2" stroke="#0062FF" stroke-width="3.4"/>
<line x1="1090.0" y1="824.7" x2="1084.5" y2="824.7" stroke="#0062FF" stroke-width="3.4"/>
<line x1="1090.0" y1="752.2" x2="1084.5" y2="752.2" stroke="#0062FF" stroke-width="3.4"/>
<text x="627.48" y="1052.70" font-family="'Liberation Serif', 'DejaVu Serif', serif" font-size="46" fill="#C00010" textLength="22.43" lengthAdjust="spacingAndGlyphs">0</text>
<text x="605.06" y="980.20" font-family="'Liberation Serif', 'DejaVu Serif', serif" font-size="46" fill="#C00010" textLength="44.85" lengthAdjust="spacingAndGlyphs">20</text>
<text x="605.06" y="907.70" font-family="'Liberation Serif', 'DejaVu Serif', serif" font-size="46" fill="#C00010" textLength="44.85" lengthAdjust="spacingAndGlyphs">40</text>
<text x="605.06" y="835.20" font-family="'Liberation Serif', 'DejaVu Serif', serif" font-size="46" fill="#C00010" textLength="44.85" lengthAdjust="spacingAndGlyphs">60</text>
<text x="605.06" y="762.70" font-family="'Liberation Serif', 'DejaVu Serif', serif" font-size="46" fill="#C00010" textLength="44.85" lengthAdjust="spacingAndGlyphs">80</text>
<text x="1626.08" y="347.00" font-family="'Liberation Serif', 'DejaVu Serif', serif" font-size="46" fill="#0062FF" textLength="60.40" lengthAdjust="spacingAndGlyphs">-20</text>
<text x="1627.38" y="274.50" font-family="'Liberation Serif', 'DejaVu Serif', serif" font-size="46" fill="#0062FF" textLength="22.66" lengthAdjust="spacingAndGlyphs">0</text>
<text x="1627.13" y="202.00" font-family="'Liberation Serif', 'DejaVu Serif', serif" font-size="46" fill="#0062FF" textLength="45.31" lengthAdjust="spacingAndGlyphs">20</text>
<text x="1628.12" y="129.50" font-family="'Liberation Serif', 'DejaVu Serif', serif" font-size="46" fill="#0062FF" textLength="45.31" lengthAdjust="spacingAndGlyphs">40</text>
<text x="1627.13" y="57.00" font-family="'Liberation Serif', 'DejaVu Serif', serif" font-size="46" fill="#0062FF" textLength="45.31" lengthAdjust="spacingAndGlyphs">60</text>
<text x="1626.08" y="702.20" font-family="'Liberation Serif', 'DejaVu Serif', serif" font-size="46" fill="#0062FF" textLength="60.40" lengthAdjust="spacingAndGlyphs">-20</text>
<text x="1627.38" y="629.70" font-family="'Liberation Serif', 'DejaVu Serif', serif" font-size="46" fill="#0062FF" textLength="22.66" lengthAdjust="spacingAndGlyphs">0</text>
<text x="1627.13" y="557.20" font-family="'Liberation Serif', 'DejaVu Serif', serif" font-size="46" fill="#0062FF" textLength="45.31" lengthAdjust="spacingAndGlyphs">20</text>
<text x="1628.12" y="484.70" font-family="'Liberation Serif', 'DejaVu Serif', serif" font-size="46" fill="#0062FF" textLength="45.31" lengthAdjust="spacingAndGlyphs">40</text>
<text x="1627.13" y="412.20" font-family="'Liberation Serif', 'DejaVu Serif', serif" font-size="46" fill="#0062FF" textLength="45.31" lengthAdjust="spacingAndGlyphs">60</text>
<text x="1103.98" y="1051.70" font-family="'Liberation Serif', 'DejaVu Serif', serif" font-size="46" fill="#0062FF" textLength="60.40" lengthAdjust="spacingAndGlyphs">-20</text>
<text x="1105.28" y="979.20" font-family="'Liberation Serif', 'DejaVu Serif', serif" font-size="46" fill="#0062FF" textLength="22.66" lengthAdjust="spacingAndGlyphs">0</text>
<text x="1105.03" y="906.70" font-family="'Liberation Serif', 'DejaVu Serif', serif" font-size="46" fill="#0062FF" textLength="45.31" lengthAdjust="spacingAndGlyphs">20</text>
<text x="1106.02" y="834.20" font-family="'Liberation Serif', 'DejaVu Serif', serif" font-size="46" fill="#0062FF" textLength="45.31" lengthAdjust="spacingAndGlyphs">40</text>
<text x="1105.03" y="761.70" font-family="'Liberation Serif', 'DejaVu Serif', serif" font-size="46" fill="#0062FF" textLength="45.31" lengthAdjust="spacingAndGlyphs">60</text>
<text x="1177.80" y="730.50" font-family="'Liberation Serif', 'DejaVu Serif', serif" font-size="46" fill="#262626" textLength="23.00" lengthAdjust="spacingAndGlyphs">0</text>
<text x="1261.50" y="730.50" font-family="'Liberation Serif', 'DejaVu Serif', serif" font-size="46" fill="#262626" textLength="23.00" lengthAdjust="spacingAndGlyphs">1</text>
<text x="1357.19" y="730.50" font-family="'Liberation Serif', 'DejaVu Serif', serif" font-size="46" fill="#262626" textLength="23.00" lengthAdjust="spacingAndGlyphs">2</text>
<text x="1452.71" y="730.50" font-family="'Liberation Serif', 'DejaVu Serif', serif" font-size="46" fill="#262626" textLength="23.00" lengthAdjust="spacingAndGlyphs">3</text>
<text x="1548.36" y="730.50" font-family="'Liberation Serif', 'DejaVu Serif', serif" font-size="46" fill="#262626" textLength="23.00" lengthAdjust="spacingAndGlyphs">4</text>
<text x="1257.52" y="779.40" font-family="'Liberation Serif', 'DejaVu Serif', serif" font-size="48" fill="#262626" textLength="321.09" lengthAdjust="spacingAndGlyphs">Segment time [s]</text>
<text x="111.90" y="1081.30" font-family="'Liberation Serif', 'DejaVu Serif', serif" font-size="46" fill="#262626" textLength="23.00" lengthAdjust="spacingAndGlyphs">0</text>
<text x="205.60" y="1081.30" font-family="'Liberation Serif', 'DejaVu Serif', serif" font-size="46" fill="#262626" textLength="23.00" lengthAdjust="spacingAndGlyphs">1</text>
<text x="302.39" y="1081.30" font-family="'Liberation Serif', 'DejaVu Serif', serif" font-size="46" fill="#262626" textLength="23.00" lengthAdjust="spacingAndGlyphs">2</text>
<text x="397.41" y="1081.30" font-family="'Liberation Serif', 'DejaVu Serif', serif" font-size="46" fill="#262626" textLength="23.00" lengthAdjust="spacingAndGlyphs">3</text>
<text x="492.96" y="1081.30" font-family="'Liberation Serif', 'DejaVu Serif', serif" font-size="46" fill="#262626" textLength="23.00" lengthAdjust="spacingAndGlyphs">4</text>
<text x="201.62" y="1123.50" font-family="'Liberation Serif', 'DejaVu Serif', serif" font-size="48" fill="#262626" textLength="321.19" lengthAdjust="spacingAndGlyphs">Segment time [s]</text>
<text x="646.80" y="1081.10" font-family="'Liberation Serif', 'DejaVu Serif', serif" font-size="46" fill="#262626" textLength="23.00" lengthAdjust="spacingAndGlyphs">0</text>
<text x="741.90" y="1081.10" font-family="'Liberation Serif', 'DejaVu Serif', serif" font-size="46" fill="#262626" textLength="23.00" lengthAdjust="spacingAndGlyphs">1</text>
<text x="838.49" y="1081.10" font-family="'Liberation Serif', 'DejaVu Serif', serif" font-size="46" fill="#262626" textLength="23.00" lengthAdjust="spacingAndGlyphs">2</text>
<text x="933.61" y="1081.10" font-family="'Liberation Serif', 'DejaVu Serif', serif" font-size="46" fill="#262626" textLength="23.00" lengthAdjust="spacingAndGlyphs">3</text>
<text x="1029.36" y="1081.10" font-family="'Liberation Serif', 'DejaVu Serif', serif" font-size="46" fill="#262626" textLength="23.00" lengthAdjust="spacingAndGlyphs">4</text>
<text x="737.82" y="1122.70" font-family="'Liberation Serif', 'DejaVu Serif', serif" font-size="48" fill="#262626" textLength="320.79" lengthAdjust="spacingAndGlyphs">Segment time [s]</text>
<text x="266.46" y="31.20" font-family="'Liberation Serif', 'DejaVu Serif', serif" font-size="44" fill="#000" textLength="111.96" lengthAdjust="spacingAndGlyphs">Cell 1</text>
<text x="815.54" y="31.00" font-family="'Liberation Serif', 'DejaVu Serif', serif" font-size="44" fill="#000" textLength="113.04" lengthAdjust="spacingAndGlyphs">Cell 2</text>
<text x="1365.14" y="31.00" font-family="'Liberation Serif', 'DejaVu Serif', serif" font-size="44" fill="#000" textLength="112.90" lengthAdjust="spacingAndGlyphs">Cell 3</text>
<text x="266.44" y="386.70" font-family="'Liberation Serif', 'DejaVu Serif', serif" font-size="44" fill="#000" textLength="112.73" lengthAdjust="spacingAndGlyphs">Cell 4</text>
<text x="815.55" y="386.70" font-family="'Liberation Serif', 'DejaVu Serif', serif" font-size="44" fill="#000" textLength="112.49" lengthAdjust="spacingAndGlyphs">Cell 5</text>
<text x="1365.15" y="386.70" font-family="'Liberation Serif', 'DejaVu Serif', serif" font-size="44" fill="#000" textLength="112.35" lengthAdjust="spacingAndGlyphs">Cell 6</text>
<text x="274.63" y="739.80" font-family="'Liberation Serif', 'DejaVu Serif', serif" font-size="44" fill="#000" textLength="113.79" lengthAdjust="spacingAndGlyphs">Cell 7</text>
<text x="823.85" y="739.80" font-family="'Liberation Serif', 'DejaVu Serif', serif" font-size="44" fill="#000" textLength="112.63" lengthAdjust="spacingAndGlyphs">Cell 8</text>
<text transform="translate(33.3,255.1) rotate(-90)" x="-1.22" y="0.00" font-family="'Liberation Serif', 'DejaVu Serif', serif" font-size="46" fill="#C00010" textLength="175.58" lengthAdjust="spacingAndGlyphs">Force [N]</text>
<text transform="translate(33.3,610.3) rotate(-90)" x="-1.22" y="0.00" font-family="'Liberation Serif', 'DejaVu Serif', serif" font-size="46" fill="#C00010" textLength="175.58" lengthAdjust="spacingAndGlyphs">Force [N]</text>
<text transform="translate(33.3,965.3) rotate(-90)" x="-1.22" y="0.00" font-family="'Liberation Serif', 'DejaVu Serif', serif" font-size="46" fill="#C00010" textLength="175.58" lengthAdjust="spacingAndGlyphs">Force [N]</text>
<text transform="translate(1714.4,235.4) rotate(-90)" x="-3.19" y="0.00" font-family="'Liberation Serif', 'DejaVu Serif', serif" font-size="45.5" fill="#0062FF" textLength="87.56" lengthAdjust="spacingAndGlyphs">[deg]</text>
<text transform="translate(1714.4,590.6) rotate(-90)" x="-3.19" y="0.00" font-family="'Liberation Serif', 'DejaVu Serif', serif" font-size="45.5" fill="#0062FF" textLength="87.56" lengthAdjust="spacingAndGlyphs">[deg]</text>
<text transform="translate(1184.6,934.1) rotate(-90)" x="-3.25" y="0.00" font-family="'Liberation Serif', 'DejaVu Serif', serif" font-size="45.5" fill="#0062FF" textLength="89.06" lengthAdjust="spacingAndGlyphs">[deg]</text>
<rect x="1260.6" y="810.6" width="386.2" height="282.0" fill="#fff" stroke="#000" stroke-width="2.7"/>
<line x1="1272.2" y1="841.0" x2="1353.8" y2="841.0" stroke="#41A036" stroke-width="15.8"/>
<text x="1369.49" y="856.50" font-family="'Liberation Serif', 'DejaVu Serif', serif" font-size="46" fill="#000" textLength="206.26" lengthAdjust="spacingAndGlyphs">Aligned IF</text>
<line x1="1272.2" y1="895.4" x2="1353.8" y2="895.4" stroke="#B40F1E" stroke-width="15.8"/>
<text x="1368.72" y="909.30" font-family="'Liberation Serif', 'DejaVu Serif', serif" font-size="46" fill="#000" textLength="266.56" lengthAdjust="spacingAndGlyphs">Misaligned IF</text>
<line x1="1272.2" y1="949.8" x2="1353.8" y2="949.8" stroke="#FFDEDE" stroke-width="15.8"/>
<text x="1368.67" y="964.90" font-family="'Liberation Serif', 'DejaVu Serif', serif" font-size="46" fill="#000" textLength="260.32" lengthAdjust="spacingAndGlyphs">Force st. dev.</text>
<line x1="1272.2" y1="1004.0" x2="1353.8" y2="1004.0" stroke="#2E62F0" stroke-width="15.8" stroke-dasharray="27.4 27.0"/>
<text x="1368.72" y="1013.90" font-family="'Liberation Serif', 'DejaVu Serif', serif" font-size="46" fill="#000" textLength="213.70" lengthAdjust="spacingAndGlyphs">Knee angle</text>
<line x1="1272.2" y1="1058.6" x2="1353.8" y2="1058.6" stroke="#F8B53C" stroke-width="15.8" stroke-dasharray="27.4 27.0"/>
<text x="1368.71" y="1065.90" font-family="'Liberation Serif', 'DejaVu Serif', serif" font-size="46" fill="#000" textLength="185.86" lengthAdjust="spacingAndGlyphs">Hip angle</text>
</svg>
</body></html>
